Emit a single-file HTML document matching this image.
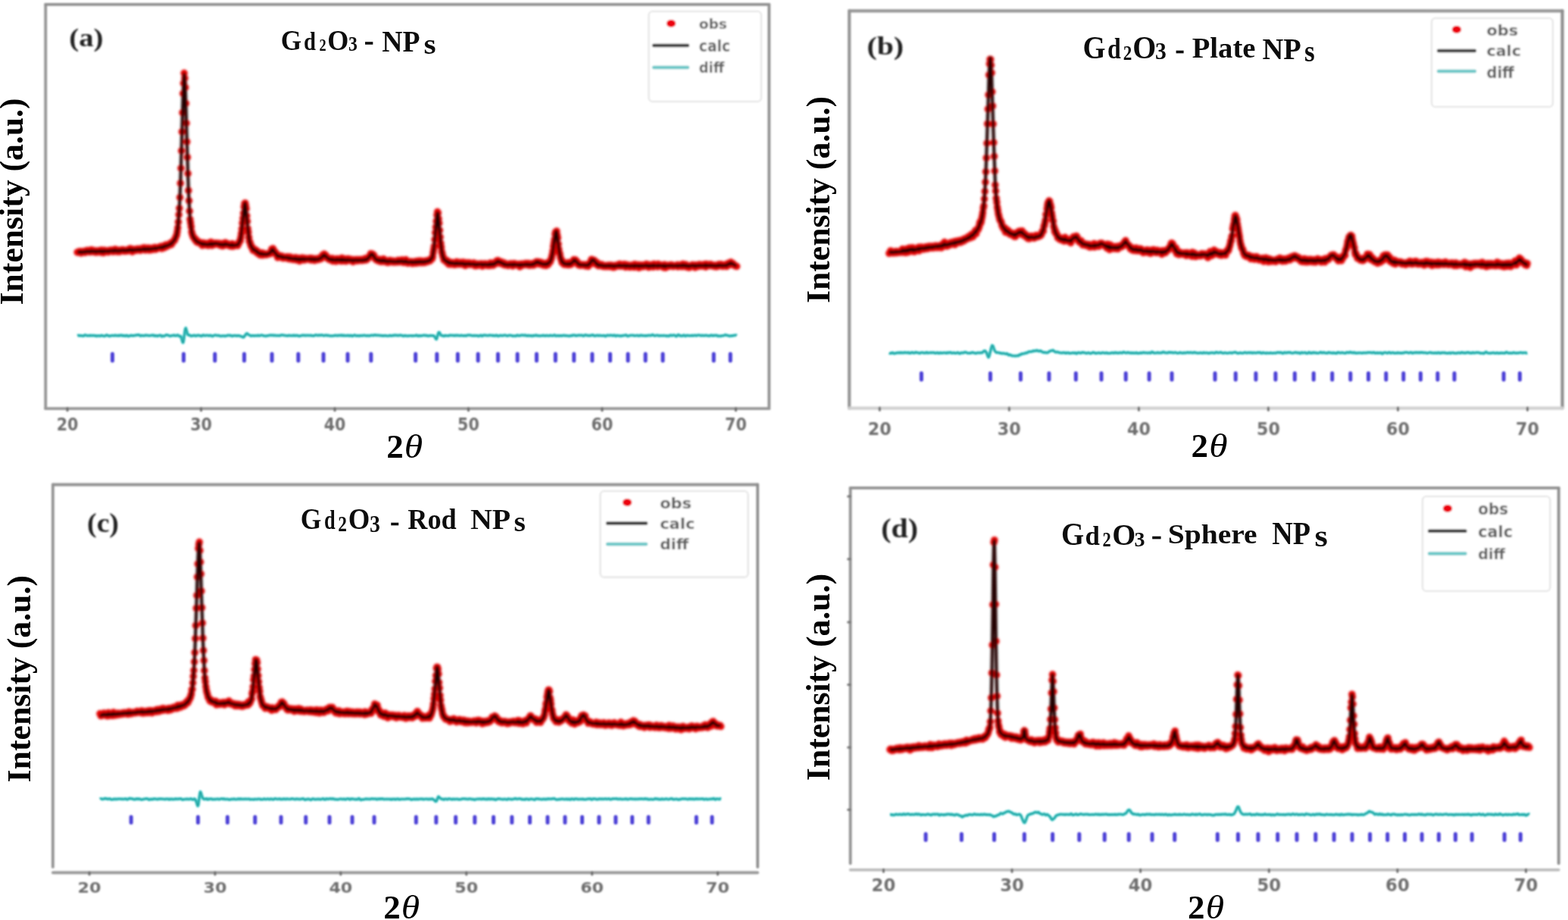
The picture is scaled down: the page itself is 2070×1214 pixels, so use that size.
<!DOCTYPE html>
<html><head><meta charset="utf-8"><title>Gd2O3 XRD Rietveld refinement</title>
<style>
html,body{margin:0;padding:0;background:#fff;}
body{width:2070px;height:1214px;overflow:hidden;}
svg{display:block;}
.tl{font-family:"DejaVu Sans","Liberation Sans",sans-serif;fill:#6e6e6e;font-weight:bold;}
.lg{font-family:"DejaVu Sans","Liberation Sans",sans-serif;fill:#606060;font-weight:bold;}
.ti{font-family:"Liberation Serif",serif;font-weight:bold;fill:#111;}
.lt{font-family:"Liberation Serif",serif;font-weight:bold;fill:#222;}
.yl{font-family:"Liberation Serif",serif;font-weight:bold;fill:#000;}
.xl{font-family:"Liberation Serif",serif;fill:#000;}
</style></head>
<body>
<svg width="2070" height="1214" viewBox="0 0 2070 1214">
<defs>
<filter id="bl" x="-2%" y="-2%" width="104%" height="104%"><feGaussianBlur stdDeviation="1.3"/></filter>
<filter id="bl2" x="-2%" y="-10%" width="104%" height="120%"><feGaussianBlur stdDeviation="0.75"/></filter>
<filter id="bl4" x="-2%" y="-5%" width="104%" height="110%"><feGaussianBlur stdDeviation="0.8"/></filter>
<filter id="bl3" x="-10%" y="-10%" width="120%" height="120%"><feGaussianBlur stdDeviation="0.9"/></filter>
</defs>
<rect width="2070" height="1214" fill="#fff"/>
<g id="pa" filter="url(#bl)"><g fill="none" stroke-width="3.8" stroke-linecap="round" stroke-linejoin="round">
<path d="M60.2 539.2V5.8" stroke="#959595"/>
<path d="M60.2 5.8H1015.3" stroke="#909090"/>
<path d="M1015.3 5.8V539.2" stroke="#929292"/>
<path d="M60.2 539.2H1015.3" stroke="#979797"/>
</g>
<path d="M89 538.7v3M265.5 538.7v3M442 538.7v3M618.4 538.7v3M794.9 538.7v3M971.4 538.7v3" stroke="#6e6e6e" stroke-width="3.2" stroke-linecap="round" fill="none"/>
<g class="tl" text-anchor="middle" font-size="23.8"><text transform="translate(89.0 567.9) scale(0.865 1)">20</text><text transform="translate(265.5 567.9) scale(0.865 1)">30</text><text transform="translate(442.0 567.9) scale(0.865 1)">40</text><text transform="translate(618.4 567.9) scale(0.865 1)">50</text><text transform="translate(794.9 567.9) scale(0.865 1)">60</text><text transform="translate(971.4 567.9) scale(0.865 1)">70</text></g>
<g filter="url(#bl4)">
<path d="M102.1 332.9h0M102.8 333.1h0M103.5 332.5h0M104.2 331.9h0M104.9 332.3h0M105.6 331.7h0M106.3 332.8h0M107 334h0M107.7 332.2h0M108.4 332h0M109.1 333.1h0M109.8 332.9h0M110.5 332.6h0M111.2 331.6h0M111.9 332.5h0M112.6 333.2h0M113.3 331.1h0M114 332h0M114.8 330.5h0M115.5 331.1h0M116.2 330.5h0M116.9 332.1h0M117.6 331h0M118.3 332.5h0M119 332.4h0M119.7 332h0M120.4 329.7h0M121.1 331.6h0M121.8 332.1h0M122.5 332.2h0M123.2 330.5h0M123.9 331.6h0M124.6 331h0M125.3 331.2h0M126 333h0M126.7 331.1h0M127.5 331.9h0M128.2 332.8h0M128.9 331.3h0M129.6 331.7h0M130.3 331.9h0M131 331.8h0M131.7 330.5h0M132.4 331.8h0M133.1 333h0M133.8 330.1h0M134.5 332.5h0M135.2 331.7h0M135.9 330.9h0M136.6 333.6h0M137.3 332.3h0M138 330.3h0M138.7 331.5h0M139.4 332h0M140.1 331.2h0M140.9 332.1h0M141.6 331.3h0M142.3 332h0M143 332.7h0M143.7 330.6h0M144.4 331.5h0M145.1 330.8h0M145.8 331.3h0M146.5 330h0M147.2 330.6h0M147.9 330.9h0M148.6 332h0M149.3 332.2h0M150 329.7h0M150.7 330.2h0M151.4 331.6h0M152.1 328.9h0M152.8 330.4h0M153.6 330.8h0M154.3 332.1h0M155 331.5h0M155.7 330.5h0M156.4 330.4h0M157.1 330.5h0M157.8 332.2h0M158.5 330.2h0M159.2 330.3h0M159.9 331h0M160.6 330.5h0M161.3 330.4h0M162 329.4h0M162.7 330.5h0M163.4 330h0M164.1 331.6h0M164.8 331.1h0M165.5 330.3h0M166.3 331h0M167 330h0M167.7 331.3h0M168.4 330.2h0M169.1 330.8h0M169.8 328.9h0M170.5 330.5h0M171.2 328.4h0M171.9 328h0M172.6 329.7h0M173.3 329.1h0M174 330.2h0M174.7 332.2h0M175.4 329.1h0M176.1 329.3h0M176.8 330.1h0M177.5 330.3h0M178.2 329.6h0M179 329.5h0M179.7 330.4h0M180.4 330.2h0M181.1 328.6h0M181.8 329.5h0M182.5 329.6h0M183.2 328.5h0M183.9 329.8h0M184.6 328.6h0M185.3 330.4h0M186 329.6h0M186.7 329.4h0M187.4 328.7h0M188.1 329.1h0M188.8 327.2h0M189.5 328h0M190.2 329.5h0M190.9 326.9h0M191.6 329.9h0M192.4 327.2h0M193.1 329.7h0M193.8 328h0M194.5 329.6h0M195.2 328.9h0M195.9 327.2h0M196.6 330h0M197.3 330.1h0M198 328.5h0M198.7 328.3h0M199.4 328.3h0M200.1 327.4h0M200.8 329.4h0M201.5 327.7h0M202.2 328.1h0M202.9 327.3h0M203.6 327.4h0M204.3 326.6h0M205.1 329.1h0M205.8 327.5h0M206.5 328.6h0M207.2 327.5h0M207.9 326.7h0M208.6 326.9h0M209.3 326.6h0M210 327h0M210.7 326.5h0M211.4 326.5h0M212.1 325.2h0M212.8 325.7h0M213.5 328h0M214.2 325.5h0M214.9 325h0M215.6 326.2h0M216.3 327.1h0M217 324h0M217.8 325.1h0M218.5 324.4h0M219.2 323.1h0M219.9 325.4h0M220.6 324.3h0M221.3 324.1h0M222 323h0M222.7 323.9h0M223.4 322.5h0M224.1 322.6h0M224.8 321.1h0M225.5 320.6h0M226.2 322.7h0M226.9 320.2h0M227.6 320.4h0M228.3 319.3h0M229 318.1h0M229.7 317.1h0M230.5 317.1h0M231.2 314.8h0M231.9 313.3h0M232.6 311.4h0M233.3 309.9h0M234 305.7h0M234.7 300.5h0M235.4 292.9h0M236.1 283.3h0M236.8 274.8h0M237.5 260.6h0M238.2 241.8h0M238.9 222h0M239.6 199h0M240.3 173.9h0M241 148.7h0M241.7 123.4h0M242.4 109.9h0M243.1 96.5h0M243.9 103.2h0M244.6 115.4h0M245.3 136.4h0M246 162.5h0M246.7 187.1h0M247.4 207.6h0M248.1 229h0M248.8 251.4h0M249.5 264.8h0M250.2 278.6h0M250.9 289.4h0M251.6 294.1h0M252.3 299.2h0M253 305.9h0M253.7 308.8h0M254.4 310.8h0M255.1 312.8h0M255.8 313.3h0M256.6 313.8h0M257.3 316.1h0M258 316.1h0M258.7 316.1h0M259.4 318.9h0M260.1 318.8h0M260.8 319.8h0M261.5 318.8h0M262.2 319.5h0M262.9 319.4h0M263.6 319.8h0M264.3 321.2h0M265 320.4h0M265.7 321.8h0M266.4 322h0M267.1 323.8h0M267.8 320.5h0M268.5 323h0M269.3 322.1h0M270 322.3h0M270.7 320.9h0M271.4 322h0M272.1 323.3h0M272.8 322.5h0M273.5 322.8h0M274.2 322.4h0M274.9 323.9h0M275.6 322.8h0M276.3 320.6h0M277 322.1h0M277.7 320.8h0M278.4 319.4h0M279.1 322.1h0M279.8 323.8h0M280.5 322.3h0M281.2 320.9h0M282 320.9h0M282.7 322.7h0M283.4 321.4h0M284.1 321.1h0M284.8 320.9h0M285.5 321.1h0M286.2 322.1h0M286.9 322.1h0M287.6 322h0M288.3 321h0M289 322.8h0M289.7 321.8h0M290.4 323.7h0M291.1 321.5h0M291.8 322.7h0M292.5 322.9h0M293.2 321.5h0M293.9 324.6h0M294.6 324.3h0M295.4 322.4h0M296.1 323.6h0M296.8 323.2h0M297.5 320.2h0M298.2 323h0M298.9 322.7h0M299.6 322.8h0M300.3 321.6h0M301 322.5h0M301.7 322.7h0M302.4 324.2h0M303.1 323.5h0M303.8 323.2h0M304.5 324.8h0M305.2 322.8h0M305.9 323.1h0M306.6 321.7h0M307.3 325.1h0M308.1 324.5h0M308.8 324.5h0M309.5 324.3h0M310.2 323.7h0M310.9 323.7h0M311.6 323.1h0M312.3 323h0M313 323h0M313.7 324.1h0M314.4 322.7h0M315.1 321.3h0M315.8 319.6h0M316.5 317.8h0M317.2 317.7h0M317.9 313.2h0M318.6 308.2h0M319.3 302.1h0M320 294.4h0M320.8 288h0M321.5 281.3h0M322.2 273h0M322.9 268.7h0M323.6 267.9h0M324.3 271.4h0M325 275.4h0M325.7 284.8h0M326.4 292.2h0M327.1 301.7h0M327.8 306.4h0M328.5 313.2h0M329.2 318.4h0M329.9 319.7h0M330.6 321.9h0M331.3 324.6h0M332 325.8h0M332.7 325.8h0M333.5 328.2h0M334.2 330.5h0M334.9 328.9h0M335.6 329.5h0M336.3 329.2h0M337 331.1h0M337.7 330h0M338.4 330.6h0M339.1 333.4h0M339.8 331.6h0M340.5 334h0M341.2 334.8h0M341.9 333.9h0M342.6 334.6h0M343.3 336.4h0M344 334.6h0M344.7 334.3h0M345.4 333.7h0M346.1 335.2h0M346.9 336.7h0M347.6 336.3h0M348.3 334.5h0M349 334.7h0M349.7 335.1h0M350.4 336h0M351.1 335.5h0M351.8 335.9h0M352.5 335.9h0M353.2 335.2h0M353.9 335.2h0M354.6 335.1h0M355.3 334.3h0M356 334.2h0M356.7 334.8h0M357.4 332.6h0M358.1 331.2h0M358.8 328.7h0M359.6 330.4h0M360.3 328.1h0M361 329.3h0M361.7 332.5h0M362.4 333.5h0M363.1 333.7h0M363.8 333.1h0M364.5 335.4h0M365.2 335.8h0M365.9 337.7h0M366.6 339.8h0M367.3 338.1h0M368 337.4h0M368.7 337.2h0M369.4 338.5h0M370.1 338.6h0M370.8 337.7h0M371.5 339.2h0M372.3 338h0M373 340.4h0M373.7 340.5h0M374.4 340.6h0M375.1 339.2h0M375.8 340.3h0M376.5 339.8h0M377.2 339.6h0M377.9 339.8h0M378.6 338.9h0M379.3 338.9h0M380 341.2h0M380.7 340.3h0M381.4 340.9h0M382.1 341.7h0M382.8 339.1h0M383.5 340.2h0M384.2 341.2h0M385 341.5h0M385.7 340.9h0M386.4 342.4h0M387.1 341.7h0M387.8 340.3h0M388.5 340.7h0M389.2 342.5h0M389.9 342.2h0M390.6 339.9h0M391.3 343.1h0M392 342.4h0M392.7 343.2h0M393.4 341.5h0M394.1 341.6h0M394.8 340.8h0M395.5 344.4h0M396.2 341.7h0M396.9 343.5h0M397.6 341.3h0M398.4 342.1h0M399.1 340.3h0M399.8 341.6h0M400.5 343h0M401.2 340.8h0M401.9 343.1h0M402.6 342.4h0M403.3 341h0M404 341.6h0M404.7 341.6h0M405.4 342.1h0M406.1 341.6h0M406.8 341.3h0M407.5 341.9h0M408.2 341.1h0M408.9 340.9h0M409.6 342.1h0M410.3 343.1h0M411.1 340.7h0M411.8 342.2h0M412.5 341.6h0M413.2 341.3h0M413.9 343.1h0M414.6 341.7h0M415.3 343.7h0M416 341.4h0M416.7 342.6h0M417.4 342h0M418.1 341.4h0M418.8 342.7h0M419.5 341.9h0M420.2 342.6h0M420.9 341.8h0M421.6 340.5h0M422.3 341.2h0M423 341h0M423.8 341.4h0M424.5 338.9h0M425.2 339h0M425.9 336.6h0M426.6 338.3h0M427.3 336.1h0M428 335.2h0M428.7 337.1h0M429.4 338.9h0M430.1 336.9h0M430.8 338.1h0M431.5 339.2h0M432.2 339.5h0M432.9 341.5h0M433.6 340.8h0M434.3 341.2h0M435 342.7h0M435.7 341.6h0M436.5 342.9h0M437.2 341.6h0M437.9 341.4h0M438.6 340.9h0M439.3 344.6h0M440 342.5h0M440.7 343.1h0M441.4 342.8h0M442.1 343.1h0M442.8 343h0M443.5 344.9h0M444.2 341.9h0M444.9 341.4h0M445.6 342h0M446.3 341.7h0M447 343.8h0M447.7 343.9h0M448.4 342.2h0M449.1 341.7h0M449.9 342.8h0M450.6 344.6h0M451.3 340.4h0M452 343.7h0M452.7 342.2h0M453.4 344.3h0M454.1 342.2h0M454.8 343h0M455.5 341.8h0M456.2 342.3h0M456.9 344.7h0M457.6 344.2h0M458.3 343h0M459 342.5h0M459.7 341.5h0M460.4 343h0M461.1 343.4h0M461.8 343.4h0M462.6 343.4h0M463.3 342.3h0M464 343.4h0M464.7 343.5h0M465.4 344.8h0M466.1 345.4h0M466.8 343.4h0M467.5 342.8h0M468.2 343.5h0M468.9 343h0M469.6 342.8h0M470.3 343.5h0M471 342.5h0M471.7 344.2h0M472.4 343.5h0M473.1 343.8h0M473.8 343.4h0M474.5 342.9h0M475.3 342.6h0M476 343.4h0M476.7 343h0M477.4 343.8h0M478.1 343.6h0M478.8 342.2h0M479.5 343.6h0M480.2 342.1h0M480.9 342.8h0M481.6 343h0M482.3 341.1h0M483 343.1h0M483.7 343h0M484.4 342.3h0M485.1 341.6h0M485.8 341h0M486.5 339.5h0M487.2 339.2h0M488 337.8h0M488.7 337.3h0M489.4 334.8h0M490.1 335.5h0M490.8 335.1h0M491.5 335.2h0M492.2 335.7h0M492.9 337.8h0M493.6 336.8h0M494.3 340.1h0M495 340.9h0M495.7 341.8h0M496.4 342.6h0M497.1 342.1h0M497.8 342.9h0M498.5 344h0M499.2 344h0M499.9 343.9h0M500.6 342.3h0M501.4 344.5h0M502.1 345.2h0M502.8 345.1h0M503.5 344.4h0M504.2 342.7h0M504.9 345.2h0M505.6 344.2h0M506.3 341.8h0M507 344.8h0M507.7 343h0M508.4 343.2h0M509.1 343.9h0M509.8 345.8h0M510.5 344.2h0M511.2 344.9h0M511.9 346.4h0M512.6 346.3h0M513.3 344.6h0M514.1 344.5h0M514.8 343.5h0M515.5 344.1h0M516.2 345.3h0M516.9 345.3h0M517.6 345h0M518.3 345.9h0M519 344.2h0M519.7 344.9h0M520.4 345.8h0M521.1 345.6h0M521.8 346.1h0M522.5 345.5h0M523.2 344.8h0M523.9 345.5h0M524.6 344.2h0M525.3 343.6h0M526 345.8h0M526.8 345.2h0M527.5 345.6h0M528.2 343.6h0M528.9 345h0M529.6 344.7h0M530.3 344.5h0M531 343.1h0M531.7 345.1h0M532.4 346.3h0M533.1 345.8h0M533.8 344.9h0M534.5 345.5h0M535.2 346.3h0M535.9 342.8h0M536.6 345.4h0M537.3 346.1h0M538 346.3h0M538.7 347.3h0M539.5 346.8h0M540.2 346h0M540.9 346h0M541.6 346.5h0M542.3 345.2h0M543 345.7h0M543.7 346.6h0M544.4 347.7h0M545.1 345.6h0M545.8 345.7h0M546.5 346h0M547.2 347.1h0M547.9 345.7h0M548.6 347.3h0M549.3 344.8h0M550 345.6h0M550.7 345.6h0M551.4 346.6h0M552.1 346.8h0M552.9 344.3h0M553.6 344.8h0M554.3 346.1h0M555 345.1h0M555.7 344.2h0M556.4 346.7h0M557.1 346.1h0M557.8 346.1h0M558.5 345.1h0M559.2 346.5h0M559.9 345.2h0M560.6 346.5h0M561.3 344.4h0M562 344.3h0M562.7 345.3h0M563.4 344.2h0M564.1 345.4h0M564.8 344.8h0M565.6 343.4h0M566.3 344.1h0M567 343.4h0M567.7 344.2h0M568.4 342h0M569.1 341.4h0M569.8 341.9h0M570.5 341.3h0M571.2 338.7h0M571.9 333.4h0M572.6 329.1h0M573.3 324.9h0M574 316.1h0M574.7 307h0M575.4 299.7h0M576.1 291.9h0M576.8 283.8h0M577.5 279.6h0M578.3 280.9h0M579 288.6h0M579.7 294.5h0M580.4 303.9h0M581.1 312.8h0M581.8 320.9h0M582.5 326.2h0M583.2 332.2h0M583.9 334.6h0M584.6 338h0M585.3 339.4h0M586 343.1h0M586.7 342.9h0M587.4 343h0M588.1 343.9h0M588.8 344.5h0M589.5 345.8h0M590.2 343.8h0M591 344.6h0M591.7 345.5h0M592.4 348.7h0M593.1 347.2h0M593.8 346.3h0M594.5 347.3h0M595.2 348.8h0M595.9 346.6h0M596.6 346.6h0M597.3 348.3h0M598 347.6h0M598.7 347.9h0M599.4 346.8h0M600.1 349.3h0M600.8 349.2h0M601.5 348.1h0M602.2 348.3h0M602.9 345.6h0M603.6 348.4h0M604.4 347.6h0M605.1 348.3h0M605.8 348.6h0M606.5 347.6h0M607.2 346.3h0M607.9 348.4h0M608.6 347.3h0M609.3 347.8h0M610 347.6h0M610.7 347.9h0M611.4 345.9h0M612.1 349.5h0M612.8 348.6h0M613.5 349.5h0M614.2 350.4h0M614.9 348.5h0M615.6 346.7h0M616.3 347.6h0M617.1 347.3h0M617.8 348.1h0M618.5 348.7h0M619.2 346.7h0M619.9 349h0M620.6 347.2h0M621.3 349h0M622 348.6h0M622.7 348.4h0M623.4 348.7h0M624.1 348.2h0M624.8 348.2h0M625.5 347.1h0M626.2 348.8h0M626.9 350.7h0M627.6 350.8h0M628.3 350.2h0M629 349.6h0M629.8 348.2h0M630.5 350.3h0M631.2 348.8h0M631.9 348.8h0M632.6 348.6h0M633.3 349h0M634 348.5h0M634.7 348.8h0M635.4 347.9h0M636.1 348.6h0M636.8 351.2h0M637.5 348.9h0M638.2 348.7h0M638.9 349.5h0M639.6 349.7h0M640.3 347.9h0M641 348.8h0M641.7 349.9h0M642.5 349.3h0M643.2 349.1h0M643.9 350.5h0M644.6 348.3h0M645.3 349.1h0M646 348.4h0M646.7 350.5h0M647.4 347h0M648.1 348.3h0M648.8 348.4h0M649.5 349.5h0M650.2 349.4h0M650.9 350.1h0M651.6 347h0M652.3 349.1h0M653 347.8h0M653.7 347.1h0M654.4 347.9h0M655.1 345.9h0M655.9 344.2h0M656.6 345.4h0M657.3 343.8h0M658 344.4h0M658.7 345.4h0M659.4 345.6h0M660.1 347.4h0M660.8 346.1h0M661.5 345.4h0M662.2 346.7h0M662.9 346.9h0M663.6 347h0M664.3 348.9h0M665 348.1h0M665.7 346.9h0M666.4 349.7h0M667.1 348.9h0M667.8 349.5h0M668.6 349.3h0M669.3 349.8h0M670 349.2h0M670.7 350.5h0M671.4 349.7h0M672.1 349.7h0M672.8 349.7h0M673.5 347.9h0M674.2 349.2h0M674.9 349.1h0M675.6 349.6h0M676.3 348h0M677 351h0M677.7 349.5h0M678.4 348.2h0M679.1 347.7h0M679.8 349.1h0M680.5 349.3h0M681.3 348.7h0M682 349.5h0M682.7 348.8h0M683.4 350h0M684.1 348.7h0M684.8 349.4h0M685.5 350.4h0M686.2 352h0M686.9 348.5h0M687.6 349h0M688.3 348.6h0M689 350.3h0M689.7 348.3h0M690.4 349h0M691.1 349.4h0M691.8 348.5h0M692.5 348.5h0M693.2 349h0M694 347.4h0M694.7 348h0M695.4 349h0M696.1 349.6h0M696.8 349.2h0M697.5 347.6h0M698.2 348.9h0M698.9 350.2h0M699.6 349.9h0M700.3 349.2h0M701 348.3h0M701.7 349.8h0M702.4 348.4h0M703.1 347.7h0M703.8 347.8h0M704.5 349.8h0M705.2 348.2h0M705.9 348.7h0M706.6 346.5h0M707.4 347.5h0M708.1 345.4h0M708.8 345.5h0M709.5 348h0M710.2 346.4h0M710.9 345.4h0M711.6 346.3h0M712.3 347.2h0M713 348.6h0M713.7 347.2h0M714.4 346.3h0M715.1 348h0M715.8 348.5h0M716.5 348.6h0M717.2 349.9h0M717.9 348.9h0M718.6 349.4h0M719.3 347.4h0M720.1 349.3h0M720.8 350.4h0M721.5 348.9h0M722.2 348.2h0M722.9 347.9h0M723.6 349.2h0M724.3 346.1h0M725 346.4h0M725.7 346.2h0M726.4 345.5h0M727.1 342.9h0M727.8 341.7h0M728.5 338.5h0M729.2 335.5h0M729.9 331h0M730.6 325h0M731.3 320.7h0M732 316.1h0M732.8 308.9h0M733.5 306.1h0M734.2 305.8h0M734.9 305.1h0M735.6 310.2h0M736.3 313.9h0M737 322h0M737.7 328.8h0M738.4 333.4h0M739.1 335.2h0M739.8 339.6h0M740.5 341.6h0M741.2 343.6h0M741.9 346.5h0M742.6 344.6h0M743.3 347.7h0M744 347.1h0M744.7 349h0M745.5 348.1h0M746.2 347.4h0M746.9 348.6h0M747.6 349.2h0M748.3 348.6h0M749 349.2h0M749.7 348.2h0M750.4 346.6h0M751.1 349.6h0M751.8 349.4h0M752.5 348.6h0M753.2 348.3h0M753.9 348.8h0M754.6 346.8h0M755.3 345.9h0M756 345.6h0M756.7 346.2h0M757.4 342.8h0M758.1 344.9h0M758.9 343h0M759.6 342.9h0M760.3 346h0M761 345.5h0M761.7 345.1h0M762.4 346.9h0M763.1 348.9h0M763.8 349.7h0M764.5 348.5h0M765.2 349.6h0M765.9 350.2h0M766.6 348.9h0M767.3 350.1h0M768 349.7h0M768.7 349.3h0M769.4 349.4h0M770.1 350h0M770.8 349.9h0M771.6 349.3h0M772.3 349.5h0M773 351h0M773.7 350h0M774.4 350.6h0M775.1 350.8h0M775.8 350.1h0M776.5 351.5h0M777.2 348h0M777.9 349.1h0M778.6 347.2h0M779.3 348.6h0M780 347.4h0M780.7 342.5h0M781.4 342.5h0M782.1 343.4h0M782.8 343.2h0M783.5 343.5h0M784.3 343.4h0M785 345.1h0M785.7 346.4h0M786.4 346.7h0M787.1 348.8h0M787.8 346.2h0M788.5 349.7h0M789.2 348.4h0M789.9 350.7h0M790.6 349.8h0M791.3 349.3h0M792 350.6h0M792.7 349.4h0M793.4 349.5h0M794.1 348.9h0M794.8 350.5h0M795.5 351.1h0M796.2 351.6h0M797 350.5h0M797.7 351.7h0M798.4 350.7h0M799.1 350.6h0M799.8 351.3h0M800.5 351.8h0M801.2 350.4h0M801.9 350.5h0M802.6 350.6h0M803.3 350.9h0M804 349.9h0M804.7 351.8h0M805.4 350.4h0M806.1 351.3h0M806.8 350h0M807.5 351.2h0M808.2 351.2h0M808.9 350.4h0M809.6 352.8h0M810.4 351.2h0M811.1 352.6h0M811.8 351.8h0M812.5 350.2h0M813.2 350.4h0M813.9 351.3h0M814.6 350.9h0M815.3 350.9h0M816 350.5h0M816.7 349h0M817.4 350.6h0M818.1 348.6h0M818.8 351.2h0M819.5 350.1h0M820.2 350.1h0M820.9 350.6h0M821.6 351.1h0M822.3 349.4h0M823.1 349.1h0M823.8 349.8h0M824.5 348.8h0M825.2 349.9h0M825.9 352.4h0M826.6 349.8h0M827.3 351.5h0M828 349.5h0M828.7 351.1h0M829.4 350.5h0M830.1 350.8h0M830.8 351.4h0M831.5 352.6h0M832.2 351h0M832.9 351h0M833.6 349.9h0M834.3 351.4h0M835 350.6h0M835.8 351.7h0M836.5 350.8h0M837.2 352.6h0M837.9 348.8h0M838.6 350.5h0M839.3 351.7h0M840 350.5h0M840.7 350h0M841.4 350.6h0M842.1 349.4h0M842.8 350.9h0M843.5 353.3h0M844.2 352h0M844.9 349.7h0M845.6 349.9h0M846.3 350.4h0M847 351.8h0M847.7 350h0M848.5 350.1h0M849.2 351.7h0M849.9 351.7h0M850.6 350.4h0M851.3 349.7h0M852 349.2h0M852.7 350.1h0M853.4 348.6h0M854.1 351.5h0M854.8 350.2h0M855.5 351.3h0M856.2 352.7h0M856.9 352h0M857.6 349.6h0M858.3 351.7h0M859 351.9h0M859.7 350h0M860.4 349.8h0M861.1 350.7h0M861.9 349.2h0M862.6 352.2h0M863.3 348.4h0M864 349.7h0M864.7 350.5h0M865.4 350.5h0M866.1 350.9h0M866.8 351h0M867.5 350.5h0M868.2 351.9h0M868.9 348.6h0M869.6 350.8h0M870.3 350h0M871 350.9h0M871.7 351h0M872.4 349.8h0M873.1 350.1h0M873.8 351.5h0M874.6 351.1h0M875.3 350.1h0M876 352.8h0M876.7 353h0M877.4 349.3h0M878.1 351h0M878.8 353.2h0M879.5 351.5h0M880.2 351h0M880.9 350.5h0M881.6 350.2h0M882.3 350.5h0M883 350.2h0M883.7 351.5h0M884.4 350.3h0M885.1 350.3h0M885.8 349.5h0M886.5 350.7h0M887.3 349.8h0M888 350.5h0M888.7 351.7h0M889.4 351.1h0M890.1 351.2h0M890.8 351.1h0M891.5 350.8h0M892.2 350.6h0M892.9 350.4h0M893.6 351.5h0M894.3 349.6h0M895 352h0M895.7 350.7h0M896.4 349.9h0M897.1 350.2h0M897.8 350h0M898.5 350.8h0M899.2 350h0M900 351.8h0M900.7 349.9h0M901.4 348.4h0M902.1 349.9h0M902.8 348.7h0M903.5 350.6h0M904.2 351.7h0M904.9 351.3h0M905.6 349.3h0M906.3 349.9h0M907 352.4h0M907.7 351h0M908.4 350.7h0M909.1 351.7h0M909.8 353.1h0M910.5 351.9h0M911.2 350.8h0M911.9 351h0M912.6 351.3h0M913.4 350h0M914.1 349.6h0M914.8 350.7h0M915.5 349.7h0M916.2 350.6h0M916.9 350.7h0M917.6 353h0M918.3 349.8h0M919 350.5h0M919.7 350.5h0M920.4 351.1h0M921.1 351.7h0M921.8 350.1h0M922.5 349.8h0M923.2 349h0M923.9 349.7h0M924.6 351.1h0M925.3 350.6h0M926.1 349.6h0M926.8 350.2h0M927.5 350.6h0M928.2 351.1h0M928.9 350h0M929.6 350.3h0M930.3 348.8h0M931 349.4h0M931.7 352.2h0M932.4 348.4h0M933.1 350.2h0M933.8 350.8h0M934.5 350.2h0M935.2 349.8h0M935.9 350.5h0M936.6 350.6h0M937.3 350.5h0M938 348.7h0M938.8 350.4h0M939.5 349.7h0M940.2 350h0M940.9 350.8h0M941.6 351.2h0M942.3 351.4h0M943 350h0M943.7 351.4h0M944.4 351.7h0M945.1 351.7h0M945.8 351.9h0M946.5 350.4h0M947.2 350.3h0M947.9 351.3h0M948.6 349.1h0M949.3 350.7h0M950 349.9h0M950.7 350.1h0M951.5 348.7h0M952.2 349.5h0M952.9 350.4h0M953.6 351.3h0M954.3 351.4h0M955 350.3h0M955.7 350.1h0M956.4 349.5h0M957.1 350.6h0M957.8 349.9h0M958.5 350.6h0M959.2 351.6h0M959.9 349.7h0M960.6 347.9h0M961.3 348.2h0M962 347.3h0M962.7 347.1h0M963.4 349.3h0M964.1 347.9h0M964.9 346h0M965.6 348.2h0M966.3 349.1h0M967 347.8h0M967.7 347.8h0M968.4 348.6h0M969.1 349.5h0M969.8 350.2h0M970.5 350.9h0M971.2 351.2h0M971.9 351.3h0M972.6 351.5h0" stroke="#e80000" stroke-width="9.5" stroke-linecap="round" fill="none"/>
<path d="M102.1 332.9 102.8 333 103.5 332.7 104.2 332.3 104.9 332.5 105.6 332.2 106.3 332.7 107 333.3 107.7 332.4 108.4 332.3 109.1 332.8 109.8 332.7 110.5 332.6 111.2 332 111.9 332.5 112.6 332.8 113.3 331.8 114 332.2 114.8 331.4 115.5 331.7 116.2 331.4 116.9 332.2 117.6 331.6 118.3 332.4 119 332.3 119.7 332.1 120.4 330.9 121.1 331.9 121.8 332.1 122.5 332.1 123.2 331.3 123.9 331.8 124.6 331.5 125.3 331.6 126 332.5 126.7 331.5 127.5 331.9 128.2 332.3 128.9 331.6 129.6 331.8 130.3 331.9 131 331.8 131.7 331.1 132.4 331.8 133.1 332.4 133.8 330.9 134.5 332.1 135.2 331.7 135.9 331.3 136.6 332.6 137.3 331.9 138 330.9 138.7 331.5 139.4 331.7 140.1 331.3 140.9 331.7 141.6 331.3 142.3 331.7 143 332 143.7 330.9 144.4 331.4 145.1 331 145.8 331.3 146.5 330.6 147.2 330.8 147.9 331 148.6 331.5 149.3 331.6 150 330.4 150.7 330.6 151.4 331.3 152.1 329.9 152.8 330.7 153.6 330.8 154.3 331.5 155 331.2 155.7 330.6 156.4 330.6 157.1 330.6 157.8 331.5 158.5 330.5 159.2 330.5 159.9 330.8 160.6 330.5 161.3 330.5 162 330 162.7 330.5 163.4 330.2 164.1 331 164.8 330.7 165.5 330.4 166.3 330.7 167 330.1 167.7 330.8 168.4 330.2 169.1 330.5 169.8 329.5 170.5 330.3 171.2 329.3 171.9 329.1 172.6 329.9 173.3 329.6 174 330.1 174.7 331.1 175.4 329.5 176.1 329.6 176.8 330 177.5 330.1 178.2 329.7 179 329.6 179.7 330.1 180.4 329.9 181.1 329.1 181.8 329.6 182.5 329.6 183.2 329 183.9 329.6 184.6 329 185.3 329.9 186 329.5 186.7 329.4 187.4 329 188.1 329.2 188.8 328.2 189.5 328.6 190.2 329.3 190.9 328 191.6 329.5 192.4 328.1 193.1 329.3 193.8 328.5 194.5 329.2 195.2 328.9 195.9 328 196.6 329.3 197.3 329.4 198 328.6 198.7 328.4 199.4 328.4 200.1 327.9 200.8 328.9 201.5 328 202.2 328.1 202.9 327.7 203.6 327.7 204.3 327.2 205.1 328.4 205.8 327.6 206.5 328.1 207.2 327.5 207.9 327 208.6 327.1 209.3 326.9 210 327 210.7 326.7 211.4 326.6 212.1 325.9 212.8 326.1 213.5 327.2 214.2 325.9 214.9 325.5 215.6 326 216.3 326.4 217 324.8 217.8 325.2 218.5 324.8 219.2 324 219.9 325 220.6 324.3 221.3 324.1 222 323.4 222.7 323.7 223.4 322.8 224.1 322.6 224.8 321.7 225.5 321.2 226.2 322 226.9 320.5 227.6 320.2 228.3 319.3 229 318.3 229.7 317.3 230.5 316.8 231.2 315 231.9 313.4 232.6 311.4 233.3 309.2 234 305.3 234.7 300.3 235.4 293.3 236.1 284.2 236.8 274.1 237.5 259.9 238.2 241.9 238.9 221.5 239.6 198.2 240.3 172.9 241 147.6 241.7 124 242.4 107.8 243.1 98.2 243.9 102 244.6 114.7 245.3 135.3 246 160.3 246.7 185.6 247.4 208.7 248.1 230.5 248.8 250.7 249.5 265.5 250.2 278.7 250.9 288.9 251.6 295.1 252.3 300.4 253 305.8 253.7 308.7 254.4 310.9 255.1 312.8 255.8 313.8 256.6 314.6 257.3 316.2 258 316.6 258.7 317 259.4 318.6 260.1 318.9 260.8 319.6 261.5 319.3 262.2 319.8 262.9 320 263.6 320.3 264.3 321.1 265 320.8 265.7 321.6 266.4 321.8 267.1 322.8 267.8 321.2 268.5 322.5 269.3 322.1 270 322.3 270.7 321.7 271.4 322.3 272.1 322.9 272.8 322.6 273.5 322.7 274.2 322.6 274.9 323.3 275.6 322.8 276.3 321.7 277 322.5 277.7 321.8 278.4 321.1 279.1 322.4 279.8 323.2 280.5 322.3 281.2 321.5 282 321.3 282.7 322.1 283.4 321.3 284.1 321.1 284.8 321 285.5 321.1 286.2 321.7 286.9 321.8 287.6 321.9 288.3 321.6 289 322.6 289.7 322.2 290.4 323.2 291.1 322.1 291.8 322.7 292.5 322.9 293.2 322.2 293.9 323.7 294.6 323.6 295.4 322.6 296.1 323.2 296.8 323 297.5 321.5 298.2 322.9 298.9 322.7 299.6 322.7 300.3 322.2 301 322.7 301.7 322.8 302.4 323.6 303.1 323.3 303.8 323.2 304.5 324.1 305.2 323.1 305.9 323.3 306.6 322.6 307.3 324.3 308.1 324.1 308.8 324 309.5 323.9 310.2 323.6 310.9 323.6 311.6 323.2 312.3 323.1 313 323 313.7 323.4 314.4 322.4 315.1 321.3 315.8 319.9 316.5 318.1 317.2 316.8 317.9 312.9 318.6 308.2 319.3 302.3 320 295.1 320.8 288 321.5 280.7 322.2 273.3 322.9 268.9 323.6 268.1 324.3 271.3 325 276.6 325.7 285 326.4 292.7 327.1 301.1 327.8 306.9 328.5 312.9 329.2 317.6 329.9 319.9 330.6 322.2 331.3 324.5 332 325.8 332.7 326.4 333.5 328 334.2 329.5 334.9 329 335.6 329.6 336.3 329.7 337 330.9 337.7 330.6 338.4 331.1 339.1 332.7 339.8 332.1 340.5 333.5 341.2 334.1 341.9 333.8 342.6 334.3 343.3 335.4 344 334.7 344.7 334.6 345.4 334.3 346.1 335.2 346.9 336 347.6 335.8 348.3 335 349 335.1 349.7 335.4 350.4 335.8 351.1 335.6 351.8 335.8 352.5 335.8 353.2 335.3 353.9 335.2 354.6 335 355.3 334.3 356 333.9 356.7 333.8 357.4 332.3 358.1 331.1 358.8 329.5 359.6 330.2 360.3 329.1 361 330 361.7 332.1 362.4 333.1 363.1 333.8 363.8 334 364.5 335.6 365.2 336.1 365.9 337.4 366.6 338.6 367.3 338 368 337.8 368.7 337.8 369.4 338.5 370.1 338.7 370.8 338.3 371.5 339.1 372.3 338.6 373 339.9 373.7 340 374.4 340.1 375.1 339.4 375.8 340 376.5 339.8 377.2 339.8 377.9 339.9 378.6 339.6 379.3 339.6 380 340.8 380.7 340.4 381.4 340.7 382.1 341.2 382.8 340 383.5 340.6 384.2 341.1 385 341.3 385.7 341.1 386.4 341.9 387.1 341.6 387.8 340.9 388.5 341.2 389.2 342.1 389.9 342 390.6 340.8 391.3 342.5 392 342.1 392.7 342.5 393.4 341.6 394.1 341.7 394.8 341.3 395.5 343.2 396.2 341.8 396.9 342.7 397.6 341.6 398.4 342 399.1 341.1 399.8 341.8 400.5 342.5 401.2 341.4 401.9 342.6 402.6 342.2 403.3 341.6 404 341.8 404.7 341.9 405.4 342.1 406.1 341.9 406.8 341.7 407.5 342 408.2 341.7 408.9 341.5 409.6 342.2 410.3 342.6 411.1 341.4 411.8 342.2 412.5 341.9 413.2 341.7 413.9 342.7 414.6 342 415.3 343 416 341.8 416.7 342.4 417.4 342.1 418.1 341.8 418.8 342.4 419.5 342 420.2 342.3 420.9 341.8 421.6 341.1 422.3 341.3 423 340.9 423.8 340.9 424.5 339.3 425.2 339.1 425.9 337.5 426.6 338 427.3 336.6 428 336.1 428.7 337.2 429.4 338.3 430.1 337.7 430.8 338.7 431.5 339.6 432.2 340 432.9 341.3 433.6 341.2 434.3 341.5 435 342.4 435.7 341.9 436.5 342.7 437.2 342.1 437.9 342 438.6 341.8 439.3 343.7 440 342.6 440.7 342.9 441.4 342.8 442.1 343 442.8 342.9 443.5 343.9 444.2 342.5 444.9 342.2 445.6 342.5 446.3 342.4 447 343.4 447.7 343.5 448.4 342.6 449.1 342.4 449.9 343 450.6 343.9 451.3 341.8 452 343.5 452.7 342.7 453.4 343.8 454.1 342.7 454.8 343.1 455.5 342.5 456.2 342.8 456.9 344 457.6 343.8 458.3 343.2 459 342.9 459.7 342.5 460.4 343.2 461.1 343.4 461.8 343.4 462.6 343.4 463.3 342.9 464 343.4 464.7 343.5 465.4 344.2 466.1 344.5 466.8 343.5 467.5 343.2 468.2 343.5 468.9 343.3 469.6 343.2 470.3 343.5 471 343.1 471.7 343.9 472.4 343.5 473.1 343.7 473.8 343.5 474.5 343.2 475.3 343.1 476 343.5 476.7 343.3 477.4 343.7 478.1 343.6 478.8 342.9 479.5 343.5 480.2 342.8 480.9 343.1 481.6 343.2 482.3 342.2 483 343.1 483.7 342.9 484.4 342.4 485.1 341.8 485.8 341.1 486.5 340 487.2 339.4 488 338.1 488.7 337.2 489.4 335.5 490.1 335.4 490.8 335.1 491.5 335.2 492.2 335.9 492.9 337.5 493.6 337.7 494.3 339.9 495 340.8 495.7 341.7 496.4 342.4 497.1 342.4 497.8 343 498.5 343.7 499.2 343.8 499.9 343.8 500.6 343.1 501.4 344.2 502.1 344.6 502.8 344.6 503.5 344.3 504.2 343.4 504.9 344.8 505.6 344.3 506.3 343.1 507 344.6 507.7 343.7 508.4 343.8 509.1 344.2 509.8 345.2 510.5 344.4 511.2 344.8 511.9 345.5 512.6 345.5 513.3 344.7 514.1 344.6 514.8 344.2 515.5 344.5 516.2 345.1 516.9 345.1 517.6 345 518.3 345.4 519 344.6 519.7 345 520.4 345.4 521.1 345.3 521.8 345.6 522.5 345.3 523.2 345 523.9 345.3 524.6 344.7 525.3 344.4 526 345.5 526.8 345.2 527.5 345.4 528.2 344.5 528.9 345.1 529.6 345 530.3 344.9 531 344.3 531.7 345.2 532.4 345.9 533.1 345.6 533.8 345.2 534.5 345.5 535.2 345.9 535.9 344.2 536.6 345.5 537.3 345.8 538 345.9 538.7 346.5 539.5 346.2 540.2 345.8 540.9 345.8 541.6 346.1 542.3 345.4 543 345.7 543.7 346.2 544.4 346.7 545.1 345.7 545.8 345.7 546.5 345.9 547.2 346.4 547.9 345.8 548.6 346.5 549.3 345.3 550 345.7 550.7 345.7 551.4 346.2 552.1 346.3 552.9 345 553.6 345.3 554.3 345.9 555 345.4 555.7 344.9 556.4 346.2 557.1 345.9 557.8 345.9 558.5 345.3 559.2 346 559.9 345.3 560.6 345.9 561.3 344.8 562 344.8 562.7 345.2 563.4 344.6 564.1 345.1 564.8 344.7 565.6 343.9 566.3 344.1 567 343.5 567.7 343.7 568.4 342.3 569.1 341.6 569.8 341.3 570.5 340.1 571.2 337.6 571.9 333.3 572.6 329 573.3 324 574 316.2 574.7 307.7 575.4 299.6 576.1 291.5 576.8 284.4 577.5 280.8 578.3 282 579 288.2 579.7 295.1 580.4 304 581.1 312.7 581.8 320.5 582.5 326.4 583.2 331.9 583.9 335.1 584.6 338.2 585.3 339.9 586 342.5 586.7 342.9 587.4 343.3 588.1 344.1 588.8 344.6 589.5 345.4 590.2 344.6 591 345.1 591.7 345.7 592.4 347.4 593.1 346.8 593.8 346.4 594.5 346.9 595.2 347.8 595.9 346.7 596.6 346.8 597.3 347.7 598 347.4 598.7 347.6 599.4 347.1 600.1 348.4 600.8 348.3 601.5 347.8 602.2 348 602.9 346.7 603.6 348 604.4 347.7 605.1 348.1 605.8 348.2 606.5 347.8 607.2 347.1 607.9 348.2 608.6 347.7 609.3 348 610 347.9 610.7 348 611.4 347.1 612.1 348.9 612.8 348.5 613.5 348.9 614.2 349.4 614.9 348.5 615.6 347.6 616.3 348.1 617.1 348 617.8 348.3 618.5 348.7 619.2 347.7 619.9 348.9 620.6 348 621.3 348.9 622 348.7 622.7 348.6 623.4 348.7 624.1 348.5 624.8 348.5 625.5 348 626.2 348.8 626.9 349.7 627.6 349.8 628.3 349.5 629 349.2 629.8 348.5 630.5 349.6 631.2 348.9 631.9 348.9 632.6 348.8 633.3 349 634 348.7 634.7 348.9 635.4 348.4 636.1 348.8 636.8 350.1 637.5 348.9 638.2 348.8 638.9 349.2 639.6 349.3 640.3 348.4 641 348.9 641.7 349.4 642.5 349.1 643.2 349 643.9 349.8 644.6 348.6 645.3 349 646 348.7 646.7 349.7 647.4 348 648.1 348.6 648.8 348.6 649.5 349.2 650.2 349.1 650.9 349.4 651.6 347.8 652.3 348.7 653 348 653.7 347.4 654.4 347.6 655.1 346.4 655.9 345.3 656.6 345.6 657.3 344.5 658 344.7 658.7 345.2 659.4 345.5 660.1 346.6 660.8 346.2 661.5 346.1 662.2 347 662.9 347.4 663.6 347.6 664.3 348.7 665 348.4 665.7 347.9 666.4 349.3 667.1 349 667.8 349.3 668.6 349.2 669.3 349.5 670 349.2 670.7 349.9 671.4 349.5 672.1 349.5 672.8 349.5 673.5 348.6 674.2 349.2 674.9 349.2 675.6 349.5 676.3 348.7 677 350.2 677.7 349.4 678.4 348.8 679.1 348.5 679.8 349.3 680.5 349.4 681.3 349.1 682 349.5 682.7 349.1 683.4 349.7 684.1 349.1 684.8 349.4 685.5 349.9 686.2 350.7 686.9 349 687.6 349.2 688.3 349 689 349.9 689.7 348.9 690.4 349.2 691.1 349.5 691.8 349 692.5 349 693.2 349.2 694 348.4 694.7 348.7 695.4 349.2 696.1 349.5 696.8 349.3 697.5 348.5 698.2 349.1 698.9 349.8 699.6 349.6 700.3 349.2 701 348.8 701.7 349.5 702.4 348.7 703.1 348.3 703.8 348.2 704.5 349.1 705.2 348.1 705.9 348.1 706.6 346.8 707.4 347 708.1 345.7 708.8 345.6 709.5 346.7 710.2 346 710.9 345.7 711.6 346.3 712.3 347 713 347.9 713.7 347.5 714.4 347.2 715.1 348.1 715.8 348.4 716.5 348.6 717.2 349.2 717.9 348.7 718.6 348.9 719.3 347.9 720.1 348.8 720.8 349.3 721.5 348.5 722.2 348.1 722.9 347.8 723.6 348.3 724.3 346.6 725 346.4 725.7 346 726.4 345.1 727.1 343.1 727.8 341.5 728.5 338.6 729.2 335.4 729.9 331.1 730.6 325.6 731.3 320.7 732 315.5 732.8 309.5 733.5 306.2 734.2 305.3 734.9 305.8 735.6 310.1 736.3 314.6 737 321.3 737.7 327.4 738.4 332.3 739.1 335.3 739.8 339.2 740.5 341.5 741.2 343.5 741.9 345.7 742.6 345.3 743.3 347.2 744 347.2 744.7 348.3 745.5 348 746.2 347.8 746.9 348.5 747.6 348.8 748.3 348.6 749 348.9 749.7 348.5 750.4 347.7 751.1 349.2 751.8 349 752.5 348.6 753.2 348.2 753.9 348.3 754.6 347 755.3 346.2 756 345.7 756.7 345.5 757.4 343.5 758.1 344.3 758.9 343.3 759.6 343.4 760.3 345.3 761 345.5 761.7 345.8 762.4 347.1 763.1 348.4 763.8 349.1 764.5 348.7 765.2 349.4 765.9 349.8 766.6 349.3 767.3 349.9 768 349.8 768.7 349.6 769.4 349.6 770.1 349.9 770.8 349.9 771.6 349.6 772.3 349.7 773 350.4 773.7 349.9 774.4 350.2 775.1 350.2 775.8 349.8 776.5 350.3 777.2 348.4 777.9 348.7 778.6 347.4 779.3 347.6 780 346.5 780.7 343.5 781.4 343 782.1 343 782.8 342.8 783.5 343.1 784.3 343.5 785 344.8 785.7 346.1 786.4 346.8 787.1 348.3 787.8 347.4 788.5 349.4 789.2 349 789.9 350.3 790.6 349.9 791.3 349.7 792 350.4 792.7 349.9 793.4 350 794.1 349.7 794.8 350.5 795.5 350.8 796.2 351.1 797 350.6 797.7 351.2 798.4 350.7 799.1 350.7 799.8 351 800.5 351.3 801.2 350.6 801.9 350.6 802.6 350.7 803.3 350.8 804 350.3 804.7 351.3 805.4 350.6 806.1 351 806.8 350.4 807.5 351 808.2 351 808.9 350.6 809.6 351.8 810.4 351 811.1 351.7 811.8 351.3 812.5 350.5 813.2 350.6 813.9 351.1 814.6 350.9 815.3 350.9 816 350.7 816.7 349.9 817.4 350.7 818.1 349.7 818.8 351 819.5 350.5 820.2 350.5 820.9 350.7 821.6 351 822.3 350.1 823.1 350 823.8 350.3 824.5 349.8 825.2 350.4 825.9 351.6 826.6 350.3 827.3 351.2 828 350.1 828.7 351 829.4 350.7 830.1 350.8 830.8 351.1 831.5 351.7 832.2 350.9 832.9 350.9 833.6 350.3 834.3 351.1 835 350.7 835.8 351.2 836.5 350.8 837.2 351.7 837.9 349.8 838.6 350.7 839.3 351.3 840 350.6 840.7 350.4 841.4 350.7 842.1 350.1 842.8 350.9 843.5 352 844.2 351.4 844.9 350.3 845.6 350.4 846.3 350.6 847 351.3 847.7 350.4 848.5 350.5 849.2 351.2 849.9 351.2 850.6 350.6 851.3 350.2 852 350 852.7 350.4 853.4 349.7 854.1 351.2 854.8 350.5 855.5 351 856.2 351.7 856.9 351.4 857.6 350.2 858.3 351.2 859 351.4 859.7 350.4 860.4 350.3 861.1 350.7 861.9 350 862.6 351.5 863.3 349.6 864 350.2 864.7 350.6 865.4 350.7 866.1 350.8 866.8 350.9 867.5 350.7 868.2 351.3 868.9 349.7 869.6 350.8 870.3 350.4 871 350.8 871.7 350.9 872.4 350.3 873.1 350.4 873.8 351.1 874.6 350.9 875.3 350.4 876 351.8 876.7 351.9 877.4 350 878.1 350.9 878.8 352 879.5 351.1 880.2 350.8 880.9 350.6 881.6 350.5 882.3 350.6 883 350.4 883.7 351.1 884.4 350.5 885.1 350.5 885.8 350.1 886.5 350.7 887.3 350.3 888 350.6 888.7 351.2 889.4 350.9 890.1 351 890.8 350.9 891.5 350.7 892.2 350.6 892.9 350.5 893.6 351.1 894.3 350.2 895 351.4 895.7 350.7 896.4 350.3 897.1 350.4 897.8 350.3 898.5 350.8 899.2 350.3 900 351.2 900.7 350.3 901.4 349.5 902.1 350.3 902.8 349.7 903.5 350.6 904.2 351.2 904.9 351 905.6 350 906.3 350.3 907 351.5 907.7 350.8 908.4 350.7 909.1 351.2 909.8 351.9 910.5 351.3 911.2 350.7 911.9 350.8 912.6 350.9 913.4 350.3 914.1 350.1 914.8 350.7 915.5 350.2 916.2 350.6 916.9 350.7 917.6 351.8 918.3 350.2 919 350.6 919.7 350.5 920.4 350.8 921.1 351.1 921.8 350.4 922.5 350.2 923.2 349.8 923.9 350.1 924.6 350.9 925.3 350.6 926.1 350.1 926.8 350.4 927.5 350.6 928.2 350.8 928.9 350.3 929.6 350.5 930.3 349.7 931 350 931.7 351.4 932.4 349.5 933.1 350.4 933.8 350.7 934.5 350.4 935.2 350.2 935.9 350.5 936.6 350.6 937.3 350.5 938 349.6 938.8 350.5 939.5 350.1 940.2 350.3 940.9 350.7 941.6 350.9 942.3 351 943 350.3 943.7 351 944.4 351.1 945.1 351.1 945.8 351.2 946.5 350.4 947.2 350.4 947.9 350.9 948.6 349.8 949.3 350.6 950 350.2 950.7 350.3 951.5 349.6 952.2 350 952.9 350.4 953.6 350.8 954.3 350.9 955 350.3 955.7 350.2 956.4 349.9 957.1 350.4 957.8 350 958.5 350.3 959.2 350.8 959.9 349.7 960.6 348.7 961.3 348.7 962 348 962.7 347.7 963.4 348.6 964.1 347.8 964.9 346.7 965.6 347.9 966.3 348.4 967 347.9 967.7 348.2 968.4 348.7 969.1 349.4 969.8 349.9 970.5 350.4 971.2 350.5 971.9 350.7 972.6 350.8" stroke="#200000" stroke-width="4.2" stroke-linejoin="round" fill="none"/>
</g>
<path d="M102.1 442.8 102.8 442.6 103.5 442.5 104.2 442.8 104.9 443 105.6 442.8 106.3 442.7 107 442.8 107.7 443 108.4 443.3 109.1 443.2 109.8 443.2 110.5 443.3 111.2 442.6 111.9 442.2 112.6 442.1 113.3 442.4 114 442.6 114.8 442.9 115.5 443 116.2 442.7 116.9 442.9 117.6 442.9 118.3 442.9 119 442.5 119.7 442.7 120.4 442.8 121.1 442.9 121.8 442.7 122.5 442.7 123.2 442.6 123.9 442.8 124.6 442.9 125.3 442.9 126 442.7 126.7 443.4 127.5 443.2 128.2 443.5 128.9 442.9 129.6 443 130.3 442.9 131 443.1 131.7 443.4 132.4 443.3 133.1 443 133.8 442.6 134.5 442.7 135.2 442.9 135.9 443.3 136.6 443.3 137.3 443.4 138 443.4 138.7 443.3 139.4 442.8 140.1 442.3 140.9 442 141.6 442.6 142.3 442.7 143 443.2 143.7 443 144.4 443.5 145.1 443.5 145.8 443.3 146.5 442.9 147.2 442.8 147.9 442.8 148.6 442.7 149.3 442.7 150 443 150.7 442.8 151.4 442.8 152.1 442.3 152.8 442.7 153.6 442.8 154.3 443 155 443.1 155.7 442.6 156.4 442.9 157.1 442.6 157.8 443 158.5 442.8 159.2 442.4 159.9 442.2 160.6 442.2 161.3 443 162 443.2 162.7 443.2 163.4 442.6 164.1 442.9 164.8 443.2 165.5 443.5 166.3 443.1 167 442.4 167.7 442.6 168.4 443.2 169.1 443.7 169.8 443.7 170.5 443.3 171.2 443 171.9 443 172.6 442.6 173.3 442.8 174 442.6 174.7 443 175.4 443.1 176.1 443.1 176.8 442.8 177.5 442.5 178.2 442.4 179 442.4 179.7 442.4 180.4 442.1 181.1 442.2 181.8 442.1 182.5 442.1 183.2 441.8 183.9 442.2 184.6 442.6 185.3 443.3 186 443 186.7 442.8 187.4 442.5 188.1 442.8 188.8 442.9 189.5 443 190.2 443 190.9 442.8 191.6 442.2 192.4 442.4 193.1 442.7 193.8 442.7 194.5 442.4 195.2 442.4 195.9 442.8 196.6 442.9 197.3 442.9 198 442.9 198.7 442.7 199.4 442.5 200.1 442.5 200.8 442.7 201.5 442.3 202.2 442.2 202.9 442.5 203.6 443.2 204.3 442.8 205.1 443.2 205.8 442.7 206.5 443.3 207.2 443 207.9 443.4 208.6 443.3 209.3 442.8 210 442.7 210.7 442.5 211.4 442.3 212.1 442.7 212.8 443 213.5 443.9 214.2 443.1 214.9 443.3 215.6 443.2 216.3 443.7 217 443.4 217.8 442.9 218.5 442.5 219.2 442.1 219.9 442 220.6 442 221.3 442.3 222 442.6 222.7 442.5 223.4 443.1 224.1 443.4 224.8 443.4 225.5 443.3 226.2 442.9 226.9 442.8 227.6 442.8 228.3 442.7 229 442.7 229.7 442.2 230.5 442.5 231.2 442.9 231.9 443 232.6 443 233.3 442.5 234 442.4 234.7 442.1 235.4 442.6 236.1 443.3 236.8 443.7 237.5 443.4 238.2 443.5 238.9 444.3 239.6 446.4 240.3 449 241 451.5 241.7 452.2 242.4 449.7 243.1 444.3 243.9 437.8 244.6 433.9 245.3 432.9 246 435.1 246.7 437.6 247.4 440.2 248.1 441.7 248.8 442.3 249.5 442.3 250.2 442.1 250.9 442.6 251.6 443.1 252.3 443.5 253 443.2 253.7 443.2 254.4 442.7 255.1 443.1 255.8 442.7 256.6 442.4 257.3 442.6 258 443.1 258.7 443.4 259.4 442.9 260.1 442.6 260.8 442.8 261.5 442.5 262.2 442.4 262.9 442.5 263.6 442.8 264.3 443.2 265 443.1 265.7 443.5 266.4 443.1 267.1 443.2 267.8 442.3 268.5 442.2 269.3 442.4 270 442.6 270.7 443 271.4 442.7 272.1 442.7 272.8 442.5 273.5 442.4 274.2 442.5 274.9 442.8 275.6 443 276.3 443 277 442.6 277.7 442.6 278.4 442.7 279.1 443 279.8 443.5 280.5 443.7 281.2 443.5 282 442.9 282.7 442.6 283.4 442.4 284.1 442.2 284.8 442.3 285.5 442.4 286.2 442.8 286.9 442.8 287.6 442.8 288.3 442.4 289 442.8 289.7 443 290.4 443.6 291.1 443.4 291.8 443.6 292.5 443.2 293.2 443.2 293.9 443.4 294.6 443.2 295.4 443.3 296.1 443.1 296.8 443.5 297.5 443.4 298.2 443.3 298.9 443.1 299.6 443 300.3 442.6 301 442.6 301.7 442.4 302.4 442.5 303.1 442.7 303.8 442.9 304.5 442.6 305.2 443 305.9 443.2 306.6 443.6 307.3 443.1 308.1 442.9 308.8 442.8 309.5 443 310.2 442.7 310.9 442.7 311.6 443.2 312.3 443.2 313 443.2 313.7 442.7 314.4 443.1 315.1 443.2 315.8 442.9 316.5 443.1 317.2 443.3 317.9 443.8 318.6 444 319.3 444.2 320 444.5 320.8 445.1 321.5 444.8 322.2 444.6 322.9 443.2 323.6 442.6 324.3 441.5 325 440.6 325.7 440.2 326.4 440.1 327.1 440.8 327.8 441.5 328.5 441.9 329.2 442.1 329.9 442.4 330.6 442.8 331.3 443.4 332 443.2 332.7 443 333.5 442.7 334.2 442.9 334.9 443.2 335.6 443.2 336.3 443 337 442.8 337.7 442.7 338.4 443.1 339.1 443.1 339.8 443 340.5 442.5 341.2 442.6 341.9 443 342.6 443.1 343.3 442.8 344 442.6 344.7 442.3 345.4 442.2 346.1 442.4 346.9 442.6 347.6 442.9 348.3 443 349 443.3 349.7 443.2 350.4 443.4 351.1 443.4 351.8 443.3 352.5 443 353.2 443 353.9 442.9 354.6 442.7 355.3 442.6 356 442.4 356.7 442.3 357.4 442.3 358.1 442.6 358.8 442.3 359.6 442.3 360.3 442.4 361 442.7 361.7 442.6 362.4 442.7 363.1 442.4 363.8 442.6 364.5 442.8 365.2 442.9 365.9 442.8 366.6 442.8 367.3 442.8 368 442.9 368.7 442.7 369.4 443 370.1 442.6 370.8 442.4 371.5 442 372.3 442.2 373 442.2 373.7 442.2 374.4 442.5 375.1 442.5 375.8 442.7 376.5 442.7 377.2 442.8 377.9 442.8 378.6 443 379.3 443.2 380 443.1 380.7 442.7 381.4 442.5 382.1 442.7 382.8 442.8 383.5 442.9 384.2 442.8 385 442.8 385.7 442.9 386.4 443 387.1 442.5 387.8 442.5 388.5 442.3 389.2 443 389.9 443 390.6 443 391.3 442.5 392 442.5 392.7 442.8 393.4 442.9 394.1 443.4 394.8 443.3 395.5 443.5 396.2 443.2 396.9 443.3 397.6 442.7 398.4 442.6 399.1 442.5 399.8 442.7 400.5 442.3 401.2 442.5 401.9 442.5 402.6 442.8 403.3 442.6 404 442.6 404.7 442.8 405.4 442.6 406.1 442.4 406.8 442.4 407.5 442.7 408.2 442.8 408.9 442.6 409.6 442.4 410.3 442.5 411.1 442.9 411.8 442.8 412.5 443.1 413.2 443.1 413.9 443.2 414.6 443 415.3 442.6 416 442.3 416.7 441.9 417.4 442.1 418.1 442.4 418.8 442.5 419.5 442.7 420.2 442.3 420.9 442.5 421.6 442.2 422.3 442.5 423 442.3 423.8 442.4 424.5 442.2 425.2 442.1 425.9 442.3 426.6 442.7 427.3 443 428 442.8 428.7 442.6 429.4 442.3 430.1 442.5 430.8 442.3 431.5 442.7 432.2 442.5 432.9 442.8 433.6 442.6 434.3 442.9 435 443.1 435.7 443.3 436.5 443.1 437.2 443.3 437.9 443.3 438.6 443.3 439.3 443.3 440 443.1 440.7 443.1 441.4 442.7 442.1 442.6 442.8 442.7 443.5 442.6 444.2 442.8 444.9 442.7 445.6 443.1 446.3 442.5 447 442.4 447.7 442.5 448.4 442.8 449.1 442.8 449.9 442.2 450.6 442.5 451.3 442.3 452 443 452.7 442.5 453.4 442.7 454.1 442.5 454.8 443.1 455.5 442.7 456.2 442.7 456.9 442.9 457.6 443 458.3 442.9 459 442.4 459.7 442.4 460.4 442.8 461.1 443.2 461.8 443.2 462.6 442.7 463.3 442.5 464 442.9 464.7 443.4 465.4 443.4 466.1 443 466.8 442.8 467.5 442.3 468.2 442.2 468.9 442.4 469.6 442.6 470.3 443.3 471 443.1 471.7 443.1 472.4 442.8 473.1 443.2 473.8 443.4 474.5 443 475.3 442.7 476 442.9 476.7 443.1 477.4 442.8 478.1 442.7 478.8 442.9 479.5 442.8 480.2 442.5 480.9 442.4 481.6 442.6 482.3 442.7 483 443.1 483.7 443.2 484.4 442.9 485.1 442.7 485.8 442.7 486.5 443.2 487.2 443.3 488 443 488.7 442.7 489.4 442.7 490.1 442.6 490.8 442.3 491.5 442.4 492.2 442.4 492.9 442.8 493.6 442.3 494.3 442.2 495 442 495.7 442.2 496.4 442.6 497.1 442.3 497.8 442.6 498.5 442.3 499.2 442.5 499.9 442.5 500.6 442.7 501.4 442.6 502.1 442.8 502.8 442.7 503.5 443 504.2 442.7 504.9 443.2 505.6 443 506.3 443.2 507 442.8 507.7 443.1 508.4 442.7 509.1 442.8 509.8 443 510.5 443.2 511.2 443.3 511.9 443.3 512.6 443.3 513.3 443.2 514.1 442.9 514.8 442.5 515.5 442.9 516.2 443 516.9 443.2 517.6 442.8 518.3 442.6 519 442.7 519.7 442.6 520.4 442.7 521.1 442.3 521.8 442.4 522.5 442.2 523.2 442.6 523.9 442.7 524.6 442.6 525.3 442.7 526 442.6 526.8 442.8 527.5 442.4 528.2 442.2 528.9 442.4 529.6 442.4 530.3 442.7 531 442.8 531.7 443.2 532.4 443.5 533.1 443.3 533.8 442.8 534.5 442.7 535.2 442.8 535.9 443.3 536.6 443.1 537.3 443.3 538 443.2 538.7 443.4 539.5 443.2 540.2 443.1 540.9 443 541.6 443 542.3 443.1 543 442.9 543.7 443.2 544.4 443 545.1 443.3 545.8 443 546.5 442.9 547.2 443.1 547.9 443.1 548.6 442.9 549.3 442.3 550 442.3 550.7 443 551.4 443.2 552.1 443.5 552.9 442.8 553.6 442.9 554.3 442.8 555 443.4 555.7 443.2 556.4 443.1 557.1 442.8 557.8 442.8 558.5 442.7 559.2 442.5 559.9 442.3 560.6 442.4 561.3 442.6 562 442.9 562.7 442.6 563.4 442.7 564.1 442.9 564.8 443.4 565.6 443.3 566.3 443.2 567 443.1 567.7 442.8 568.4 442.9 569.1 442.7 569.8 442.8 570.5 443 571.2 443.1 571.9 443.1 572.6 443.1 573.3 443.7 574 444.5 574.7 445.9 575.4 447.2 576.1 447.7 576.8 446.4 577.5 443.4 578.3 440.6 579 438.7 579.7 438.5 580.4 439.1 581.1 440.7 581.8 442 582.5 442.7 583.2 442.7 583.9 442.8 584.6 443.2 585.3 443.1 586 443.5 586.7 443 587.4 443.2 588.1 442.6 588.8 443.1 589.5 442.9 590.2 443.1 591 442.9 591.7 443.2 592.4 443 593.1 442.8 593.8 442.2 594.5 442.5 595.2 442.5 595.9 442.7 596.6 442.6 597.3 442.5 598 442.4 598.7 442.7 599.4 443.1 600.1 442.8 600.8 442.7 601.5 442.3 602.2 442.8 602.9 442.6 603.6 442.7 604.4 442.4 605.1 442.7 605.8 442.8 606.5 442.9 607.2 442.9 607.9 442.8 608.6 442.5 609.3 442.6 610 442.7 610.7 442.9 611.4 443 612.1 443.2 612.8 443 613.5 442.7 614.2 442.7 614.9 443.2 615.6 443.2 616.3 442.7 617.1 442.3 617.8 442.3 618.5 442.3 619.2 442.4 619.9 442.2 620.6 442.3 621.3 442.5 622 442.6 622.7 442.8 623.4 442.8 624.1 443.1 624.8 443 625.5 442.9 626.2 442.6 626.9 443 627.6 443.1 628.3 443.1 629 442.7 629.8 442.7 630.5 443 631.2 443.4 631.9 443.5 632.6 443.3 633.3 442.9 634 442.4 634.7 442.6 635.4 442.6 636.1 443.4 636.8 443.4 637.5 442.9 638.2 442.3 638.9 442.3 639.6 442.4 640.3 442.4 641 442.3 641.7 442.6 642.5 442.8 643.2 442.7 643.9 442.7 644.6 442.7 645.3 442.7 646 442.3 646.7 442.3 647.4 442.5 648.1 442.4 648.8 442.6 649.5 442.6 650.2 442.9 650.9 442.9 651.6 442.5 652.3 442.9 653 443.1 653.7 443.3 654.4 442.7 655.1 442.3 655.9 442.4 656.6 443.1 657.3 443.4 658 443.5 658.7 443 659.4 442.9 660.1 442.6 660.8 442.8 661.5 442.6 662.2 442.8 662.9 442.9 663.6 443 664.3 442.6 665 442.4 665.7 442.5 666.4 442.3 667.1 442.4 667.8 442.5 668.6 442.9 669.3 443.2 670 443.2 670.7 443.1 671.4 442.7 672.1 442.5 672.8 442.5 673.5 442.5 674.2 442.6 674.9 442.7 675.6 442.9 676.3 443.2 677 443.5 677.7 443.2 678.4 443.2 679.1 443.3 679.8 443.2 680.5 443.5 681.3 443 682 442.9 682.7 442.3 683.4 442.4 684.1 442.6 684.8 443.1 685.5 443.1 686.2 443 686.9 442.6 687.6 442.6 688.3 442.3 689 442.4 689.7 442.2 690.4 442.5 691.1 442.5 691.8 442.7 692.5 442.5 693.2 442.2 694 442.7 694.7 442.6 695.4 443.2 696.1 443 696.8 443.2 697.5 442.6 698.2 442.7 698.9 443.1 699.6 443.2 700.3 442.9 701 442.8 701.7 443 702.4 443.5 703.1 443.2 703.8 443.2 704.5 442.5 705.2 443.1 705.9 442.8 706.6 442.6 707.4 442.2 708.1 442.3 708.8 443.1 709.5 443.1 710.2 443.1 710.9 442.8 711.6 443.2 712.3 443.2 713 443.3 713.7 443.1 714.4 443.1 715.1 442.9 715.8 442.8 716.5 442.6 717.2 442.9 717.9 442.6 718.6 443 719.3 442.9 720.1 443.2 720.8 442.8 721.5 442.6 722.2 442.7 722.9 443 723.6 443.1 724.3 443.2 725 442.9 725.7 442.9 726.4 442.4 727.1 442.7 727.8 442.7 728.5 442.9 729.2 443 729.9 443.1 730.6 442.6 731.3 442.4 732 442 732.8 442.7 733.5 443.2 734.2 443.4 734.9 443.2 735.6 442.7 736.3 442.8 737 442.9 737.7 443.3 738.4 443 739.1 443.2 739.8 442.7 740.5 443 741.2 442.9 741.9 443.2 742.6 443 743.3 442.6 744 442.4 744.7 442.6 745.5 442.9 746.2 442.8 746.9 442.9 747.6 442.8 748.3 443.1 749 443.1 749.7 443.3 750.4 443.3 751.1 443.4 751.8 443.2 752.5 443.4 753.2 442.9 753.9 443 754.6 442.6 755.3 442.9 756 442.5 756.7 442.2 757.4 442.2 758.1 442.2 758.9 442.7 759.6 442.5 760.3 442.9 761 442.8 761.7 443.1 762.4 442.7 763.1 442.5 763.8 442.3 764.5 442.3 765.2 442.5 765.9 442.7 766.6 442.5 767.3 442.4 768 442.3 768.7 442.6 769.4 443 770.1 443.3 770.8 443.2 771.6 442.5 772.3 442.1 773 441.9 773.7 442.3 774.4 442.5 775.1 442.8 775.8 442.5 776.5 442.7 777.2 443 777.9 443 778.6 442.9 779.3 442.4 780 442.7 780.7 442.6 781.4 442.5 782.1 442.1 782.8 442 783.5 442.3 784.3 443.1 785 443.2 785.7 443.3 786.4 442.8 787.1 442.8 787.8 442.6 788.5 442.5 789.2 442.6 789.9 443 790.6 442.7 791.3 442.9 792 442.6 792.7 442.8 793.4 442.8 794.1 442.9 794.8 443 795.5 443.1 796.2 443.1 797 442.6 797.7 442.8 798.4 443.1 799.1 443.7 799.8 443.7 800.5 442.9 801.2 442.7 801.9 442.3 802.6 442.5 803.3 442.7 804 442.7 804.7 442.8 805.4 442.2 806.1 442.4 806.8 442.4 807.5 442.6 808.2 442.5 808.9 442.9 809.6 442.8 810.4 442.7 811.1 442.2 811.8 442.7 812.5 443.3 813.2 443.5 813.9 443.1 814.6 442.6 815.3 442.8 816 442.7 816.7 443.1 817.4 443.2 818.1 443.4 818.8 443.2 819.5 443.1 820.2 443.4 820.9 443.1 821.6 443.1 822.3 442.8 823.1 442.8 823.8 442.6 824.5 442.6 825.2 442.6 825.9 442.2 826.6 442.1 827.3 442.6 828 443.3 828.7 443.6 829.4 443.6 830.1 443.1 830.8 442.9 831.5 442.7 832.2 442.6 832.9 442.4 833.6 442.4 834.3 442.6 835 442.5 835.8 442.6 836.5 442.6 837.2 443 837.9 443 838.6 442.9 839.3 442.8 840 442.7 840.7 442.7 841.4 442.6 842.1 442.7 842.8 443 843.5 443.3 844.2 442.8 844.9 442.6 845.6 442.3 846.3 442.7 847 442.7 847.7 442.6 848.5 442.8 849.2 442.9 849.9 442.8 850.6 442.9 851.3 443 852 443.2 852.7 443.1 853.4 442.7 854.1 443 854.8 442.8 855.5 442.8 856.2 442.5 856.9 442.4 857.6 442.6 858.3 442.7 859 442.9 859.7 442.7 860.4 442 861.1 442 861.9 441.7 862.6 442.5 863.3 442.7 864 443.1 864.7 443 865.4 442.7 866.1 442.7 866.8 442.6 867.5 442.5 868.2 442.4 868.9 442.7 869.6 442.8 870.3 443.2 871 442.9 871.7 443 872.4 442.7 873.1 442.9 873.8 443 874.6 443.1 875.3 442.9 876 442.6 876.7 442.8 877.4 442.9 878.1 443 878.8 443 879.5 443.3 880.2 443.4 880.9 443 881.6 443.3 882.3 443.3 883 443.5 883.7 443 884.4 442.6 885.1 442.2 885.8 442.3 886.5 442.7 887.3 442.9 888 442.6 888.7 442.2 889.4 442.2 890.1 442.2 890.8 442.6 891.5 442.9 892.2 443.8 892.9 443.8 893.6 443.4 894.3 442.7 895 441.8 895.7 441.8 896.4 442 897.1 442.8 897.8 443.1 898.5 443.2 899.2 443.1 900 443.1 900.7 443.3 901.4 443 902.1 442.8 902.8 442.2 903.5 442.8 904.2 443.1 904.9 443.5 905.6 443 906.3 442.7 907 442.5 907.7 442.8 908.4 442.7 909.1 442.9 909.8 442.8 910.5 443 911.2 442.9 911.9 443 912.6 442.8 913.4 442.6 914.1 442.9 914.8 442.8 915.5 443 916.2 442.7 916.9 442.5 917.6 442.6 918.3 442.5 919 442.9 919.7 442.8 920.4 442.7 921.1 442.4 921.8 442.2 922.5 442.3 923.2 442.3 923.9 442.5 924.6 442.7 925.3 443 926.1 442.7 926.8 442.9 927.5 442.6 928.2 442.7 928.9 442.8 929.6 442.9 930.3 442.8 931 442.5 931.7 442.5 932.4 442.7 933.1 442.9 933.8 442.7 934.5 442.7 935.2 443.3 935.9 443.3 936.6 443.3 937.3 442.9 938 442.4 938.8 442.4 939.5 442.2 940.2 443 940.9 442.9 941.6 442.9 942.3 442.5 943 442.6 943.7 442.7 944.4 442.7 945.1 442.4 945.8 442.5 946.5 442.6 947.2 443.3 947.9 443.5 948.6 443.4 949.3 443.2 950 443.3 950.7 443.6 951.5 443.6 952.2 443.3 952.9 443 953.6 442.9 954.3 442.9 955 442.9 955.7 442.7 956.4 442.3 957.1 442.1 957.8 441.8 958.5 442.3 959.2 442.4 959.9 442.5 960.6 442.6 961.3 442.8 962 443.1 962.7 443.3 963.4 443.5 964.1 443.3 964.9 443.1 965.6 442.9 966.3 443.2 967 443.2 967.7 442.9 968.4 442.7 969.1 442.4 969.8 442.4 970.5 442.5 971.2 442.3 971.9 442.3 972.6 442.8" stroke="#2ac4c4" stroke-width="4" stroke-linejoin="round" fill="none" opacity="0.95"/>
<path d="M102.1 442.8 102.8 442.6 103.5 442.5 104.2 442.8 104.9 443 105.6 442.8 106.3 442.7 107 442.8 107.7 443 108.4 443.3 109.1 443.2 109.8 443.2 110.5 443.3 111.2 442.6 111.9 442.2 112.6 442.1 113.3 442.4 114 442.6 114.8 442.9 115.5 443 116.2 442.7 116.9 442.9 117.6 442.9 118.3 442.9 119 442.5 119.7 442.7 120.4 442.8 121.1 442.9 121.8 442.7 122.5 442.7 123.2 442.6 123.9 442.8 124.6 442.9 125.3 442.9 126 442.7 126.7 443.4 127.5 443.2 128.2 443.5 128.9 442.9 129.6 443 130.3 442.9 131 443.1 131.7 443.4 132.4 443.3 133.1 443 133.8 442.6 134.5 442.7 135.2 442.9 135.9 443.3 136.6 443.3 137.3 443.4 138 443.4 138.7 443.3 139.4 442.8 140.1 442.3 140.9 442 141.6 442.6 142.3 442.7 143 443.2 143.7 443 144.4 443.5 145.1 443.5 145.8 443.3 146.5 442.9 147.2 442.8 147.9 442.8 148.6 442.7 149.3 442.7 150 443 150.7 442.8 151.4 442.8 152.1 442.3 152.8 442.7 153.6 442.8 154.3 443 155 443.1 155.7 442.6 156.4 442.9 157.1 442.6 157.8 443 158.5 442.8 159.2 442.4 159.9 442.2 160.6 442.2 161.3 443 162 443.2 162.7 443.2 163.4 442.6 164.1 442.9 164.8 443.2 165.5 443.5 166.3 443.1 167 442.4 167.7 442.6 168.4 443.2 169.1 443.7 169.8 443.7 170.5 443.3 171.2 443 171.9 443 172.6 442.6 173.3 442.8 174 442.6 174.7 443 175.4 443.1 176.1 443.1 176.8 442.8 177.5 442.5 178.2 442.4 179 442.4 179.7 442.4 180.4 442.1 181.1 442.2 181.8 442.1 182.5 442.1 183.2 441.8 183.9 442.2 184.6 442.6 185.3 443.3 186 443 186.7 442.8 187.4 442.5 188.1 442.8 188.8 442.9 189.5 443 190.2 443 190.9 442.8 191.6 442.2 192.4 442.4 193.1 442.7 193.8 442.7 194.5 442.4 195.2 442.4 195.9 442.8 196.6 442.9 197.3 442.9 198 442.9 198.7 442.7 199.4 442.5 200.1 442.5 200.8 442.7 201.5 442.3 202.2 442.2 202.9 442.5 203.6 443.2 204.3 442.8 205.1 443.2 205.8 442.7 206.5 443.3 207.2 443 207.9 443.4 208.6 443.3 209.3 442.8 210 442.7 210.7 442.5 211.4 442.3 212.1 442.7 212.8 443 213.5 443.9 214.2 443.1 214.9 443.3 215.6 443.2 216.3 443.7 217 443.4 217.8 442.9 218.5 442.5 219.2 442.1 219.9 442 220.6 442 221.3 442.3 222 442.6 222.7 442.5 223.4 443.1 224.1 443.4 224.8 443.4 225.5 443.3 226.2 442.9 226.9 442.8 227.6 442.8 228.3 442.7 229 442.7 229.7 442.2 230.5 442.5 231.2 442.9 231.9 443 232.6 443 233.3 442.5 234 442.4 234.7 442.1 235.4 442.6 236.1 443.3 236.8 443.7 237.5 443.4 238.2 443.5 238.9 444.3 239.6 446.4 240.3 449 241 451.5 241.7 452.2 242.4 449.7 243.1 444.3 243.9 437.8 244.6 433.9 245.3 432.9 246 435.1 246.7 437.6 247.4 440.2 248.1 441.7 248.8 442.3 249.5 442.3 250.2 442.1 250.9 442.6 251.6 443.1 252.3 443.5 253 443.2 253.7 443.2 254.4 442.7 255.1 443.1 255.8 442.7 256.6 442.4 257.3 442.6 258 443.1 258.7 443.4 259.4 442.9 260.1 442.6 260.8 442.8 261.5 442.5 262.2 442.4 262.9 442.5 263.6 442.8 264.3 443.2 265 443.1 265.7 443.5 266.4 443.1 267.1 443.2 267.8 442.3 268.5 442.2 269.3 442.4 270 442.6 270.7 443 271.4 442.7 272.1 442.7 272.8 442.5 273.5 442.4 274.2 442.5 274.9 442.8 275.6 443 276.3 443 277 442.6 277.7 442.6 278.4 442.7 279.1 443 279.8 443.5 280.5 443.7 281.2 443.5 282 442.9 282.7 442.6 283.4 442.4 284.1 442.2 284.8 442.3 285.5 442.4 286.2 442.8 286.9 442.8 287.6 442.8 288.3 442.4 289 442.8 289.7 443 290.4 443.6 291.1 443.4 291.8 443.6 292.5 443.2 293.2 443.2 293.9 443.4 294.6 443.2 295.4 443.3 296.1 443.1 296.8 443.5 297.5 443.4 298.2 443.3 298.9 443.1 299.6 443 300.3 442.6 301 442.6 301.7 442.4 302.4 442.5 303.1 442.7 303.8 442.9 304.5 442.6 305.2 443 305.9 443.2 306.6 443.6 307.3 443.1 308.1 442.9 308.8 442.8 309.5 443 310.2 442.7 310.9 442.7 311.6 443.2 312.3 443.2 313 443.2 313.7 442.7 314.4 443.1 315.1 443.2 315.8 442.9 316.5 443.1 317.2 443.3 317.9 443.8 318.6 444 319.3 444.2 320 444.5 320.8 445.1 321.5 444.8 322.2 444.6 322.9 443.2 323.6 442.6 324.3 441.5 325 440.6 325.7 440.2 326.4 440.1 327.1 440.8 327.8 441.5 328.5 441.9 329.2 442.1 329.9 442.4 330.6 442.8 331.3 443.4 332 443.2 332.7 443 333.5 442.7 334.2 442.9 334.9 443.2 335.6 443.2 336.3 443 337 442.8 337.7 442.7 338.4 443.1 339.1 443.1 339.8 443 340.5 442.5 341.2 442.6 341.9 443 342.6 443.1 343.3 442.8 344 442.6 344.7 442.3 345.4 442.2 346.1 442.4 346.9 442.6 347.6 442.9 348.3 443 349 443.3 349.7 443.2 350.4 443.4 351.1 443.4 351.8 443.3 352.5 443 353.2 443 353.9 442.9 354.6 442.7 355.3 442.6 356 442.4 356.7 442.3 357.4 442.3 358.1 442.6 358.8 442.3 359.6 442.3 360.3 442.4 361 442.7 361.7 442.6 362.4 442.7 363.1 442.4 363.8 442.6 364.5 442.8 365.2 442.9 365.9 442.8 366.6 442.8 367.3 442.8 368 442.9 368.7 442.7 369.4 443 370.1 442.6 370.8 442.4 371.5 442 372.3 442.2 373 442.2 373.7 442.2 374.4 442.5 375.1 442.5 375.8 442.7 376.5 442.7 377.2 442.8 377.9 442.8 378.6 443 379.3 443.2 380 443.1 380.7 442.7 381.4 442.5 382.1 442.7 382.8 442.8 383.5 442.9 384.2 442.8 385 442.8 385.7 442.9 386.4 443 387.1 442.5 387.8 442.5 388.5 442.3 389.2 443 389.9 443 390.6 443 391.3 442.5 392 442.5 392.7 442.8 393.4 442.9 394.1 443.4 394.8 443.3 395.5 443.5 396.2 443.2 396.9 443.3 397.6 442.7 398.4 442.6 399.1 442.5 399.8 442.7 400.5 442.3 401.2 442.5 401.9 442.5 402.6 442.8 403.3 442.6 404 442.6 404.7 442.8 405.4 442.6 406.1 442.4 406.8 442.4 407.5 442.7 408.2 442.8 408.9 442.6 409.6 442.4 410.3 442.5 411.1 442.9 411.8 442.8 412.5 443.1 413.2 443.1 413.9 443.2 414.6 443 415.3 442.6 416 442.3 416.7 441.9 417.4 442.1 418.1 442.4 418.8 442.5 419.5 442.7 420.2 442.3 420.9 442.5 421.6 442.2 422.3 442.5 423 442.3 423.8 442.4 424.5 442.2 425.2 442.1 425.9 442.3 426.6 442.7 427.3 443 428 442.8 428.7 442.6 429.4 442.3 430.1 442.5 430.8 442.3 431.5 442.7 432.2 442.5 432.9 442.8 433.6 442.6 434.3 442.9 435 443.1 435.7 443.3 436.5 443.1 437.2 443.3 437.9 443.3 438.6 443.3 439.3 443.3 440 443.1 440.7 443.1 441.4 442.7 442.1 442.6 442.8 442.7 443.5 442.6 444.2 442.8 444.9 442.7 445.6 443.1 446.3 442.5 447 442.4 447.7 442.5 448.4 442.8 449.1 442.8 449.9 442.2 450.6 442.5 451.3 442.3 452 443 452.7 442.5 453.4 442.7 454.1 442.5 454.8 443.1 455.5 442.7 456.2 442.7 456.9 442.9 457.6 443 458.3 442.9 459 442.4 459.7 442.4 460.4 442.8 461.1 443.2 461.8 443.2 462.6 442.7 463.3 442.5 464 442.9 464.7 443.4 465.4 443.4 466.1 443 466.8 442.8 467.5 442.3 468.2 442.2 468.9 442.4 469.6 442.6 470.3 443.3 471 443.1 471.7 443.1 472.4 442.8 473.1 443.2 473.8 443.4 474.5 443 475.3 442.7 476 442.9 476.7 443.1 477.4 442.8 478.1 442.7 478.8 442.9 479.5 442.8 480.2 442.5 480.9 442.4 481.6 442.6 482.3 442.7 483 443.1 483.7 443.2 484.4 442.9 485.1 442.7 485.8 442.7 486.5 443.2 487.2 443.3 488 443 488.7 442.7 489.4 442.7 490.1 442.6 490.8 442.3 491.5 442.4 492.2 442.4 492.9 442.8 493.6 442.3 494.3 442.2 495 442 495.7 442.2 496.4 442.6 497.1 442.3 497.8 442.6 498.5 442.3 499.2 442.5 499.9 442.5 500.6 442.7 501.4 442.6 502.1 442.8 502.8 442.7 503.5 443 504.2 442.7 504.9 443.2 505.6 443 506.3 443.2 507 442.8 507.7 443.1 508.4 442.7 509.1 442.8 509.8 443 510.5 443.2 511.2 443.3 511.9 443.3 512.6 443.3 513.3 443.2 514.1 442.9 514.8 442.5 515.5 442.9 516.2 443 516.9 443.2 517.6 442.8 518.3 442.6 519 442.7 519.7 442.6 520.4 442.7 521.1 442.3 521.8 442.4 522.5 442.2 523.2 442.6 523.9 442.7 524.6 442.6 525.3 442.7 526 442.6 526.8 442.8 527.5 442.4 528.2 442.2 528.9 442.4 529.6 442.4 530.3 442.7 531 442.8 531.7 443.2 532.4 443.5 533.1 443.3 533.8 442.8 534.5 442.7 535.2 442.8 535.9 443.3 536.6 443.1 537.3 443.3 538 443.2 538.7 443.4 539.5 443.2 540.2 443.1 540.9 443 541.6 443 542.3 443.1 543 442.9 543.7 443.2 544.4 443 545.1 443.3 545.8 443 546.5 442.9 547.2 443.1 547.9 443.1 548.6 442.9 549.3 442.3 550 442.3 550.7 443 551.4 443.2 552.1 443.5 552.9 442.8 553.6 442.9 554.3 442.8 555 443.4 555.7 443.2 556.4 443.1 557.1 442.8 557.8 442.8 558.5 442.7 559.2 442.5 559.9 442.3 560.6 442.4 561.3 442.6 562 442.9 562.7 442.6 563.4 442.7 564.1 442.9 564.8 443.4 565.6 443.3 566.3 443.2 567 443.1 567.7 442.8 568.4 442.9 569.1 442.7 569.8 442.8 570.5 443 571.2 443.1 571.9 443.1 572.6 443.1 573.3 443.7 574 444.5 574.7 445.9 575.4 447.2 576.1 447.7 576.8 446.4 577.5 443.4 578.3 440.6 579 438.7 579.7 438.5 580.4 439.1 581.1 440.7 581.8 442 582.5 442.7 583.2 442.7 583.9 442.8 584.6 443.2 585.3 443.1 586 443.5 586.7 443 587.4 443.2 588.1 442.6 588.8 443.1 589.5 442.9 590.2 443.1 591 442.9 591.7 443.2 592.4 443 593.1 442.8 593.8 442.2 594.5 442.5 595.2 442.5 595.9 442.7 596.6 442.6 597.3 442.5 598 442.4 598.7 442.7 599.4 443.1 600.1 442.8 600.8 442.7 601.5 442.3 602.2 442.8 602.9 442.6 603.6 442.7 604.4 442.4 605.1 442.7 605.8 442.8 606.5 442.9 607.2 442.9 607.9 442.8 608.6 442.5 609.3 442.6 610 442.7 610.7 442.9 611.4 443 612.1 443.2 612.8 443 613.5 442.7 614.2 442.7 614.9 443.2 615.6 443.2 616.3 442.7 617.1 442.3 617.8 442.3 618.5 442.3 619.2 442.4 619.9 442.2 620.6 442.3 621.3 442.5 622 442.6 622.7 442.8 623.4 442.8 624.1 443.1 624.8 443 625.5 442.9 626.2 442.6 626.9 443 627.6 443.1 628.3 443.1 629 442.7 629.8 442.7 630.5 443 631.2 443.4 631.9 443.5 632.6 443.3 633.3 442.9 634 442.4 634.7 442.6 635.4 442.6 636.1 443.4 636.8 443.4 637.5 442.9 638.2 442.3 638.9 442.3 639.6 442.4 640.3 442.4 641 442.3 641.7 442.6 642.5 442.8 643.2 442.7 643.9 442.7 644.6 442.7 645.3 442.7 646 442.3 646.7 442.3 647.4 442.5 648.1 442.4 648.8 442.6 649.5 442.6 650.2 442.9 650.9 442.9 651.6 442.5 652.3 442.9 653 443.1 653.7 443.3 654.4 442.7 655.1 442.3 655.9 442.4 656.6 443.1 657.3 443.4 658 443.5 658.7 443 659.4 442.9 660.1 442.6 660.8 442.8 661.5 442.6 662.2 442.8 662.9 442.9 663.6 443 664.3 442.6 665 442.4 665.7 442.5 666.4 442.3 667.1 442.4 667.8 442.5 668.6 442.9 669.3 443.2 670 443.2 670.7 443.1 671.4 442.7 672.1 442.5 672.8 442.5 673.5 442.5 674.2 442.6 674.9 442.7 675.6 442.9 676.3 443.2 677 443.5 677.7 443.2 678.4 443.2 679.1 443.3 679.8 443.2 680.5 443.5 681.3 443 682 442.9 682.7 442.3 683.4 442.4 684.1 442.6 684.8 443.1 685.5 443.1 686.2 443 686.9 442.6 687.6 442.6 688.3 442.3 689 442.4 689.7 442.2 690.4 442.5 691.1 442.5 691.8 442.7 692.5 442.5 693.2 442.2 694 442.7 694.7 442.6 695.4 443.2 696.1 443 696.8 443.2 697.5 442.6 698.2 442.7 698.9 443.1 699.6 443.2 700.3 442.9 701 442.8 701.7 443 702.4 443.5 703.1 443.2 703.8 443.2 704.5 442.5 705.2 443.1 705.9 442.8 706.6 442.6 707.4 442.2 708.1 442.3 708.8 443.1 709.5 443.1 710.2 443.1 710.9 442.8 711.6 443.2 712.3 443.2 713 443.3 713.7 443.1 714.4 443.1 715.1 442.9 715.8 442.8 716.5 442.6 717.2 442.9 717.9 442.6 718.6 443 719.3 442.9 720.1 443.2 720.8 442.8 721.5 442.6 722.2 442.7 722.9 443 723.6 443.1 724.3 443.2 725 442.9 725.7 442.9 726.4 442.4 727.1 442.7 727.8 442.7 728.5 442.9 729.2 443 729.9 443.1 730.6 442.6 731.3 442.4 732 442 732.8 442.7 733.5 443.2 734.2 443.4 734.9 443.2 735.6 442.7 736.3 442.8 737 442.9 737.7 443.3 738.4 443 739.1 443.2 739.8 442.7 740.5 443 741.2 442.9 741.9 443.2 742.6 443 743.3 442.6 744 442.4 744.7 442.6 745.5 442.9 746.2 442.8 746.9 442.9 747.6 442.8 748.3 443.1 749 443.1 749.7 443.3 750.4 443.3 751.1 443.4 751.8 443.2 752.5 443.4 753.2 442.9 753.9 443 754.6 442.6 755.3 442.9 756 442.5 756.7 442.2 757.4 442.2 758.1 442.2 758.9 442.7 759.6 442.5 760.3 442.9 761 442.8 761.7 443.1 762.4 442.7 763.1 442.5 763.8 442.3 764.5 442.3 765.2 442.5 765.9 442.7 766.6 442.5 767.3 442.4 768 442.3 768.7 442.6 769.4 443 770.1 443.3 770.8 443.2 771.6 442.5 772.3 442.1 773 441.9 773.7 442.3 774.4 442.5 775.1 442.8 775.8 442.5 776.5 442.7 777.2 443 777.9 443 778.6 442.9 779.3 442.4 780 442.7 780.7 442.6 781.4 442.5 782.1 442.1 782.8 442 783.5 442.3 784.3 443.1 785 443.2 785.7 443.3 786.4 442.8 787.1 442.8 787.8 442.6 788.5 442.5 789.2 442.6 789.9 443 790.6 442.7 791.3 442.9 792 442.6 792.7 442.8 793.4 442.8 794.1 442.9 794.8 443 795.5 443.1 796.2 443.1 797 442.6 797.7 442.8 798.4 443.1 799.1 443.7 799.8 443.7 800.5 442.9 801.2 442.7 801.9 442.3 802.6 442.5 803.3 442.7 804 442.7 804.7 442.8 805.4 442.2 806.1 442.4 806.8 442.4 807.5 442.6 808.2 442.5 808.9 442.9 809.6 442.8 810.4 442.7 811.1 442.2 811.8 442.7 812.5 443.3 813.2 443.5 813.9 443.1 814.6 442.6 815.3 442.8 816 442.7 816.7 443.1 817.4 443.2 818.1 443.4 818.8 443.2 819.5 443.1 820.2 443.4 820.9 443.1 821.6 443.1 822.3 442.8 823.1 442.8 823.8 442.6 824.5 442.6 825.2 442.6 825.9 442.2 826.6 442.1 827.3 442.6 828 443.3 828.7 443.6 829.4 443.6 830.1 443.1 830.8 442.9 831.5 442.7 832.2 442.6 832.9 442.4 833.6 442.4 834.3 442.6 835 442.5 835.8 442.6 836.5 442.6 837.2 443 837.9 443 838.6 442.9 839.3 442.8 840 442.7 840.7 442.7 841.4 442.6 842.1 442.7 842.8 443 843.5 443.3 844.2 442.8 844.9 442.6 845.6 442.3 846.3 442.7 847 442.7 847.7 442.6 848.5 442.8 849.2 442.9 849.9 442.8 850.6 442.9 851.3 443 852 443.2 852.7 443.1 853.4 442.7 854.1 443 854.8 442.8 855.5 442.8 856.2 442.5 856.9 442.4 857.6 442.6 858.3 442.7 859 442.9 859.7 442.7 860.4 442 861.1 442 861.9 441.7 862.6 442.5 863.3 442.7 864 443.1 864.7 443 865.4 442.7 866.1 442.7 866.8 442.6 867.5 442.5 868.2 442.4 868.9 442.7 869.6 442.8 870.3 443.2 871 442.9 871.7 443 872.4 442.7 873.1 442.9 873.8 443 874.6 443.1 875.3 442.9 876 442.6 876.7 442.8 877.4 442.9 878.1 443 878.8 443 879.5 443.3 880.2 443.4 880.9 443 881.6 443.3 882.3 443.3 883 443.5 883.7 443 884.4 442.6 885.1 442.2 885.8 442.3 886.5 442.7 887.3 442.9 888 442.6 888.7 442.2 889.4 442.2 890.1 442.2 890.8 442.6 891.5 442.9 892.2 443.8 892.9 443.8 893.6 443.4 894.3 442.7 895 441.8 895.7 441.8 896.4 442 897.1 442.8 897.8 443.1 898.5 443.2 899.2 443.1 900 443.1 900.7 443.3 901.4 443 902.1 442.8 902.8 442.2 903.5 442.8 904.2 443.1 904.9 443.5 905.6 443 906.3 442.7 907 442.5 907.7 442.8 908.4 442.7 909.1 442.9 909.8 442.8 910.5 443 911.2 442.9 911.9 443 912.6 442.8 913.4 442.6 914.1 442.9 914.8 442.8 915.5 443 916.2 442.7 916.9 442.5 917.6 442.6 918.3 442.5 919 442.9 919.7 442.8 920.4 442.7 921.1 442.4 921.8 442.2 922.5 442.3 923.2 442.3 923.9 442.5 924.6 442.7 925.3 443 926.1 442.7 926.8 442.9 927.5 442.6 928.2 442.7 928.9 442.8 929.6 442.9 930.3 442.8 931 442.5 931.7 442.5 932.4 442.7 933.1 442.9 933.8 442.7 934.5 442.7 935.2 443.3 935.9 443.3 936.6 443.3 937.3 442.9 938 442.4 938.8 442.4 939.5 442.2 940.2 443 940.9 442.9 941.6 442.9 942.3 442.5 943 442.6 943.7 442.7 944.4 442.7 945.1 442.4 945.8 442.5 946.5 442.6 947.2 443.3 947.9 443.5 948.6 443.4 949.3 443.2 950 443.3 950.7 443.6 951.5 443.6 952.2 443.3 952.9 443 953.6 442.9 954.3 442.9 955 442.9 955.7 442.7 956.4 442.3 957.1 442.1 957.8 441.8 958.5 442.3 959.2 442.4 959.9 442.5 960.6 442.6 961.3 442.8 962 443.1 962.7 443.3 963.4 443.5 964.1 443.3 964.9 443.1 965.6 442.9 966.3 443.2 967 443.2 967.7 442.9 968.4 442.7 969.1 442.4 969.8 442.4 970.5 442.5 971.2 442.3 971.9 442.3 972.6 442.8" stroke="#1f7f78" stroke-width="1.5" stroke-linejoin="round" fill="none" opacity="0.6"/>
<path d="M148.4 467V476M242.4 467V476M283.7 467V476M322.4 467V476M359 467V476M393.8 467V476M427 467V476M459 467V476M489.8 467V476M548.6 467V476M576.8 467V476M604.3 467V476M631.1 467V476M657.4 467V476M683.1 467V476M708.4 467V476M733.3 467V476M757.7 467V476M781.8 467V476M805.5 467V476M829 467V476M852.1 467V476M875 467V476M942.2 467V476M964.2 467V476" stroke="#4b3fd6" stroke-width="5" stroke-linecap="round" fill="none"/>
<rect x="856.5" y="15" width="148.5" height="119" rx="5" fill="#fff" stroke="#e4e4e4" stroke-width="2.2"/>
<ellipse cx="886" cy="31" rx="6.2" ry="5" fill="#ec0010"/>
<path d="M863 60H908" stroke="#3a3a3a" stroke-width="4.4" stroke-linecap="round"/>
<path d="M863 89H908" stroke="#6cc8c8" stroke-width="4.4" stroke-linecap="round"/>
<g class="lg"><text transform="translate(922.8 38.1) scale(1.026 1)" font-size="18.1">obs</text><text transform="translate(922.8 67.7) scale(0.908 1)" font-size="20.6">calc</text><text transform="translate(922.8 95.9) scale(0.908 1)" font-size="19.7">diff</text></g></g>
<g filter="url(#bl2)"><g class="ti">
<text transform="translate(370.7 65.6) scale(0.906 1)" font-size="38.8">G</text>
<text transform="translate(400.9 65.7) scale(0.861 1)" font-size="33.3">d</text>
<text transform="translate(421.4 67.1) scale(0.765 1)" font-size="23.9">2</text>
<text transform="translate(432.3 66.0) scale(0.936 1)" font-size="38.5">O</text>
<text transform="translate(460.1 67.4) scale(0.842 1)" font-size="28.2">3</text>
<rect x="482.0" y="55.2" width="10.3" height="3.6" fill="#111"/>
<text transform="translate(504.3 68.0) scale(0.936 1)" font-size="40.2">NP</text>
<text transform="translate(559.4 70.5) scale(1.092 1)" font-size="37.7">s</text>
</g></g>
<g filter="url(#bl3)"><text class="lt" transform="translate(91.3 61.1) scale(1.162 1)" font-size="33.3">(a)</text></g>
<text class="yl" transform="translate(30.3 402.4) rotate(-90) scale(0.9706 1)" font-size="45.0">Intensity (a.u.)</text>
<text class="xl" x="510.2" y="603.6" font-size="45.0" font-weight="bold">2</text><text class="xl" transform="translate(533.8 603.6) scale(1.1 1)" font-size="45.0" font-style="italic">θ</text>
<g id="pb" filter="url(#bl)"><g fill="none" stroke-width="4.2" stroke-linecap="round" stroke-linejoin="round">
<path d="M1121.2 538.7V14.3" stroke="#959595"/>
<path d="M1121.2 14.3H2062.5" stroke="#969696"/>
<path d="M2062.5 14.3V538.7" stroke="#8e8e8e"/>
<path d="M1121.2 538.7H2062.5" stroke="#d0d0d0"/>
</g>
<path d="M1161.3 538.2v3M1332.3 538.2v3M1503.4 538.2v3M1674.4 538.2v3M1845.5 538.2v3M2016.5 538.2v3" stroke="#6e6e6e" stroke-width="3.2" stroke-linecap="round" fill="none"/>
<g class="tl" text-anchor="middle" font-size="22.3"><text transform="translate(1161.3 573.9) scale(0.995 1)">20</text><text transform="translate(1332.3 573.9) scale(0.995 1)">30</text><text transform="translate(1503.4 573.9) scale(0.995 1)">40</text><text transform="translate(1674.4 573.9) scale(0.995 1)">50</text><text transform="translate(1845.5 573.9) scale(0.995 1)">60</text><text transform="translate(2016.5 573.9) scale(0.995 1)">70</text></g>
<g filter="url(#bl4)">
<path d="M1173.8 334.3h0M1174.5 333.4h0M1175.1 333.8h0M1175.8 330.9h0M1176.5 332.2h0M1177.2 332.4h0M1177.9 333.1h0M1178.6 332.2h0M1179.2 334h0M1179.9 332.7h0M1180.6 332.7h0M1181.3 332.6h0M1182 333.4h0M1182.7 331.8h0M1183.3 333.7h0M1184 332.8h0M1184.7 332.4h0M1185.4 332.1h0M1186.1 332.6h0M1186.8 333.2h0M1187.4 333h0M1188.1 332.2h0M1188.8 332.7h0M1189.5 331.7h0M1190.2 333h0M1190.9 331.3h0M1191.5 328.7h0M1192.2 332.9h0M1192.9 331.3h0M1193.6 329.6h0M1194.3 330.7h0M1195 329.7h0M1195.6 333.4h0M1196.3 331.3h0M1197 328.6h0M1197.7 331.2h0M1198.4 329.9h0M1199.1 332.7h0M1199.7 328.9h0M1200.4 327.3h0M1201.1 330.1h0M1201.8 329.5h0M1202.5 329.4h0M1203.2 327.1h0M1203.8 330.2h0M1204.5 331.7h0M1205.2 327.1h0M1205.9 330.9h0M1206.6 328.6h0M1207.3 332.2h0M1207.9 329.7h0M1208.6 328.8h0M1209.3 330.4h0M1210 329.5h0M1210.7 328h0M1211.4 329.6h0M1212 328h0M1212.7 326.3h0M1213.4 331h0M1214.1 327.9h0M1214.8 327.5h0M1215.5 328.6h0M1216.1 326.1h0M1216.8 326.2h0M1217.5 327.2h0M1218.2 327.1h0M1218.9 327.7h0M1219.6 329h0M1220.2 326.9h0M1220.9 328h0M1221.6 328h0M1222.3 325.8h0M1223 327.4h0M1223.7 325.8h0M1224.3 328.2h0M1225 327.4h0M1225.7 326.7h0M1226.4 324.9h0M1227.1 326.6h0M1227.8 325.4h0M1228.4 327.2h0M1229.1 326h0M1229.8 325.1h0M1230.5 327.1h0M1231.2 326.8h0M1231.9 325h0M1232.5 327.1h0M1233.2 325.2h0M1233.9 325.1h0M1234.6 325.5h0M1235.3 324.3h0M1236 324.6h0M1236.6 324.8h0M1237.3 326.8h0M1238 326.7h0M1238.7 324.4h0M1239.4 326.6h0M1240.1 324.4h0M1240.7 324.8h0M1241.4 325.3h0M1242.1 324.5h0M1242.8 327h0M1243.5 324.2h0M1244.2 322.3h0M1244.8 325.3h0M1245.5 323h0M1246.2 323h0M1246.9 319.5h0M1247.6 324.4h0M1248.2 324h0M1248.9 323.9h0M1249.6 324h0M1250.3 324.8h0M1251 322.4h0M1251.7 323.6h0M1252.3 321.3h0M1253 321.7h0M1253.7 323.3h0M1254.4 322.4h0M1255.1 320h0M1255.8 322h0M1256.4 321.2h0M1257.1 320.3h0M1257.8 321.7h0M1258.5 320.5h0M1259.2 318.9h0M1259.9 319.3h0M1260.5 322.8h0M1261.2 318.5h0M1261.9 320.5h0M1262.6 320.8h0M1263.3 320.7h0M1264 318.1h0M1264.6 319.1h0M1265.3 319.5h0M1266 320.1h0M1266.7 318.1h0M1267.4 317.2h0M1268.1 319.8h0M1268.7 319.7h0M1269.4 318.5h0M1270.1 317h0M1270.8 318.1h0M1271.5 317.5h0M1272.2 318.1h0M1272.8 315.2h0M1273.5 316.7h0M1274.2 316h0M1274.9 314.5h0M1275.6 315.9h0M1276.3 315.3h0M1276.9 314.4h0M1277.6 315h0M1278.3 312.3h0M1279 313.7h0M1279.7 313.9h0M1280.4 313.2h0M1281 313.8h0M1281.7 310.3h0M1282.4 309.4h0M1283.1 311.1h0M1283.8 310.8h0M1284.5 312.4h0M1285.1 309.8h0M1285.8 307.1h0M1286.5 308.6h0M1287.2 305.6h0M1287.9 303.9h0M1288.6 308.4h0M1289.2 304.4h0M1289.9 303.8h0M1290.6 302.5h0M1291.3 303h0M1292 299.6h0M1292.7 299.4h0M1293.3 294.7h0M1294 292.5h0M1294.7 294.4h0M1295.4 292.2h0M1296.1 288.2h0M1296.8 284.7h0M1297.4 280.7h0M1298.1 274.6h0M1298.8 271.7h0M1299.5 262.6h0M1300.2 252.6h0M1300.9 240.3h0M1301.5 226.7h0M1302.2 208.4h0M1302.9 189h0M1303.6 163.4h0M1304.3 143.9h0M1305 125.2h0M1305.6 98.9h0M1306.3 84.3h0M1307 78.3h0M1307.7 78.4h0M1308.4 86h0M1309.1 96.1h0M1309.7 121.2h0M1310.4 139.9h0M1311.1 163.6h0M1311.8 188.1h0M1312.5 206.3h0M1313.2 225.6h0M1313.8 244h0M1314.5 252.1h0M1315.2 261.7h0M1315.9 266.9h0M1316.6 273.4h0M1317.3 277.5h0M1317.9 282.1h0M1318.6 284.3h0M1319.3 287.5h0M1320 290.3h0M1320.7 291h0M1321.4 292.1h0M1322 293.7h0M1322.7 297.5h0M1323.4 298.1h0M1324.1 300.5h0M1324.8 301.6h0M1325.5 300.7h0M1326.1 302.9h0M1326.8 300.9h0M1327.5 306.5h0M1328.2 305.8h0M1328.9 304.5h0M1329.6 303.8h0M1330.2 306.4h0M1330.9 304h0M1331.6 305.8h0M1332.3 308.3h0M1333 307.8h0M1333.6 307.4h0M1334.3 309.6h0M1335 307.3h0M1335.7 309.3h0M1336.4 308.5h0M1337.1 308.2h0M1337.7 310.1h0M1338.4 308.3h0M1339.1 312.1h0M1339.8 308.9h0M1340.5 312.2h0M1341.2 308h0M1341.8 310h0M1342.5 307.3h0M1343.2 306.7h0M1343.9 308.2h0M1344.6 308.3h0M1345.3 305.2h0M1345.9 308h0M1346.6 305.1h0M1347.3 306.2h0M1348 306.6h0M1348.7 307.3h0M1349.4 304.8h0M1350 309.9h0M1350.7 309.3h0M1351.4 308.7h0M1352.1 308.7h0M1352.8 308.4h0M1353.5 309.4h0M1354.1 312.3h0M1354.8 311.5h0M1355.5 310.8h0M1356.2 311.9h0M1356.9 314.7h0M1357.6 312.5h0M1358.2 312.3h0M1358.9 314.9h0M1359.6 313.8h0M1360.3 313.4h0M1361 312.6h0M1361.7 311.4h0M1362.3 312h0M1363 312.9h0M1363.7 313.2h0M1364.4 313.9h0M1365.1 314.2h0M1365.8 313.7h0M1366.4 313.7h0M1367.1 312.1h0M1367.8 310.5h0M1368.5 312.5h0M1369.2 311.8h0M1369.9 312h0M1370.5 312.3h0M1371.2 310.8h0M1371.9 310.6h0M1372.6 311.5h0M1373.3 311.2h0M1374 309.4h0M1374.6 309.9h0M1375.3 307.8h0M1376 305.2h0M1376.7 304.6h0M1377.4 304.8h0M1378.1 298.6h0M1378.7 297.8h0M1379.4 294.5h0M1380.1 290.6h0M1380.8 283h0M1381.5 282.5h0M1382.2 275.4h0M1382.8 270.8h0M1383.5 267.5h0M1384.2 266.6h0M1384.9 265.1h0M1385.6 265.5h0M1386.3 270h0M1386.9 270.4h0M1387.6 274h0M1388.3 281.2h0M1389 285.7h0M1389.7 290.7h0M1390.4 291.8h0M1391 298.5h0M1391.7 301h0M1392.4 305.6h0M1393.1 304h0M1393.8 308h0M1394.5 309h0M1395.1 308.6h0M1395.8 310.8h0M1396.5 314h0M1397.2 312.7h0M1397.9 312.9h0M1398.6 315.4h0M1399.2 315.9h0M1399.9 316.2h0M1400.6 314.2h0M1401.3 315.3h0M1402 316.9h0M1402.7 315h0M1403.3 315h0M1404 317.1h0M1404.7 318.2h0M1405.4 314.9h0M1406.1 313.3h0M1406.8 314.9h0M1407.4 315.6h0M1408.1 316.9h0M1408.8 318h0M1409.5 317.1h0M1410.2 316.5h0M1410.9 317.7h0M1411.5 316.3h0M1412.2 317.4h0M1412.9 316.5h0M1413.6 320.5h0M1414.3 317.9h0M1415 315.4h0M1415.6 314.7h0M1416.3 314.8h0M1417 312.6h0M1417.7 313.2h0M1418.4 312.5h0M1419 314.2h0M1419.7 312.2h0M1420.4 311.8h0M1421.1 311.5h0M1421.8 312.4h0M1422.5 314.6h0M1423.1 315.4h0M1423.8 318.1h0M1424.5 316.7h0M1425.2 319.7h0M1425.9 319.4h0M1426.6 319.7h0M1427.2 317.7h0M1427.9 319.1h0M1428.6 322h0M1429.3 323.2h0M1430 322h0M1430.7 322.9h0M1431.3 321.6h0M1432 321.9h0M1432.7 321.7h0M1433.4 323.9h0M1434.1 323.3h0M1434.8 322.7h0M1435.4 322.7h0M1436.1 324h0M1436.8 323.8h0M1437.5 322.5h0M1438.2 325.9h0M1438.9 324.2h0M1439.5 324h0M1440.2 325.9h0M1440.9 325.5h0M1441.6 324.2h0M1442.3 325.1h0M1443 323.1h0M1443.6 323.7h0M1444.3 321.6h0M1445 326h0M1445.7 322h0M1446.4 325.2h0M1447.1 323.2h0M1447.7 322.8h0M1448.4 323.6h0M1449.1 323.9h0M1449.8 324h0M1450.5 325.1h0M1451.2 323h0M1451.8 323.2h0M1452.5 321h0M1453.2 322.5h0M1453.9 321.7h0M1454.6 321h0M1455.3 321.7h0M1455.9 322.2h0M1456.6 323h0M1457.3 323.7h0M1458 323.1h0M1458.7 323.3h0M1459.4 325.5h0M1460 322.8h0M1460.7 324.5h0M1461.4 327.5h0M1462.1 322.3h0M1462.8 325h0M1463.5 326.9h0M1464.1 324.1h0M1464.8 329.5h0M1465.5 323.1h0M1466.2 328.2h0M1466.9 328.4h0M1467.6 327.7h0M1468.2 326.3h0M1468.9 327.1h0M1469.6 325.6h0M1470.3 327.8h0M1471 325.4h0M1471.7 326.5h0M1472.3 328.2h0M1473 325.5h0M1473.7 326.5h0M1474.4 327.2h0M1475.1 325.3h0M1475.8 328.4h0M1476.4 327.3h0M1477.1 324.8h0M1477.8 326.5h0M1478.5 325.4h0M1479.2 325.2h0M1479.9 325.6h0M1480.5 324.1h0M1481.2 325.5h0M1481.9 322.6h0M1482.6 323.8h0M1483.3 321.5h0M1484 321.8h0M1484.6 319.1h0M1485.3 318.6h0M1486 317.5h0M1486.7 319.9h0M1487.4 321h0M1488.1 323.3h0M1488.7 323.3h0M1489.4 323h0M1490.1 323.5h0M1490.8 325.3h0M1491.5 325.7h0M1492.2 328.3h0M1492.8 328.3h0M1493.5 326.6h0M1494.2 327.2h0M1494.9 330.1h0M1495.6 329.1h0M1496.3 328.6h0M1496.9 330.6h0M1497.6 328.8h0M1498.3 329.1h0M1499 329h0M1499.7 327.2h0M1500.4 330.8h0M1501 328.3h0M1501.7 329.2h0M1502.4 329.1h0M1503.1 331h0M1503.8 330.1h0M1504.4 330.3h0M1505.1 328.3h0M1505.8 330.4h0M1506.5 328.7h0M1507.2 331h0M1507.9 331.2h0M1508.5 330.8h0M1509.2 333.5h0M1509.9 331.6h0M1510.6 331.8h0M1511.3 331.3h0M1512 331h0M1512.6 332.5h0M1513.3 332.8h0M1514 329.8h0M1514.7 332.9h0M1515.4 332.3h0M1516.1 332.9h0M1516.7 332.3h0M1517.4 330.3h0M1518.1 330.4h0M1518.8 334.3h0M1519.5 332.4h0M1520.2 330.3h0M1520.8 332.6h0M1521.5 331.8h0M1522.2 330h0M1522.9 329.5h0M1523.6 330.5h0M1524.3 332.9h0M1524.9 332.5h0M1525.6 332.4h0M1526.3 333.1h0M1527 333.5h0M1527.7 330.2h0M1528.4 332.5h0M1529 331.9h0M1529.7 331.4h0M1530.4 332.3h0M1531.1 332.8h0M1531.8 332.6h0M1532.5 331.2h0M1533.1 332.4h0M1533.8 335.5h0M1534.5 331.6h0M1535.2 330.8h0M1535.9 333.2h0M1536.6 333.5h0M1537.2 333.2h0M1537.9 331.1h0M1538.6 333.5h0M1539.3 330.9h0M1540 330h0M1540.7 330.1h0M1541.3 330h0M1542 330.2h0M1542.7 329.1h0M1543.4 327.2h0M1544.1 327.2h0M1544.8 325h0M1545.4 325h0M1546.1 321.3h0M1546.8 320.7h0M1547.5 324h0M1548.2 321.8h0M1548.9 324.2h0M1549.5 325.6h0M1550.2 326.4h0M1550.9 327.7h0M1551.6 331.2h0M1552.3 327.2h0M1553 332.4h0M1553.6 334.9h0M1554.3 332.6h0M1555 333.1h0M1555.7 334.4h0M1556.4 336h0M1557.1 332.5h0M1557.7 334.3h0M1558.4 334.1h0M1559.1 335.1h0M1559.8 334.7h0M1560.5 335.5h0M1561.2 334.2h0M1561.8 334.9h0M1562.5 334h0M1563.2 334.1h0M1563.9 334.9h0M1564.6 334.9h0M1565.3 333.7h0M1565.9 337.2h0M1566.6 335.1h0M1567.3 333.6h0M1568 336.8h0M1568.7 334.5h0M1569.4 336.1h0M1570 335.5h0M1570.7 335.8h0M1571.4 335.8h0M1572.1 334.9h0M1572.8 335.7h0M1573.5 338.2h0M1574.1 332.9h0M1574.8 335.8h0M1575.5 336.3h0M1576.2 334.4h0M1576.9 334.1h0M1577.6 338.5h0M1578.2 335.4h0M1578.9 338.5h0M1579.6 336.6h0M1580.3 336h0M1581 336.5h0M1581.7 336.8h0M1582.3 337.5h0M1583 336.5h0M1583.7 336.2h0M1584.4 336.3h0M1585.1 337.7h0M1585.8 337.1h0M1586.4 334.8h0M1587.1 335.3h0M1587.8 336.5h0M1588.5 335.3h0M1589.2 335.6h0M1589.8 334.9h0M1590.5 335.8h0M1591.2 336.7h0M1591.9 337.4h0M1592.6 336.1h0M1593.3 338.7h0M1593.9 336h0M1594.6 340h0M1595.3 337.2h0M1596 336.5h0M1596.7 335.1h0M1597.4 332h0M1598 335.2h0M1598.7 335.4h0M1599.4 337.3h0M1600.1 332.8h0M1600.8 336.6h0M1601.5 333.5h0M1602.1 334.4h0M1602.8 330h0M1603.5 333.2h0M1604.2 332.6h0M1604.9 333.9h0M1605.6 333.4h0M1606.2 332.1h0M1606.9 335.1h0M1607.6 335h0M1608.3 335.2h0M1609 336h0M1609.7 336.3h0M1610.3 335h0M1611 333.4h0M1611.7 333.4h0M1612.4 336.9h0M1613.1 336h0M1613.8 335.2h0M1614.4 334.4h0M1615.1 334.9h0M1615.8 334.7h0M1616.5 334h0M1617.2 333.3h0M1617.9 336.6h0M1618.5 333.7h0M1619.2 332.1h0M1619.9 330.5h0M1620.6 330.4h0M1621.3 331.1h0M1622 329.7h0M1622.6 326.7h0M1623.3 324.9h0M1624 321.9h0M1624.7 317.8h0M1625.4 317.6h0M1626.1 312.4h0M1626.7 311h0M1627.4 301.9h0M1628.1 298.2h0M1628.8 295.2h0M1629.5 289.7h0M1630.2 285.1h0M1630.8 284.2h0M1631.5 285.9h0M1632.2 287.9h0M1632.9 290.2h0M1633.6 295.8h0M1634.3 300.3h0M1634.9 304.1h0M1635.6 308.4h0M1636.3 312.4h0M1637 317.6h0M1637.7 321.7h0M1638.4 323.7h0M1639 326.9h0M1639.7 328.1h0M1640.4 328.6h0M1641.1 330.7h0M1641.8 334.2h0M1642.5 334.8h0M1643.1 337.1h0M1643.8 335.8h0M1644.5 337.4h0M1645.2 338.4h0M1645.9 338.4h0M1646.6 336.7h0M1647.2 337.5h0M1647.9 338.2h0M1648.6 337h0M1649.3 339.1h0M1650 340h0M1650.7 338.3h0M1651.3 341.6h0M1652 338.9h0M1652.7 339.2h0M1653.4 339.3h0M1654.1 338.8h0M1654.8 340.4h0M1655.4 340h0M1656.1 342.2h0M1656.8 341h0M1657.5 341h0M1658.2 340.2h0M1658.9 338.8h0M1659.5 340.5h0M1660.2 339.7h0M1660.9 342h0M1661.6 340.9h0M1662.3 343.1h0M1663 342h0M1663.6 342.3h0M1664.3 341.6h0M1665 341.6h0M1665.7 342.3h0M1666.4 342.7h0M1667.1 340.7h0M1667.7 342.3h0M1668.4 345.1h0M1669.1 341.7h0M1669.8 341.6h0M1670.5 341.1h0M1671.2 340.3h0M1671.8 343.6h0M1672.5 342.3h0M1673.2 342.7h0M1673.9 344.7h0M1674.6 345.6h0M1675.2 341.4h0M1675.9 343.9h0M1676.6 343.4h0M1677.3 343.2h0M1678 343.4h0M1678.7 342.8h0M1679.3 344.9h0M1680 343.7h0M1680.7 343.4h0M1681.4 344.6h0M1682.1 344.2h0M1682.8 343.6h0M1683.4 343.5h0M1684.1 345.3h0M1684.8 343.7h0M1685.5 343h0M1686.2 342.1h0M1686.9 342.7h0M1687.5 341.8h0M1688.2 343.3h0M1688.9 343.5h0M1689.6 340.6h0M1690.3 343.2h0M1691 344h0M1691.6 343.4h0M1692.3 342h0M1693 344.8h0M1693.7 342.4h0M1694.4 341.7h0M1695.1 341.9h0M1695.7 343.2h0M1696.4 344.4h0M1697.1 344.6h0M1697.8 343.4h0M1698.5 341.6h0M1699.2 342.2h0M1699.8 341.9h0M1700.5 342.6h0M1701.2 340.5h0M1701.9 342.7h0M1702.6 343.1h0M1703.3 341.7h0M1703.9 342.1h0M1704.6 339.9h0M1705.3 338.7h0M1706 339.1h0M1706.7 340.8h0M1707.4 340.1h0M1708 337.8h0M1708.7 339.6h0M1709.4 337.6h0M1710.1 340.1h0M1710.8 339.2h0M1711.5 338.6h0M1712.1 340.8h0M1712.8 339.4h0M1713.5 339.8h0M1714.2 339.7h0M1714.9 342.3h0M1715.6 342.3h0M1716.2 342.6h0M1716.9 342.4h0M1717.6 344.9h0M1718.3 342.8h0M1719 342.5h0M1719.7 345.1h0M1720.3 345.4h0M1721 344.1h0M1721.7 341.5h0M1722.4 343h0M1723.1 344.5h0M1723.8 343.8h0M1724.4 345.8h0M1725.1 342.2h0M1725.8 344.7h0M1726.5 343.1h0M1727.2 345.6h0M1727.9 343.9h0M1728.5 345.3h0M1729.2 343.2h0M1729.9 342.2h0M1730.6 342.6h0M1731.3 343.3h0M1732 342.8h0M1732.6 345.6h0M1733.3 345.7h0M1734 344.4h0M1734.7 342.8h0M1735.4 343.9h0M1736.1 343.2h0M1736.7 345.9h0M1737.4 344.5h0M1738.1 344.7h0M1738.8 343.6h0M1739.5 341.6h0M1740.2 343.1h0M1740.8 342.7h0M1741.5 344.5h0M1742.2 344.2h0M1742.9 343h0M1743.6 343.5h0M1744.3 346h0M1744.9 342.8h0M1745.6 342.8h0M1746.3 343.6h0M1747 343h0M1747.7 343.3h0M1748.4 344.4h0M1749 345.8h0M1749.7 341.2h0M1750.4 343.2h0M1751.1 343.1h0M1751.8 342.6h0M1752.5 342h0M1753.1 341.3h0M1753.8 342.4h0M1754.5 339.9h0M1755.2 339.5h0M1755.9 338.9h0M1756.6 338.2h0M1757.2 337.1h0M1757.9 338.1h0M1758.6 336.5h0M1759.3 336.8h0M1760 336.8h0M1760.6 336.2h0M1761.3 337.1h0M1762 337.6h0M1762.7 339.9h0M1763.4 339.4h0M1764.1 339.5h0M1764.7 341.6h0M1765.4 342.4h0M1766.1 339.7h0M1766.8 344.2h0M1767.5 342.2h0M1768.2 342h0M1768.8 343.4h0M1769.5 342h0M1770.2 340.8h0M1770.9 344h0M1771.6 339.4h0M1772.3 340h0M1772.9 340.4h0M1773.6 337h0M1774.3 337h0M1775 336.1h0M1775.7 336.9h0M1776.4 330.5h0M1777 329.2h0M1777.7 327.4h0M1778.4 323.7h0M1779.1 318.9h0M1779.8 318h0M1780.5 314.7h0M1781.1 312.7h0M1781.8 311.9h0M1782.5 311h0M1783.2 310.4h0M1783.9 311.6h0M1784.6 311.7h0M1785.2 315.9h0M1785.9 319.4h0M1786.6 321.7h0M1787.3 325.4h0M1788 327h0M1788.7 332.8h0M1789.3 335.9h0M1790 334.5h0M1790.7 337.2h0M1791.4 337.8h0M1792.1 340.9h0M1792.8 340.7h0M1793.4 341h0M1794.1 341.2h0M1794.8 342.1h0M1795.5 341h0M1796.2 343.3h0M1796.9 341.7h0M1797.5 343.4h0M1798.2 342.9h0M1798.9 344h0M1799.6 342.4h0M1800.3 343.4h0M1801 340.6h0M1801.6 342h0M1802.3 340.4h0M1803 340.2h0M1803.7 339.3h0M1804.4 339.8h0M1805.1 335.4h0M1805.7 338h0M1806.4 335.6h0M1807.1 339.3h0M1807.8 335.7h0M1808.5 337.6h0M1809.2 337.6h0M1809.8 342.6h0M1810.5 339.7h0M1811.2 342.2h0M1811.9 342h0M1812.6 341h0M1813.3 343.3h0M1813.9 344.9h0M1814.6 344.1h0M1815.3 345.7h0M1816 344.2h0M1816.7 344.8h0M1817.4 344.4h0M1818 345.3h0M1818.7 347.3h0M1819.4 345.3h0M1820.1 345h0M1820.8 343.9h0M1821.5 343.5h0M1822.1 346.1h0M1822.8 342.5h0M1823.5 342.3h0M1824.2 342.8h0M1824.9 341.7h0M1825.6 343.9h0M1826.2 337.5h0M1826.9 340.1h0M1827.6 339.6h0M1828.3 336.4h0M1829 336.4h0M1829.7 337.6h0M1830.3 339.2h0M1831 336.4h0M1831.7 336.4h0M1832.4 340.6h0M1833.1 342.3h0M1833.8 340.9h0M1834.4 339.4h0M1835.1 344.9h0M1835.8 343.5h0M1836.5 345.7h0M1837.2 344.7h0M1837.9 344.6h0M1838.5 344.8h0M1839.2 347.5h0M1839.9 347.6h0M1840.6 343.3h0M1841.3 344.9h0M1842 348.4h0M1842.6 345.8h0M1843.3 344.6h0M1844 346.3h0M1844.7 346.3h0M1845.4 346.3h0M1846 345.9h0M1846.7 346.1h0M1847.4 346h0M1848.1 347h0M1848.8 345.6h0M1849.5 346.3h0M1850.1 346.5h0M1850.8 348.4h0M1851.5 347.2h0M1852.2 346.7h0M1852.9 347.5h0M1853.6 347.4h0M1854.2 348.2h0M1854.9 347.5h0M1855.6 349.2h0M1856.3 348.6h0M1857 346.9h0M1857.7 346.5h0M1858.3 348.1h0M1859 347.7h0M1859.7 346.9h0M1860.4 345.2h0M1861.1 344.8h0M1861.8 347.6h0M1862.4 348.1h0M1863.1 348.2h0M1863.8 345.6h0M1864.5 348.5h0M1865.2 346.6h0M1865.9 347.7h0M1866.5 347.8h0M1867.2 346.3h0M1867.9 346.6h0M1868.6 344.7h0M1869.3 346.2h0M1870 345.1h0M1870.6 347.9h0M1871.3 347.5h0M1872 348.6h0M1872.7 347.9h0M1873.4 346.7h0M1874.1 347.9h0M1874.7 347h0M1875.4 348.3h0M1876.1 347.9h0M1876.8 346.3h0M1877.5 347.6h0M1878.2 347.6h0M1878.8 347.2h0M1879.5 348.7h0M1880.2 349.8h0M1880.9 347.2h0M1881.6 347.2h0M1882.3 344.9h0M1882.9 347.5h0M1883.6 347.2h0M1884.3 345h0M1885 348.1h0M1885.7 348.5h0M1886.4 346.9h0M1887 347.3h0M1887.7 346.6h0M1888.4 348.8h0M1889.1 345.9h0M1889.8 347.5h0M1890.5 350.3h0M1891.1 348h0M1891.8 348.5h0M1892.5 347.7h0M1893.2 346.5h0M1893.9 347.9h0M1894.6 348.5h0M1895.2 346.7h0M1895.9 348.4h0M1896.6 349.6h0M1897.3 349.4h0M1898 346.1h0M1898.7 346.9h0M1899.3 346.1h0M1900 349.4h0M1900.7 348.9h0M1901.4 349h0M1902.1 347.1h0M1902.8 346.7h0M1903.4 348.3h0M1904.1 348.3h0M1904.8 347.1h0M1905.5 348.4h0M1906.2 349.1h0M1906.9 348.6h0M1907.5 347h0M1908.2 345.7h0M1908.9 348h0M1909.6 348.5h0M1910.3 348h0M1911 347.8h0M1911.6 347.5h0M1912.3 349.3h0M1913 348.3h0M1913.7 348.6h0M1914.4 347.2h0M1915.1 347.7h0M1915.7 348.7h0M1916.4 347.2h0M1917.1 346.9h0M1917.8 348.1h0M1918.5 350h0M1919.2 348.8h0M1919.8 350.4h0M1920.5 348.4h0M1921.2 348.2h0M1921.9 346.9h0M1922.6 347.9h0M1923.3 350.4h0M1923.9 349.1h0M1924.6 349.6h0M1925.3 349.6h0M1926 348.7h0M1926.7 348.5h0M1927.4 348.9h0M1928 349.6h0M1928.7 349.3h0M1929.4 349.4h0M1930.1 349h0M1930.8 347.9h0M1931.4 348.5h0M1932.1 347.7h0M1932.8 350.1h0M1933.5 346.2h0M1934.2 348.6h0M1934.9 351.9h0M1935.5 348.5h0M1936.2 347.5h0M1936.9 348.9h0M1937.6 350.6h0M1938.3 348.8h0M1939 349.8h0M1939.6 349.1h0M1940.3 348.6h0M1941 353h0M1941.7 349.1h0M1942.4 348.4h0M1943.1 348.5h0M1943.7 349.6h0M1944.4 349.6h0M1945.1 350.1h0M1945.8 349.3h0M1946.5 347.4h0M1947.2 349.8h0M1947.8 348.8h0M1948.5 348.9h0M1949.2 347.4h0M1949.9 348.5h0M1950.6 348.3h0M1951.3 349.2h0M1951.9 347.5h0M1952.6 349.4h0M1953.3 349.5h0M1954 347.9h0M1954.7 348.6h0M1955.4 348.3h0M1956 350.5h0M1956.7 346.2h0M1957.4 349h0M1958.1 347.3h0M1958.8 348.9h0M1959.5 350.5h0M1960.1 348.6h0M1960.8 349.6h0M1961.5 348.4h0M1962.2 351.8h0M1962.9 350.6h0M1963.6 350.8h0M1964.2 347.8h0M1964.9 348h0M1965.6 350.8h0M1966.3 349.2h0M1967 349.1h0M1967.7 349.8h0M1968.3 347.8h0M1969 350.4h0M1969.7 349.4h0M1970.4 350h0M1971.1 348.6h0M1971.8 350h0M1972.4 348.5h0M1973.1 350.6h0M1973.8 350.8h0M1974.5 350.5h0M1975.2 350h0M1975.9 350.2h0M1976.5 346h0M1977.2 350.4h0M1977.9 349h0M1978.6 349.5h0M1979.3 349h0M1980 347.6h0M1980.6 348.7h0M1981.3 350.2h0M1982 351.1h0M1982.7 348.6h0M1983.4 348.2h0M1984.1 351.2h0M1984.7 348.2h0M1985.4 351.9h0M1986.1 349.4h0M1986.8 348.2h0M1987.5 350.5h0M1988.2 351.4h0M1988.8 347.5h0M1989.5 351.2h0M1990.2 348.9h0M1990.9 351.1h0M1991.6 348.7h0M1992.3 347.2h0M1992.9 349.8h0M1993.6 350.3h0M1994.3 351.7h0M1995 351.2h0M1995.7 349.8h0M1996.4 348.6h0M1997 348.1h0M1997.7 348.2h0M1998.4 347.4h0M1999.1 347.8h0M1999.8 344.6h0M2000.5 347.7h0M2001.1 346.9h0M2001.8 349.6h0M2002.5 346.7h0M2003.2 344.5h0M2003.9 345.1h0M2004.6 342.2h0M2005.2 342.5h0M2005.9 340.6h0M2006.6 344.9h0M2007.3 344.1h0M2008 342.3h0M2008.7 344.3h0M2009.3 346.3h0M2010 346.4h0M2010.7 346.9h0M2011.4 345.9h0M2012.1 346.6h0M2012.8 348h0M2013.4 349.3h0M2014.1 347.4h0M2014.8 347.2h0M2015.5 350.2h0M2016.2 347.7h0" stroke="#e80000" stroke-width="9.5" stroke-linecap="round" fill="none"/>
<path d="M1173.8 333.9 1174.5 333.4 1175.1 333.6 1175.8 332.1 1176.5 332.7 1177.2 332.8 1177.9 333 1178.6 332.6 1179.2 333.4 1179.9 332.7 1180.6 332.7 1181.3 332.6 1182 332.9 1182.7 332.1 1183.3 333 1184 332.5 1184.7 332.3 1185.4 332.1 1186.1 332.3 1186.8 332.5 1187.4 332.4 1188.1 332 1188.8 332.2 1189.5 331.6 1190.2 332.3 1190.9 331.4 1191.5 330 1192.2 332 1192.9 331.2 1193.6 330.3 1194.3 330.8 1195 330.3 1195.6 332.1 1196.3 331 1197 329.6 1197.7 330.8 1198.4 330.2 1199.1 331.5 1199.7 329.6 1200.4 328.7 1201.1 330.1 1201.8 329.7 1202.5 329.6 1203.2 328.4 1203.8 330 1204.5 330.7 1205.2 328.3 1205.9 330.2 1206.6 329 1207.3 330.7 1207.9 329.4 1208.6 328.9 1209.3 329.7 1210 329.2 1210.7 328.4 1211.4 329.1 1212 328.3 1212.7 327.4 1213.4 329.7 1214.1 328.1 1214.8 327.8 1215.5 328.3 1216.1 327.1 1216.8 327.1 1217.5 327.5 1218.2 327.4 1218.9 327.7 1219.6 328.3 1220.2 327.2 1220.9 327.7 1221.6 327.7 1222.3 326.5 1223 327.2 1223.7 326.4 1224.3 327.5 1225 327.1 1225.7 326.7 1226.4 325.7 1227.1 326.6 1227.8 325.9 1228.4 326.7 1229.1 326.1 1229.8 325.6 1230.5 326.6 1231.2 326.3 1231.9 325.4 1232.5 326.4 1233.2 325.4 1233.9 325.3 1234.6 325.4 1235.3 324.8 1236 324.9 1236.6 324.9 1237.3 325.9 1238 325.7 1238.7 324.5 1239.4 325.6 1240.1 324.4 1240.7 324.6 1241.4 324.8 1242.1 324.3 1242.8 325.5 1243.5 324 1244.2 323 1244.8 324.5 1245.5 323.3 1246.2 323.2 1246.9 321.4 1247.6 323.8 1248.2 323.5 1248.9 323.4 1249.6 323.4 1250.3 323.7 1251 322.5 1251.7 323 1252.3 321.8 1253 321.9 1253.7 322.7 1254.4 322.1 1255.1 320.9 1255.8 321.8 1256.4 321.3 1257.1 320.8 1257.8 321.4 1258.5 320.8 1259.2 319.9 1259.9 320 1260.5 321.7 1261.2 319.4 1261.9 320.4 1262.6 320.4 1263.3 320.3 1264 318.9 1264.6 319.3 1265.3 319.4 1266 319.6 1266.7 318.5 1267.4 318 1268.1 319.1 1268.7 319 1269.4 318.3 1270.1 317.4 1270.8 317.8 1271.5 317.4 1272.2 317.6 1272.8 316 1273.5 316.6 1274.2 316.1 1274.9 315.2 1275.6 315.7 1276.3 315.3 1276.9 314.6 1277.6 314.8 1278.3 313.3 1279 313.7 1279.7 313.6 1280.4 313 1281 313.1 1281.7 311.2 1282.4 310.4 1283.1 311 1283.8 310.5 1284.5 310.9 1285.1 309.3 1285.8 307.7 1286.5 308 1287.2 306.2 1287.9 304.9 1288.6 306.6 1289.2 304.1 1289.9 303.3 1290.6 302.1 1291.3 301.6 1292 299.4 1292.7 298.5 1293.3 295.5 1294 293.5 1294.7 293.3 1295.4 291.1 1296.1 287.8 1296.8 284.5 1297.4 280.5 1298.1 275.1 1298.8 270.4 1299.5 262 1300.2 252.1 1300.9 239.9 1301.5 225.6 1302.2 207.8 1302.9 188 1303.6 165 1304.3 143.2 1305 121.7 1305.6 99.8 1306.3 84.6 1307 76.7 1307.7 76.7 1308.4 84.9 1309.1 98.9 1309.7 120.3 1310.4 141.7 1311.1 164.7 1311.8 187.3 1312.5 206.6 1313.2 224.7 1313.8 240.8 1314.5 251.4 1315.2 261 1315.9 267.7 1316.6 273.9 1317.3 278.4 1317.9 282.5 1318.6 285.2 1319.3 288 1320 290.4 1320.7 291.8 1321.4 293.2 1322 294.7 1322.7 297.1 1323.4 298.1 1324.1 299.8 1324.8 300.8 1325.5 300.9 1326.1 302.4 1326.8 301.9 1327.5 304.9 1328.2 304.9 1328.9 304.7 1329.6 304.6 1330.2 306.1 1330.9 305.2 1331.6 306.4 1332.3 307.7 1333 307.7 1333.6 307.7 1334.3 308.9 1335 308 1335.7 309.1 1336.4 308.8 1337.1 308.8 1337.7 309.8 1338.4 309 1339.1 310.9 1339.8 309.3 1340.5 310.8 1341.2 308.7 1341.8 309.6 1342.5 308.1 1343.2 307.6 1343.9 308 1344.6 307.8 1345.3 306.1 1345.9 307.2 1346.6 305.6 1347.3 306.1 1348 306.4 1348.7 306.9 1349.4 306 1350 308.8 1350.7 308.9 1351.4 309 1352.1 309.3 1352.8 309.5 1353.5 310.3 1354.1 311.9 1354.8 311.8 1355.5 311.6 1356.2 312.2 1356.9 313.7 1357.6 312.7 1358.2 312.7 1358.9 314 1359.6 313.5 1360.3 313.3 1361 313 1361.7 312.4 1362.3 312.7 1363 313.2 1363.7 313.3 1364.4 313.7 1365.1 313.8 1365.8 313.6 1366.4 313.5 1367.1 312.7 1367.8 311.9 1368.5 312.8 1369.2 312.4 1369.9 312.5 1370.5 312.5 1371.2 311.6 1371.9 311.3 1372.6 311.5 1373.3 311.1 1374 309.8 1374.6 309.6 1375.3 307.9 1376 305.9 1376.7 304.6 1377.4 303.4 1378.1 299.1 1378.7 297 1379.4 293.4 1380.1 289.4 1380.8 283.6 1381.5 280.9 1382.2 275.3 1382.8 271 1383.5 267.7 1384.2 266.1 1384.9 265 1385.6 265.7 1386.3 268.9 1386.9 271 1387.6 274.9 1388.3 280.6 1389 285.1 1389.7 289.8 1390.4 292.6 1391 297.7 1391.7 300.7 1392.4 304.4 1393.1 304.9 1393.8 307.8 1394.5 309.2 1395.1 309.7 1395.8 311.3 1396.5 313.3 1397.2 313 1397.9 313.4 1398.6 314.8 1399.2 315.2 1399.9 315.5 1400.6 314.7 1401.3 315.4 1402 316.3 1402.7 315.4 1403.3 315.5 1404 316.6 1404.7 317.2 1405.4 315.7 1406.1 315 1406.8 315.9 1407.4 316.3 1408.1 317 1408.8 317.6 1409.5 317.2 1410.2 317 1410.9 317.6 1411.5 316.9 1412.2 317.4 1412.9 316.9 1413.6 318.8 1414.3 317.3 1415 315.9 1415.6 315.3 1416.3 315.1 1417 313.7 1417.7 313.6 1418.4 313 1419 313.6 1419.7 312.5 1420.4 312.4 1421.1 312.4 1421.8 313.2 1422.5 314.7 1423.1 315.5 1423.8 317.3 1424.5 317.1 1425.2 319 1425.9 319.2 1426.6 319.7 1427.2 319 1427.9 319.9 1428.6 321.6 1429.3 322.3 1430 321.8 1430.7 322.4 1431.3 321.9 1432 322.1 1432.7 322.1 1433.4 323.3 1434.1 323.1 1434.8 322.9 1435.4 322.9 1436.1 323.6 1436.8 323.6 1437.5 323.1 1438.2 324.8 1438.9 324 1439.5 324 1440.2 325 1440.9 324.9 1441.6 324.3 1442.3 324.7 1443 323.8 1443.6 324.1 1444.3 323.1 1445 325.2 1445.7 323.2 1446.4 324.8 1447.1 323.7 1447.7 323.4 1448.4 323.7 1449.1 323.7 1449.8 323.6 1450.5 324 1451.2 322.7 1451.8 322.7 1452.5 321.4 1453.2 322 1453.9 321.6 1454.6 321.3 1455.3 321.8 1455.9 322.2 1456.6 322.9 1457.3 323.5 1458 323.4 1458.7 323.7 1459.4 325.1 1460 323.9 1460.7 324.9 1461.4 326.5 1462.1 324 1462.8 325.5 1463.5 326.5 1464.1 325.1 1464.8 327.9 1465.5 324.7 1466.2 327.3 1466.9 327.4 1467.6 327.1 1468.2 326.5 1468.9 326.9 1469.6 326.2 1470.3 327.3 1471 326.1 1471.7 326.7 1472.3 327.5 1473 326.2 1473.7 326.7 1474.4 327.1 1475.1 326.1 1475.8 327.7 1476.4 327.1 1477.1 325.8 1477.8 326.5 1478.5 325.8 1479.2 325.6 1479.9 325.6 1480.5 324.5 1481.2 324.9 1481.9 323 1482.6 323.2 1483.3 321.6 1484 321.2 1484.6 319.5 1485.3 318.9 1486 318.3 1486.7 319.5 1487.4 320.3 1488.1 321.9 1488.7 322.4 1489.4 322.9 1490.1 323.7 1490.8 325 1491.5 325.7 1492.2 327.4 1492.8 327.7 1493.5 327.1 1494.2 327.6 1494.9 329.3 1495.6 328.9 1496.3 328.8 1496.9 329.9 1497.6 329 1498.3 329.2 1499 329.2 1499.7 328.4 1500.4 330.3 1501 329.1 1501.7 329.6 1502.4 329.6 1503.1 330.6 1503.8 330.2 1504.4 330.3 1505.1 329.3 1505.8 330.4 1506.5 329.6 1507.2 330.8 1507.9 331 1508.5 330.8 1509.2 332.2 1509.9 331.3 1510.6 331.4 1511.3 331.2 1512 331.1 1512.6 331.9 1513.3 332.1 1514 330.6 1514.7 332.2 1515.4 331.9 1516.1 332.3 1516.7 332.1 1517.4 331.1 1518.1 331.2 1518.8 333.1 1519.5 332.2 1520.2 331.2 1520.8 332.4 1521.5 332 1522.2 331.2 1522.9 331 1523.6 331.5 1524.3 332.7 1524.9 332.6 1525.6 332.5 1526.3 332.9 1527 333.2 1527.7 331.5 1528.4 332.7 1529 332.4 1529.7 332.2 1530.4 332.6 1531.1 332.9 1531.8 332.8 1532.5 332.1 1533.1 332.7 1533.8 334.2 1534.5 332.3 1535.2 331.9 1535.9 333 1536.6 333.2 1537.2 332.9 1537.9 331.8 1538.6 332.9 1539.3 331.4 1540 330.7 1540.7 330.5 1541.3 330.1 1542 329.8 1542.7 328.7 1543.4 327.2 1544.1 326.6 1544.8 324.9 1545.4 324.4 1546.1 322.2 1546.8 321.8 1547.5 323.5 1548.2 322.7 1548.9 324.4 1549.5 325.7 1550.2 326.7 1550.9 328 1551.6 330.3 1552.3 328.8 1553 331.8 1553.6 333.4 1554.3 332.6 1555 333.1 1555.7 333.9 1556.4 334.9 1557.1 333.2 1557.7 334.2 1558.4 334.2 1559.1 334.8 1559.8 334.6 1560.5 335.1 1561.2 334.5 1561.8 334.8 1562.5 334.5 1563.2 334.5 1563.9 334.9 1564.6 335 1565.3 334.4 1565.9 336.2 1566.6 335.2 1567.3 334.5 1568 336.1 1568.7 335 1569.4 335.8 1570 335.5 1570.7 335.7 1571.4 335.7 1572.1 335.2 1572.8 335.6 1573.5 336.9 1574.1 334.3 1574.8 335.8 1575.5 336 1576.2 335.1 1576.9 334.9 1577.6 337.2 1578.2 335.6 1578.9 337.2 1579.6 336.2 1580.3 336 1581 336.2 1581.7 336.4 1582.3 336.7 1583 336.3 1583.7 336.1 1584.4 336.1 1585.1 336.9 1585.8 336.6 1586.4 335.4 1587.1 335.7 1587.8 336.3 1588.5 335.7 1589.2 335.9 1589.8 335.5 1590.5 336 1591.2 336.4 1591.9 336.7 1592.6 336.1 1593.3 337.4 1593.9 336 1594.6 338 1595.3 336.6 1596 336.2 1596.7 335.4 1597.4 333.8 1598 335.3 1598.7 335.3 1599.4 336.1 1600.1 333.7 1600.8 335.4 1601.5 333.7 1602.1 334 1602.8 331.6 1603.5 333.1 1604.2 332.8 1604.9 333.5 1605.6 333.3 1606.2 332.8 1606.9 334.4 1607.6 334.6 1608.3 334.8 1609 335.3 1609.7 335.6 1610.3 335 1611 334.3 1611.7 334.3 1612.4 336 1613.1 335.6 1613.8 335.1 1614.4 334.7 1615.1 334.8 1615.8 334.7 1616.5 334.2 1617.2 333.7 1617.9 335.2 1618.5 333.6 1619.2 332.5 1619.9 331.4 1620.6 330.8 1621.3 330.6 1622 329.2 1622.6 326.9 1623.3 324.9 1624 322.1 1624.7 318.6 1625.4 316.6 1626.1 312.1 1626.7 309.1 1627.4 302.5 1628.1 298.3 1628.8 294.5 1629.5 289.9 1630.2 286.3 1630.8 285.1 1631.5 285.8 1632.2 287.6 1632.9 290.3 1633.6 295 1634.3 299.5 1634.9 303.9 1635.6 308.4 1636.3 312.6 1637 317.2 1637.7 321 1638.4 323.6 1639 326.6 1639.7 328.3 1640.4 329.5 1641.1 331.3 1641.8 333.7 1642.5 334.5 1643.1 336 1643.8 335.7 1644.5 336.8 1645.2 337.6 1645.9 337.7 1646.6 337.1 1647.2 337.7 1647.9 338.1 1648.6 337.7 1649.3 338.8 1650 339.4 1650.7 338.6 1651.3 340.3 1652 339.1 1652.7 339.3 1653.4 339.4 1654.1 339.3 1654.8 340.1 1655.4 340 1656.1 341.1 1656.8 340.6 1657.5 340.7 1658.2 340.3 1658.9 339.7 1659.5 340.6 1660.2 340.2 1660.9 341.4 1661.6 340.9 1662.3 342.1 1663 341.6 1663.6 341.7 1664.3 341.4 1665 341.5 1665.7 341.9 1666.4 342.1 1667.1 341.2 1667.7 342 1668.4 343.4 1669.1 341.8 1669.8 341.8 1670.5 341.6 1671.2 341.2 1671.8 342.9 1672.5 342.3 1673.2 342.5 1673.9 343.5 1674.6 344 1675.2 342 1675.9 343.2 1676.6 343 1677.3 343 1678 343.1 1678.7 342.8 1679.3 343.9 1680 343.4 1680.7 343.2 1681.4 343.8 1682.1 343.6 1682.8 343.3 1683.4 343.3 1684.1 344.2 1684.8 343.4 1685.5 343.1 1686.2 342.6 1686.9 342.9 1687.5 342.5 1688.2 343.2 1688.9 343.3 1689.6 341.9 1690.3 343.2 1691 343.6 1691.6 343.3 1692.3 342.6 1693 344 1693.7 342.8 1694.4 342.5 1695.1 342.5 1695.7 343.2 1696.4 343.8 1697.1 343.9 1697.8 343.3 1698.5 342.4 1699.2 342.6 1699.8 342.4 1700.5 342.8 1701.2 341.6 1701.9 342.6 1702.6 342.7 1703.3 341.8 1703.9 341.8 1704.6 340.5 1705.3 339.6 1706 339.5 1706.7 340.1 1707.4 339.4 1708 338.1 1708.7 338.8 1709.4 337.8 1710.1 339.2 1710.8 338.9 1711.5 338.9 1712.1 340.3 1712.8 339.9 1713.5 340.4 1714.2 340.6 1714.9 342.1 1715.6 342.3 1716.2 342.6 1716.9 342.7 1717.6 344 1718.3 343 1719 343 1719.7 344.3 1720.3 344.5 1721 343.9 1721.7 342.6 1722.4 343.4 1723.1 344.2 1723.8 343.8 1724.4 344.8 1725.1 343 1725.8 344.3 1726.5 343.5 1727.2 344.8 1727.9 343.9 1728.5 344.6 1729.2 343.6 1729.9 343.1 1730.6 343.3 1731.3 343.6 1732 343.4 1732.6 344.8 1733.3 344.9 1734 344.2 1734.7 343.4 1735.4 344 1736.1 343.7 1736.7 345 1737.4 344.3 1738.1 344.4 1738.8 343.8 1739.5 342.8 1740.2 343.6 1740.8 343.4 1741.5 344.3 1742.2 344.1 1742.9 343.5 1743.6 343.8 1744.3 345 1744.9 343.4 1745.6 343.4 1746.3 343.8 1747 343.4 1747.7 343.5 1748.4 344 1749 344.7 1749.7 342.3 1750.4 343.2 1751.1 343 1751.8 342.6 1752.5 342.1 1753.1 341.5 1753.8 341.8 1754.5 340.2 1755.2 339.6 1755.9 338.9 1756.6 338.1 1757.2 337.2 1757.9 337.4 1758.6 336.5 1759.3 336.7 1760 336.9 1760.6 336.9 1761.3 337.7 1762 338.3 1762.7 339.8 1763.4 339.9 1764.1 340.2 1764.7 341.5 1765.4 342 1766.1 340.8 1766.8 343.2 1767.5 342.2 1768.2 342.1 1768.8 342.7 1769.5 341.9 1770.2 341.2 1770.9 342.6 1771.6 340.1 1772.3 340.1 1772.9 339.9 1773.6 337.7 1774.3 337 1775 335.8 1775.7 335.3 1776.4 331.1 1777 329.2 1777.7 327 1778.4 323.7 1779.1 319.8 1779.8 317.7 1780.5 314.6 1781.1 312.3 1781.8 311 1782.5 310.2 1783.2 310.1 1783.9 311.3 1784.6 312.6 1785.2 316 1785.9 319.2 1786.6 322 1787.3 325.3 1788 327.6 1788.7 331.7 1789.3 334.4 1790 334.8 1790.7 337 1791.4 338 1792.1 340 1792.8 340.4 1793.4 340.9 1794.1 341.3 1794.8 342 1795.5 341.6 1796.2 342.9 1796.9 342.2 1797.5 343 1798.2 342.8 1798.9 343.3 1799.6 342.4 1800.3 342.8 1801 341.2 1801.6 341.6 1802.3 340.5 1803 340.1 1803.7 339.3 1804.4 339.2 1805.1 336.7 1805.7 337.8 1806.4 336.6 1807.1 338.5 1807.8 337 1808.5 338.3 1809.2 338.7 1809.8 341.6 1810.5 340.5 1811.2 342.1 1811.9 342.4 1812.6 342.1 1813.3 343.5 1813.9 344.5 1814.6 344.2 1815.3 345.1 1816 344.4 1816.7 344.8 1817.4 344.6 1818 345.1 1818.7 346.1 1819.4 345.1 1820.1 344.9 1820.8 344.3 1821.5 344 1822.1 345.2 1822.8 343.2 1823.5 342.9 1824.2 342.8 1824.9 341.9 1825.6 342.6 1826.2 339.1 1826.9 339.8 1827.6 339.1 1828.3 337.2 1829 336.9 1829.7 337.3 1830.3 338.2 1831 337.1 1831.7 337.4 1832.4 340 1833.1 341.3 1833.8 341.1 1834.4 340.8 1835.1 343.9 1835.8 343.6 1836.5 345 1837.2 344.7 1837.9 344.9 1838.5 345.1 1839.2 346.5 1839.9 346.7 1840.6 344.6 1841.3 345.5 1842 347.2 1842.6 346 1843.3 345.4 1844 346.3 1844.7 346.3 1845.4 346.4 1846 346.2 1846.7 346.3 1847.4 346.3 1848.1 346.8 1848.8 346.1 1849.5 346.5 1850.1 346.6 1850.8 347.6 1851.5 347 1852.2 346.7 1852.9 347.2 1853.6 347.1 1854.2 347.6 1854.9 347.2 1855.6 348 1856.3 347.8 1857 346.9 1857.7 346.7 1858.3 347.6 1859 347.4 1859.7 347 1860.4 346.2 1861.1 346 1861.8 347.3 1862.4 347.6 1863.1 347.7 1863.8 346.4 1864.5 347.9 1865.2 346.9 1865.9 347.5 1866.5 347.5 1867.2 346.8 1867.9 346.9 1868.6 346 1869.3 346.8 1870 346.2 1870.6 347.7 1871.3 347.4 1872 348 1872.7 347.7 1873.4 347.1 1874.1 347.7 1874.7 347.2 1875.4 347.9 1876.1 347.7 1876.8 346.9 1877.5 347.6 1878.2 347.6 1878.8 347.4 1879.5 348.2 1880.2 348.7 1880.9 347.4 1881.6 347.4 1882.3 346.3 1882.9 347.6 1883.6 347.4 1884.3 346.4 1885 347.9 1885.7 348.1 1886.4 347.3 1887 347.6 1887.7 347.2 1888.4 348.3 1889.1 346.9 1889.8 347.7 1890.5 349.1 1891.1 347.9 1891.8 348.2 1892.5 347.8 1893.2 347.2 1893.9 347.9 1894.6 348.2 1895.2 347.4 1895.9 348.2 1896.6 348.8 1897.3 348.7 1898 347.1 1898.7 347.5 1899.3 347.1 1900 348.8 1900.7 348.5 1901.4 348.6 1902.1 347.6 1902.8 347.4 1903.4 348.2 1904.1 348.3 1904.8 347.7 1905.5 348.3 1906.2 348.7 1906.9 348.4 1907.5 347.6 1908.2 347 1908.9 348.2 1909.6 348.4 1910.3 348.2 1911 348.1 1911.6 347.9 1912.3 348.8 1913 348.4 1913.7 348.5 1914.4 347.8 1915.1 348.1 1915.7 348.6 1916.4 347.9 1917.1 347.7 1917.8 348.3 1918.5 349.3 1919.2 348.7 1919.8 349.5 1920.5 348.5 1921.2 348.4 1921.9 347.7 1922.6 348.3 1923.3 349.5 1923.9 348.9 1924.6 349.1 1925.3 349.1 1926 348.7 1926.7 348.6 1927.4 348.8 1928 349.2 1928.7 349.1 1929.4 349.1 1930.1 348.9 1930.8 348.3 1931.4 348.7 1932.1 348.3 1932.8 349.5 1933.5 347.6 1934.2 348.8 1934.9 350.4 1935.5 348.7 1936.2 348.2 1936.9 348.9 1937.6 349.8 1938.3 348.9 1939 349.4 1939.6 349.1 1940.3 348.8 1941 351 1941.7 349.1 1942.4 348.7 1943.1 348.8 1943.7 349.3 1944.4 349.4 1945.1 349.6 1945.8 349.2 1946.5 348.3 1947.2 349.5 1947.8 349 1948.5 349 1949.2 348.3 1949.9 348.9 1950.6 348.8 1951.3 349.2 1951.9 348.4 1952.6 349.3 1953.3 349.4 1954 348.6 1954.7 349 1955.4 348.8 1956 349.9 1956.7 347.8 1957.4 349.2 1958.1 348.4 1958.8 349.1 1959.5 349.9 1960.1 349 1960.8 349.5 1961.5 348.9 1962.2 350.6 1962.9 350 1963.6 350.1 1964.2 348.6 1964.9 348.7 1965.6 350.1 1966.3 349.3 1967 349.2 1967.7 349.6 1968.3 348.6 1969 349.9 1969.7 349.4 1970.4 349.7 1971.1 349 1971.8 349.7 1972.4 349 1973.1 350 1973.8 350.1 1974.5 350 1975.2 349.7 1975.9 349.8 1976.5 347.7 1977.2 349.9 1977.9 349.2 1978.6 349.4 1979.3 349.2 1980 348.5 1980.6 349 1981.3 349.8 1982 350.2 1982.7 349 1983.4 348.8 1984.1 350.2 1984.7 348.8 1985.4 350.6 1986.1 349.3 1986.8 348.8 1987.5 349.9 1988.2 350.3 1988.8 348.4 1989.5 350.2 1990.2 349.1 1990.9 350.2 1991.6 349 1992.3 348.2 1992.9 349.5 1993.6 349.7 1994.3 350.4 1995 350.1 1995.7 349.4 1996.4 348.7 1997 348.4 1997.7 348.4 1998.4 347.9 1999.1 348 1999.8 346.2 2000.5 347.5 2001.1 346.9 2001.8 348 2002.5 346.2 2003.2 344.8 2003.9 344.8 2004.6 343 2005.2 342.9 2005.9 341.9 2006.6 343.9 2007.3 343.7 2008 343.1 2008.7 344.4 2009.3 345.7 2010 346.1 2010.7 346.6 2011.4 346.4 2012.1 347 2012.8 347.9 2013.4 348.7 2014.1 347.9 2014.8 347.9 2015.5 349.5 2016.2 348.3" stroke="#200000" stroke-width="4.2" stroke-linejoin="round" fill="none"/>
</g>
<path d="M1173.8 465.6 1174.5 466 1175.1 466.2 1175.8 466.3 1176.5 466.2 1177.2 465.7 1177.9 465.4 1178.6 465.4 1179.2 465.9 1179.9 466.3 1180.6 466.6 1181.3 466.4 1182 466.2 1182.7 465.9 1183.3 465.8 1184 465.8 1184.7 465.4 1185.4 465.6 1186.1 465.4 1186.8 465.7 1187.4 465.2 1188.1 465.6 1188.8 465.3 1189.5 465.8 1190.2 465.2 1190.9 465.4 1191.5 465.4 1192.2 465.6 1192.9 465.7 1193.6 465.4 1194.3 465.1 1195 465.1 1195.6 465.3 1196.3 465.5 1197 465.6 1197.7 465.3 1198.4 465.4 1199.1 465.2 1199.7 465.3 1200.4 465.9 1201.1 465.6 1201.8 465.9 1202.5 465.6 1203.2 465.5 1203.8 465.1 1204.5 465 1205.2 465.3 1205.9 465.7 1206.6 465.8 1207.3 465.8 1207.9 465.5 1208.6 464.8 1209.3 464.9 1210 464.9 1210.7 465.5 1211.4 465.5 1212 465.4 1212.7 465.7 1213.4 465.9 1214.1 466.3 1214.8 465.7 1215.5 465.5 1216.1 465.2 1216.8 465.3 1217.5 465.2 1218.2 465.4 1218.9 465.5 1219.6 465.8 1220.2 465.6 1220.9 465.8 1221.6 465.8 1222.3 465.3 1223 465 1223.7 464.9 1224.3 465.7 1225 465.7 1225.7 465.7 1226.4 465.4 1227.1 465.6 1227.8 465.5 1228.4 465.5 1229.1 465.2 1229.8 465.4 1230.5 465.5 1231.2 465.3 1231.9 465.3 1232.5 465.2 1233.2 465.7 1233.9 465.6 1234.6 466 1235.3 466.1 1236 465.9 1236.6 465.7 1237.3 465.2 1238 465.6 1238.7 465.8 1239.4 466.3 1240.1 465.9 1240.7 465.4 1241.4 465.4 1242.1 465.5 1242.8 466 1243.5 465.7 1244.2 465.8 1244.8 465.8 1245.5 465.5 1246.2 465.6 1246.9 465.4 1247.6 465.6 1248.2 465.7 1248.9 466 1249.6 466.1 1250.3 465.3 1251 465.2 1251.7 465.4 1252.3 465.7 1253 465.4 1253.7 465.2 1254.4 464.9 1255.1 465.2 1255.8 465.6 1256.4 466 1257.1 465.8 1257.8 465.7 1258.5 465.6 1259.2 465.7 1259.9 465.6 1260.5 465.9 1261.2 466 1261.9 466.2 1262.6 465.7 1263.3 465.7 1264 465.2 1264.6 465.3 1265.3 465.5 1266 466.3 1266.7 466.5 1267.4 466.4 1268.1 466 1268.7 465.6 1269.4 465.5 1270.1 465.6 1270.8 465.5 1271.5 465.8 1272.2 465.4 1272.8 465.2 1273.5 464.8 1274.2 464.7 1274.9 464.8 1275.6 465.2 1276.3 465.5 1276.9 465.8 1277.6 465.8 1278.3 466.1 1279 466 1279.7 466 1280.4 465.8 1281 465.9 1281.7 465.8 1282.4 465.4 1283.1 465.2 1283.8 465.1 1284.5 465.5 1285.1 465.6 1285.8 465.6 1286.5 465.7 1287.2 466.1 1287.9 466.2 1288.6 466.3 1289.2 465.9 1289.9 465.7 1290.6 465.5 1291.3 465.5 1292 465.5 1292.7 465.7 1293.3 465.7 1294 465.6 1294.7 465.3 1295.4 465.6 1296.1 465.6 1296.8 465.5 1297.4 464.6 1298.1 464.1 1298.8 463.3 1299.5 462.9 1300.2 463.2 1300.9 463.3 1301.5 464.4 1302.2 465.1 1302.9 467 1303.6 468.7 1304.3 470.6 1305 471.5 1305.6 470.5 1306.3 468.6 1307 465.4 1307.7 462.9 1308.4 459.6 1309.1 457.6 1309.7 455.9 1310.4 456.1 1311.1 457 1311.8 459.1 1312.5 460.9 1313.2 462.8 1313.8 463.7 1314.5 464.4 1315.2 465.1 1315.9 465.3 1316.6 465.3 1317.3 465.2 1317.9 465.2 1318.6 465.5 1319.3 465.7 1320 465.8 1320.7 466.1 1321.4 465.8 1322 466.3 1322.7 466.5 1323.4 466.6 1324.1 466.4 1324.8 466.1 1325.5 466.3 1326.1 466.7 1326.8 466.7 1327.5 467 1328.2 466.7 1328.9 467 1329.6 466.6 1330.2 467.5 1330.9 467.9 1331.6 468.5 1332.3 468.1 1333 468.5 1333.6 468.2 1334.3 468.5 1335 468.9 1335.7 469.4 1336.4 469.6 1337.1 469.4 1337.7 469.4 1338.4 469.5 1339.1 469.6 1339.8 469.8 1340.5 469.8 1341.2 469.5 1341.8 469.5 1342.5 469.3 1343.2 469.6 1343.9 469.5 1344.6 469.3 1345.3 468.3 1345.9 468.1 1346.6 468.1 1347.3 468.2 1348 467.4 1348.7 466.8 1349.4 466.9 1350 466.9 1350.7 466.8 1351.4 466.4 1352.1 466.6 1352.8 466.4 1353.5 466.1 1354.1 465.6 1354.8 465.7 1355.5 465.7 1356.2 465.6 1356.9 464.8 1357.6 464.2 1358.2 464.2 1358.9 464.1 1359.6 464.3 1360.3 464.1 1361 464.1 1361.7 463.9 1362.3 463.8 1363 463.5 1363.7 463.1 1364.4 463.4 1365.1 463.2 1365.8 463.1 1366.4 462.8 1367.1 462.9 1367.8 462.8 1368.5 462.3 1369.2 462.4 1369.9 462.8 1370.5 463.3 1371.2 463.3 1371.9 463.4 1372.6 463 1373.3 463.2 1374 463 1374.6 463.5 1375.3 463.8 1376 464.5 1376.7 464.5 1377.4 464.9 1378.1 464.9 1378.7 465.2 1379.4 465.1 1380.1 465 1380.8 465.3 1381.5 465.4 1382.2 465.5 1382.8 465.4 1383.5 465 1384.2 464.7 1384.9 463.9 1385.6 463.6 1386.3 463.1 1386.9 463 1387.6 462.8 1388.3 462.8 1389 462.5 1389.7 462.3 1390.4 462.3 1391 462.9 1391.7 463.5 1392.4 463.9 1393.1 464.4 1393.8 464.7 1394.5 464.7 1395.1 464.5 1395.8 464.4 1396.5 464.5 1397.2 464.9 1397.9 465.2 1398.6 465.4 1399.2 465.4 1399.9 465.5 1400.6 465.6 1401.3 465.7 1402 465.7 1402.7 465.6 1403.3 465.3 1404 465.3 1404.7 465.5 1405.4 465.7 1406.1 465.5 1406.8 465.9 1407.4 465.8 1408.1 465.9 1408.8 465.5 1409.5 465.4 1410.2 465.4 1410.9 465.7 1411.5 466.2 1412.2 466.3 1412.9 466 1413.6 465.9 1414.3 465.9 1415 465.8 1415.6 465.7 1416.3 465.5 1417 465.7 1417.7 465.9 1418.4 466 1419 465.4 1419.7 465.6 1420.4 465.9 1421.1 466.6 1421.8 466.3 1422.5 465.6 1423.1 465.4 1423.8 465.3 1424.5 465.6 1425.2 465.4 1425.9 465.8 1426.6 466 1427.2 465.7 1427.9 465.5 1428.6 465.1 1429.3 465.2 1430 465.1 1430.7 465.2 1431.3 465.6 1432 465.5 1432.7 465.7 1433.4 465.9 1434.1 466.3 1434.8 466.2 1435.4 465.8 1436.1 465.5 1436.8 465.5 1437.5 465.5 1438.2 465.9 1438.9 466.3 1439.5 466.4 1440.2 466.3 1440.9 466.1 1441.6 465.7 1442.3 465.4 1443 465 1443.6 465.2 1444.3 465.5 1445 465.5 1445.7 466 1446.4 466.2 1447.1 466.4 1447.7 466 1448.4 465.8 1449.1 465.8 1449.8 465.7 1450.5 465.6 1451.2 465.6 1451.8 465.9 1452.5 466.1 1453.2 466.2 1453.9 466 1454.6 465.7 1455.3 465.3 1455.9 465.6 1456.6 465.4 1457.3 465.7 1458 465.7 1458.7 466.1 1459.4 465.8 1460 465.5 1460.7 465.6 1461.4 465.6 1462.1 466.2 1462.8 465.9 1463.5 466.1 1464.1 466.2 1464.8 466.2 1465.5 466.3 1466.2 465.7 1466.9 465.8 1467.6 465.4 1468.2 465.7 1468.9 465.5 1469.6 465.6 1470.3 466 1471 465.6 1471.7 465.6 1472.3 465.1 1473 465.7 1473.7 465.6 1474.4 465.8 1475.1 465.5 1475.8 465.7 1476.4 465.9 1477.1 465.9 1477.8 465.7 1478.5 465.2 1479.2 465.4 1479.9 465.5 1480.5 465.7 1481.2 465.9 1481.9 465.3 1482.6 465 1483.3 464.5 1484 464.9 1484.6 465.2 1485.3 465.5 1486 465.6 1486.7 465.7 1487.4 465.6 1488.1 465.4 1488.7 465 1489.4 465.5 1490.1 465.3 1490.8 465.5 1491.5 465.4 1492.2 466 1492.8 465.8 1493.5 465.5 1494.2 465.6 1494.9 466 1495.6 465.8 1496.3 465.8 1496.9 465.6 1497.6 466 1498.3 466.1 1499 466 1499.7 465.5 1500.4 465.3 1501 465.7 1501.7 466.2 1502.4 466.1 1503.1 466.3 1503.8 465.9 1504.4 466.1 1505.1 465.5 1505.8 465.7 1506.5 465.5 1507.2 465.9 1507.9 465.7 1508.5 465.6 1509.2 465 1509.9 465.3 1510.6 465.3 1511.3 465.7 1512 465.4 1512.6 465.4 1513.3 465.5 1514 465.7 1514.7 465.9 1515.4 465.8 1516.1 465.8 1516.7 465.3 1517.4 465.4 1518.1 465.5 1518.8 466 1519.5 465.4 1520.2 465.1 1520.8 464.4 1521.5 464.7 1522.2 465.2 1522.9 465.7 1523.6 465.9 1524.3 465.7 1524.9 465.8 1525.6 465.7 1526.3 465.8 1527 465.6 1527.7 465.3 1528.4 465.1 1529 465.4 1529.7 465.7 1530.4 465.8 1531.1 465.4 1531.8 465.4 1532.5 465.6 1533.1 465.7 1533.8 465.6 1534.5 464.7 1535.2 464.7 1535.9 464.5 1536.6 464.7 1537.2 465 1537.9 465.5 1538.6 465.5 1539.3 465.5 1540 465.5 1540.7 465.7 1541.3 465.7 1542 465.3 1542.7 465.2 1543.4 464.7 1544.1 464.8 1544.8 465.3 1545.4 465.3 1546.1 465.3 1546.8 464.9 1547.5 465.2 1548.2 465.4 1548.9 465.7 1549.5 465.6 1550.2 465.4 1550.9 465.1 1551.6 465.2 1552.3 465.3 1553 465.5 1553.6 465.8 1554.3 465.9 1555 465.9 1555.7 465.8 1556.4 465.7 1557.1 465.6 1557.7 465.1 1558.4 465.3 1559.1 465.6 1559.8 465.7 1560.5 465.7 1561.2 465.8 1561.8 466 1562.5 465.7 1563.2 465.5 1563.9 465.3 1564.6 465.8 1565.3 465.7 1565.9 465.6 1566.6 465.3 1567.3 465 1568 465.1 1568.7 465.1 1569.4 465.6 1570 465.4 1570.7 465.4 1571.4 465.1 1572.1 465.1 1572.8 465.3 1573.5 465.4 1574.1 465.7 1574.8 465.4 1575.5 465.5 1576.2 465 1576.9 465.2 1577.6 465 1578.2 465.5 1578.9 465.6 1579.6 465.7 1580.3 465.7 1581 465.7 1581.7 465.9 1582.3 465.9 1583 465.8 1583.7 465.7 1584.4 465.6 1585.1 465.5 1585.8 465.6 1586.4 465.8 1587.1 466 1587.8 465.9 1588.5 465.4 1589.2 465.2 1589.8 465.3 1590.5 465.8 1591.2 465.7 1591.9 465.7 1592.6 465.6 1593.3 465.6 1593.9 465.6 1594.6 465.8 1595.3 466.2 1596 466.3 1596.7 466 1597.4 465.6 1598 465.5 1598.7 465.5 1599.4 465.7 1600.1 465.5 1600.8 465.5 1601.5 465.4 1602.1 465.6 1602.8 465.9 1603.5 466 1604.2 465.6 1604.9 465.1 1605.6 464.7 1606.2 464.9 1606.9 465.2 1607.6 465.6 1608.3 465.6 1609 465.6 1609.7 465.4 1610.3 465.2 1611 464.9 1611.7 464.8 1612.4 465.4 1613.1 465.4 1613.8 465.8 1614.4 465.8 1615.1 466 1615.8 465.8 1616.5 465.4 1617.2 465.4 1617.9 465.6 1618.5 465.7 1619.2 465.9 1619.9 466 1620.6 466.1 1621.3 465.9 1622 465.7 1622.6 465.7 1623.3 465.4 1624 465.5 1624.7 465.5 1625.4 465.5 1626.1 465.9 1626.7 465.6 1627.4 465.6 1628.1 465.3 1628.8 465.1 1629.5 465.1 1630.2 464.7 1630.8 464.9 1631.5 465 1632.2 465.4 1632.9 465.8 1633.6 466 1634.3 466.2 1634.9 466.1 1635.6 465.8 1636.3 465.8 1637 465.6 1637.7 465.6 1638.4 465.7 1639 465.9 1639.7 466.1 1640.4 465.9 1641.1 465.9 1641.8 465.6 1642.5 465.5 1643.1 465 1643.8 465.3 1644.5 465.2 1645.2 465.7 1645.9 465.8 1646.6 465.8 1647.2 465.5 1647.9 465.2 1648.6 465.3 1649.3 465.4 1650 465.7 1650.7 465.3 1651.3 465.2 1652 465.2 1652.7 465.7 1653.4 466 1654.1 465.6 1654.8 465.6 1655.4 465.3 1656.1 465.6 1656.8 465.6 1657.5 465.8 1658.2 465.7 1658.9 465.6 1659.5 465.3 1660.2 465.1 1660.9 465.2 1661.6 465.4 1662.3 465.3 1663 465.1 1663.6 465.1 1664.3 465.7 1665 466.1 1665.7 466.2 1666.4 465.6 1667.1 465.3 1667.7 465.3 1668.4 465.7 1669.1 465.8 1669.8 465.7 1670.5 466 1671.2 466.2 1671.8 466.2 1672.5 465.6 1673.2 465.8 1673.9 465.7 1674.6 466.1 1675.2 466.1 1675.9 466 1676.6 465.8 1677.3 465.4 1678 465.7 1678.7 465.7 1679.3 466.1 1680 466.1 1680.7 466.1 1681.4 465.9 1682.1 465.7 1682.8 465.7 1683.4 465.9 1684.1 465.8 1684.8 465.8 1685.5 465.3 1686.2 465.3 1686.9 464.9 1687.5 465.1 1688.2 465.2 1688.9 465.5 1689.6 465.2 1690.3 465.2 1691 465.1 1691.6 465.2 1692.3 465.9 1693 466.2 1693.7 466.3 1694.4 465.6 1695.1 465.4 1695.7 465 1696.4 465.5 1697.1 465.4 1697.8 465.7 1698.5 465.5 1699.2 465.4 1699.8 465.1 1700.5 465.3 1701.2 465.1 1701.9 465.2 1702.6 465 1703.3 465.1 1703.9 465.4 1704.6 465.7 1705.3 465.9 1706 465.9 1706.7 465.7 1707.4 465.8 1708 465.4 1708.7 465.4 1709.4 465.1 1710.1 465.2 1710.8 465.1 1711.5 465.2 1712.1 465.6 1712.8 465.8 1713.5 465.4 1714.2 465.3 1714.9 465.5 1715.6 466.1 1716.2 466.4 1716.9 466 1717.6 465.6 1718.3 465.1 1719 465.2 1719.7 465.7 1720.3 465.8 1721 465.6 1721.7 465.4 1722.4 465.2 1723.1 465.2 1723.8 465.5 1724.4 466.3 1725.1 466.3 1725.8 466.3 1726.5 465.8 1727.2 465.7 1727.9 464.8 1728.5 465.1 1729.2 465.2 1729.9 466.1 1730.6 466 1731.3 466.1 1732 465.3 1732.6 465.5 1733.3 465.4 1734 465.8 1734.7 465 1735.4 465.3 1736.1 465.5 1736.7 465.8 1737.4 465.7 1738.1 465.5 1738.8 465.9 1739.5 465.9 1740.2 466.1 1740.8 465.9 1741.5 465.7 1742.2 465.3 1742.9 464.8 1743.6 464.8 1744.3 465.1 1744.9 465.7 1745.6 465.7 1746.3 465.5 1747 465.1 1747.7 465.2 1748.4 465.2 1749 465.8 1749.7 465.7 1750.4 465.7 1751.1 466 1751.8 466 1752.5 466 1753.1 465.3 1753.8 465 1754.5 465 1755.2 465.3 1755.9 465.7 1756.6 465.5 1757.2 465.4 1757.9 465.6 1758.6 466 1759.3 466 1760 465.5 1760.6 465.5 1761.3 465.6 1762 466.1 1762.7 465.9 1763.4 466.2 1764.1 466.1 1764.7 466.2 1765.4 465.3 1766.1 465.2 1766.8 464.9 1767.5 465.3 1768.2 465.5 1768.8 465.5 1769.5 465.8 1770.2 465.6 1770.9 465.6 1771.6 465.3 1772.3 465.3 1772.9 465.5 1773.6 465.6 1774.3 465.8 1775 466 1775.7 465.9 1776.4 466 1777 465.4 1777.7 465.1 1778.4 464.9 1779.1 465 1779.8 465.3 1780.5 465.6 1781.1 465.2 1781.8 465 1782.5 464.5 1783.2 465.2 1783.9 465.4 1784.6 465.6 1785.2 465.1 1785.9 465.4 1786.6 465.4 1787.3 465.7 1788 465.1 1788.7 465.4 1789.3 465.5 1790 466 1790.7 466 1791.4 465.9 1792.1 465.7 1792.8 465.6 1793.4 465.8 1794.1 465.8 1794.8 465.6 1795.5 465.4 1796.2 465.6 1796.9 465.8 1797.5 465.9 1798.2 466.1 1798.9 465.6 1799.6 465.6 1800.3 465.6 1801 465.8 1801.6 465.5 1802.3 465.4 1803 465.6 1803.7 465.7 1804.4 465.6 1805.1 465.3 1805.7 465.3 1806.4 465.1 1807.1 465.2 1807.8 465.2 1808.5 465.2 1809.2 465.1 1809.8 465.3 1810.5 465.4 1811.2 465.7 1811.9 465.6 1812.6 465.4 1813.3 464.9 1813.9 465 1814.6 465.6 1815.3 466 1816 465.9 1816.7 465.8 1817.4 465.4 1818 465.7 1818.7 465.5 1819.4 465.9 1820.1 465.8 1820.8 465.8 1821.5 465.7 1822.1 465.4 1822.8 465.4 1823.5 465.6 1824.2 466.6 1824.9 466.8 1825.6 466.6 1826.2 465.5 1826.9 465.6 1827.6 465.2 1828.3 465.3 1829 465.2 1829.7 465.2 1830.3 465.7 1831 465.9 1831.7 466 1832.4 465.6 1833.1 465.1 1833.8 464.9 1834.4 465.1 1835.1 465.5 1835.8 465.9 1836.5 465.8 1837.2 465.6 1837.9 465.6 1838.5 465.2 1839.2 465.4 1839.9 465.6 1840.6 466.1 1841.3 466 1842 465.7 1842.6 465.7 1843.3 466.1 1844 465.9 1844.7 465.5 1845.4 465.2 1846 465.8 1846.7 465.7 1847.4 465.8 1848.1 465.5 1848.8 466.1 1849.5 466.1 1850.1 466.1 1850.8 465.6 1851.5 465.7 1852.2 465.9 1852.9 465.7 1853.6 465.5 1854.2 465.1 1854.9 465.2 1855.6 464.9 1856.3 464.9 1857 464.9 1857.7 465 1858.3 465.3 1859 465.6 1859.7 465.8 1860.4 465.5 1861.1 465.5 1861.8 465.1 1862.4 464.9 1863.1 464.9 1863.8 465.5 1864.5 466 1865.2 465.9 1865.9 465.5 1866.5 465.2 1867.2 465.3 1867.9 465.4 1868.6 465.4 1869.3 465 1870 464.9 1870.6 465.2 1871.3 465.6 1872 465.6 1872.7 465.2 1873.4 465 1874.1 465.4 1874.7 465.3 1875.4 465.4 1876.1 464.9 1876.8 464.9 1877.5 465 1878.2 465.6 1878.8 465.6 1879.5 465.4 1880.2 465.3 1880.9 465.5 1881.6 465.5 1882.3 465.5 1882.9 465.6 1883.6 465.9 1884.3 466 1885 465.8 1885.7 465.6 1886.4 465.4 1887 465.3 1887.7 465.1 1888.4 465.3 1889.1 465.3 1889.8 465.7 1890.5 465.5 1891.1 465.8 1891.8 465.7 1892.5 465.7 1893.2 466 1893.9 465.8 1894.6 465.7 1895.2 465.4 1895.9 465.9 1896.6 466.1 1897.3 466 1898 465.5 1898.7 465.2 1899.3 465.4 1900 465.5 1900.7 466.1 1901.4 465.7 1902.1 465.9 1902.8 465.5 1903.4 465.7 1904.1 465.5 1904.8 465.3 1905.5 465.5 1906.2 465.7 1906.9 465.5 1907.5 465.7 1908.2 465.5 1908.9 466.1 1909.6 465.9 1910.3 466.2 1911 466 1911.6 466.2 1912.3 465.9 1913 465.6 1913.7 465.6 1914.4 465.7 1915.1 466.3 1915.7 465.7 1916.4 465.6 1917.1 465.4 1917.8 465.5 1918.5 465.5 1919.2 465.7 1919.8 466.2 1920.5 466.1 1921.2 466 1921.9 465.9 1922.6 466.3 1923.3 466 1923.9 465.9 1924.6 465.5 1925.3 465.4 1926 465.5 1926.7 465.7 1927.4 466.1 1928 465.9 1928.7 465.4 1929.4 465 1930.1 465.1 1930.8 465.6 1931.4 465.7 1932.1 465.5 1932.8 465.7 1933.5 465.6 1934.2 465.9 1934.9 465.5 1935.5 465.4 1936.2 465.6 1936.9 465.1 1937.6 465.2 1938.3 465 1939 465.4 1939.6 465.7 1940.3 465.6 1941 465.6 1941.7 465.9 1942.4 465.9 1943.1 465.9 1943.7 465.3 1944.4 465.2 1945.1 465.3 1945.8 465.7 1946.5 465.8 1947.2 465.6 1947.8 465.6 1948.5 465.2 1949.2 465.3 1949.9 465.1 1950.6 465.3 1951.3 465.4 1951.9 465.3 1952.6 465.3 1953.3 465.7 1954 465.9 1954.7 466.3 1955.4 466 1956 466 1956.7 466 1957.4 466.2 1958.1 466.5 1958.8 466.3 1959.5 466.1 1960.1 465.6 1960.8 464.9 1961.5 464.6 1962.2 464.6 1962.9 465.4 1963.6 465.6 1964.2 465.8 1964.9 466 1965.6 466 1966.3 466.1 1967 466.1 1967.7 466.3 1968.3 465.8 1969 465.8 1969.7 465.7 1970.4 465.8 1971.1 465.5 1971.8 465.4 1972.4 465.7 1973.1 465.9 1973.8 466.2 1974.5 466.1 1975.2 465.8 1975.9 465.5 1976.5 465.6 1977.2 465.7 1977.9 466.3 1978.6 466.1 1979.3 466 1980 465.7 1980.6 465.9 1981.3 466 1982 465.7 1982.7 465.6 1983.4 465.8 1984.1 466 1984.7 465.9 1985.4 465.8 1986.1 465.8 1986.8 466 1987.5 465.3 1988.2 465 1988.8 464.6 1989.5 465.2 1990.2 465.4 1990.9 465.8 1991.6 465.9 1992.3 465.9 1992.9 465.7 1993.6 465.9 1994.3 465.8 1995 465.9 1995.7 465.9 1996.4 466 1997 465.6 1997.7 465.3 1998.4 465.2 1999.1 465.6 1999.8 465.7 2000.5 465.9 2001.1 465.9 2001.8 465.8 2002.5 465.8 2003.2 465.9 2003.9 465.8 2004.6 465.7 2005.2 465.6 2005.9 465.5 2006.6 465.4 2007.3 465.3 2008 465.2 2008.7 465.4 2009.3 465.6 2010 465.8 2010.7 465.5 2011.4 465.6 2012.1 465.6 2012.8 465.6 2013.4 465.5 2014.1 465.6 2014.8 465.5 2015.5 465.9 2016.2 465.6" stroke="#2ac4c4" stroke-width="4" stroke-linejoin="round" fill="none" opacity="0.95"/>
<path d="M1173.8 465.6 1174.5 466 1175.1 466.2 1175.8 466.3 1176.5 466.2 1177.2 465.7 1177.9 465.4 1178.6 465.4 1179.2 465.9 1179.9 466.3 1180.6 466.6 1181.3 466.4 1182 466.2 1182.7 465.9 1183.3 465.8 1184 465.8 1184.7 465.4 1185.4 465.6 1186.1 465.4 1186.8 465.7 1187.4 465.2 1188.1 465.6 1188.8 465.3 1189.5 465.8 1190.2 465.2 1190.9 465.4 1191.5 465.4 1192.2 465.6 1192.9 465.7 1193.6 465.4 1194.3 465.1 1195 465.1 1195.6 465.3 1196.3 465.5 1197 465.6 1197.7 465.3 1198.4 465.4 1199.1 465.2 1199.7 465.3 1200.4 465.9 1201.1 465.6 1201.8 465.9 1202.5 465.6 1203.2 465.5 1203.8 465.1 1204.5 465 1205.2 465.3 1205.9 465.7 1206.6 465.8 1207.3 465.8 1207.9 465.5 1208.6 464.8 1209.3 464.9 1210 464.9 1210.7 465.5 1211.4 465.5 1212 465.4 1212.7 465.7 1213.4 465.9 1214.1 466.3 1214.8 465.7 1215.5 465.5 1216.1 465.2 1216.8 465.3 1217.5 465.2 1218.2 465.4 1218.9 465.5 1219.6 465.8 1220.2 465.6 1220.9 465.8 1221.6 465.8 1222.3 465.3 1223 465 1223.7 464.9 1224.3 465.7 1225 465.7 1225.7 465.7 1226.4 465.4 1227.1 465.6 1227.8 465.5 1228.4 465.5 1229.1 465.2 1229.8 465.4 1230.5 465.5 1231.2 465.3 1231.9 465.3 1232.5 465.2 1233.2 465.7 1233.9 465.6 1234.6 466 1235.3 466.1 1236 465.9 1236.6 465.7 1237.3 465.2 1238 465.6 1238.7 465.8 1239.4 466.3 1240.1 465.9 1240.7 465.4 1241.4 465.4 1242.1 465.5 1242.8 466 1243.5 465.7 1244.2 465.8 1244.8 465.8 1245.5 465.5 1246.2 465.6 1246.9 465.4 1247.6 465.6 1248.2 465.7 1248.9 466 1249.6 466.1 1250.3 465.3 1251 465.2 1251.7 465.4 1252.3 465.7 1253 465.4 1253.7 465.2 1254.4 464.9 1255.1 465.2 1255.8 465.6 1256.4 466 1257.1 465.8 1257.8 465.7 1258.5 465.6 1259.2 465.7 1259.9 465.6 1260.5 465.9 1261.2 466 1261.9 466.2 1262.6 465.7 1263.3 465.7 1264 465.2 1264.6 465.3 1265.3 465.5 1266 466.3 1266.7 466.5 1267.4 466.4 1268.1 466 1268.7 465.6 1269.4 465.5 1270.1 465.6 1270.8 465.5 1271.5 465.8 1272.2 465.4 1272.8 465.2 1273.5 464.8 1274.2 464.7 1274.9 464.8 1275.6 465.2 1276.3 465.5 1276.9 465.8 1277.6 465.8 1278.3 466.1 1279 466 1279.7 466 1280.4 465.8 1281 465.9 1281.7 465.8 1282.4 465.4 1283.1 465.2 1283.8 465.1 1284.5 465.5 1285.1 465.6 1285.8 465.6 1286.5 465.7 1287.2 466.1 1287.9 466.2 1288.6 466.3 1289.2 465.9 1289.9 465.7 1290.6 465.5 1291.3 465.5 1292 465.5 1292.7 465.7 1293.3 465.7 1294 465.6 1294.7 465.3 1295.4 465.6 1296.1 465.6 1296.8 465.5 1297.4 464.6 1298.1 464.1 1298.8 463.3 1299.5 462.9 1300.2 463.2 1300.9 463.3 1301.5 464.4 1302.2 465.1 1302.9 467 1303.6 468.7 1304.3 470.6 1305 471.5 1305.6 470.5 1306.3 468.6 1307 465.4 1307.7 462.9 1308.4 459.6 1309.1 457.6 1309.7 455.9 1310.4 456.1 1311.1 457 1311.8 459.1 1312.5 460.9 1313.2 462.8 1313.8 463.7 1314.5 464.4 1315.2 465.1 1315.9 465.3 1316.6 465.3 1317.3 465.2 1317.9 465.2 1318.6 465.5 1319.3 465.7 1320 465.8 1320.7 466.1 1321.4 465.8 1322 466.3 1322.7 466.5 1323.4 466.6 1324.1 466.4 1324.8 466.1 1325.5 466.3 1326.1 466.7 1326.8 466.7 1327.5 467 1328.2 466.7 1328.9 467 1329.6 466.6 1330.2 467.5 1330.9 467.9 1331.6 468.5 1332.3 468.1 1333 468.5 1333.6 468.2 1334.3 468.5 1335 468.9 1335.7 469.4 1336.4 469.6 1337.1 469.4 1337.7 469.4 1338.4 469.5 1339.1 469.6 1339.8 469.8 1340.5 469.8 1341.2 469.5 1341.8 469.5 1342.5 469.3 1343.2 469.6 1343.9 469.5 1344.6 469.3 1345.3 468.3 1345.9 468.1 1346.6 468.1 1347.3 468.2 1348 467.4 1348.7 466.8 1349.4 466.9 1350 466.9 1350.7 466.8 1351.4 466.4 1352.1 466.6 1352.8 466.4 1353.5 466.1 1354.1 465.6 1354.8 465.7 1355.5 465.7 1356.2 465.6 1356.9 464.8 1357.6 464.2 1358.2 464.2 1358.9 464.1 1359.6 464.3 1360.3 464.1 1361 464.1 1361.7 463.9 1362.3 463.8 1363 463.5 1363.7 463.1 1364.4 463.4 1365.1 463.2 1365.8 463.1 1366.4 462.8 1367.1 462.9 1367.8 462.8 1368.5 462.3 1369.2 462.4 1369.9 462.8 1370.5 463.3 1371.2 463.3 1371.9 463.4 1372.6 463 1373.3 463.2 1374 463 1374.6 463.5 1375.3 463.8 1376 464.5 1376.7 464.5 1377.4 464.9 1378.1 464.9 1378.7 465.2 1379.4 465.1 1380.1 465 1380.8 465.3 1381.5 465.4 1382.2 465.5 1382.8 465.4 1383.5 465 1384.2 464.7 1384.9 463.9 1385.6 463.6 1386.3 463.1 1386.9 463 1387.6 462.8 1388.3 462.8 1389 462.5 1389.7 462.3 1390.4 462.3 1391 462.9 1391.7 463.5 1392.4 463.9 1393.1 464.4 1393.8 464.7 1394.5 464.7 1395.1 464.5 1395.8 464.4 1396.5 464.5 1397.2 464.9 1397.9 465.2 1398.6 465.4 1399.2 465.4 1399.9 465.5 1400.6 465.6 1401.3 465.7 1402 465.7 1402.7 465.6 1403.3 465.3 1404 465.3 1404.7 465.5 1405.4 465.7 1406.1 465.5 1406.8 465.9 1407.4 465.8 1408.1 465.9 1408.8 465.5 1409.5 465.4 1410.2 465.4 1410.9 465.7 1411.5 466.2 1412.2 466.3 1412.9 466 1413.6 465.9 1414.3 465.9 1415 465.8 1415.6 465.7 1416.3 465.5 1417 465.7 1417.7 465.9 1418.4 466 1419 465.4 1419.7 465.6 1420.4 465.9 1421.1 466.6 1421.8 466.3 1422.5 465.6 1423.1 465.4 1423.8 465.3 1424.5 465.6 1425.2 465.4 1425.9 465.8 1426.6 466 1427.2 465.7 1427.9 465.5 1428.6 465.1 1429.3 465.2 1430 465.1 1430.7 465.2 1431.3 465.6 1432 465.5 1432.7 465.7 1433.4 465.9 1434.1 466.3 1434.8 466.2 1435.4 465.8 1436.1 465.5 1436.8 465.5 1437.5 465.5 1438.2 465.9 1438.9 466.3 1439.5 466.4 1440.2 466.3 1440.9 466.1 1441.6 465.7 1442.3 465.4 1443 465 1443.6 465.2 1444.3 465.5 1445 465.5 1445.7 466 1446.4 466.2 1447.1 466.4 1447.7 466 1448.4 465.8 1449.1 465.8 1449.8 465.7 1450.5 465.6 1451.2 465.6 1451.8 465.9 1452.5 466.1 1453.2 466.2 1453.9 466 1454.6 465.7 1455.3 465.3 1455.9 465.6 1456.6 465.4 1457.3 465.7 1458 465.7 1458.7 466.1 1459.4 465.8 1460 465.5 1460.7 465.6 1461.4 465.6 1462.1 466.2 1462.8 465.9 1463.5 466.1 1464.1 466.2 1464.8 466.2 1465.5 466.3 1466.2 465.7 1466.9 465.8 1467.6 465.4 1468.2 465.7 1468.9 465.5 1469.6 465.6 1470.3 466 1471 465.6 1471.7 465.6 1472.3 465.1 1473 465.7 1473.7 465.6 1474.4 465.8 1475.1 465.5 1475.8 465.7 1476.4 465.9 1477.1 465.9 1477.8 465.7 1478.5 465.2 1479.2 465.4 1479.9 465.5 1480.5 465.7 1481.2 465.9 1481.9 465.3 1482.6 465 1483.3 464.5 1484 464.9 1484.6 465.2 1485.3 465.5 1486 465.6 1486.7 465.7 1487.4 465.6 1488.1 465.4 1488.7 465 1489.4 465.5 1490.1 465.3 1490.8 465.5 1491.5 465.4 1492.2 466 1492.8 465.8 1493.5 465.5 1494.2 465.6 1494.9 466 1495.6 465.8 1496.3 465.8 1496.9 465.6 1497.6 466 1498.3 466.1 1499 466 1499.7 465.5 1500.4 465.3 1501 465.7 1501.7 466.2 1502.4 466.1 1503.1 466.3 1503.8 465.9 1504.4 466.1 1505.1 465.5 1505.8 465.7 1506.5 465.5 1507.2 465.9 1507.9 465.7 1508.5 465.6 1509.2 465 1509.9 465.3 1510.6 465.3 1511.3 465.7 1512 465.4 1512.6 465.4 1513.3 465.5 1514 465.7 1514.7 465.9 1515.4 465.8 1516.1 465.8 1516.7 465.3 1517.4 465.4 1518.1 465.5 1518.8 466 1519.5 465.4 1520.2 465.1 1520.8 464.4 1521.5 464.7 1522.2 465.2 1522.9 465.7 1523.6 465.9 1524.3 465.7 1524.9 465.8 1525.6 465.7 1526.3 465.8 1527 465.6 1527.7 465.3 1528.4 465.1 1529 465.4 1529.7 465.7 1530.4 465.8 1531.1 465.4 1531.8 465.4 1532.5 465.6 1533.1 465.7 1533.8 465.6 1534.5 464.7 1535.2 464.7 1535.9 464.5 1536.6 464.7 1537.2 465 1537.9 465.5 1538.6 465.5 1539.3 465.5 1540 465.5 1540.7 465.7 1541.3 465.7 1542 465.3 1542.7 465.2 1543.4 464.7 1544.1 464.8 1544.8 465.3 1545.4 465.3 1546.1 465.3 1546.8 464.9 1547.5 465.2 1548.2 465.4 1548.9 465.7 1549.5 465.6 1550.2 465.4 1550.9 465.1 1551.6 465.2 1552.3 465.3 1553 465.5 1553.6 465.8 1554.3 465.9 1555 465.9 1555.7 465.8 1556.4 465.7 1557.1 465.6 1557.7 465.1 1558.4 465.3 1559.1 465.6 1559.8 465.7 1560.5 465.7 1561.2 465.8 1561.8 466 1562.5 465.7 1563.2 465.5 1563.9 465.3 1564.6 465.8 1565.3 465.7 1565.9 465.6 1566.6 465.3 1567.3 465 1568 465.1 1568.7 465.1 1569.4 465.6 1570 465.4 1570.7 465.4 1571.4 465.1 1572.1 465.1 1572.8 465.3 1573.5 465.4 1574.1 465.7 1574.8 465.4 1575.5 465.5 1576.2 465 1576.9 465.2 1577.6 465 1578.2 465.5 1578.9 465.6 1579.6 465.7 1580.3 465.7 1581 465.7 1581.7 465.9 1582.3 465.9 1583 465.8 1583.7 465.7 1584.4 465.6 1585.1 465.5 1585.8 465.6 1586.4 465.8 1587.1 466 1587.8 465.9 1588.5 465.4 1589.2 465.2 1589.8 465.3 1590.5 465.8 1591.2 465.7 1591.9 465.7 1592.6 465.6 1593.3 465.6 1593.9 465.6 1594.6 465.8 1595.3 466.2 1596 466.3 1596.7 466 1597.4 465.6 1598 465.5 1598.7 465.5 1599.4 465.7 1600.1 465.5 1600.8 465.5 1601.5 465.4 1602.1 465.6 1602.8 465.9 1603.5 466 1604.2 465.6 1604.9 465.1 1605.6 464.7 1606.2 464.9 1606.9 465.2 1607.6 465.6 1608.3 465.6 1609 465.6 1609.7 465.4 1610.3 465.2 1611 464.9 1611.7 464.8 1612.4 465.4 1613.1 465.4 1613.8 465.8 1614.4 465.8 1615.1 466 1615.8 465.8 1616.5 465.4 1617.2 465.4 1617.9 465.6 1618.5 465.7 1619.2 465.9 1619.9 466 1620.6 466.1 1621.3 465.9 1622 465.7 1622.6 465.7 1623.3 465.4 1624 465.5 1624.7 465.5 1625.4 465.5 1626.1 465.9 1626.7 465.6 1627.4 465.6 1628.1 465.3 1628.8 465.1 1629.5 465.1 1630.2 464.7 1630.8 464.9 1631.5 465 1632.2 465.4 1632.9 465.8 1633.6 466 1634.3 466.2 1634.9 466.1 1635.6 465.8 1636.3 465.8 1637 465.6 1637.7 465.6 1638.4 465.7 1639 465.9 1639.7 466.1 1640.4 465.9 1641.1 465.9 1641.8 465.6 1642.5 465.5 1643.1 465 1643.8 465.3 1644.5 465.2 1645.2 465.7 1645.9 465.8 1646.6 465.8 1647.2 465.5 1647.9 465.2 1648.6 465.3 1649.3 465.4 1650 465.7 1650.7 465.3 1651.3 465.2 1652 465.2 1652.7 465.7 1653.4 466 1654.1 465.6 1654.8 465.6 1655.4 465.3 1656.1 465.6 1656.8 465.6 1657.5 465.8 1658.2 465.7 1658.9 465.6 1659.5 465.3 1660.2 465.1 1660.9 465.2 1661.6 465.4 1662.3 465.3 1663 465.1 1663.6 465.1 1664.3 465.7 1665 466.1 1665.7 466.2 1666.4 465.6 1667.1 465.3 1667.7 465.3 1668.4 465.7 1669.1 465.8 1669.8 465.7 1670.5 466 1671.2 466.2 1671.8 466.2 1672.5 465.6 1673.2 465.8 1673.9 465.7 1674.6 466.1 1675.2 466.1 1675.9 466 1676.6 465.8 1677.3 465.4 1678 465.7 1678.7 465.7 1679.3 466.1 1680 466.1 1680.7 466.1 1681.4 465.9 1682.1 465.7 1682.8 465.7 1683.4 465.9 1684.1 465.8 1684.8 465.8 1685.5 465.3 1686.2 465.3 1686.9 464.9 1687.5 465.1 1688.2 465.2 1688.9 465.5 1689.6 465.2 1690.3 465.2 1691 465.1 1691.6 465.2 1692.3 465.9 1693 466.2 1693.7 466.3 1694.4 465.6 1695.1 465.4 1695.7 465 1696.4 465.5 1697.1 465.4 1697.8 465.7 1698.5 465.5 1699.2 465.4 1699.8 465.1 1700.5 465.3 1701.2 465.1 1701.9 465.2 1702.6 465 1703.3 465.1 1703.9 465.4 1704.6 465.7 1705.3 465.9 1706 465.9 1706.7 465.7 1707.4 465.8 1708 465.4 1708.7 465.4 1709.4 465.1 1710.1 465.2 1710.8 465.1 1711.5 465.2 1712.1 465.6 1712.8 465.8 1713.5 465.4 1714.2 465.3 1714.9 465.5 1715.6 466.1 1716.2 466.4 1716.9 466 1717.6 465.6 1718.3 465.1 1719 465.2 1719.7 465.7 1720.3 465.8 1721 465.6 1721.7 465.4 1722.4 465.2 1723.1 465.2 1723.8 465.5 1724.4 466.3 1725.1 466.3 1725.8 466.3 1726.5 465.8 1727.2 465.7 1727.9 464.8 1728.5 465.1 1729.2 465.2 1729.9 466.1 1730.6 466 1731.3 466.1 1732 465.3 1732.6 465.5 1733.3 465.4 1734 465.8 1734.7 465 1735.4 465.3 1736.1 465.5 1736.7 465.8 1737.4 465.7 1738.1 465.5 1738.8 465.9 1739.5 465.9 1740.2 466.1 1740.8 465.9 1741.5 465.7 1742.2 465.3 1742.9 464.8 1743.6 464.8 1744.3 465.1 1744.9 465.7 1745.6 465.7 1746.3 465.5 1747 465.1 1747.7 465.2 1748.4 465.2 1749 465.8 1749.7 465.7 1750.4 465.7 1751.1 466 1751.8 466 1752.5 466 1753.1 465.3 1753.8 465 1754.5 465 1755.2 465.3 1755.9 465.7 1756.6 465.5 1757.2 465.4 1757.9 465.6 1758.6 466 1759.3 466 1760 465.5 1760.6 465.5 1761.3 465.6 1762 466.1 1762.7 465.9 1763.4 466.2 1764.1 466.1 1764.7 466.2 1765.4 465.3 1766.1 465.2 1766.8 464.9 1767.5 465.3 1768.2 465.5 1768.8 465.5 1769.5 465.8 1770.2 465.6 1770.9 465.6 1771.6 465.3 1772.3 465.3 1772.9 465.5 1773.6 465.6 1774.3 465.8 1775 466 1775.7 465.9 1776.4 466 1777 465.4 1777.7 465.1 1778.4 464.9 1779.1 465 1779.8 465.3 1780.5 465.6 1781.1 465.2 1781.8 465 1782.5 464.5 1783.2 465.2 1783.9 465.4 1784.6 465.6 1785.2 465.1 1785.9 465.4 1786.6 465.4 1787.3 465.7 1788 465.1 1788.7 465.4 1789.3 465.5 1790 466 1790.7 466 1791.4 465.9 1792.1 465.7 1792.8 465.6 1793.4 465.8 1794.1 465.8 1794.8 465.6 1795.5 465.4 1796.2 465.6 1796.9 465.8 1797.5 465.9 1798.2 466.1 1798.9 465.6 1799.6 465.6 1800.3 465.6 1801 465.8 1801.6 465.5 1802.3 465.4 1803 465.6 1803.7 465.7 1804.4 465.6 1805.1 465.3 1805.7 465.3 1806.4 465.1 1807.1 465.2 1807.8 465.2 1808.5 465.2 1809.2 465.1 1809.8 465.3 1810.5 465.4 1811.2 465.7 1811.9 465.6 1812.6 465.4 1813.3 464.9 1813.9 465 1814.6 465.6 1815.3 466 1816 465.9 1816.7 465.8 1817.4 465.4 1818 465.7 1818.7 465.5 1819.4 465.9 1820.1 465.8 1820.8 465.8 1821.5 465.7 1822.1 465.4 1822.8 465.4 1823.5 465.6 1824.2 466.6 1824.9 466.8 1825.6 466.6 1826.2 465.5 1826.9 465.6 1827.6 465.2 1828.3 465.3 1829 465.2 1829.7 465.2 1830.3 465.7 1831 465.9 1831.7 466 1832.4 465.6 1833.1 465.1 1833.8 464.9 1834.4 465.1 1835.1 465.5 1835.8 465.9 1836.5 465.8 1837.2 465.6 1837.9 465.6 1838.5 465.2 1839.2 465.4 1839.9 465.6 1840.6 466.1 1841.3 466 1842 465.7 1842.6 465.7 1843.3 466.1 1844 465.9 1844.7 465.5 1845.4 465.2 1846 465.8 1846.7 465.7 1847.4 465.8 1848.1 465.5 1848.8 466.1 1849.5 466.1 1850.1 466.1 1850.8 465.6 1851.5 465.7 1852.2 465.9 1852.9 465.7 1853.6 465.5 1854.2 465.1 1854.9 465.2 1855.6 464.9 1856.3 464.9 1857 464.9 1857.7 465 1858.3 465.3 1859 465.6 1859.7 465.8 1860.4 465.5 1861.1 465.5 1861.8 465.1 1862.4 464.9 1863.1 464.9 1863.8 465.5 1864.5 466 1865.2 465.9 1865.9 465.5 1866.5 465.2 1867.2 465.3 1867.9 465.4 1868.6 465.4 1869.3 465 1870 464.9 1870.6 465.2 1871.3 465.6 1872 465.6 1872.7 465.2 1873.4 465 1874.1 465.4 1874.7 465.3 1875.4 465.4 1876.1 464.9 1876.8 464.9 1877.5 465 1878.2 465.6 1878.8 465.6 1879.5 465.4 1880.2 465.3 1880.9 465.5 1881.6 465.5 1882.3 465.5 1882.9 465.6 1883.6 465.9 1884.3 466 1885 465.8 1885.7 465.6 1886.4 465.4 1887 465.3 1887.7 465.1 1888.4 465.3 1889.1 465.3 1889.8 465.7 1890.5 465.5 1891.1 465.8 1891.8 465.7 1892.5 465.7 1893.2 466 1893.9 465.8 1894.6 465.7 1895.2 465.4 1895.9 465.9 1896.6 466.1 1897.3 466 1898 465.5 1898.7 465.2 1899.3 465.4 1900 465.5 1900.7 466.1 1901.4 465.7 1902.1 465.9 1902.8 465.5 1903.4 465.7 1904.1 465.5 1904.8 465.3 1905.5 465.5 1906.2 465.7 1906.9 465.5 1907.5 465.7 1908.2 465.5 1908.9 466.1 1909.6 465.9 1910.3 466.2 1911 466 1911.6 466.2 1912.3 465.9 1913 465.6 1913.7 465.6 1914.4 465.7 1915.1 466.3 1915.7 465.7 1916.4 465.6 1917.1 465.4 1917.8 465.5 1918.5 465.5 1919.2 465.7 1919.8 466.2 1920.5 466.1 1921.2 466 1921.9 465.9 1922.6 466.3 1923.3 466 1923.9 465.9 1924.6 465.5 1925.3 465.4 1926 465.5 1926.7 465.7 1927.4 466.1 1928 465.9 1928.7 465.4 1929.4 465 1930.1 465.1 1930.8 465.6 1931.4 465.7 1932.1 465.5 1932.8 465.7 1933.5 465.6 1934.2 465.9 1934.9 465.5 1935.5 465.4 1936.2 465.6 1936.9 465.1 1937.6 465.2 1938.3 465 1939 465.4 1939.6 465.7 1940.3 465.6 1941 465.6 1941.7 465.9 1942.4 465.9 1943.1 465.9 1943.7 465.3 1944.4 465.2 1945.1 465.3 1945.8 465.7 1946.5 465.8 1947.2 465.6 1947.8 465.6 1948.5 465.2 1949.2 465.3 1949.9 465.1 1950.6 465.3 1951.3 465.4 1951.9 465.3 1952.6 465.3 1953.3 465.7 1954 465.9 1954.7 466.3 1955.4 466 1956 466 1956.7 466 1957.4 466.2 1958.1 466.5 1958.8 466.3 1959.5 466.1 1960.1 465.6 1960.8 464.9 1961.5 464.6 1962.2 464.6 1962.9 465.4 1963.6 465.6 1964.2 465.8 1964.9 466 1965.6 466 1966.3 466.1 1967 466.1 1967.7 466.3 1968.3 465.8 1969 465.8 1969.7 465.7 1970.4 465.8 1971.1 465.5 1971.8 465.4 1972.4 465.7 1973.1 465.9 1973.8 466.2 1974.5 466.1 1975.2 465.8 1975.9 465.5 1976.5 465.6 1977.2 465.7 1977.9 466.3 1978.6 466.1 1979.3 466 1980 465.7 1980.6 465.9 1981.3 466 1982 465.7 1982.7 465.6 1983.4 465.8 1984.1 466 1984.7 465.9 1985.4 465.8 1986.1 465.8 1986.8 466 1987.5 465.3 1988.2 465 1988.8 464.6 1989.5 465.2 1990.2 465.4 1990.9 465.8 1991.6 465.9 1992.3 465.9 1992.9 465.7 1993.6 465.9 1994.3 465.8 1995 465.9 1995.7 465.9 1996.4 466 1997 465.6 1997.7 465.3 1998.4 465.2 1999.1 465.6 1999.8 465.7 2000.5 465.9 2001.1 465.9 2001.8 465.8 2002.5 465.8 2003.2 465.9 2003.9 465.8 2004.6 465.7 2005.2 465.6 2005.9 465.5 2006.6 465.4 2007.3 465.3 2008 465.2 2008.7 465.4 2009.3 465.6 2010 465.8 2010.7 465.5 2011.4 465.6 2012.1 465.6 2012.8 465.6 2013.4 465.5 2014.1 465.6 2014.8 465.5 2015.5 465.9 2016.2 465.6" stroke="#1f7f78" stroke-width="1.5" stroke-linejoin="round" fill="none" opacity="0.6"/>
<path d="M1216.4 492.5V501M1307.4 492.5V501M1347.4 492.5V501M1384.9 492.5V501M1420.3 492.5V501M1454 492.5V501M1486.2 492.5V501M1517.1 492.5V501M1547 492.5V501M1604 492.5V501M1631.2 492.5V501M1657.9 492.5V501M1683.9 492.5V501M1709.3 492.5V501M1734.2 492.5V501M1758.7 492.5V501M1782.8 492.5V501M1806.5 492.5V501M1829.8 492.5V501M1852.8 492.5V501M1875.4 492.5V501M1897.9 492.5V501M1920 492.5V501M1985.1 492.5V501M2006.4 492.5V501" stroke="#4b3fd6" stroke-width="5" stroke-linecap="round" fill="none"/>
<rect x="1890" y="24" width="160" height="117" rx="5" fill="#fff" stroke="#e4e4e4" stroke-width="2.2"/>
<ellipse cx="1923" cy="39" rx="6.2" ry="5" fill="#ec0010"/>
<path d="M1899 67H1947" stroke="#3a3a3a" stroke-width="4.4" stroke-linecap="round"/>
<path d="M1899 94H1947" stroke="#6cc8c8" stroke-width="4.4" stroke-linecap="round"/>
<g class="lg"><text transform="translate(1962.4 46.7) scale(1.087 1)" font-size="19.2">obs</text><text transform="translate(1962.4 74.3) scale(1.082 1)" font-size="19.1">calc</text><text transform="translate(1962.4 102.7) scale(0.936 1)" font-size="20.9">diff</text></g></g>
<g filter="url(#bl2)"><g class="ti">
<text transform="translate(1429.5 77.4) scale(0.907 1)" font-size="42.5">G</text>
<text transform="translate(1462.0 77.0) scale(0.842 1)" font-size="37.9">d</text>
<text transform="translate(1482.7 78.5) scale(0.834 1)" font-size="27.7">2</text>
<text transform="translate(1495.3 77.4) scale(0.960 1)" font-size="41.5">O</text>
<text transform="translate(1525.1 78.2) scale(0.969 1)" font-size="30.6">3</text>
<rect x="1552.6" y="66.7" width="10.0" height="3.6" fill="#111"/>
<text transform="translate(1573.7 76.2) scale(1.000 1)" font-size="38.7">Plate</text>
<text transform="translate(1666.5 77.7) scale(0.978 1)" font-size="39.4">NP</text>
<text transform="translate(1721.9 80.7) scale(0.899 1)" font-size="39.2">s</text>
</g></g>
<g filter="url(#bl3)"><text class="lt" transform="translate(1144.4 72.3) scale(1.209 1)" font-size="32.9">(b)</text></g>
<text class="yl" transform="translate(1094.9 400.1) rotate(-90) scale(0.9709 1)" font-size="45.0">Intensity (a.u.)</text>
<text class="xl" x="1572.6" y="603.3" font-size="45.0" font-weight="bold">2</text><text class="xl" transform="translate(1596.2 603.3) scale(1.1 1)" font-size="45.0" font-style="italic">θ</text>
<g id="pc" filter="url(#bl)"><g fill="none" stroke-width="3.8" stroke-linecap="round" stroke-linejoin="round">
<path d="M69.8 1144V639.5" stroke="#939393"/>
<path d="M69.8 639.5H1000.2" stroke="#929292"/>
<path d="M1000.2 639.5V1144" stroke="#8e8e8e"/>
<path d="M69.8 1151.5H1000.2" stroke="#9a9a9a"/>
</g>
<path d="M118 1151v3M283.9 1151v3M449.8 1151v3M615.7 1151v3M781.6 1151v3M947.5 1151v3" stroke="#6e6e6e" stroke-width="3.2" stroke-linecap="round" fill="none"/>
<g class="tl" text-anchor="middle" font-size="19.5"><text transform="translate(118.0 1178.1) scale(1.137 1)">20</text><text transform="translate(283.9 1178.1) scale(1.137 1)">30</text><text transform="translate(449.8 1178.1) scale(1.137 1)">40</text><text transform="translate(615.7 1178.1) scale(1.137 1)">50</text><text transform="translate(781.6 1178.1) scale(1.137 1)">60</text><text transform="translate(947.5 1178.1) scale(1.137 1)">70</text></g>
<g filter="url(#bl4)">
<path d="M131.9 941.8h0M132.5 942.6h0M133.2 944.6h0M133.9 943.4h0M134.5 942.9h0M135.2 943.9h0M135.9 942.4h0M136.5 943.5h0M137.2 941.1h0M137.8 942.8h0M138.5 942.6h0M139.2 943.7h0M139.8 944h0M140.5 942.2h0M141.2 944.7h0M141.8 942.4h0M142.5 940.9h0M143.1 940.5h0M143.8 944.4h0M144.5 942.7h0M145.1 942.1h0M145.8 942h0M146.5 941.6h0M147.1 944h0M147.8 942.5h0M148.5 944.3h0M149.1 942.3h0M149.8 940.1h0M150.4 943.2h0M151.1 941.9h0M151.8 942h0M152.4 943.8h0M153.1 941.9h0M153.8 943.3h0M154.4 942.1h0M155.1 941.3h0M155.7 942.5h0M156.4 941.3h0M157.1 943.1h0M157.7 942.8h0M158.4 941.8h0M159.1 942.3h0M159.7 942.2h0M160.4 941.3h0M161.1 942.5h0M161.7 941.3h0M162.4 942.1h0M163 940.5h0M163.7 941.5h0M164.4 941.7h0M165 940.5h0M165.7 940.8h0M166.4 940.6h0M167 941.8h0M167.7 940.3h0M168.4 941.5h0M169 942.5h0M169.7 941.3h0M170.3 939.3h0M171 940.9h0M171.7 941.8h0M172.3 940.4h0M173 941.8h0M173.7 941.2h0M174.3 941h0M175 940.3h0M175.6 939.9h0M176.3 940.2h0M177 940.4h0M177.6 940.8h0M178.3 940.7h0M179 939.9h0M179.6 940.2h0M180.3 940.5h0M181 938.4h0M181.6 939.2h0M182.3 939.1h0M182.9 939.7h0M183.6 939.6h0M184.3 939.5h0M184.9 938.9h0M185.6 940.4h0M186.3 939.9h0M186.9 937.9h0M187.6 939.5h0M188.2 938.3h0M188.9 941.1h0M189.6 938.9h0M190.2 938.9h0M190.9 939.3h0M191.6 939h0M192.2 939.1h0M192.9 940.6h0M193.6 939.3h0M194.2 939.8h0M194.9 940h0M195.5 937.9h0M196.2 940.5h0M196.9 939.4h0M197.5 939.7h0M198.2 937.8h0M198.9 939.4h0M199.5 938.9h0M200.2 937.9h0M200.8 940.7h0M201.5 938.9h0M202.2 938h0M202.8 938.3h0M203.5 939h0M204.2 939.1h0M204.8 938.5h0M205.5 939h0M206.2 939.2h0M206.8 936.4h0M207.5 937.1h0M208.1 936.6h0M208.8 937.5h0M209.5 938.8h0M210.1 937.9h0M210.8 936.1h0M211.5 936.8h0M212.1 938h0M212.8 936.4h0M213.4 936.7h0M214.1 937h0M214.8 934.8h0M215.4 937.3h0M216.1 936.8h0M216.8 936.9h0M217.4 935.3h0M218.1 935.4h0M218.8 935.5h0M219.4 936.2h0M220.1 936h0M220.7 935.9h0M221.4 937.5h0M222.1 936.9h0M222.7 934.7h0M223.4 934.7h0M224.1 937h0M224.7 934.8h0M225.4 936.4h0M226 936.5h0M226.7 934.2h0M227.4 934.4h0M228 934.6h0M228.7 933.5h0M229.4 933.3h0M230 933.7h0M230.7 934.8h0M231.4 933.4h0M232 933.5h0M232.7 933.1h0M233.3 932h0M234 934.7h0M234.7 930.7h0M235.3 932.2h0M236 933.2h0M236.7 931h0M237.3 932.8h0M238 933.3h0M238.6 930.9h0M239.3 931.7h0M240 930.1h0M240.6 931.5h0M241.3 930.8h0M242 930.6h0M242.6 931.4h0M243.3 930.2h0M244 930.7h0M244.6 929.5h0M245.3 927.2h0M245.9 928.2h0M246.6 927.8h0M247.3 925.2h0M247.9 927.3h0M248.6 925.2h0M249.3 924.6h0M249.9 922.2h0M250.6 921.9h0M251.3 920.5h0M251.9 917.9h0M252.6 915.7h0M253.2 910h0M253.9 909.5h0M254.6 901.1h0M255.2 892.6h0M255.9 884.7h0M256.6 873.3h0M257.2 861.1h0M257.9 842.6h0M258.5 825.4h0M259.2 802.6h0M259.9 785.7h0M260.5 761.3h0M261.2 744.2h0M261.9 723.7h0M262.5 718.4h0M263.2 715.3h0M263.9 726.4h0M264.5 741.7h0M265.2 757.3h0M265.8 779.9h0M266.5 801.8h0M267.2 822.1h0M267.8 842.1h0M268.5 858.3h0M269.2 871.6h0M269.8 884.9h0M270.5 894.6h0M271.1 899.6h0M271.8 906h0M272.5 910.8h0M273.1 913.8h0M273.8 915.8h0M274.5 919.3h0M275.1 920.8h0M275.8 921.8h0M276.5 921.9h0M277.1 925h0M277.8 925.4h0M278.4 923.8h0M279.1 924.7h0M279.8 926.5h0M280.4 924.8h0M281.1 926.4h0M281.8 926.4h0M282.4 925.9h0M283.1 926.6h0M283.7 925.5h0M284.4 926.8h0M285.1 925.5h0M285.7 930h0M286.4 929.3h0M287.1 929.2h0M287.7 928.3h0M288.4 929.1h0M289.1 929.5h0M289.7 929.3h0M290.4 929.3h0M291 927.5h0M291.7 928.8h0M292.4 927.9h0M293 927.2h0M293.7 927.3h0M294.4 928.8h0M295 929.4h0M295.7 926.8h0M296.3 929.9h0M297 929.4h0M297.7 927.4h0M298.3 927.1h0M299 927.3h0M299.7 928.1h0M300.3 926.6h0M301 925.8h0M301.7 927.3h0M302.3 925h0M303 927.4h0M303.6 928.7h0M304.3 928.1h0M305 928.9h0M305.6 928.9h0M306.3 929.4h0M307 929.1h0M307.6 928.3h0M308.3 929.1h0M308.9 929.4h0M309.6 930.9h0M310.3 931.4h0M310.9 930.3h0M311.6 929.2h0M312.3 929.3h0M312.9 929.9h0M313.6 931.5h0M314.3 930.5h0M314.9 930.2h0M315.6 929.5h0M316.2 931.2h0M316.9 930.6h0M317.6 930.3h0M318.2 930.5h0M318.9 932.1h0M319.6 930.3h0M320.2 932.1h0M320.9 931.7h0M321.5 930.5h0M322.2 931.3h0M322.9 930.2h0M323.5 929.4h0M324.2 929.9h0M324.9 929.2h0M325.5 930.5h0M326.2 929.9h0M326.9 930.2h0M327.5 930.2h0M328.2 925.9h0M328.8 928.9h0M329.5 926.1h0M330.2 927.1h0M330.8 924.7h0M331.5 923.7h0M332.2 922.3h0M332.8 915.3h0M333.5 912.5h0M334.2 906.2h0M334.8 897.1h0M335.5 892.2h0M336.1 883.5h0M336.8 875.7h0M337.5 870.4h0M338.1 873.5h0M338.8 871h0M339.5 874.5h0M340.1 882.8h0M340.8 891.6h0M341.4 899.6h0M342.1 907.2h0M342.8 912.3h0M343.4 919h0M344.1 921.8h0M344.8 923.8h0M345.4 926.5h0M346.1 928.5h0M346.8 930.9h0M347.4 931.3h0M348.1 931.1h0M348.7 931.9h0M349.4 932.5h0M350.1 934.7h0M350.7 932.3h0M351.4 933.7h0M352.1 934.2h0M352.7 932.7h0M353.4 934h0M354 934.2h0M354.7 933.7h0M355.4 934.9h0M356 935.5h0M356.7 935.8h0M357.4 934.6h0M358 935.1h0M358.7 937.3h0M359.4 934h0M360 935.4h0M360.7 936.1h0M361.3 935.3h0M362 935.8h0M362.7 935.3h0M363.3 935.9h0M364 936.3h0M364.7 934.6h0M365.3 934.8h0M366 934.2h0M366.6 933.4h0M367.3 933.2h0M368 931.4h0M368.6 932.4h0M369.3 932.4h0M370 931.3h0M370.6 929.8h0M371.3 926.7h0M372 928.7h0M372.6 926.3h0M373.3 927.4h0M373.9 930.2h0M374.6 928.2h0M375.3 931.3h0M375.9 931.9h0M376.6 932.5h0M377.3 932.6h0M377.9 934.7h0M378.6 934.4h0M379.2 936.4h0M379.9 936.9h0M380.6 934.6h0M381.2 935.7h0M381.9 936h0M382.6 935.3h0M383.2 935.5h0M383.9 936.8h0M384.6 936.6h0M385.2 935.2h0M385.9 936.4h0M386.5 937.5h0M387.2 935.8h0M387.9 936.2h0M388.5 938.7h0M389.2 938.5h0M389.9 935.6h0M390.5 935.9h0M391.2 937.7h0M391.8 936.2h0M392.5 937.2h0M393.2 937h0M393.8 938h0M394.5 935h0M395.2 935.4h0M395.8 936.4h0M396.5 938.6h0M397.2 937.5h0M397.8 936h0M398.5 938.2h0M399.1 938.5h0M399.8 937.6h0M400.5 937.5h0M401.1 938.3h0M401.8 939.1h0M402.5 938.1h0M403.1 938.5h0M403.8 937.9h0M404.4 937.6h0M405.1 937.1h0M405.8 938.3h0M406.4 937.8h0M407.1 937.9h0M407.8 939.1h0M408.4 938.7h0M409.1 939.1h0M409.8 936.7h0M410.4 938.8h0M411.1 937.7h0M411.7 937.5h0M412.4 937.5h0M413.1 939.6h0M413.7 939.3h0M414.4 937.7h0M415.1 937.3h0M415.7 938.5h0M416.4 938.1h0M417.1 940.2h0M417.7 937.1h0M418.4 936.7h0M419 938.3h0M419.7 938.6h0M420.4 938.8h0M421 939.4h0M421.7 940.8h0M422.4 938.4h0M423 938.2h0M423.7 937h0M424.3 939h0M425 939.6h0M425.7 938.4h0M426.3 939.9h0M427 938.7h0M427.7 940.1h0M428.3 938.8h0M429 937.2h0M429.7 937.5h0M430.3 936.3h0M431 935.7h0M431.6 937.4h0M432.3 937.5h0M433 938.1h0M433.6 935.5h0M434.3 934.7h0M435 933.4h0M435.6 935.2h0M436.3 934.4h0M436.9 933.5h0M437.6 935.1h0M438.3 935.5h0M438.9 933.6h0M439.6 936.9h0M440.3 936.9h0M440.9 936.9h0M441.6 937.4h0M442.3 940h0M442.9 940.2h0M443.6 940.8h0M444.2 938h0M444.9 938.7h0M445.6 940.4h0M446.2 938.4h0M446.9 939h0M447.6 938h0M448.2 941.8h0M448.9 941h0M449.5 940.5h0M450.2 940.3h0M450.9 939.7h0M451.5 939.8h0M452.2 940.9h0M452.9 939.6h0M453.5 941.6h0M454.2 939.9h0M454.9 939.5h0M455.5 941.8h0M456.2 940.4h0M456.8 941.1h0M457.5 940.2h0M458.2 938.4h0M458.8 941.2h0M459.5 939.3h0M460.2 941.8h0M460.8 939.2h0M461.5 938.9h0M462.1 941.1h0M462.8 941.3h0M463.5 941h0M464.1 939.7h0M464.8 941.8h0M465.5 939.5h0M466.1 940.6h0M466.8 940.3h0M467.5 940.7h0M468.1 942h0M468.8 940.5h0M469.4 941.7h0M470.1 941.9h0M470.8 939.5h0M471.4 940.1h0M472.1 940.9h0M472.8 940.7h0M473.4 941.6h0M474.1 939.4h0M474.7 942.1h0M475.4 942.1h0M476.1 941.2h0M476.7 940h0M477.4 941.4h0M478.1 940.9h0M478.7 942h0M479.4 941.4h0M480.1 942.2h0M480.7 941.1h0M481.4 943h0M482 939.2h0M482.7 940.5h0M483.4 942h0M484 940h0M484.7 942.2h0M485.4 940.2h0M486 941.4h0M486.7 940.3h0M487.3 940.6h0M488 940.9h0M488.7 940.2h0M489.3 939.4h0M490 941.2h0M490.7 938h0M491.3 935.9h0M492 936.4h0M492.7 934.8h0M493.3 933.7h0M494 932.9h0M494.6 929h0M495.3 930.6h0M496 930.9h0M496.6 930.6h0M497.3 932.3h0M498 930.5h0M498.6 934.7h0M499.3 938.6h0M500 936.4h0M500.6 938.8h0M501.3 940.6h0M501.9 941.7h0M502.6 943.4h0M503.3 940.4h0M503.9 942.6h0M504.6 943.7h0M505.3 941.7h0M505.9 943.2h0M506.6 945.2h0M507.2 944.8h0M507.9 944.1h0M508.6 941.1h0M509.2 943.7h0M509.9 944.3h0M510.6 943.7h0M511.2 944h0M511.9 947.2h0M512.6 944h0M513.2 943.3h0M513.9 944.6h0M514.5 944.1h0M515.2 944.2h0M515.9 944.5h0M516.5 945.4h0M517.2 944.9h0M517.9 943.6h0M518.5 944.7h0M519.2 945.4h0M519.8 944.5h0M520.5 946.1h0M521.2 945.8h0M521.8 944.1h0M522.5 945.5h0M523.2 947.2h0M523.8 946.8h0M524.5 945.3h0M525.2 946.3h0M525.8 944.8h0M526.5 944h0M527.1 946.1h0M527.8 945.8h0M528.5 946.2h0M529.1 945.7h0M529.8 946.1h0M530.5 945.3h0M531.1 946.3h0M531.8 946.7h0M532.4 945.9h0M533.1 946.8h0M533.8 944.2h0M534.4 945.3h0M535.1 947.5h0M535.8 947.9h0M536.4 946.4h0M537.1 946.1h0M537.8 945h0M538.4 946.6h0M539.1 947h0M539.7 944.8h0M540.4 946.8h0M541.1 946.8h0M541.7 946.7h0M542.4 945h0M543.1 946.6h0M543.7 944.4h0M544.4 947.2h0M545 945.6h0M545.7 943.9h0M546.4 945.9h0M547 945.2h0M547.7 942.7h0M548.4 944.9h0M549 941h0M549.7 941.8h0M550.4 942.3h0M551 938.7h0M551.7 942.3h0M552.3 941.7h0M553 942.5h0M553.7 942.1h0M554.3 944.3h0M555 943.5h0M555.7 944.2h0M556.3 945.2h0M557 944.7h0M557.6 947.8h0M558.3 945.1h0M559 945.8h0M559.6 946.4h0M560.3 946.7h0M561 947.5h0M561.6 947.5h0M562.3 946.4h0M563 946.2h0M563.6 946.6h0M564.3 947.2h0M564.9 947h0M565.6 945.5h0M566.3 943.7h0M566.9 947.6h0M567.6 946h0M568.3 944.7h0M568.9 943.9h0M569.6 941.7h0M570.2 939.4h0M570.9 937.5h0M571.6 934.1h0M572.2 929h0M572.9 922.1h0M573.6 916.2h0M574.2 909h0M574.9 899h0M575.6 891.3h0M576.2 881.8h0M576.9 880.2h0M577.5 880.4h0M578.2 883h0M578.9 889.4h0M579.5 900.5h0M580.2 907.9h0M580.9 917.6h0M581.5 923.9h0M582.2 931.1h0M582.9 934.9h0M583.5 937.3h0M584.2 941.4h0M584.8 943.1h0M585.5 945.5h0M586.2 945.4h0M586.8 946.2h0M587.5 948h0M588.2 948.8h0M588.8 948.7h0M589.5 949.3h0M590.1 949h0M590.8 949.6h0M591.5 949.9h0M592.1 949.6h0M592.8 949.4h0M593.5 949.7h0M594.1 952.1h0M594.8 949.8h0M595.5 949.7h0M596.1 949.7h0M596.8 950.2h0M597.4 950.5h0M598.1 949.3h0M598.8 948.5h0M599.4 950.9h0M600.1 949.1h0M600.8 951h0M601.4 951h0M602.1 952.1h0M602.7 952.7h0M603.4 951.5h0M604.1 950.6h0M604.7 950.1h0M605.4 950.5h0M606.1 951.4h0M606.7 949.4h0M607.4 951.6h0M608.1 951.6h0M608.7 952.3h0M609.4 951.4h0M610 951.9h0M610.7 951.1h0M611.4 951.5h0M612 950.2h0M612.7 952.2h0M613.4 953.6h0M614 952.3h0M614.7 952.6h0M615.3 951.3h0M616 953.8h0M616.7 951.6h0M617.3 953.2h0M618 952.6h0M618.7 951.6h0M619.3 953.6h0M620 952.7h0M620.7 952.8h0M621.3 953.1h0M622 952.7h0M622.6 952.3h0M623.3 953.2h0M624 952.3h0M624.6 952.8h0M625.3 952h0M626 951.2h0M626.6 952h0M627.3 952.2h0M627.9 952.7h0M628.6 953.9h0M629.3 951h0M629.9 952.9h0M630.6 950.5h0M631.3 951.7h0M631.9 952.2h0M632.6 950.5h0M633.3 950.9h0M633.9 952.9h0M634.6 952.8h0M635.2 952.6h0M635.9 951.9h0M636.6 954.9h0M637.2 952.5h0M637.9 951.8h0M638.6 954.3h0M639.2 953.3h0M639.9 952.2h0M640.5 953.8h0M641.2 952.7h0M641.9 953.2h0M642.5 952.7h0M643.2 951.3h0M643.9 953.3h0M644.5 952.3h0M645.2 950.9h0M645.9 950.9h0M646.5 952.3h0M647.2 950.6h0M647.8 950.4h0M648.5 950.3h0M649.2 948.9h0M649.8 946.3h0M650.5 947.5h0M651.2 946.8h0M651.8 945.9h0M652.5 946.2h0M653.1 944.8h0M653.8 945.6h0M654.5 947.1h0M655.1 946.1h0M655.8 949.2h0M656.5 950.1h0M657.1 950.1h0M657.8 951.9h0M658.5 951.6h0M659.1 950.3h0M659.8 952.8h0M660.4 952.3h0M661.1 952.6h0M661.8 952.5h0M662.4 953.8h0M663.1 953.1h0M663.8 951.9h0M664.4 953.1h0M665.1 953.4h0M665.8 952h0M666.4 952.3h0M667.1 952.4h0M667.7 952.2h0M668.4 953.2h0M669.1 953.9h0M669.7 954.8h0M670.4 954.1h0M671.1 953.9h0M671.7 954.1h0M672.4 954.3h0M673 952.6h0M673.7 953.6h0M674.4 953.3h0M675 952.8h0M675.7 952.5h0M676.4 952.5h0M677 952.7h0M677.7 951.7h0M678.4 953.5h0M679 952.9h0M679.7 953.1h0M680.3 953.3h0M681 953.7h0M681.7 952.4h0M682.3 952.8h0M683 951.3h0M683.7 950.7h0M684.3 951h0M685 954.5h0M685.6 951.1h0M686.3 953.4h0M687 954.3h0M687.6 952.4h0M688.3 954.4h0M689 954.6h0M689.6 953.7h0M690.3 955.1h0M691 953.3h0M691.6 951.8h0M692.3 953h0M692.9 951.9h0M693.6 950.8h0M694.3 950.6h0M694.9 953.8h0M695.6 950.5h0M696.3 950.5h0M696.9 949.2h0M697.6 949.2h0M698.2 948h0M698.9 946.9h0M699.6 945.3h0M700.2 944.5h0M700.9 944.9h0M701.6 946h0M702.2 948.3h0M702.9 947.9h0M703.6 949.5h0M704.2 949h0M704.9 949.2h0M705.5 948.6h0M706.2 950.5h0M706.9 948.8h0M707.5 951h0M708.2 953.2h0M708.9 952h0M709.5 952.9h0M710.2 951.4h0M710.8 950.4h0M711.5 951.2h0M712.2 951.2h0M712.8 952.7h0M713.5 953.3h0M714.2 950.3h0M714.8 950.3h0M715.5 950.1h0M716.2 949.2h0M716.8 947.2h0M717.5 947.2h0M718.1 945.6h0M718.8 943.1h0M719.5 938.3h0M720.1 935.5h0M720.8 929.2h0M721.5 927.1h0M722.1 919.9h0M722.8 916h0M723.4 912.3h0M724.1 910.4h0M724.8 910.5h0M725.4 912.4h0M726.1 920.6h0M726.8 923.9h0M727.4 929h0M728.1 935.9h0M728.8 937.7h0M729.4 942h0M730.1 944.3h0M730.7 947.7h0M731.4 948.6h0M732.1 949.6h0M732.7 949.9h0M733.4 951.1h0M734.1 952.4h0M734.7 949.4h0M735.4 951.6h0M736 951.5h0M736.7 951.7h0M737.4 950.1h0M738 952.9h0M738.7 951.3h0M739.4 951.8h0M740 951.4h0M740.7 949.9h0M741.4 950.8h0M742 948.9h0M742.7 949.1h0M743.3 948.9h0M744 948.3h0M744.7 947.3h0M745.3 946.1h0M746 947.5h0M746.7 945.1h0M747.3 943.2h0M748 944.1h0M748.7 944.7h0M749.3 946.2h0M750 946.9h0M750.6 947.7h0M751.3 951.3h0M752 950.6h0M752.6 950.9h0M753.3 951.6h0M754 952.1h0M754.6 954.1h0M755.3 953.4h0M755.9 954.3h0M756.6 950.1h0M757.3 953.7h0M757.9 954.5h0M758.6 955.4h0M759.3 953.4h0M759.9 951.7h0M760.6 953.9h0M761.3 952.6h0M761.9 951.3h0M762.6 952.2h0M763.2 953.5h0M763.9 953.2h0M764.6 952.1h0M765.2 949.5h0M765.9 952.1h0M766.6 947.2h0M767.2 947h0M767.9 944.3h0M768.5 946h0M769.2 944.2h0M769.9 944.3h0M770.5 943.6h0M771.2 944.2h0M771.9 945.5h0M772.5 944.7h0M773.2 949h0M773.9 950.2h0M774.5 950h0M775.2 951.3h0M775.8 952.4h0M776.5 954.3h0M777.2 953.6h0M777.8 953.6h0M778.5 953.3h0M779.2 952.5h0M779.8 953.6h0M780.5 954.4h0M781.1 954.1h0M781.8 954.6h0M782.5 955.3h0M783.1 955h0M783.8 954.9h0M784.5 955.4h0M785.1 954.9h0M785.8 954.8h0M786.5 955.3h0M787.1 953.1h0M787.8 956.2h0M788.4 953.6h0M789.1 955.8h0M789.8 955h0M790.4 956.1h0M791.1 955.1h0M791.8 954.1h0M792.4 956.2h0M793.1 955.3h0M793.7 955.3h0M794.4 955.3h0M795.1 956.2h0M795.7 956h0M796.4 955.5h0M797.1 953.7h0M797.7 954.9h0M798.4 955.4h0M799.1 957.1h0M799.7 955.7h0M800.4 955.3h0M801 956.6h0M801.7 955.3h0M802.4 955.4h0M803 955.7h0M803.7 954h0M804.4 956.5h0M805 956h0M805.7 955.4h0M806.3 954.5h0M807 955.9h0M807.7 957.2h0M808.3 955.1h0M809 954.8h0M809.7 956.3h0M810.3 954.3h0M811 953.7h0M811.7 955.5h0M812.3 955.3h0M813 955.7h0M813.6 955.5h0M814.3 956.4h0M815 955.9h0M815.6 955.5h0M816.3 955.7h0M817 956.8h0M817.6 957.2h0M818.3 957.1h0M818.9 957h0M819.6 953h0M820.3 955.3h0M820.9 956h0M821.6 956.6h0M822.3 954.8h0M822.9 957.8h0M823.6 956.7h0M824.3 955.8h0M824.9 956.6h0M825.6 956h0M826.2 955.6h0M826.9 956.8h0M827.6 955.8h0M828.2 954.7h0M828.9 955.3h0M829.6 955.6h0M830.2 954.4h0M830.9 956.4h0M831.6 953.7h0M832.2 956.1h0M832.9 954.8h0M833.5 952.4h0M834.2 953h0M834.9 953.7h0M835.5 952.1h0M836.2 951.1h0M836.9 952.6h0M837.5 954.9h0M838.2 951.8h0M838.8 954.5h0M839.5 954.5h0M840.2 954.9h0M840.8 955.1h0M841.5 955.6h0M842.2 957.3h0M842.8 957.2h0M843.5 955.8h0M844.2 958.6h0M844.8 955.9h0M845.5 958h0M846.1 957.6h0M846.8 958.7h0M847.5 957.9h0M848.1 958.7h0M848.8 957.7h0M849.5 958.7h0M850.1 958.2h0M850.8 960h0M851.4 957.2h0M852.1 959.2h0M852.8 958.5h0M853.4 958.2h0M854.1 957.5h0M854.8 958.6h0M855.4 956.7h0M856.1 956.9h0M856.8 959h0M857.4 956.7h0M858.1 959.8h0M858.7 958.1h0M859.4 958.7h0M860.1 958.5h0M860.7 958.9h0M861.4 958.2h0M862.1 958.2h0M862.7 958.5h0M863.4 959.7h0M864 959.8h0M864.7 960h0M865.4 959.1h0M866 958.6h0M866.7 957.1h0M867.4 959.5h0M868 959.7h0M868.7 958.5h0M869.4 959.8h0M870 960.3h0M870.7 959.1h0M871.3 960.1h0M872 959.4h0M872.7 957.4h0M873.3 958.7h0M874 958.8h0M874.7 959.8h0M875.3 958.4h0M876 958.9h0M876.6 958.4h0M877.3 959.3h0M878 959.5h0M878.6 960.4h0M879.3 960.3h0M880 959.7h0M880.6 959.8h0M881.3 959.7h0M882 959.7h0M882.6 961.2h0M883.3 957.2h0M883.9 959.5h0M884.6 960.1h0M885.3 960.9h0M885.9 958.7h0M886.6 960.2h0M887.3 960.7h0M887.9 959.5h0M888.6 958h0M889.2 959.6h0M889.9 958.8h0M890.6 960.7h0M891.2 959.2h0M891.9 961.9h0M892.6 960.3h0M893.2 959.4h0M893.9 959.7h0M894.6 959.2h0M895.2 960.7h0M895.9 961.8h0M896.5 960.1h0M897.2 961.3h0M897.9 959.5h0M898.5 960.8h0M899.2 962.8h0M899.9 959.1h0M900.5 961.7h0M901.2 961.6h0M901.8 958.6h0M902.5 959h0M903.2 959.4h0M903.8 961.3h0M904.5 959.9h0M905.2 960.1h0M905.8 961h0M906.5 960.4h0M907.2 960.5h0M907.8 959.9h0M908.5 961.3h0M909.1 959.4h0M909.8 961.8h0M910.5 959.8h0M911.1 959.3h0M911.8 960.7h0M912.5 960.5h0M913.1 958h0M913.8 960.2h0M914.5 958.6h0M915.1 959.1h0M915.8 960.7h0M916.4 959h0M917.1 960.2h0M917.8 959.4h0M918.4 961.7h0M919.1 959.6h0M919.8 958.5h0M920.4 958.6h0M921.1 958.7h0M921.7 959.7h0M922.4 959.6h0M923.1 960.5h0M923.7 959.7h0M924.4 959.6h0M925.1 959.7h0M925.7 959.3h0M926.4 959.6h0M927.1 960.1h0M927.7 960h0M928.4 958.7h0M929 957.4h0M929.7 958.3h0M930.4 959.3h0M931 956.5h0M931.7 958.4h0M932.4 959.3h0M933 958.1h0M933.7 957.4h0M934.3 960.1h0M935 959.4h0M935.7 957.5h0M936.3 958.6h0M937 958.1h0M937.7 955.1h0M938.3 958.3h0M939 953.9h0M939.7 954h0M940.3 952.6h0M941 953.5h0M941.6 952h0M942.3 953.6h0M943 955.2h0M943.6 954.9h0M944.3 955.1h0M945 957.5h0M945.6 955.5h0M946.3 957.9h0M946.9 957h0M947.6 957.8h0M948.3 957.8h0M948.9 958h0M949.6 958h0M950.3 957.3h0M950.9 957.6h0M951.6 958.6h0" stroke="#e80000" stroke-width="9.5" stroke-linecap="round" fill="none"/>
<path d="M131.9 942.8 132.5 943.2 133.2 944.1 133.9 943.5 134.5 943.2 135.2 943.7 135.9 942.9 136.5 943.4 137.2 942.2 137.8 943.1 138.5 942.9 139.2 943.5 139.8 943.6 140.5 942.7 141.2 943.9 141.8 942.7 142.5 941.9 143.1 941.7 143.8 943.6 144.5 942.8 145.1 942.4 145.8 942.3 146.5 942.1 147.1 943.3 147.8 942.5 148.5 943.4 149.1 942.4 149.8 941.2 150.4 942.8 151.1 942.1 151.8 942.1 152.4 943 153.1 942 153.8 942.7 154.4 942.1 155.1 941.6 155.7 942.2 156.4 941.6 157.1 942.5 157.7 942.3 158.4 941.8 159.1 942 159.7 942 160.4 941.5 161.1 942 161.7 941.4 162.4 941.8 163 940.9 163.7 941.4 164.4 941.5 165 940.9 165.7 941 166.4 940.9 167 941.5 167.7 940.7 168.4 941.2 169 941.7 169.7 941.1 170.3 940.1 171 940.9 171.7 941.3 172.3 940.6 173 941.2 173.7 940.9 174.3 940.8 175 940.4 175.6 940.2 176.3 940.3 177 940.4 177.6 940.6 178.3 940.5 179 940 179.6 940.2 180.3 940.3 181 939.2 181.6 939.6 182.3 939.5 182.9 939.8 183.6 939.7 184.3 939.7 184.9 939.3 185.6 940 186.3 939.8 186.9 938.7 187.6 939.5 188.2 938.9 188.9 940.3 189.6 939.1 190.2 939.1 190.9 939.3 191.6 939.1 192.2 939.1 192.9 939.9 193.6 939.1 194.2 939.4 194.9 939.5 195.5 938.4 196.2 939.6 196.9 939.1 197.5 939.2 198.2 938.2 198.9 939 199.5 938.7 200.2 938.2 200.8 939.5 201.5 938.6 202.2 938.1 202.8 938.2 203.5 938.5 204.2 938.5 204.8 938.2 205.5 938.4 206.2 938.5 206.8 937 207.5 937.3 208.1 937 208.8 937.5 209.5 938 210.1 937.6 210.8 936.6 211.5 936.9 212.1 937.5 212.8 936.6 213.4 936.8 214.1 936.9 214.8 935.7 215.4 936.9 216.1 936.6 216.8 936.6 217.4 935.8 218.1 935.8 218.8 935.8 219.4 936.1 220.1 935.9 220.7 935.8 221.4 936.6 222.1 936.2 222.7 935.1 223.4 935 224.1 936.1 224.7 935 225.4 935.7 226 935.7 226.7 934.5 227.4 934.5 228 934.6 228.7 934 229.4 933.8 230 933.9 230.7 934.4 231.4 933.6 232 933.6 232.7 933.3 233.3 932.7 234 933.9 234.7 931.8 235.3 932.5 236 932.9 236.7 931.7 237.3 932.5 238 932.6 238.6 931.3 239.3 931.6 240 930.7 240.6 931.2 241.3 930.7 242 930.5 242.6 930.7 243.3 929.9 244 930 244.6 929.2 245.3 927.8 245.9 928 246.6 927.6 247.3 925.9 247.9 926.6 248.6 925.2 249.3 924.4 249.9 922.7 250.6 921.9 251.3 920.4 251.9 918 252.6 915.7 253.2 911.3 253.9 908.7 254.6 901.8 255.2 894 255.9 885.4 256.6 873.9 257.2 860.6 257.9 843.4 258.5 825.1 259.2 803.6 259.9 783.2 260.5 760.6 261.2 741.7 261.9 725 262.5 717.4 263.2 716.6 263.9 725.6 264.5 740.8 265.2 759.2 265.8 781.1 266.5 802.9 267.2 823.5 267.8 842.7 268.5 859 269.2 872.7 269.8 884.8 270.5 894.2 271.1 900.4 271.8 906.3 272.5 910.8 273.1 913.9 273.8 916.2 274.5 918.8 275.1 920.3 275.8 921.5 276.5 922 277.1 923.9 277.8 924.5 278.4 924 279.1 924.7 279.8 925.8 280.4 925.2 281.1 926.2 281.8 926.4 282.4 926.3 283.1 926.8 283.7 926.3 284.4 927 285.1 926.5 285.7 928.8 286.4 928.5 287.1 928.5 287.7 928.2 288.4 928.6 289.1 928.8 289.7 928.8 290.4 928.8 291 927.9 291.7 928.6 292.4 928.2 293 927.8 293.7 927.8 294.4 928.6 295 928.8 295.7 927.5 296.3 929 297 928.7 297.7 927.6 298.3 927.3 299 927.3 299.7 927.6 300.3 926.8 301 926.4 301.7 927.2 302.3 926.1 303 927.4 303.6 928.1 304.3 928 305 928.5 305.6 928.6 306.3 929 307 929 307.6 928.7 308.3 929.2 308.9 929.4 309.6 930.2 310.3 930.5 310.9 930 311.6 929.5 312.3 929.6 312.9 930 313.6 930.8 314.3 930.4 314.9 930.2 315.6 929.9 316.2 930.8 316.9 930.5 317.6 930.4 318.2 930.5 318.9 931.3 319.6 930.4 320.2 931.3 320.9 931 321.5 930.4 322.2 930.8 322.9 930.3 323.5 929.9 324.2 930.1 324.9 929.7 325.5 930.2 326.2 929.8 326.9 929.9 327.5 929.8 328.2 927.5 328.8 928.7 329.5 927 330.2 927 330.8 925.1 331.5 923.7 332.2 921.5 332.8 916.3 333.5 912.4 334.2 906.2 334.8 898.3 335.5 891.7 336.1 883.5 336.8 876.1 337.5 870.9 338.1 871.1 338.8 871.3 339.5 875.8 340.1 883.5 340.8 891.9 341.4 899.8 342.1 907.2 342.8 912.9 343.4 918.7 344.1 922.1 344.8 924.6 345.4 927 346.1 928.7 346.8 930.4 347.4 931.1 348.1 931.3 348.7 931.9 349.4 932.4 350.1 933.7 350.7 932.6 351.4 933.4 352.1 933.8 352.7 933.2 353.4 933.9 354 934.1 354.7 934 355.4 934.6 356 935 356.7 935.2 357.4 934.7 358 935 358.7 936.1 359.4 934.5 360 935.3 360.7 935.6 361.3 935.3 362 935.5 362.7 935.2 363.3 935.5 364 935.7 364.7 934.7 365.3 934.7 366 934.3 366.6 933.6 367.3 933.3 368 932 368.6 932 369.3 931.5 370 930.4 370.6 929.2 371.3 927.2 372 927.9 372.6 926.7 373.3 927.4 373.9 929.2 374.6 928.8 375.3 930.9 375.9 931.7 376.6 932.5 377.3 933.1 377.9 934.5 378.6 934.6 379.2 935.9 379.9 936.3 380.6 935.3 381.2 935.9 381.9 936.2 382.6 935.9 383.2 936 383.9 936.7 384.6 936.7 385.2 936 385.9 936.6 386.5 937.2 387.2 936.4 387.9 936.6 388.5 937.9 389.2 937.8 389.9 936.4 390.5 936.6 391.2 937.5 391.8 936.8 392.5 937.3 393.2 937.2 393.8 937.8 394.5 936.3 395.2 936.5 395.8 937 396.5 938.1 397.2 937.6 397.8 936.8 398.5 938 399.1 938.1 399.8 937.7 400.5 937.7 401.1 938.1 401.8 938.5 402.5 938 403.1 938.2 403.8 938 404.4 937.8 405.1 937.6 405.8 938.2 406.4 938 407.1 938 407.8 938.6 408.4 938.4 409.1 938.7 409.8 937.5 410.4 938.6 411.1 938 411.7 937.9 412.4 937.9 413.1 939 413.7 938.8 414.4 938.1 415.1 937.9 415.7 938.5 416.4 938.3 417.1 939.4 417.7 937.8 418.4 937.7 419 938.5 419.7 938.6 420.4 938.7 421 939 421.7 939.7 422.4 938.5 423 938.4 423.7 937.8 424.3 938.8 425 939.1 425.7 938.6 426.3 939.3 427 938.6 427.7 939.3 428.3 938.6 429 937.8 429.7 937.8 430.3 937.1 431 936.6 431.6 937.2 432.3 937 433 937.1 433.6 935.5 434.3 934.9 435 933.9 435.6 934.6 436.3 934.2 436.9 933.8 437.6 934.8 438.3 935.2 438.9 934.6 439.6 936.5 440.3 936.8 440.9 937.1 441.6 937.6 442.3 939.1 442.9 939.4 443.6 939.8 444.2 938.6 444.9 939 445.6 940 446.2 939 446.9 939.4 447.6 938.9 448.2 940.8 448.9 940.5 449.5 940.3 450.2 940.2 450.9 939.9 451.5 940 452.2 940.6 452.9 939.9 453.5 940.9 454.2 940.1 454.9 940 455.5 941.1 456.2 940.4 456.8 940.8 457.5 940.4 458.2 939.5 458.8 940.9 459.5 940 460.2 941.3 460.8 940 461.5 939.9 462.1 941 462.8 941.1 463.5 940.9 464.1 940.3 464.8 941.4 465.5 940.3 466.1 940.8 466.8 940.7 467.5 940.9 468.1 941.5 468.8 940.8 469.4 941.5 470.1 941.5 470.8 940.4 471.4 940.7 472.1 941.1 472.8 941 473.4 941.5 474.1 940.4 474.7 941.7 475.4 941.8 476.1 941.3 476.7 940.7 477.4 941.4 478.1 941.2 478.7 941.7 479.4 941.4 480.1 941.8 480.7 941.3 481.4 942.2 482 940.4 482.7 941 483.4 941.8 484 940.8 484.7 941.9 485.4 940.8 486 941.4 486.7 940.8 487.3 940.8 488 940.8 488.7 940.3 489.3 939.6 490 940.1 490.7 938 491.3 936.4 492 935.9 492.7 934.4 493.3 933 494 931.9 494.6 929.5 495.3 930 496 930.3 496.6 930.6 497.3 932.1 498 932.1 498.6 935 499.3 937.7 500 937.3 500.6 939.1 501.3 940.5 501.9 941.4 502.6 942.5 503.3 941.3 503.9 942.5 504.6 943.2 505.3 942.4 505.9 943.2 506.6 944.3 507.2 944.1 507.9 943.9 508.6 942.4 509.2 943.7 509.9 944.1 510.6 943.8 511.2 944 511.9 945.7 512.6 944.1 513.2 943.8 513.9 944.5 514.5 944.3 515.2 944.3 515.9 944.5 516.5 945 517.2 944.8 517.9 944.2 518.5 944.8 519.2 945.1 519.8 944.7 520.5 945.6 521.2 945.4 521.8 944.6 522.5 945.3 523.2 946.2 523.8 946.1 524.5 945.3 525.2 945.8 525.8 945.1 526.5 944.8 527.1 945.8 527.8 945.7 528.5 945.9 529.1 945.7 529.8 945.9 530.5 945.5 531.1 946.1 531.8 946.3 532.4 945.9 533.1 946.4 533.8 945.1 534.4 945.7 535.1 946.8 535.8 947 536.4 946.3 537.1 946.1 537.8 945.6 538.4 946.4 539.1 946.7 539.7 945.5 540.4 946.6 541.1 946.5 541.7 946.5 542.4 945.6 543.1 946.3 543.7 945.2 544.4 946.5 545 945.5 545.7 944.5 546.4 945.3 547 944.6 547.7 943 548.4 943.8 549 941.5 549.7 941.6 550.4 941.7 551 939.9 551.7 941.8 552.3 941.8 553 942.5 553.7 942.7 554.3 944.1 555 944 555.7 944.7 556.3 945.4 557 945.4 557.6 947 558.3 945.8 559 946.2 559.6 946.5 560.3 946.7 561 947.1 561.6 947.1 562.3 946.5 563 946.4 563.6 946.5 564.3 946.8 564.9 946.6 565.6 945.8 566.3 944.8 566.9 946.5 567.6 945.5 568.3 944.5 568.9 943.7 569.6 942 570.2 939.9 570.9 937.7 571.6 934.2 572.2 929.3 572.9 923 573.6 916.4 574.2 908.6 574.9 899.4 575.6 891.2 576.2 883.4 576.9 880.4 577.5 880.5 578.2 883.9 578.9 890.6 579.5 900.2 580.2 908.4 580.9 917.3 581.5 924.2 582.2 930.7 582.9 935 583.5 938.1 584.2 941.5 584.8 943.3 585.5 945.2 586.2 945.6 586.8 946.4 587.5 947.6 588.2 948.2 588.8 948.3 589.5 948.8 590.1 948.8 590.8 949.2 591.5 949.4 592.1 949.4 592.8 949.4 593.5 949.6 594.1 950.9 594.8 949.8 595.5 949.8 596.1 949.9 596.8 950.2 597.4 950.4 598.1 949.8 598.8 949.5 599.4 950.8 600.1 949.9 600.8 950.9 601.4 950.9 602.1 951.5 602.7 951.9 603.4 951.3 604.1 950.9 604.7 950.7 605.4 950.9 606.1 951.4 606.7 950.4 607.4 951.6 608.1 951.6 608.7 952 609.4 951.6 610 951.8 610.7 951.5 611.4 951.7 612 951.1 612.7 952.1 613.4 952.9 614 952.2 614.7 952.4 615.3 951.8 616 953 616.7 952 617.3 952.8 618 952.6 618.7 952.1 619.3 953.1 620 952.7 620.7 952.8 621.3 952.9 622 952.7 622.6 952.5 623.3 952.9 624 952.5 624.6 952.7 625.3 952.4 626 952 626.6 952.4 627.3 952.5 627.9 952.7 628.6 953.3 629.3 951.9 629.9 952.8 630.6 951.6 631.3 952.2 631.9 952.5 632.6 951.6 633.3 951.8 633.9 952.8 634.6 952.8 635.2 952.7 635.9 952.3 636.6 953.8 637.2 952.6 637.9 952.2 638.6 953.5 639.2 952.9 639.9 952.4 640.5 953.2 641.2 952.6 641.9 952.8 642.5 952.6 643.2 951.9 643.9 952.8 644.5 952.2 645.2 951.5 645.9 951.3 646.5 951.8 647.2 950.7 647.8 950.4 648.5 950 649.2 948.9 649.8 947.1 650.5 947.2 651.2 946.3 651.8 945.5 652.5 945.3 653.1 944.6 653.8 945.1 654.5 946.3 655.1 946.2 655.8 948.3 656.5 949.2 657.1 949.7 657.8 951 658.5 951.1 659.1 950.8 659.8 952.2 660.4 952.1 661.1 952.4 661.8 952.4 662.4 953.1 663.1 952.8 663.8 952.3 664.4 952.9 665.1 953.1 665.8 952.4 666.4 952.6 667.1 952.6 667.7 952.5 668.4 953 669.1 953.4 669.7 953.8 670.4 953.5 671.1 953.4 671.7 953.5 672.4 953.6 673 952.8 673.7 953.3 674.4 953.1 675 952.9 675.7 952.7 676.4 952.7 677 952.8 677.7 952.4 678.4 953.2 679 953 679.7 953 680.3 953.1 681 953.3 681.7 952.7 682.3 952.9 683 952.1 683.7 951.8 684.3 952 685 953.7 685.6 952 686.3 953.1 687 953.6 687.6 952.6 688.3 953.6 689 953.7 689.6 953.2 690.3 953.9 691 952.9 691.6 952.2 692.3 952.7 692.9 952.1 693.6 951.5 694.3 951.2 694.9 952.7 695.6 950.8 696.3 950.5 696.9 949.5 697.6 949.1 698.2 948.1 698.9 947.1 699.6 945.9 700.2 945.2 700.9 945.2 701.6 945.9 702.2 947.2 702.9 947.4 703.6 948.6 704.2 948.7 704.9 949.2 705.5 949.3 706.2 950.5 706.9 949.9 707.5 951.1 708.2 952.3 708.9 951.8 709.5 952.3 710.2 951.6 710.8 951.1 711.5 951.5 712.2 951.4 712.8 952.1 713.5 952.3 714.2 950.7 714.8 950.5 715.5 950.1 716.2 949.3 716.8 947.9 717.5 947.2 718.1 945.4 718.8 942.9 719.5 938.9 720.1 935.6 720.8 930.2 721.5 926.6 722.1 920.5 722.8 916.2 723.4 912.5 724.1 910.8 724.8 911.1 725.4 913.5 726.1 919.5 726.8 923.7 727.4 928.9 728.1 934.6 728.8 937.8 729.4 941.7 730.1 944.3 730.7 947 731.4 948.4 732.1 949.5 732.7 950 733.4 950.9 734.1 951.8 734.7 950.5 735.4 951.7 736 951.7 736.7 951.9 737.4 951.1 738 952.5 738.7 951.7 739.4 951.9 740 951.6 740.7 950.8 741.4 951 742 949.8 742.7 949.6 743.3 949.1 744 948.3 744.7 947.2 745.3 946.1 746 946.3 746.7 944.8 747.3 943.8 748 944.4 748.7 945.1 749.3 946.3 750 947.2 750.6 948.2 751.3 950.4 752 950.5 752.6 951.1 753.3 951.7 754 952.2 754.6 953.4 755.3 953.2 755.9 953.7 756.6 951.7 757.3 953.5 757.9 953.9 758.6 954.4 759.3 953.4 759.9 952.5 760.6 953.6 761.3 952.9 761.9 952.1 762.6 952.5 763.2 953 763.9 952.6 764.6 951.7 765.2 950 765.9 950.8 766.6 947.8 767.2 947.1 767.9 945.1 768.5 945.3 769.2 944 769.9 943.8 770.5 943.5 771.2 944.2 771.9 945.4 772.5 945.7 773.2 948.5 773.9 949.7 774.5 950.2 775.2 951.3 775.8 952.3 776.5 953.5 777.2 953.4 777.8 953.6 778.5 953.6 779.2 953.3 779.8 953.9 780.5 954.3 781.1 954.2 781.8 954.5 782.5 954.9 783.1 954.8 783.8 954.8 784.5 955 785.1 954.8 785.8 954.8 786.5 955.1 787.1 954 787.8 955.5 788.4 954.3 789.1 955.4 789.8 955 790.4 955.6 791.1 955 791.8 954.6 792.4 955.6 793.1 955.2 793.7 955.2 794.4 955.2 795.1 955.7 795.7 955.6 796.4 955.3 797.1 954.5 797.7 955 798.4 955.3 799.1 956.2 799.7 955.5 800.4 955.3 801 956 801.7 955.3 802.4 955.4 803 955.6 803.7 954.8 804.4 956 805 955.8 805.7 955.5 806.3 955.1 807 955.8 807.7 956.4 808.3 955.4 809 955.3 809.7 956 810.3 955.1 811 954.8 811.7 955.7 812.3 955.6 813 955.8 813.6 955.7 814.3 956.2 815 956 815.6 955.8 816.3 955.9 817 956.5 817.6 956.7 818.3 956.7 818.9 956.6 819.6 954.6 820.3 955.8 820.9 956.1 821.6 956.4 822.3 955.5 822.9 957.1 823.6 956.5 824.3 956.1 824.9 956.4 825.6 956.2 826.2 955.9 826.9 956.5 827.6 956 828.2 955.4 828.9 955.6 829.6 955.7 830.2 954.9 830.9 955.8 831.6 954.2 832.2 955.2 832.9 954.3 833.5 952.9 834.2 952.9 834.9 953.1 835.5 952.2 836.2 951.7 836.9 952.5 837.5 953.8 838.2 952.6 838.8 954.1 839.5 954.4 840.2 954.9 840.8 955.3 841.5 955.7 842.2 956.8 842.8 956.8 843.5 956.3 844.2 957.8 844.8 956.5 845.5 957.6 846.1 957.5 846.8 958.1 847.5 957.7 848.1 958.1 848.8 957.7 849.5 958.2 850.1 958 850.8 958.9 851.4 957.5 852.1 958.5 852.8 958.2 853.4 958.1 854.1 957.8 854.8 958.3 855.4 957.4 856.1 957.5 856.8 958.6 857.4 957.5 858.1 959 858.7 958.2 859.4 958.5 860.1 958.5 860.7 958.7 861.4 958.4 862.1 958.3 862.7 958.5 863.4 959.1 864 959.2 864.7 959.3 865.4 958.9 866 958.6 866.7 957.9 867.4 959.1 868 959.3 868.7 958.7 869.4 959.3 870 959.6 870.7 959 871.3 959.6 872 959.2 872.7 958.2 873.3 958.9 874 959 874.7 959.5 875.3 958.8 876 959 876.6 958.8 877.3 959.3 878 959.4 878.6 959.9 879.3 959.8 880 959.6 880.6 959.6 881.3 959.6 882 959.6 882.6 960.4 883.3 958.4 883.9 959.6 884.6 959.9 885.3 960.3 885.9 959.2 886.6 960 887.3 960.3 887.9 959.6 888.6 959 889.2 959.8 889.9 959.4 890.6 960.3 891.2 959.6 891.9 961 892.6 960.2 893.2 959.7 893.9 959.9 894.6 959.7 895.2 960.4 895.9 961 896.5 960.2 897.2 960.8 897.9 959.9 898.5 960.6 899.2 961.6 899.9 959.8 900.5 961.1 901.2 961 901.8 959.5 902.5 959.7 903.2 959.9 903.8 960.8 904.5 960.1 905.2 960.2 905.8 960.6 906.5 960.3 907.2 960.3 907.8 960 908.5 960.7 909.1 959.7 909.8 960.9 910.5 959.9 911.1 959.6 911.8 960.3 912.5 960.2 913.1 959 913.8 960 914.5 959.2 915.1 959.4 915.8 960.2 916.4 959.4 917.1 959.9 917.8 959.6 918.4 960.7 919.1 959.6 919.8 959.1 920.4 959.1 921.1 959.1 921.7 959.6 922.4 959.5 923.1 960 923.7 959.5 924.4 959.5 925.1 959.5 925.7 959.3 926.4 959.5 927.1 959.7 927.7 959.6 928.4 958.9 929 958.2 929.7 958.7 930.4 959.2 931 957.7 931.7 958.6 932.4 959 933 958.4 933.7 957.9 934.3 959.2 935 958.7 935.7 957.6 936.3 957.9 937 957.4 937.7 955.6 938.3 956.9 939 954.4 939.7 954.1 940.3 953.1 941 953.4 941.6 952.7 942.3 953.6 943 954.6 943.6 954.8 944.3 955.2 945 956.7 945.6 956 946.3 957.4 946.9 957.1 947.6 957.6 948.3 957.8 948.9 958 949.6 958 950.3 957.7 950.9 957.8 951.6 958.4" stroke="#200000" stroke-width="4.2" stroke-linejoin="round" fill="none"/>
</g>
<path d="M131.9 1054.5 132.5 1054.1 133.2 1054 133.9 1054.2 134.5 1054.4 135.2 1054.6 135.9 1054.5 136.5 1054.4 137.2 1054.1 137.8 1053.7 138.5 1053.7 139.2 1053.6 139.8 1054 140.5 1053.8 141.2 1054.2 141.8 1054.2 142.5 1054.5 143.1 1054.2 143.8 1054.2 144.5 1053.9 145.1 1054 145.8 1054.4 146.5 1054.8 147.1 1055.1 147.8 1055.1 148.5 1055 149.1 1054.6 149.8 1054.6 150.4 1054.4 151.1 1054.3 151.8 1054.7 152.4 1054.4 153.1 1054.6 153.8 1054.3 154.4 1054.7 155.1 1054.4 155.7 1054.3 156.4 1054.2 157.1 1054.2 157.7 1054.2 158.4 1054.2 159.1 1054.3 159.7 1054.4 160.4 1054.3 161.1 1054.5 161.7 1054.3 162.4 1054.6 163 1054.5 163.7 1054.6 164.4 1054.4 165 1054.2 165.7 1054 166.4 1054.2 167 1054.5 167.7 1054.9 168.4 1054.8 169 1054.6 169.7 1054.1 170.3 1053.7 171 1053.6 171.7 1053.7 172.3 1053.9 173 1053.7 173.7 1053.9 174.3 1054.1 175 1054.1 175.6 1054.5 176.3 1054.7 177 1054.9 177.6 1054.6 178.3 1054.4 179 1054.8 179.6 1054.3 180.3 1054.2 181 1053.9 181.6 1054 182.3 1054.6 182.9 1054.3 183.6 1054.3 184.3 1054.1 184.9 1054.5 185.6 1054.8 186.3 1054.9 186.9 1055.2 187.6 1054.9 188.2 1054.9 188.9 1054.6 189.6 1054.6 190.2 1054.5 190.9 1054.3 191.6 1054.2 192.2 1054 192.9 1054 193.6 1053.8 194.2 1054.1 194.9 1053.9 195.5 1054.6 196.2 1054.9 196.9 1055.4 197.5 1055 198.2 1054.5 198.9 1054.6 199.5 1054.6 200.2 1054.9 200.8 1054.5 201.5 1054.7 202.2 1054.4 202.8 1054.5 203.5 1054 204.2 1054 204.8 1054.1 205.5 1054.4 206.2 1054.4 206.8 1054.4 207.5 1054.5 208.1 1054.9 208.8 1054.2 209.5 1054.3 210.1 1054.2 210.8 1054.4 211.5 1054 212.1 1054.1 212.8 1054.2 213.4 1054.3 214.1 1054.2 214.8 1054.4 215.4 1054.6 216.1 1054.3 216.8 1054.5 217.4 1054.6 218.1 1054.8 218.8 1054.3 219.4 1054.2 220.1 1054.2 220.7 1054.4 221.4 1054.6 222.1 1054.2 222.7 1054.8 223.4 1054.4 224.1 1055 224.7 1054.6 225.4 1054.5 226 1054.2 226.7 1054.3 227.4 1054.7 228 1054.9 228.7 1054.6 229.4 1054.6 230 1054.5 230.7 1054.7 231.4 1054.4 232 1054 232.7 1054.2 233.3 1054.6 234 1054.6 234.7 1054.2 235.3 1054.3 236 1054.1 236.7 1054.4 237.3 1054 238 1054 238.6 1054 239.3 1054.1 240 1054.7 240.6 1055.2 241.3 1055.2 242 1055.1 242.6 1054.8 243.3 1054.8 244 1054.4 244.6 1054.5 245.3 1054.5 245.9 1054.7 246.6 1054.3 247.3 1054.4 247.9 1054.3 248.6 1054.5 249.3 1054.7 249.9 1054.8 250.6 1054.4 251.3 1054.1 251.9 1053.9 252.6 1054.1 253.2 1054.3 253.9 1055 254.6 1055.2 255.2 1054.8 255.9 1054.5 256.6 1054.1 257.2 1054.3 257.9 1055 258.5 1056.6 259.2 1058.3 259.9 1060.2 260.5 1062.5 261.2 1063.5 261.9 1061.9 262.5 1057.3 263.2 1051.5 263.9 1046.7 264.5 1044.9 265.2 1045.7 265.8 1048.2 266.5 1050.2 267.2 1052.2 267.8 1053.3 268.5 1054.2 269.2 1054.3 269.8 1054.7 270.5 1054.5 271.1 1054.5 271.8 1053.9 272.5 1053.7 273.1 1054 273.8 1055 274.5 1055 275.1 1054.6 275.8 1054.1 276.5 1054.4 277.1 1054.5 277.8 1054.4 278.4 1054 279.1 1054.1 279.8 1054.3 280.4 1054.9 281.1 1054.9 281.8 1054.7 282.4 1054.5 283.1 1054.7 283.7 1054.9 284.4 1054.6 285.1 1054.5 285.7 1054.6 286.4 1054.6 287.1 1054.3 287.7 1054.2 288.4 1054.4 289.1 1054.8 289.7 1054.8 290.4 1054.5 291 1054.3 291.7 1054 292.4 1054 293 1054 293.7 1054.1 294.4 1054.5 295 1054.3 295.7 1054.4 296.3 1054.1 297 1054.6 297.7 1054.7 298.3 1054.7 299 1054.6 299.7 1054.6 300.3 1054.6 301 1054.7 301.7 1054.8 302.3 1055.3 303 1055.2 303.6 1055.2 304.3 1054.9 305 1054.4 305.6 1054.4 306.3 1054.4 307 1054.8 307.6 1054.6 308.3 1054.5 308.9 1054.1 309.6 1054.3 310.3 1054.7 310.9 1054.8 311.6 1054.8 312.3 1054.8 312.9 1054.7 313.6 1054.5 314.3 1054 314.9 1054.4 315.6 1054.5 316.2 1054.7 316.9 1054.1 317.6 1054 318.2 1054.3 318.9 1054.6 319.6 1054.5 320.2 1054.5 320.9 1054.3 321.5 1054.4 322.2 1054.4 322.9 1054.5 323.5 1054.3 324.2 1054.2 324.9 1054.3 325.5 1054.5 326.2 1054.5 326.9 1054.5 327.5 1054.4 328.2 1054.2 328.8 1054.2 329.5 1054.7 330.2 1055.1 330.8 1054.8 331.5 1054.8 332.2 1054.7 332.8 1054.8 333.5 1054.7 334.2 1054.7 334.8 1055.1 335.5 1054.8 336.1 1054.7 336.8 1054.4 337.5 1054.5 338.1 1054.6 338.8 1054.8 339.5 1054.7 340.1 1054.4 340.8 1054.3 341.4 1054.2 342.1 1054.4 342.8 1054.4 343.4 1054.7 344.1 1054.6 344.8 1054.9 345.4 1054.9 346.1 1054.8 346.8 1054.8 347.4 1054.7 348.1 1054.6 348.7 1054 349.4 1054.3 350.1 1054.5 350.7 1054.8 351.4 1054.7 352.1 1054.6 352.7 1054.3 353.4 1054.1 354 1054.3 354.7 1054.4 355.4 1054.9 356 1054.7 356.7 1054.6 357.4 1054 358 1054.5 358.7 1054.3 359.4 1054.7 360 1054.7 360.7 1054.9 361.3 1054.9 362 1054.2 362.7 1054.1 363.3 1053.7 364 1054.1 364.7 1054.2 365.3 1054.4 366 1054.5 366.6 1054.6 367.3 1054.6 368 1054.3 368.6 1054 369.3 1054.1 370 1054.6 370.6 1054.7 371.3 1054.8 372 1054.3 372.6 1054.6 373.3 1054.6 373.9 1054.7 374.6 1054.2 375.3 1054 375.9 1054.3 376.6 1054.6 377.3 1054.8 377.9 1054.5 378.6 1054.1 379.2 1054.1 379.9 1054.3 380.6 1054.5 381.2 1054.4 381.9 1054.4 382.6 1054.4 383.2 1054.5 383.9 1054.4 384.6 1054 385.2 1054 385.9 1053.9 386.5 1054.2 387.2 1054.3 387.9 1054.3 388.5 1054.6 389.2 1054.7 389.9 1054.8 390.5 1054.4 391.2 1054.1 391.8 1054.2 392.5 1054.5 393.2 1054.5 393.8 1054.3 394.5 1054.4 395.2 1054.6 395.8 1054.8 396.5 1054.5 397.2 1054.4 397.8 1054.2 398.5 1054.4 399.1 1054 399.8 1054 400.5 1053.8 401.1 1054.5 401.8 1054.8 402.5 1055.4 403.1 1055.3 403.8 1054.9 404.4 1054.7 405.1 1054.5 405.8 1054.8 406.4 1054.4 407.1 1054.3 407.8 1054.3 408.4 1054.8 409.1 1054.9 409.8 1055.3 410.4 1055.5 411.1 1055.2 411.7 1054.8 412.4 1054 413.1 1054.3 413.7 1054.2 414.4 1054.3 415.1 1054.6 415.7 1054.9 416.4 1054.9 417.1 1054.7 417.7 1054.6 418.4 1054.5 419 1054.7 419.7 1054.6 420.4 1054.7 421 1054.3 421.7 1054.5 422.4 1054.7 423 1055 423.7 1054.6 424.3 1054.5 425 1054.4 425.7 1054.1 426.3 1053.8 427 1054 427.7 1054.6 428.3 1054.9 429 1054.9 429.7 1054.9 430.3 1054.2 431 1053.9 431.6 1053.9 432.3 1054.4 433 1054.5 433.6 1054.3 434.3 1054.3 435 1054.1 435.6 1053.8 436.3 1053.7 436.9 1054.1 437.6 1054.4 438.3 1054 438.9 1053.9 439.6 1053.8 440.3 1054.4 440.9 1054.3 441.6 1054.7 442.3 1054.7 442.9 1054.6 443.6 1054.7 444.2 1054.8 444.9 1055 445.6 1055.1 446.2 1054.7 446.9 1054.8 447.6 1054.6 448.2 1054.5 448.9 1054.3 449.5 1054.2 450.2 1054.3 450.9 1054.3 451.5 1054.6 452.2 1054.7 452.9 1054.7 453.5 1054.2 454.2 1054.2 454.9 1054.5 455.5 1054.9 456.2 1055 456.8 1054.6 457.5 1054.3 458.2 1054.2 458.8 1054 459.5 1054 460.2 1054.2 460.8 1054.3 461.5 1054.9 462.1 1054.4 462.8 1054.7 463.5 1054.1 464.1 1054.4 464.8 1054.1 465.5 1054.3 466.1 1054.3 466.8 1054.4 467.5 1054.5 468.1 1054.8 468.8 1054.8 469.4 1054.9 470.1 1054.6 470.8 1054.7 471.4 1054.9 472.1 1054.5 472.8 1054.4 473.4 1053.6 474.1 1053.9 474.7 1054 475.4 1055.1 476.1 1055.3 476.7 1055.7 477.4 1055.2 478.1 1055 478.7 1054.8 479.4 1054.8 480.1 1055 480.7 1054.9 481.4 1054.7 482 1054.3 482.7 1054.1 483.4 1054.1 484 1054.5 484.7 1054.5 485.4 1054.4 486 1054.2 486.7 1054.4 487.3 1054.6 488 1054.6 488.7 1054.7 489.3 1054.3 490 1054 490.7 1054.1 491.3 1054 492 1054.3 492.7 1054.1 493.3 1054.3 494 1054.3 494.6 1054.3 495.3 1054.3 496 1054.1 496.6 1054.2 497.3 1054.9 498 1054.6 498.6 1054.6 499.3 1054 500 1054.6 500.6 1054.6 501.3 1054.1 501.9 1054.2 502.6 1054 503.3 1054.5 503.9 1054 504.6 1054 505.3 1053.9 505.9 1054.3 506.6 1054.7 507.2 1054.7 507.9 1054.6 508.6 1054.4 509.2 1054.5 509.9 1054.5 510.6 1054.7 511.2 1054.5 511.9 1054.5 512.6 1054.4 513.2 1054.5 513.9 1054.4 514.5 1054.7 515.2 1054.6 515.9 1054.9 516.5 1054.6 517.2 1054.9 517.9 1054.3 518.5 1054.7 519.2 1054.4 519.8 1054.6 520.5 1054.2 521.2 1054.7 521.8 1055.1 522.5 1054.8 523.2 1054.2 523.8 1054.4 524.5 1054.4 525.2 1054.4 525.8 1054.1 526.5 1054.8 527.1 1054.8 527.8 1055.1 528.5 1054.6 529.1 1054.4 529.8 1054.4 530.5 1054.6 531.1 1054.5 531.8 1054.4 532.4 1054.4 533.1 1054.6 533.8 1054.5 534.4 1054.5 535.1 1054.5 535.8 1054.3 536.4 1054.1 537.1 1054.2 537.8 1054 538.4 1054.2 539.1 1053.9 539.7 1054.2 540.4 1054.2 541.1 1054.3 541.7 1054.4 542.4 1054.8 543.1 1055.3 543.7 1054.9 544.4 1054.7 545 1054.5 545.7 1054.8 546.4 1054.4 547 1054.3 547.7 1054.6 548.4 1054.9 549 1054.8 549.7 1054.4 550.4 1054.2 551 1054.4 551.7 1054.9 552.3 1054.8 553 1054.6 553.7 1054.2 554.3 1054.3 555 1054.3 555.7 1054.5 556.3 1054.4 557 1054.1 557.6 1054.2 558.3 1054.6 559 1054.9 559.6 1054.5 560.3 1054.4 561 1054.4 561.6 1054.4 562.3 1054.3 563 1054.2 563.6 1054.4 564.3 1054.5 564.9 1054.7 565.6 1054.6 566.3 1054.7 566.9 1054.4 567.6 1054.3 568.3 1054.6 568.9 1054.7 569.6 1054.5 570.2 1054.1 570.9 1054.2 571.6 1054.5 572.2 1055.1 572.9 1055.3 573.6 1056.2 574.2 1056.7 574.9 1057.6 575.6 1057.4 576.2 1057.1 576.9 1055.7 577.5 1053.7 578.2 1052.1 578.9 1051.2 579.5 1051.6 580.2 1052.3 580.9 1053 581.5 1053.5 582.2 1053.9 582.9 1054.5 583.5 1054.6 584.2 1054.2 584.8 1054.5 585.5 1054.9 586.2 1055.2 586.8 1054.6 587.5 1054.2 588.2 1054.2 588.8 1054.2 589.5 1054.7 590.1 1054.6 590.8 1054.9 591.5 1054.4 592.1 1054.2 592.8 1053.9 593.5 1054.2 594.1 1054.3 594.8 1054.4 595.5 1054.4 596.1 1054.5 596.8 1054.9 597.4 1054.8 598.1 1054.5 598.8 1054.2 599.4 1054.6 600.1 1054.7 600.8 1054.7 601.4 1054.3 602.1 1054.5 602.7 1054.5 603.4 1054.5 604.1 1054.3 604.7 1054.5 605.4 1054.8 606.1 1055.1 606.7 1055 607.4 1054.8 608.1 1054.5 608.7 1054.5 609.4 1054.4 610 1054.4 610.7 1053.9 611.4 1054 612 1053.9 612.7 1054 613.4 1054.2 614 1054.2 614.7 1054.4 615.3 1054.2 616 1054.2 616.7 1054.6 617.3 1054.5 618 1054.7 618.7 1054.2 619.3 1054.2 620 1054.1 620.7 1054.3 621.3 1054.2 622 1054.3 622.6 1054.7 623.3 1054.8 624 1054.7 624.6 1054.4 625.3 1054.9 626 1055.2 626.6 1055.4 627.3 1055 627.9 1054.6 628.6 1054.4 629.3 1054.4 629.9 1054.5 630.6 1054.4 631.3 1054.2 631.9 1054.3 632.6 1054.5 633.3 1054.2 633.9 1054.1 634.6 1054.3 635.2 1054.6 635.9 1054.7 636.6 1054.1 637.2 1054.4 637.9 1054.1 638.6 1054.2 639.2 1054 639.9 1054.6 640.5 1054.8 641.2 1054.6 641.9 1054.2 642.5 1054.4 643.2 1054.9 643.9 1054.6 644.5 1054.2 645.2 1053.9 645.9 1054.2 646.5 1054.6 647.2 1054.8 647.8 1054.5 648.5 1054.2 649.2 1054 649.8 1054.5 650.5 1054.7 651.2 1054.7 651.8 1054.3 652.5 1054.4 653.1 1054.6 653.8 1055.4 654.5 1055.2 655.1 1055.3 655.8 1054.5 656.5 1054.5 657.1 1054 657.8 1054.2 658.5 1054.1 659.1 1054.1 659.8 1054.2 660.4 1054.3 661.1 1054.5 661.8 1054.5 662.4 1054.6 663.1 1054.8 663.8 1054.8 664.4 1054.9 665.1 1054.6 665.8 1054.5 666.4 1054.6 667.1 1054.4 667.7 1054.7 668.4 1054.9 669.1 1055.2 669.7 1054.9 670.4 1054.3 671.1 1054 671.7 1054.1 672.4 1054.6 673 1054.6 673.7 1054.5 674.4 1054.7 675 1054.6 675.7 1054.9 676.4 1054.7 677 1054.6 677.7 1054.5 678.4 1054.2 679 1054.2 679.7 1053.8 680.3 1053.6 681 1053.9 681.7 1054.2 682.3 1054.5 683 1054.3 683.7 1054.3 684.3 1054.2 685 1054.1 685.6 1053.8 686.3 1053.9 687 1054.3 687.6 1054.4 688.3 1054.3 689 1054.4 689.6 1055 690.3 1054.8 691 1054.8 691.6 1054.8 692.3 1055 692.9 1055.2 693.6 1054.3 694.3 1054.5 694.9 1054.3 695.6 1054.4 696.3 1054.3 696.9 1054.5 697.6 1055.1 698.2 1055.2 698.9 1054.9 699.6 1054.6 700.2 1054.2 700.9 1054.2 701.6 1054.5 702.2 1054.5 702.9 1054.5 703.6 1054.6 704.2 1054.7 704.9 1055.2 705.5 1055.4 706.2 1055.1 706.9 1054.6 707.5 1053.9 708.2 1053.9 708.9 1054.1 709.5 1054.2 710.2 1054.2 710.8 1054 711.5 1054.4 712.2 1054.5 712.8 1054.5 713.5 1054.5 714.2 1054.7 714.8 1054.8 715.5 1054.9 716.2 1054.6 716.8 1054.5 717.5 1054.2 718.1 1054.6 718.8 1054.7 719.5 1054.6 720.1 1054.7 720.8 1054.3 721.5 1054.7 722.1 1054.5 722.8 1054.6 723.4 1054.1 724.1 1054 724.8 1054.2 725.4 1054.3 726.1 1054.4 726.8 1054.2 727.4 1054.3 728.1 1054.2 728.8 1054.1 729.4 1054.2 730.1 1053.9 730.7 1053.8 731.4 1053.6 732.1 1053.8 732.7 1054.5 733.4 1054.5 734.1 1054.9 734.7 1055 735.4 1055.3 736 1055.2 736.7 1055 737.4 1054.7 738 1054.6 738.7 1054.7 739.4 1054.8 740 1054.7 740.7 1054.2 741.4 1054.3 742 1054.4 742.7 1054.4 743.3 1054.3 744 1054.4 744.7 1054.6 745.3 1054.8 746 1054.8 746.7 1054.5 747.3 1054.3 748 1054.2 748.7 1054.7 749.3 1055 750 1054.6 750.6 1054.4 751.3 1054.2 752 1054.9 752.6 1055.2 753.3 1054.9 754 1054.6 754.6 1054 755.3 1054.4 755.9 1054.2 756.6 1054.6 757.3 1054.6 757.9 1055 758.6 1054.3 759.3 1054 759.9 1054.1 760.6 1054.2 761.3 1054.3 761.9 1054.1 762.6 1054.6 763.2 1054.7 763.9 1054.8 764.6 1054.5 765.2 1054.4 765.9 1054.4 766.6 1054.6 767.2 1054.6 767.9 1054.8 768.5 1054.3 769.2 1054.6 769.9 1054.3 770.5 1054.9 771.2 1054.7 771.9 1054.9 772.5 1055 773.2 1054.8 773.9 1054.7 774.5 1054.4 775.2 1054.5 775.8 1054.2 776.5 1054.2 777.2 1054.1 777.8 1054.2 778.5 1054.2 779.2 1054 779.8 1054.4 780.5 1054.5 781.1 1055.2 781.8 1054.8 782.5 1054.4 783.1 1054.1 783.8 1054 784.5 1054.3 785.1 1054.1 785.8 1054.3 786.5 1054.3 787.1 1054.5 787.8 1054.9 788.4 1055 789.1 1054.7 789.8 1054.5 790.4 1054.2 791.1 1054.4 791.8 1054 792.4 1054.1 793.1 1054.3 793.7 1054.5 794.4 1054.5 795.1 1054.1 795.7 1054.2 796.4 1054.6 797.1 1054.5 797.7 1054.3 798.4 1054.1 799.1 1054 799.7 1054.2 800.4 1054.3 801 1054.6 801.7 1054.6 802.4 1054.2 803 1054.1 803.7 1054 804.4 1054.2 805 1054.6 805.7 1054.9 806.3 1054.8 807 1054.4 807.7 1054.4 808.3 1054.1 809 1054.2 809.7 1054 810.3 1054.1 811 1054 811.7 1054.1 812.3 1054 813 1054 813.6 1053.8 814.3 1054.2 815 1054.1 815.6 1054.4 816.3 1054.4 817 1054.6 817.6 1054.3 818.3 1054.2 818.9 1054.1 819.6 1054.4 820.3 1054.5 820.9 1054.7 821.6 1054.7 822.3 1054.5 822.9 1054.6 823.6 1054.5 824.3 1054.4 824.9 1054.4 825.6 1054.1 826.2 1054.4 826.9 1054.1 827.6 1054.5 828.2 1054.6 828.9 1054.9 829.6 1054.7 830.2 1054.4 830.9 1054.3 831.6 1054.1 832.2 1053.9 832.9 1054 833.5 1054.4 834.2 1054.2 834.9 1054.2 835.5 1054.2 836.2 1054.6 836.9 1054.4 837.5 1054.5 838.2 1054.2 838.8 1054.5 839.5 1054.7 840.2 1054.5 840.8 1054.4 841.5 1054.2 842.2 1054.6 842.8 1054.4 843.5 1054.3 844.2 1054 844.8 1054.1 845.5 1054.3 846.1 1054.4 846.8 1054.2 847.5 1054 848.1 1054.2 848.8 1054.4 849.5 1054.4 850.1 1054.5 850.8 1054.2 851.4 1053.7 852.1 1053.8 852.8 1054.3 853.4 1054.6 854.1 1054.3 854.8 1054.1 855.4 1054.6 856.1 1054.8 856.8 1055 857.4 1054.8 858.1 1054.8 858.7 1054.6 859.4 1054.5 860.1 1054.7 860.7 1054.7 861.4 1055 862.1 1054.7 862.7 1054.8 863.4 1054.4 864 1054.5 864.7 1053.8 865.4 1053.8 866 1053.9 866.7 1054.3 867.4 1054.5 868 1054.1 868.7 1054.5 869.4 1054.5 870 1054.9 870.7 1054.6 871.3 1054.6 872 1054.9 872.7 1054.8 873.3 1054.5 874 1054.1 874.7 1054.4 875.3 1054.8 876 1054.7 876.6 1054.6 877.3 1054.5 878 1054.7 878.6 1054.3 879.3 1054.1 880 1054.1 880.6 1054.4 881.3 1054.6 882 1054.8 882.6 1054.8 883.3 1054.8 883.9 1054.3 884.6 1054.3 885.3 1054.2 885.9 1054 886.6 1053.7 887.3 1054 887.9 1054.3 888.6 1054.9 889.2 1054.7 889.9 1054.7 890.6 1054.6 891.2 1054.7 891.9 1054.5 892.6 1054.6 893.2 1054.3 893.9 1054.5 894.6 1054.8 895.2 1055 895.9 1055.3 896.5 1054.7 897.2 1054.8 897.9 1054.5 898.5 1054.7 899.2 1054.4 899.9 1054.2 900.5 1054.2 901.2 1054 901.8 1054 902.5 1054.1 903.2 1054.3 903.8 1054.3 904.5 1053.9 905.2 1054.1 905.8 1054.2 906.5 1054.4 907.2 1054.4 907.8 1054.8 908.5 1054.7 909.1 1054.3 909.8 1054 910.5 1054.1 911.1 1054.5 911.8 1054.2 912.5 1054.4 913.1 1054.3 913.8 1054.6 914.5 1054.1 915.1 1054.2 915.8 1054.2 916.4 1054.8 917.1 1054.6 917.8 1054.4 918.4 1054.1 919.1 1054 919.8 1054.4 920.4 1054.1 921.1 1054.3 921.7 1054.2 922.4 1054.4 923.1 1054.3 923.7 1054.2 924.4 1054.2 925.1 1054.2 925.7 1054.3 926.4 1054.3 927.1 1054 927.7 1053.9 928.4 1054.3 929 1054.8 929.7 1054.9 930.4 1054.7 931 1054.6 931.7 1054.2 932.4 1054.2 933 1054.5 933.7 1054.9 934.3 1054.8 935 1054.7 935.7 1054.6 936.3 1054.6 937 1054.5 937.7 1054.6 938.3 1054.3 939 1054.2 939.7 1054.2 940.3 1054.4 941 1054 941.6 1053.9 942.3 1053.6 943 1054.4 943.6 1054.5 944.3 1055.1 945 1054.6 945.6 1054.2 946.3 1054.1 946.9 1054.2 947.6 1054.3 948.3 1054.3 948.9 1054.5 949.6 1054.7 950.3 1054.5 950.9 1053.9 951.6 1054.5" stroke="#2ac4c4" stroke-width="4" stroke-linejoin="round" fill="none" opacity="0.95"/>
<path d="M131.9 1054.5 132.5 1054.1 133.2 1054 133.9 1054.2 134.5 1054.4 135.2 1054.6 135.9 1054.5 136.5 1054.4 137.2 1054.1 137.8 1053.7 138.5 1053.7 139.2 1053.6 139.8 1054 140.5 1053.8 141.2 1054.2 141.8 1054.2 142.5 1054.5 143.1 1054.2 143.8 1054.2 144.5 1053.9 145.1 1054 145.8 1054.4 146.5 1054.8 147.1 1055.1 147.8 1055.1 148.5 1055 149.1 1054.6 149.8 1054.6 150.4 1054.4 151.1 1054.3 151.8 1054.7 152.4 1054.4 153.1 1054.6 153.8 1054.3 154.4 1054.7 155.1 1054.4 155.7 1054.3 156.4 1054.2 157.1 1054.2 157.7 1054.2 158.4 1054.2 159.1 1054.3 159.7 1054.4 160.4 1054.3 161.1 1054.5 161.7 1054.3 162.4 1054.6 163 1054.5 163.7 1054.6 164.4 1054.4 165 1054.2 165.7 1054 166.4 1054.2 167 1054.5 167.7 1054.9 168.4 1054.8 169 1054.6 169.7 1054.1 170.3 1053.7 171 1053.6 171.7 1053.7 172.3 1053.9 173 1053.7 173.7 1053.9 174.3 1054.1 175 1054.1 175.6 1054.5 176.3 1054.7 177 1054.9 177.6 1054.6 178.3 1054.4 179 1054.8 179.6 1054.3 180.3 1054.2 181 1053.9 181.6 1054 182.3 1054.6 182.9 1054.3 183.6 1054.3 184.3 1054.1 184.9 1054.5 185.6 1054.8 186.3 1054.9 186.9 1055.2 187.6 1054.9 188.2 1054.9 188.9 1054.6 189.6 1054.6 190.2 1054.5 190.9 1054.3 191.6 1054.2 192.2 1054 192.9 1054 193.6 1053.8 194.2 1054.1 194.9 1053.9 195.5 1054.6 196.2 1054.9 196.9 1055.4 197.5 1055 198.2 1054.5 198.9 1054.6 199.5 1054.6 200.2 1054.9 200.8 1054.5 201.5 1054.7 202.2 1054.4 202.8 1054.5 203.5 1054 204.2 1054 204.8 1054.1 205.5 1054.4 206.2 1054.4 206.8 1054.4 207.5 1054.5 208.1 1054.9 208.8 1054.2 209.5 1054.3 210.1 1054.2 210.8 1054.4 211.5 1054 212.1 1054.1 212.8 1054.2 213.4 1054.3 214.1 1054.2 214.8 1054.4 215.4 1054.6 216.1 1054.3 216.8 1054.5 217.4 1054.6 218.1 1054.8 218.8 1054.3 219.4 1054.2 220.1 1054.2 220.7 1054.4 221.4 1054.6 222.1 1054.2 222.7 1054.8 223.4 1054.4 224.1 1055 224.7 1054.6 225.4 1054.5 226 1054.2 226.7 1054.3 227.4 1054.7 228 1054.9 228.7 1054.6 229.4 1054.6 230 1054.5 230.7 1054.7 231.4 1054.4 232 1054 232.7 1054.2 233.3 1054.6 234 1054.6 234.7 1054.2 235.3 1054.3 236 1054.1 236.7 1054.4 237.3 1054 238 1054 238.6 1054 239.3 1054.1 240 1054.7 240.6 1055.2 241.3 1055.2 242 1055.1 242.6 1054.8 243.3 1054.8 244 1054.4 244.6 1054.5 245.3 1054.5 245.9 1054.7 246.6 1054.3 247.3 1054.4 247.9 1054.3 248.6 1054.5 249.3 1054.7 249.9 1054.8 250.6 1054.4 251.3 1054.1 251.9 1053.9 252.6 1054.1 253.2 1054.3 253.9 1055 254.6 1055.2 255.2 1054.8 255.9 1054.5 256.6 1054.1 257.2 1054.3 257.9 1055 258.5 1056.6 259.2 1058.3 259.9 1060.2 260.5 1062.5 261.2 1063.5 261.9 1061.9 262.5 1057.3 263.2 1051.5 263.9 1046.7 264.5 1044.9 265.2 1045.7 265.8 1048.2 266.5 1050.2 267.2 1052.2 267.8 1053.3 268.5 1054.2 269.2 1054.3 269.8 1054.7 270.5 1054.5 271.1 1054.5 271.8 1053.9 272.5 1053.7 273.1 1054 273.8 1055 274.5 1055 275.1 1054.6 275.8 1054.1 276.5 1054.4 277.1 1054.5 277.8 1054.4 278.4 1054 279.1 1054.1 279.8 1054.3 280.4 1054.9 281.1 1054.9 281.8 1054.7 282.4 1054.5 283.1 1054.7 283.7 1054.9 284.4 1054.6 285.1 1054.5 285.7 1054.6 286.4 1054.6 287.1 1054.3 287.7 1054.2 288.4 1054.4 289.1 1054.8 289.7 1054.8 290.4 1054.5 291 1054.3 291.7 1054 292.4 1054 293 1054 293.7 1054.1 294.4 1054.5 295 1054.3 295.7 1054.4 296.3 1054.1 297 1054.6 297.7 1054.7 298.3 1054.7 299 1054.6 299.7 1054.6 300.3 1054.6 301 1054.7 301.7 1054.8 302.3 1055.3 303 1055.2 303.6 1055.2 304.3 1054.9 305 1054.4 305.6 1054.4 306.3 1054.4 307 1054.8 307.6 1054.6 308.3 1054.5 308.9 1054.1 309.6 1054.3 310.3 1054.7 310.9 1054.8 311.6 1054.8 312.3 1054.8 312.9 1054.7 313.6 1054.5 314.3 1054 314.9 1054.4 315.6 1054.5 316.2 1054.7 316.9 1054.1 317.6 1054 318.2 1054.3 318.9 1054.6 319.6 1054.5 320.2 1054.5 320.9 1054.3 321.5 1054.4 322.2 1054.4 322.9 1054.5 323.5 1054.3 324.2 1054.2 324.9 1054.3 325.5 1054.5 326.2 1054.5 326.9 1054.5 327.5 1054.4 328.2 1054.2 328.8 1054.2 329.5 1054.7 330.2 1055.1 330.8 1054.8 331.5 1054.8 332.2 1054.7 332.8 1054.8 333.5 1054.7 334.2 1054.7 334.8 1055.1 335.5 1054.8 336.1 1054.7 336.8 1054.4 337.5 1054.5 338.1 1054.6 338.8 1054.8 339.5 1054.7 340.1 1054.4 340.8 1054.3 341.4 1054.2 342.1 1054.4 342.8 1054.4 343.4 1054.7 344.1 1054.6 344.8 1054.9 345.4 1054.9 346.1 1054.8 346.8 1054.8 347.4 1054.7 348.1 1054.6 348.7 1054 349.4 1054.3 350.1 1054.5 350.7 1054.8 351.4 1054.7 352.1 1054.6 352.7 1054.3 353.4 1054.1 354 1054.3 354.7 1054.4 355.4 1054.9 356 1054.7 356.7 1054.6 357.4 1054 358 1054.5 358.7 1054.3 359.4 1054.7 360 1054.7 360.7 1054.9 361.3 1054.9 362 1054.2 362.7 1054.1 363.3 1053.7 364 1054.1 364.7 1054.2 365.3 1054.4 366 1054.5 366.6 1054.6 367.3 1054.6 368 1054.3 368.6 1054 369.3 1054.1 370 1054.6 370.6 1054.7 371.3 1054.8 372 1054.3 372.6 1054.6 373.3 1054.6 373.9 1054.7 374.6 1054.2 375.3 1054 375.9 1054.3 376.6 1054.6 377.3 1054.8 377.9 1054.5 378.6 1054.1 379.2 1054.1 379.9 1054.3 380.6 1054.5 381.2 1054.4 381.9 1054.4 382.6 1054.4 383.2 1054.5 383.9 1054.4 384.6 1054 385.2 1054 385.9 1053.9 386.5 1054.2 387.2 1054.3 387.9 1054.3 388.5 1054.6 389.2 1054.7 389.9 1054.8 390.5 1054.4 391.2 1054.1 391.8 1054.2 392.5 1054.5 393.2 1054.5 393.8 1054.3 394.5 1054.4 395.2 1054.6 395.8 1054.8 396.5 1054.5 397.2 1054.4 397.8 1054.2 398.5 1054.4 399.1 1054 399.8 1054 400.5 1053.8 401.1 1054.5 401.8 1054.8 402.5 1055.4 403.1 1055.3 403.8 1054.9 404.4 1054.7 405.1 1054.5 405.8 1054.8 406.4 1054.4 407.1 1054.3 407.8 1054.3 408.4 1054.8 409.1 1054.9 409.8 1055.3 410.4 1055.5 411.1 1055.2 411.7 1054.8 412.4 1054 413.1 1054.3 413.7 1054.2 414.4 1054.3 415.1 1054.6 415.7 1054.9 416.4 1054.9 417.1 1054.7 417.7 1054.6 418.4 1054.5 419 1054.7 419.7 1054.6 420.4 1054.7 421 1054.3 421.7 1054.5 422.4 1054.7 423 1055 423.7 1054.6 424.3 1054.5 425 1054.4 425.7 1054.1 426.3 1053.8 427 1054 427.7 1054.6 428.3 1054.9 429 1054.9 429.7 1054.9 430.3 1054.2 431 1053.9 431.6 1053.9 432.3 1054.4 433 1054.5 433.6 1054.3 434.3 1054.3 435 1054.1 435.6 1053.8 436.3 1053.7 436.9 1054.1 437.6 1054.4 438.3 1054 438.9 1053.9 439.6 1053.8 440.3 1054.4 440.9 1054.3 441.6 1054.7 442.3 1054.7 442.9 1054.6 443.6 1054.7 444.2 1054.8 444.9 1055 445.6 1055.1 446.2 1054.7 446.9 1054.8 447.6 1054.6 448.2 1054.5 448.9 1054.3 449.5 1054.2 450.2 1054.3 450.9 1054.3 451.5 1054.6 452.2 1054.7 452.9 1054.7 453.5 1054.2 454.2 1054.2 454.9 1054.5 455.5 1054.9 456.2 1055 456.8 1054.6 457.5 1054.3 458.2 1054.2 458.8 1054 459.5 1054 460.2 1054.2 460.8 1054.3 461.5 1054.9 462.1 1054.4 462.8 1054.7 463.5 1054.1 464.1 1054.4 464.8 1054.1 465.5 1054.3 466.1 1054.3 466.8 1054.4 467.5 1054.5 468.1 1054.8 468.8 1054.8 469.4 1054.9 470.1 1054.6 470.8 1054.7 471.4 1054.9 472.1 1054.5 472.8 1054.4 473.4 1053.6 474.1 1053.9 474.7 1054 475.4 1055.1 476.1 1055.3 476.7 1055.7 477.4 1055.2 478.1 1055 478.7 1054.8 479.4 1054.8 480.1 1055 480.7 1054.9 481.4 1054.7 482 1054.3 482.7 1054.1 483.4 1054.1 484 1054.5 484.7 1054.5 485.4 1054.4 486 1054.2 486.7 1054.4 487.3 1054.6 488 1054.6 488.7 1054.7 489.3 1054.3 490 1054 490.7 1054.1 491.3 1054 492 1054.3 492.7 1054.1 493.3 1054.3 494 1054.3 494.6 1054.3 495.3 1054.3 496 1054.1 496.6 1054.2 497.3 1054.9 498 1054.6 498.6 1054.6 499.3 1054 500 1054.6 500.6 1054.6 501.3 1054.1 501.9 1054.2 502.6 1054 503.3 1054.5 503.9 1054 504.6 1054 505.3 1053.9 505.9 1054.3 506.6 1054.7 507.2 1054.7 507.9 1054.6 508.6 1054.4 509.2 1054.5 509.9 1054.5 510.6 1054.7 511.2 1054.5 511.9 1054.5 512.6 1054.4 513.2 1054.5 513.9 1054.4 514.5 1054.7 515.2 1054.6 515.9 1054.9 516.5 1054.6 517.2 1054.9 517.9 1054.3 518.5 1054.7 519.2 1054.4 519.8 1054.6 520.5 1054.2 521.2 1054.7 521.8 1055.1 522.5 1054.8 523.2 1054.2 523.8 1054.4 524.5 1054.4 525.2 1054.4 525.8 1054.1 526.5 1054.8 527.1 1054.8 527.8 1055.1 528.5 1054.6 529.1 1054.4 529.8 1054.4 530.5 1054.6 531.1 1054.5 531.8 1054.4 532.4 1054.4 533.1 1054.6 533.8 1054.5 534.4 1054.5 535.1 1054.5 535.8 1054.3 536.4 1054.1 537.1 1054.2 537.8 1054 538.4 1054.2 539.1 1053.9 539.7 1054.2 540.4 1054.2 541.1 1054.3 541.7 1054.4 542.4 1054.8 543.1 1055.3 543.7 1054.9 544.4 1054.7 545 1054.5 545.7 1054.8 546.4 1054.4 547 1054.3 547.7 1054.6 548.4 1054.9 549 1054.8 549.7 1054.4 550.4 1054.2 551 1054.4 551.7 1054.9 552.3 1054.8 553 1054.6 553.7 1054.2 554.3 1054.3 555 1054.3 555.7 1054.5 556.3 1054.4 557 1054.1 557.6 1054.2 558.3 1054.6 559 1054.9 559.6 1054.5 560.3 1054.4 561 1054.4 561.6 1054.4 562.3 1054.3 563 1054.2 563.6 1054.4 564.3 1054.5 564.9 1054.7 565.6 1054.6 566.3 1054.7 566.9 1054.4 567.6 1054.3 568.3 1054.6 568.9 1054.7 569.6 1054.5 570.2 1054.1 570.9 1054.2 571.6 1054.5 572.2 1055.1 572.9 1055.3 573.6 1056.2 574.2 1056.7 574.9 1057.6 575.6 1057.4 576.2 1057.1 576.9 1055.7 577.5 1053.7 578.2 1052.1 578.9 1051.2 579.5 1051.6 580.2 1052.3 580.9 1053 581.5 1053.5 582.2 1053.9 582.9 1054.5 583.5 1054.6 584.2 1054.2 584.8 1054.5 585.5 1054.9 586.2 1055.2 586.8 1054.6 587.5 1054.2 588.2 1054.2 588.8 1054.2 589.5 1054.7 590.1 1054.6 590.8 1054.9 591.5 1054.4 592.1 1054.2 592.8 1053.9 593.5 1054.2 594.1 1054.3 594.8 1054.4 595.5 1054.4 596.1 1054.5 596.8 1054.9 597.4 1054.8 598.1 1054.5 598.8 1054.2 599.4 1054.6 600.1 1054.7 600.8 1054.7 601.4 1054.3 602.1 1054.5 602.7 1054.5 603.4 1054.5 604.1 1054.3 604.7 1054.5 605.4 1054.8 606.1 1055.1 606.7 1055 607.4 1054.8 608.1 1054.5 608.7 1054.5 609.4 1054.4 610 1054.4 610.7 1053.9 611.4 1054 612 1053.9 612.7 1054 613.4 1054.2 614 1054.2 614.7 1054.4 615.3 1054.2 616 1054.2 616.7 1054.6 617.3 1054.5 618 1054.7 618.7 1054.2 619.3 1054.2 620 1054.1 620.7 1054.3 621.3 1054.2 622 1054.3 622.6 1054.7 623.3 1054.8 624 1054.7 624.6 1054.4 625.3 1054.9 626 1055.2 626.6 1055.4 627.3 1055 627.9 1054.6 628.6 1054.4 629.3 1054.4 629.9 1054.5 630.6 1054.4 631.3 1054.2 631.9 1054.3 632.6 1054.5 633.3 1054.2 633.9 1054.1 634.6 1054.3 635.2 1054.6 635.9 1054.7 636.6 1054.1 637.2 1054.4 637.9 1054.1 638.6 1054.2 639.2 1054 639.9 1054.6 640.5 1054.8 641.2 1054.6 641.9 1054.2 642.5 1054.4 643.2 1054.9 643.9 1054.6 644.5 1054.2 645.2 1053.9 645.9 1054.2 646.5 1054.6 647.2 1054.8 647.8 1054.5 648.5 1054.2 649.2 1054 649.8 1054.5 650.5 1054.7 651.2 1054.7 651.8 1054.3 652.5 1054.4 653.1 1054.6 653.8 1055.4 654.5 1055.2 655.1 1055.3 655.8 1054.5 656.5 1054.5 657.1 1054 657.8 1054.2 658.5 1054.1 659.1 1054.1 659.8 1054.2 660.4 1054.3 661.1 1054.5 661.8 1054.5 662.4 1054.6 663.1 1054.8 663.8 1054.8 664.4 1054.9 665.1 1054.6 665.8 1054.5 666.4 1054.6 667.1 1054.4 667.7 1054.7 668.4 1054.9 669.1 1055.2 669.7 1054.9 670.4 1054.3 671.1 1054 671.7 1054.1 672.4 1054.6 673 1054.6 673.7 1054.5 674.4 1054.7 675 1054.6 675.7 1054.9 676.4 1054.7 677 1054.6 677.7 1054.5 678.4 1054.2 679 1054.2 679.7 1053.8 680.3 1053.6 681 1053.9 681.7 1054.2 682.3 1054.5 683 1054.3 683.7 1054.3 684.3 1054.2 685 1054.1 685.6 1053.8 686.3 1053.9 687 1054.3 687.6 1054.4 688.3 1054.3 689 1054.4 689.6 1055 690.3 1054.8 691 1054.8 691.6 1054.8 692.3 1055 692.9 1055.2 693.6 1054.3 694.3 1054.5 694.9 1054.3 695.6 1054.4 696.3 1054.3 696.9 1054.5 697.6 1055.1 698.2 1055.2 698.9 1054.9 699.6 1054.6 700.2 1054.2 700.9 1054.2 701.6 1054.5 702.2 1054.5 702.9 1054.5 703.6 1054.6 704.2 1054.7 704.9 1055.2 705.5 1055.4 706.2 1055.1 706.9 1054.6 707.5 1053.9 708.2 1053.9 708.9 1054.1 709.5 1054.2 710.2 1054.2 710.8 1054 711.5 1054.4 712.2 1054.5 712.8 1054.5 713.5 1054.5 714.2 1054.7 714.8 1054.8 715.5 1054.9 716.2 1054.6 716.8 1054.5 717.5 1054.2 718.1 1054.6 718.8 1054.7 719.5 1054.6 720.1 1054.7 720.8 1054.3 721.5 1054.7 722.1 1054.5 722.8 1054.6 723.4 1054.1 724.1 1054 724.8 1054.2 725.4 1054.3 726.1 1054.4 726.8 1054.2 727.4 1054.3 728.1 1054.2 728.8 1054.1 729.4 1054.2 730.1 1053.9 730.7 1053.8 731.4 1053.6 732.1 1053.8 732.7 1054.5 733.4 1054.5 734.1 1054.9 734.7 1055 735.4 1055.3 736 1055.2 736.7 1055 737.4 1054.7 738 1054.6 738.7 1054.7 739.4 1054.8 740 1054.7 740.7 1054.2 741.4 1054.3 742 1054.4 742.7 1054.4 743.3 1054.3 744 1054.4 744.7 1054.6 745.3 1054.8 746 1054.8 746.7 1054.5 747.3 1054.3 748 1054.2 748.7 1054.7 749.3 1055 750 1054.6 750.6 1054.4 751.3 1054.2 752 1054.9 752.6 1055.2 753.3 1054.9 754 1054.6 754.6 1054 755.3 1054.4 755.9 1054.2 756.6 1054.6 757.3 1054.6 757.9 1055 758.6 1054.3 759.3 1054 759.9 1054.1 760.6 1054.2 761.3 1054.3 761.9 1054.1 762.6 1054.6 763.2 1054.7 763.9 1054.8 764.6 1054.5 765.2 1054.4 765.9 1054.4 766.6 1054.6 767.2 1054.6 767.9 1054.8 768.5 1054.3 769.2 1054.6 769.9 1054.3 770.5 1054.9 771.2 1054.7 771.9 1054.9 772.5 1055 773.2 1054.8 773.9 1054.7 774.5 1054.4 775.2 1054.5 775.8 1054.2 776.5 1054.2 777.2 1054.1 777.8 1054.2 778.5 1054.2 779.2 1054 779.8 1054.4 780.5 1054.5 781.1 1055.2 781.8 1054.8 782.5 1054.4 783.1 1054.1 783.8 1054 784.5 1054.3 785.1 1054.1 785.8 1054.3 786.5 1054.3 787.1 1054.5 787.8 1054.9 788.4 1055 789.1 1054.7 789.8 1054.5 790.4 1054.2 791.1 1054.4 791.8 1054 792.4 1054.1 793.1 1054.3 793.7 1054.5 794.4 1054.5 795.1 1054.1 795.7 1054.2 796.4 1054.6 797.1 1054.5 797.7 1054.3 798.4 1054.1 799.1 1054 799.7 1054.2 800.4 1054.3 801 1054.6 801.7 1054.6 802.4 1054.2 803 1054.1 803.7 1054 804.4 1054.2 805 1054.6 805.7 1054.9 806.3 1054.8 807 1054.4 807.7 1054.4 808.3 1054.1 809 1054.2 809.7 1054 810.3 1054.1 811 1054 811.7 1054.1 812.3 1054 813 1054 813.6 1053.8 814.3 1054.2 815 1054.1 815.6 1054.4 816.3 1054.4 817 1054.6 817.6 1054.3 818.3 1054.2 818.9 1054.1 819.6 1054.4 820.3 1054.5 820.9 1054.7 821.6 1054.7 822.3 1054.5 822.9 1054.6 823.6 1054.5 824.3 1054.4 824.9 1054.4 825.6 1054.1 826.2 1054.4 826.9 1054.1 827.6 1054.5 828.2 1054.6 828.9 1054.9 829.6 1054.7 830.2 1054.4 830.9 1054.3 831.6 1054.1 832.2 1053.9 832.9 1054 833.5 1054.4 834.2 1054.2 834.9 1054.2 835.5 1054.2 836.2 1054.6 836.9 1054.4 837.5 1054.5 838.2 1054.2 838.8 1054.5 839.5 1054.7 840.2 1054.5 840.8 1054.4 841.5 1054.2 842.2 1054.6 842.8 1054.4 843.5 1054.3 844.2 1054 844.8 1054.1 845.5 1054.3 846.1 1054.4 846.8 1054.2 847.5 1054 848.1 1054.2 848.8 1054.4 849.5 1054.4 850.1 1054.5 850.8 1054.2 851.4 1053.7 852.1 1053.8 852.8 1054.3 853.4 1054.6 854.1 1054.3 854.8 1054.1 855.4 1054.6 856.1 1054.8 856.8 1055 857.4 1054.8 858.1 1054.8 858.7 1054.6 859.4 1054.5 860.1 1054.7 860.7 1054.7 861.4 1055 862.1 1054.7 862.7 1054.8 863.4 1054.4 864 1054.5 864.7 1053.8 865.4 1053.8 866 1053.9 866.7 1054.3 867.4 1054.5 868 1054.1 868.7 1054.5 869.4 1054.5 870 1054.9 870.7 1054.6 871.3 1054.6 872 1054.9 872.7 1054.8 873.3 1054.5 874 1054.1 874.7 1054.4 875.3 1054.8 876 1054.7 876.6 1054.6 877.3 1054.5 878 1054.7 878.6 1054.3 879.3 1054.1 880 1054.1 880.6 1054.4 881.3 1054.6 882 1054.8 882.6 1054.8 883.3 1054.8 883.9 1054.3 884.6 1054.3 885.3 1054.2 885.9 1054 886.6 1053.7 887.3 1054 887.9 1054.3 888.6 1054.9 889.2 1054.7 889.9 1054.7 890.6 1054.6 891.2 1054.7 891.9 1054.5 892.6 1054.6 893.2 1054.3 893.9 1054.5 894.6 1054.8 895.2 1055 895.9 1055.3 896.5 1054.7 897.2 1054.8 897.9 1054.5 898.5 1054.7 899.2 1054.4 899.9 1054.2 900.5 1054.2 901.2 1054 901.8 1054 902.5 1054.1 903.2 1054.3 903.8 1054.3 904.5 1053.9 905.2 1054.1 905.8 1054.2 906.5 1054.4 907.2 1054.4 907.8 1054.8 908.5 1054.7 909.1 1054.3 909.8 1054 910.5 1054.1 911.1 1054.5 911.8 1054.2 912.5 1054.4 913.1 1054.3 913.8 1054.6 914.5 1054.1 915.1 1054.2 915.8 1054.2 916.4 1054.8 917.1 1054.6 917.8 1054.4 918.4 1054.1 919.1 1054 919.8 1054.4 920.4 1054.1 921.1 1054.3 921.7 1054.2 922.4 1054.4 923.1 1054.3 923.7 1054.2 924.4 1054.2 925.1 1054.2 925.7 1054.3 926.4 1054.3 927.1 1054 927.7 1053.9 928.4 1054.3 929 1054.8 929.7 1054.9 930.4 1054.7 931 1054.6 931.7 1054.2 932.4 1054.2 933 1054.5 933.7 1054.9 934.3 1054.8 935 1054.7 935.7 1054.6 936.3 1054.6 937 1054.5 937.7 1054.6 938.3 1054.3 939 1054.2 939.7 1054.2 940.3 1054.4 941 1054 941.6 1053.9 942.3 1053.6 943 1054.4 943.6 1054.5 944.3 1055.1 945 1054.6 945.6 1054.2 946.3 1054.1 946.9 1054.2 947.6 1054.3 948.3 1054.3 948.9 1054.5 949.6 1054.7 950.3 1054.5 950.9 1053.9 951.6 1054.5" stroke="#1f7f78" stroke-width="1.5" stroke-linejoin="round" fill="none" opacity="0.6"/>
<path d="M173.1 1078V1085.5M261.4 1078V1085.5M300.3 1078V1085.5M336.7 1078V1085.5M371 1078V1085.5M403.7 1078V1085.5M435 1078V1085.5M465 1078V1085.5M494 1078V1085.5M549.3 1078V1085.5M575.8 1078V1085.5M601.6 1078V1085.5M626.8 1078V1085.5M651.5 1078V1085.5M675.8 1078V1085.5M699.5 1078V1085.5M722.9 1078V1085.5M745.9 1078V1085.5M768.5 1078V1085.5M790.8 1078V1085.5M812.8 1078V1085.5M834.6 1078V1085.5M856.1 1078V1085.5M919.3 1078V1085.5M940 1078V1085.5" stroke="#4b3fd6" stroke-width="5" stroke-linecap="round" fill="none"/>
<rect x="792.5" y="648" width="195.1" height="113.7" rx="5" fill="#fff" stroke="#e4e4e4" stroke-width="2.2"/>
<ellipse cx="828" cy="663" rx="6.2" ry="5" fill="#ec0010"/>
<path d="M802 690.5H853" stroke="#3a3a3a" stroke-width="4.4" stroke-linecap="round"/>
<path d="M802 718H853" stroke="#6cc8c8" stroke-width="4.4" stroke-linecap="round"/>
<g class="lg"><text transform="translate(871.2 670.6) scale(1.042 1)" font-size="20.0">obs</text><text transform="translate(871.2 698.3) scale(1.048 1)" font-size="20.0">calc</text><text transform="translate(871.2 724.6) scale(1.062 1)" font-size="19.1">diff</text></g></g>
<g filter="url(#bl2)"><g class="ti">
<text transform="translate(396.8 698.1) scale(0.903 1)" font-size="39.3">G</text>
<text transform="translate(427.9 698.0) scale(0.728 1)" font-size="36.2">d</text>
<text transform="translate(446.2 701.4) scale(0.808 1)" font-size="28.9">2</text>
<text transform="translate(459.8 698.1) scale(0.933 1)" font-size="39.3">O</text>
<text transform="translate(488.1 701.9) scale(0.903 1)" font-size="30.7">3</text>
<rect x="516.2" y="689.7" width="10.0" height="3.6" fill="#111"/>
<text transform="translate(538.3 697.8) scale(0.977 1)" font-size="37.0">Rod</text>
<text transform="translate(620.9 698.0) scale(1.040 1)" font-size="38.3">NP</text>
<text transform="translate(678.4 700.9) scale(1.069 1)" font-size="36.9">s</text>
</g></g>
<g filter="url(#bl3)"><text class="lt" transform="translate(115.1 702.2) scale(1.048 1)" font-size="35.9">(c)</text></g>
<text class="yl" transform="translate(39.5 1032.4) rotate(-90) scale(0.9720 1)" font-size="45.0">Intensity (a.u.)</text>
<text class="xl" x="506.2" y="1212.4" font-size="45.0" font-weight="bold">2</text><text class="xl" transform="translate(529.8 1212.4) scale(1.1 1)" font-size="45.0" font-style="italic">θ</text>
<g id="pd" filter="url(#bl)"><g fill="none" stroke-width="3.8" stroke-linecap="round" stroke-linejoin="round">
<path d="M1122.6 1139.3V643.8" stroke="#939393"/>
<path d="M1122.6 643.8H2057.7" stroke="#929292"/>
<path d="M2057.7 643.8V1139.3" stroke="#8e8e8e"/>
<path d="M1122.6 1147.8H2057.7" stroke="#bcbcbc"/>
</g>
<path d="M1166.4 1147.3v3M1336 1147.3v3M1505.6 1147.3v3M1675.3 1147.3v3M1844.9 1147.3v3M2014.5 1147.3v3" stroke="#6e6e6e" stroke-width="3.2" stroke-linecap="round" fill="none"/>
<g class="tl" text-anchor="middle" font-size="23.2"><text transform="translate(1166.4 1176.3) scale(0.979 1)">20</text><text transform="translate(1336.0 1176.3) scale(0.979 1)">30</text><text transform="translate(1505.6 1176.3) scale(0.979 1)">40</text><text transform="translate(1675.3 1176.3) scale(0.979 1)">50</text><text transform="translate(1844.9 1176.3) scale(0.979 1)">60</text><text transform="translate(2014.5 1176.3) scale(0.979 1)">70</text></g>
<path d="M1119.6 655h3M1119.6 737.7h3M1119.6 820.9h3M1119.6 903.6h3M1119.6 986.3h3M1119.6 1068.6h3" stroke="#777" stroke-width="3" stroke-linecap="round" fill="none"/>
<g filter="url(#bl4)">
<path d="M1174.9 989.1h0M1175.6 988.4h0M1176.3 989.4h0M1177 990.5h0M1177.7 990.4h0M1178.3 989.1h0M1179 989.8h0M1179.7 990.2h0M1180.4 988.7h0M1181.1 988.8h0M1181.7 989.3h0M1182.4 988.4h0M1183.1 987.9h0M1183.8 987.6h0M1184.5 988.3h0M1185.1 987.6h0M1185.8 988.9h0M1186.5 987.8h0M1187.2 989.4h0M1187.9 989.1h0M1188.5 986.7h0M1189.2 988.9h0M1189.9 987.4h0M1190.6 989.1h0M1191.2 988.2h0M1191.9 987.6h0M1192.6 988.2h0M1193.3 987h0M1194 987.8h0M1194.6 987.8h0M1195.3 987.2h0M1196 987.7h0M1196.7 986.3h0M1197.4 987.7h0M1198 986h0M1198.7 987.7h0M1199.4 987.5h0M1200.1 987.6h0M1200.8 986.4h0M1201.4 989.7h0M1202.1 986.6h0M1202.8 986.9h0M1203.5 985.9h0M1204.1 988h0M1204.8 986.1h0M1205.5 987.4h0M1206.2 985.5h0M1206.9 986.7h0M1207.5 986h0M1208.2 987.1h0M1208.9 985.9h0M1209.6 985.3h0M1210.3 986.5h0M1210.9 984.9h0M1211.6 985.1h0M1212.3 986.6h0M1213 984.1h0M1213.7 986.5h0M1214.3 985.4h0M1215 984.8h0M1215.7 985.9h0M1216.4 986.2h0M1217.1 985h0M1217.7 985.3h0M1218.4 986.2h0M1219.1 986.1h0M1219.8 985.2h0M1220.4 984.5h0M1221.1 984.3h0M1221.8 984.5h0M1222.5 985.7h0M1223.2 985.5h0M1223.8 985.2h0M1224.5 986.2h0M1225.2 984.5h0M1225.9 984.4h0M1226.6 984.3h0M1227.2 986.5h0M1227.9 982.6h0M1228.6 984.8h0M1229.3 984.9h0M1230 984.5h0M1230.6 986.6h0M1231.3 985.4h0M1232 985h0M1232.7 983.3h0M1233.3 984.6h0M1234 983.7h0M1234.7 984.1h0M1235.4 984.1h0M1236.1 983.4h0M1236.7 984.4h0M1237.4 985.3h0M1238.1 984.7h0M1238.8 983.9h0M1239.5 981.8h0M1240.1 984.6h0M1240.8 984.5h0M1241.5 983.2h0M1242.2 982.9h0M1242.9 983.9h0M1243.5 982.5h0M1244.2 983.9h0M1244.9 982.1h0M1245.6 982.2h0M1246.3 983h0M1246.9 981.6h0M1247.6 982.9h0M1248.3 983.3h0M1249 981.5h0M1249.6 983.6h0M1250.3 982.1h0M1251 983.1h0M1251.7 982.7h0M1252.4 982h0M1253 981.9h0M1253.7 980.7h0M1254.4 981.6h0M1255.1 981.5h0M1255.8 983.7h0M1256.4 983.1h0M1257.1 980.7h0M1257.8 982.7h0M1258.5 982.1h0M1259.2 981.5h0M1259.8 982.2h0M1260.5 982.4h0M1261.2 981h0M1261.9 981.1h0M1262.6 981.4h0M1263.2 980.2h0M1263.9 981.1h0M1264.6 980.7h0M1265.3 980h0M1265.9 979.7h0M1266.6 980.7h0M1267.3 981.1h0M1268 980.4h0M1268.7 979.2h0M1269.3 980.5h0M1270 979.8h0M1270.7 980.1h0M1271.4 980.5h0M1272.1 978.4h0M1272.7 978.9h0M1273.4 978.4h0M1274.1 978h0M1274.8 980.5h0M1275.5 979.4h0M1276.1 976.7h0M1276.8 978.6h0M1277.5 977.5h0M1278.2 978.9h0M1278.8 977.8h0M1279.5 977.4h0M1280.2 977.5h0M1280.9 977.6h0M1281.6 977.1h0M1282.2 976.7h0M1282.9 976.6h0M1283.6 977.1h0M1284.3 975.4h0M1285 976.2h0M1285.6 976h0M1286.3 975.6h0M1287 976.6h0M1287.7 974.6h0M1288.4 975.4h0M1289 974.8h0M1289.7 976h0M1290.4 975h0M1291.1 975.3h0M1291.8 975.5h0M1292.4 973.5h0M1293.1 975.3h0M1293.8 974h0M1294.5 974.3h0M1295.1 974.2h0M1295.8 974.9h0M1296.5 974.6h0M1297.2 975.3h0M1297.9 973.5h0M1298.5 972.6h0M1299.2 972.2h0M1299.9 973h0M1300.6 973.4h0M1301.3 971.7h0M1301.9 970.2h0M1302.6 970.3h0M1303.3 969.5h0M1304 968.2h0M1304.7 966.2h0M1305.3 962.7h0M1306 962.2h0M1306.7 959.8h0M1307.4 952.3h0M1308 938h0M1308.7 920.8h0M1309.4 888.1h0M1310.1 851.1h0M1310.8 797.9h0M1311.4 745.3h0M1312.1 715.7h0M1312.8 712.7h0M1313.5 748.3h0M1314.2 797.3h0M1314.8 846.2h0M1315.5 890.7h0M1316.2 918.6h0M1316.9 941.1h0M1317.6 951.3h0M1318.2 956.8h0M1318.9 959.9h0M1319.6 965.6h0M1320.3 967h0M1321 965.6h0M1321.6 969.3h0M1322.3 968.6h0M1323 968.8h0M1323.7 969.4h0M1324.3 969.7h0M1325 971.6h0M1325.7 970.7h0M1326.4 969h0M1327.1 972.9h0M1327.7 971.9h0M1328.4 970.2h0M1329.1 971h0M1329.8 970.6h0M1330.5 971.6h0M1331.1 972h0M1331.8 971.9h0M1332.5 971.1h0M1333.2 971h0M1333.9 972.5h0M1334.5 971.8h0M1335.2 974.2h0M1335.9 971.5h0M1336.6 973.2h0M1337.2 972.7h0M1337.9 972.1h0M1338.6 974.2h0M1339.3 973.2h0M1340 972.4h0M1340.6 973.1h0M1341.3 974.5h0M1342 972.6h0M1342.7 975.2h0M1343.4 974.6h0M1344 973.9h0M1344.7 975.5h0M1345.4 976h0M1346.1 975.1h0M1346.8 974.8h0M1347.4 976.4h0M1348.1 976.2h0M1348.8 973.9h0M1349.5 974.3h0M1350.2 973.2h0M1350.8 970.3h0M1351.5 965h0M1352.2 964h0M1352.9 964.7h0M1353.5 969.3h0M1354.2 974.4h0M1354.9 974.6h0M1355.6 975.9h0M1356.3 976.6h0M1356.9 976.2h0M1357.6 976.7h0M1358.3 977.7h0M1359 977.1h0M1359.7 978.5h0M1360.3 976.7h0M1361 977.7h0M1361.7 976.3h0M1362.4 977.7h0M1363.1 977.3h0M1363.7 979.3h0M1364.4 978.9h0M1365.1 978.8h0M1365.8 980.2h0M1366.4 979.8h0M1367.1 979.2h0M1367.8 977.9h0M1368.5 977.2h0M1369.2 978.5h0M1369.8 978.2h0M1370.5 977.9h0M1371.2 978.3h0M1371.9 977h0M1372.6 979.9h0M1373.2 977.4h0M1373.9 977.9h0M1374.6 979h0M1375.3 976.9h0M1376 979.2h0M1376.6 979.2h0M1377.3 977.9h0M1378 977.1h0M1378.7 977.6h0M1379.4 976.1h0M1380 979h0M1380.7 977.5h0M1381.4 976.5h0M1382.1 976h0M1382.7 976.9h0M1383.4 977h0M1384.1 973.1h0M1384.8 971.5h0M1385.5 966.2h0M1386.1 961.3h0M1386.8 949.3h0M1387.5 935.6h0M1388.2 914.3h0M1388.9 897.4h0M1389.5 890.1h0M1390.2 899h0M1390.9 912.6h0M1391.6 934.1h0M1392.3 949.6h0M1392.9 960.4h0M1393.6 967.4h0M1394.3 973.5h0M1395 976.6h0M1395.6 975.6h0M1396.3 977.4h0M1397 979.1h0M1397.7 977.3h0M1398.4 978h0M1399 977.3h0M1399.7 978.6h0M1400.4 978.8h0M1401.1 978.7h0M1401.8 978.5h0M1402.4 977.9h0M1403.1 978.2h0M1403.8 978.6h0M1404.5 980.3h0M1405.2 979.3h0M1405.8 979h0M1406.5 980.5h0M1407.2 980.5h0M1407.9 979.3h0M1408.6 979.4h0M1409.2 980.7h0M1409.9 980.5h0M1410.6 979.3h0M1411.3 980.4h0M1411.9 980.2h0M1412.6 981.3h0M1413.3 979.4h0M1414 981h0M1414.7 980.6h0M1415.3 979.2h0M1416 981.1h0M1416.7 980.9h0M1417.4 978.7h0M1418.1 981.7h0M1418.7 978.5h0M1419.4 978.4h0M1420.1 978.3h0M1420.8 978.4h0M1421.5 976.8h0M1422.1 974.3h0M1422.8 973.6h0M1423.5 970.4h0M1424.2 969.8h0M1424.9 970.9h0M1425.5 969.4h0M1426.2 968.7h0M1426.9 973.1h0M1427.6 974.6h0M1428.2 977.4h0M1428.9 978.6h0M1429.6 978.2h0M1430.3 978.8h0M1431 980h0M1431.6 980.3h0M1432.3 978.1h0M1433 981.7h0M1433.7 980.9h0M1434.4 981h0M1435 981.3h0M1435.7 980.1h0M1436.4 981.1h0M1437.1 982.2h0M1437.8 982.3h0M1438.4 981.8h0M1439.1 981.1h0M1439.8 980.6h0M1440.5 982.7h0M1441.1 982h0M1441.8 981.1h0M1442.5 979.4h0M1443.2 980.7h0M1443.9 979.7h0M1444.5 982.8h0M1445.2 981.8h0M1445.9 981h0M1446.6 981.4h0M1447.3 984.3h0M1447.9 983h0M1448.6 980.5h0M1449.3 981.7h0M1450 980.6h0M1450.7 980.2h0M1451.3 982.1h0M1452 984.3h0M1452.7 983.5h0M1453.4 982h0M1454.1 981.6h0M1454.7 982.2h0M1455.4 983.1h0M1456.1 980.6h0M1456.8 980.3h0M1457.4 984h0M1458.1 982.4h0M1458.8 983.7h0M1459.5 982.4h0M1460.2 983.6h0M1460.8 981.6h0M1461.5 982.7h0M1462.2 983.8h0M1462.9 983.3h0M1463.6 981.8h0M1464.2 983.2h0M1464.9 981.7h0M1465.6 980.9h0M1466.3 982.9h0M1467 983.8h0M1467.6 983.2h0M1468.3 981.2h0M1469 983.3h0M1469.7 983.1h0M1470.3 982h0M1471 980h0M1471.7 983.5h0M1472.4 983.4h0M1473.1 983h0M1473.7 980.8h0M1474.4 981h0M1475.1 983.5h0M1475.8 983.3h0M1476.5 983h0M1477.1 982.3h0M1477.8 982.9h0M1478.5 982h0M1479.2 982.2h0M1479.9 981.6h0M1480.5 982.6h0M1481.2 981.9h0M1481.9 983.1h0M1482.6 982.8h0M1483.3 981h0M1483.9 983.3h0M1484.6 979.9h0M1485.3 980.8h0M1486 980.6h0M1486.6 979.8h0M1487.3 975.1h0M1488 977.1h0M1488.7 976.1h0M1489.4 975.4h0M1490 971.1h0M1490.7 972.9h0M1491.4 974.3h0M1492.1 975h0M1492.8 978.2h0M1493.4 977.4h0M1494.1 980.5h0M1494.8 980.7h0M1495.5 979.5h0M1496.2 980.5h0M1496.8 981.5h0M1497.5 982.4h0M1498.2 983.5h0M1498.9 982.5h0M1499.5 983.7h0M1500.2 981.3h0M1500.9 979.9h0M1501.6 982.7h0M1502.3 983.6h0M1502.9 982.8h0M1503.6 982.2h0M1504.3 983.7h0M1505 985.2h0M1505.7 983.2h0M1506.3 982.6h0M1507 982.6h0M1507.7 985.4h0M1508.4 983.4h0M1509.1 984.1h0M1509.7 984.7h0M1510.4 984.6h0M1511.1 982.6h0M1511.8 984.5h0M1512.5 984.5h0M1513.1 984.1h0M1513.8 984.7h0M1514.5 983.1h0M1515.2 983.6h0M1515.8 983.2h0M1516.5 984.5h0M1517.2 983.1h0M1517.9 984.2h0M1518.6 982.7h0M1519.2 983.7h0M1519.9 983.5h0M1520.6 983.7h0M1521.3 984h0M1522 983.7h0M1522.6 983.7h0M1523.3 981.8h0M1524 985h0M1524.7 983.3h0M1525.4 983.7h0M1526 983.1h0M1526.7 985h0M1527.4 983.1h0M1528.1 984.5h0M1528.7 985.2h0M1529.4 985.7h0M1530.1 985.2h0M1530.8 984.6h0M1531.5 982.8h0M1532.1 985.3h0M1532.8 985.2h0M1533.5 984.9h0M1534.2 984.9h0M1534.9 984.1h0M1535.5 983.5h0M1536.2 985.1h0M1536.9 985.3h0M1537.6 983h0M1538.3 984.9h0M1538.9 984.2h0M1539.6 984.8h0M1540.3 984.2h0M1541 984.9h0M1541.7 984.8h0M1542.3 984.6h0M1543 982.2h0M1543.7 984.2h0M1544.4 983.1h0M1545 981.5h0M1545.7 982.5h0M1546.4 979.3h0M1547.1 979.8h0M1547.8 978.2h0M1548.4 972.9h0M1549.1 971.1h0M1549.8 967.6h0M1550.5 966.3h0M1551.2 964.7h0M1551.8 969.3h0M1552.5 972h0M1553.2 975.9h0M1553.9 978h0M1554.6 981.2h0M1555.2 981.8h0M1555.9 983.2h0M1556.6 984.5h0M1557.3 983.7h0M1558 984.8h0M1558.6 984.2h0M1559.3 984.7h0M1560 983.8h0M1560.7 985.1h0M1561.3 985.7h0M1562 984.5h0M1562.7 985.4h0M1563.4 985.1h0M1564.1 983.6h0M1564.7 985.1h0M1565.4 986.1h0M1566.1 984.4h0M1566.8 983.1h0M1567.5 985.1h0M1568.1 984.3h0M1568.8 986.8h0M1569.5 985h0M1570.2 985h0M1570.9 984.4h0M1571.5 985.3h0M1572.2 984.6h0M1572.9 984.2h0M1573.6 985.1h0M1574.2 984.4h0M1574.9 986.5h0M1575.6 984.1h0M1576.3 985.2h0M1577 984.6h0M1577.6 983.9h0M1578.3 986.9h0M1579 983.2h0M1579.7 986.8h0M1580.4 984h0M1581 985.5h0M1581.7 987.6h0M1582.4 983.3h0M1583.1 984.1h0M1583.8 986.7h0M1584.4 985.6h0M1585.1 984.9h0M1585.8 985.4h0M1586.5 984.5h0M1587.2 985.6h0M1587.8 987h0M1588.5 985.2h0M1589.2 985.7h0M1589.9 986.7h0M1590.5 987.5h0M1591.2 985h0M1591.9 985.9h0M1592.6 985h0M1593.3 985h0M1593.9 985.2h0M1594.6 985h0M1595.3 983.9h0M1596 983.6h0M1596.7 984.9h0M1597.3 985.7h0M1598 986.8h0M1598.7 985h0M1599.4 985.4h0M1600.1 986.1h0M1600.7 986.2h0M1601.4 985.2h0M1602.1 985.1h0M1602.8 986.7h0M1603.4 984.1h0M1604.1 983.3h0M1604.8 981.3h0M1605.5 982.4h0M1606.2 980.7h0M1606.8 982.1h0M1607.5 979.7h0M1608.2 981.4h0M1608.9 982.4h0M1609.6 984.2h0M1610.2 982.2h0M1610.9 985.8h0M1611.6 984.8h0M1612.3 985.1h0M1613 985.1h0M1613.6 985.2h0M1614.3 985.3h0M1615 983.4h0M1615.7 986.3h0M1616.4 985.9h0M1617 984.9h0M1617.7 985.7h0M1618.4 988h0M1619.1 986.1h0M1619.7 985.3h0M1620.4 987.4h0M1621.1 984.8h0M1621.8 985.4h0M1622.5 984.9h0M1623.1 985.1h0M1623.8 985.9h0M1624.5 985.5h0M1625.2 984h0M1625.9 984.3h0M1626.5 984.1h0M1627.2 983.1h0M1627.9 982.7h0M1628.6 980.8h0M1629.3 978.7h0M1629.9 975.6h0M1630.6 967.9h0M1631.3 958.7h0M1632 942.6h0M1632.6 922.7h0M1633.3 903.7h0M1634 890.8h0M1634.7 891.3h0M1635.4 904.7h0M1636 923.7h0M1636.7 942h0M1637.4 960h0M1638.1 970.2h0M1638.8 976h0M1639.4 980.7h0M1640.1 982.3h0M1640.8 983h0M1641.5 984.1h0M1642.2 987.2h0M1642.8 986h0M1643.5 986.4h0M1644.2 985.3h0M1644.9 986.5h0M1645.6 988.4h0M1646.2 986.7h0M1646.9 987.5h0M1647.6 987.8h0M1648.3 987.3h0M1648.9 988.3h0M1649.6 987.1h0M1650.3 987.4h0M1651 986.4h0M1651.7 989.6h0M1652.3 987.4h0M1653 987.2h0M1653.7 988.5h0M1654.4 986.6h0M1655.1 987h0M1655.7 986.1h0M1656.4 986.6h0M1657.1 985.8h0M1657.8 986h0M1658.5 984.5h0M1659.1 983h0M1659.8 982.4h0M1660.5 982h0M1661.2 981.6h0M1661.8 983.7h0M1662.5 984.5h0M1663.2 985h0M1663.9 984.7h0M1664.6 987.1h0M1665.2 985.9h0M1665.9 987.6h0M1666.6 987.8h0M1667.3 987.3h0M1668 987.2h0M1668.6 987.4h0M1669.3 990.1h0M1670 988h0M1670.7 988.1h0M1671.4 989.3h0M1672 988.8h0M1672.7 989.4h0M1673.4 987.3h0M1674.1 987.5h0M1674.8 991.8h0M1675.4 988.5h0M1676.1 988.3h0M1676.8 988.8h0M1677.5 989.6h0M1678.1 987.6h0M1678.8 989h0M1679.5 988.7h0M1680.2 989.4h0M1680.9 989h0M1681.5 988.3h0M1682.2 988h0M1682.9 986.4h0M1683.6 989.7h0M1684.3 987.4h0M1684.9 988.4h0M1685.6 990.4h0M1686.3 988.4h0M1687 989.4h0M1687.7 988.6h0M1688.3 989.4h0M1689 988.8h0M1689.7 988.2h0M1690.4 990h0M1691 988.5h0M1691.7 987.4h0M1692.4 988.4h0M1693.1 989.2h0M1693.8 987.6h0M1694.4 989.4h0M1695.1 989.4h0M1695.8 990.7h0M1696.5 988h0M1697.2 989.2h0M1697.8 987h0M1698.5 988.1h0M1699.2 988.6h0M1699.9 988.9h0M1700.6 988.4h0M1701.2 988.3h0M1701.9 987.8h0M1702.6 987.9h0M1703.3 988.5h0M1704 988.7h0M1704.6 988.6h0M1705.3 988.8h0M1706 988.7h0M1706.7 985.4h0M1707.3 986h0M1708 985.3h0M1708.7 983.4h0M1709.4 983.2h0M1710.1 980.7h0M1710.7 977.6h0M1711.4 976.2h0M1712.1 977h0M1712.8 976.4h0M1713.5 978.5h0M1714.1 981.9h0M1714.8 983.6h0M1715.5 986.1h0M1716.2 986.3h0M1716.9 987.5h0M1717.5 986.7h0M1718.2 986.7h0M1718.9 987.8h0M1719.6 985.4h0M1720.3 988.4h0M1720.9 989h0M1721.6 988.2h0M1722.3 987.9h0M1723 989.2h0M1723.6 988.2h0M1724.3 989.2h0M1725 990.3h0M1725.7 988.9h0M1726.4 989.1h0M1727 988.7h0M1727.7 988.4h0M1728.4 988.4h0M1729.1 988.2h0M1729.8 989.1h0M1730.4 986.5h0M1731.1 987.6h0M1731.8 988.3h0M1732.5 986.6h0M1733.2 986.8h0M1733.8 985.6h0M1734.5 985.9h0M1735.2 985.4h0M1735.9 985.2h0M1736.5 983.8h0M1737.2 982.8h0M1737.9 984.4h0M1738.6 985.5h0M1739.3 987.2h0M1739.9 984.5h0M1740.6 987.4h0M1741.3 985.7h0M1742 988.4h0M1742.7 988.3h0M1743.3 988.4h0M1744 988.8h0M1744.7 988.4h0M1745.4 987.4h0M1746.1 988.4h0M1746.7 989.2h0M1747.4 987.9h0M1748.1 988.1h0M1748.8 986.9h0M1749.5 989.1h0M1750.1 987.5h0M1750.8 987.2h0M1751.5 987.5h0M1752.2 987h0M1752.8 987.6h0M1753.5 988.9h0M1754.2 988.4h0M1754.9 988.8h0M1755.6 988.6h0M1756.2 985.9h0M1756.9 986.6h0M1757.6 986.6h0M1758.3 986.1h0M1759 980.8h0M1759.6 979h0M1760.3 979.2h0M1761 977.5h0M1761.7 977.2h0M1762.4 979.8h0M1763 980.4h0M1763.7 980.7h0M1764.4 984.4h0M1765.1 985.6h0M1765.7 986.9h0M1766.4 987.7h0M1767.1 987.2h0M1767.8 987h0M1768.5 986.7h0M1769.1 985.8h0M1769.8 987h0M1770.5 988.3h0M1771.2 988h0M1771.9 989.3h0M1772.5 987.1h0M1773.2 985.4h0M1773.9 987.8h0M1774.6 987.9h0M1775.3 985.6h0M1775.9 985h0M1776.6 986.4h0M1777.3 986.6h0M1778 984.3h0M1778.7 984.4h0M1779.3 982.8h0M1780 980.3h0M1780.7 976.6h0M1781.4 972.1h0M1782 962.6h0M1782.7 950.3h0M1783.4 934.1h0M1784.1 926.4h0M1784.8 916.2h0M1785.4 919.6h0M1786.1 929h0M1786.8 944.6h0M1787.5 955.7h0M1788.2 968h0M1788.8 975.1h0M1789.5 980.8h0M1790.2 981.5h0M1790.9 983.5h0M1791.6 984.8h0M1792.2 987.7h0M1792.9 984.6h0M1793.6 986.6h0M1794.3 985.9h0M1794.9 987h0M1795.6 987.5h0M1796.3 987.1h0M1797 987.3h0M1797.7 987.4h0M1798.3 986.6h0M1799 987h0M1799.7 985.6h0M1800.4 986.8h0M1801.1 986.3h0M1801.7 986.7h0M1802.4 987.4h0M1803.1 986.7h0M1803.8 986.1h0M1804.5 985.7h0M1805.1 980.9h0M1805.8 981.6h0M1806.5 978.8h0M1807.2 976.1h0M1807.9 972.8h0M1808.5 973.9h0M1809.2 975.3h0M1809.9 977.3h0M1810.6 978.8h0M1811.2 981.9h0M1811.9 984.2h0M1812.6 986.6h0M1813.3 987h0M1814 986.6h0M1814.6 987h0M1815.3 987.3h0M1816 987.5h0M1816.7 987h0M1817.4 988.3h0M1818 986.9h0M1818.7 986.9h0M1819.4 988h0M1820.1 987.1h0M1820.8 987.4h0M1821.4 985.7h0M1822.1 988.4h0M1822.8 987.6h0M1823.5 987.4h0M1824.1 987.9h0M1824.8 987.5h0M1825.5 986.4h0M1826.2 988.7h0M1826.9 985.8h0M1827.5 986.3h0M1828.2 985.9h0M1828.9 981.8h0M1829.6 980.3h0M1830.3 976.9h0M1830.9 976.7h0M1831.6 974.1h0M1832.3 973.8h0M1833 977.9h0M1833.7 979.9h0M1834.3 980.5h0M1835 984.5h0M1835.7 985h0M1836.4 988.5h0M1837.1 988.2h0M1837.7 986.5h0M1838.4 987h0M1839.1 986.6h0M1839.8 987.7h0M1840.4 987.7h0M1841.1 988.5h0M1841.8 987.9h0M1842.5 986.4h0M1843.2 987.1h0M1843.8 989.2h0M1844.5 989h0M1845.2 987.7h0M1845.9 987.7h0M1846.6 987.7h0M1847.2 987.8h0M1847.9 986.1h0M1848.6 988.4h0M1849.3 986.7h0M1850 987.1h0M1850.6 984h0M1851.3 985.9h0M1852 985.9h0M1852.7 981.2h0M1853.3 983.6h0M1854 981.7h0M1854.7 980.3h0M1855.4 980.1h0M1856.1 983.9h0M1856.7 984.3h0M1857.4 985.8h0M1858.1 985.9h0M1858.8 986h0M1859.5 988.1h0M1860.1 986.6h0M1860.8 988.6h0M1861.5 986.2h0M1862.2 987h0M1862.9 986.6h0M1863.5 989.2h0M1864.2 986.3h0M1864.9 986.9h0M1865.6 988.7h0M1866.3 988.3h0M1866.9 990.1h0M1867.6 989.8h0M1868.3 988.6h0M1869 988.7h0M1869.6 986.2h0M1870.3 987h0M1871 987.5h0M1871.7 987.4h0M1872.4 986h0M1873 986h0M1873.7 985.5h0M1874.4 986.5h0M1875.1 984.9h0M1875.8 983.1h0M1876.4 982.3h0M1877.1 982.5h0M1877.8 981.9h0M1878.5 983.2h0M1879.2 982.8h0M1879.8 986.1h0M1880.5 987.2h0M1881.2 987.3h0M1881.9 987.8h0M1882.6 988h0M1883.2 989.7h0M1883.9 988.1h0M1884.6 986.7h0M1885.3 987h0M1885.9 988.7h0M1886.6 989h0M1887.3 988.8h0M1888 988.8h0M1888.7 988.2h0M1889.3 986.6h0M1890 987.3h0M1890.7 986.2h0M1891.4 987.5h0M1892.1 986.5h0M1892.7 987.8h0M1893.4 987.3h0M1894.1 985.3h0M1894.8 987.5h0M1895.5 986.8h0M1896.1 983.7h0M1896.8 983.8h0M1897.5 982.8h0M1898.2 980.2h0M1898.8 980.2h0M1899.5 979.2h0M1900.2 980.9h0M1900.9 981.5h0M1901.6 982.7h0M1902.2 984.9h0M1902.9 986.3h0M1903.6 986.7h0M1904.3 986.6h0M1905 986.6h0M1905.6 987.3h0M1906.3 987.2h0M1907 988.1h0M1907.7 988.1h0M1908.4 987.9h0M1909 988h0M1909.7 988.2h0M1910.4 989.6h0M1911.1 989.2h0M1911.8 987.5h0M1912.4 988.5h0M1913.1 987.7h0M1913.8 987.9h0M1914.5 987.8h0M1915.1 987.3h0M1915.8 986.5h0M1916.5 985.2h0M1917.2 987.5h0M1917.9 988h0M1918.5 985.3h0M1919.2 985.9h0M1919.9 984.1h0M1920.6 984h0M1921.3 982.5h0M1921.9 983.2h0M1922.6 984h0M1923.3 982.6h0M1924 986.1h0M1924.7 986.4h0M1925.3 984.7h0M1926 988.2h0M1926.7 987.7h0M1927.4 988.1h0M1928 988.4h0M1928.7 987.7h0M1929.4 987.1h0M1930.1 987.8h0M1930.8 987.8h0M1931.4 990.4h0M1932.1 990.1h0M1932.8 987.8h0M1933.5 987.9h0M1934.2 988.6h0M1934.8 988.9h0M1935.5 987.7h0M1936.2 987.4h0M1936.9 990.2h0M1937.6 989.4h0M1938.2 986.9h0M1938.9 986.6h0M1939.6 987.6h0M1940.3 988.6h0M1941 988.9h0M1941.6 988h0M1942.3 986.8h0M1943 988.6h0M1943.7 989h0M1944.3 988.4h0M1945 987.9h0M1945.7 988.9h0M1946.4 988.3h0M1947.1 987.3h0M1947.7 988.5h0M1948.4 987.1h0M1949.1 989.3h0M1949.8 988.8h0M1950.5 987.4h0M1951.1 988.6h0M1951.8 989.5h0M1952.5 986.2h0M1953.2 988.1h0M1953.9 989.9h0M1954.5 986.7h0M1955.2 988h0M1955.9 986.8h0M1956.6 988.1h0M1957.2 985.8h0M1957.9 986.5h0M1958.6 987.6h0M1959.3 988.2h0M1960 988.4h0M1960.6 988.4h0M1961.3 989.1h0M1962 988.6h0M1962.7 988.6h0M1963.4 986.9h0M1964 987.7h0M1964.7 991h0M1965.4 990h0M1966.1 988.6h0M1966.8 988.5h0M1967.4 988.7h0M1968.1 987.3h0M1968.8 989.6h0M1969.5 987.3h0M1970.2 987.5h0M1970.8 989.7h0M1971.5 985.5h0M1972.2 987.9h0M1972.9 985.8h0M1973.5 986.8h0M1974.2 987.3h0M1974.9 987h0M1975.6 987.5h0M1976.3 986.5h0M1976.9 987.1h0M1977.6 986h0M1978.3 986.7h0M1979 985.6h0M1979.7 987.5h0M1980.3 985.4h0M1981 987.2h0M1981.7 985.7h0M1982.4 985.3h0M1983.1 986h0M1983.7 984h0M1984.4 980.9h0M1985.1 982.3h0M1985.8 978.1h0M1986.4 981.3h0M1987.1 981.3h0M1987.8 981.2h0M1988.5 983.8h0M1989.2 984.3h0M1989.8 987.3h0M1990.5 985.3h0M1991.2 988h0M1991.9 987.6h0M1992.6 985.7h0M1993.2 985.6h0M1993.9 987.7h0M1994.6 986.3h0M1995.3 986.6h0M1996 986.1h0M1996.6 985.2h0M1997.3 985.9h0M1998 985.3h0M1998.7 984.7h0M1999.4 985.8h0M2000 987.8h0M2000.7 987.5h0M2001.4 985.6h0M2002.1 985.5h0M2002.7 985.4h0M2003.4 985.5h0M2004.1 983.4h0M2004.8 981.3h0M2005.5 979.9h0M2006.1 980h0M2006.8 980.6h0M2007.5 977.2h0M2008.2 976.7h0M2008.9 981h0M2009.5 981.6h0M2010.2 983h0M2010.9 985.1h0M2011.6 984.7h0M2012.3 983.7h0M2012.9 983.4h0M2013.6 985.4h0M2014.3 984.4h0M2015 985.9h0M2015.6 984.4h0M2016.3 985.4h0M2017 984.3h0M2017.7 985.4h0M2018.4 985.3h0M2019 986.3h0" stroke="#e80000" stroke-width="9.5" stroke-linecap="round" fill="none"/>
<path d="M1174.9 989.1 1175.6 988.7 1176.3 989.2 1177 989.7 1177.7 989.7 1178.3 989 1179 989.3 1179.7 989.5 1180.4 988.7 1181.1 988.7 1181.7 989 1182.4 988.5 1183.1 988.2 1183.8 988 1184.5 988.3 1185.1 988 1185.8 988.6 1186.5 988 1187.2 988.8 1187.9 988.6 1188.5 987.4 1189.2 988.4 1189.9 987.7 1190.6 988.4 1191.2 988 1191.9 987.7 1192.6 987.9 1193.3 987.3 1194 987.7 1194.6 987.6 1195.3 987.3 1196 987.5 1196.7 986.8 1197.4 987.5 1198 986.6 1198.7 987.4 1199.4 987.3 1200.1 987.3 1200.8 986.7 1201.4 988.3 1202.1 986.7 1202.8 986.8 1203.5 986.3 1204.1 987.3 1204.8 986.4 1205.5 987 1206.2 986 1206.9 986.6 1207.5 986.2 1208.2 986.7 1208.9 986.1 1209.6 985.8 1210.3 986.3 1210.9 985.5 1211.6 985.5 1212.3 986.3 1213 985 1213.7 986.2 1214.3 985.6 1215 985.3 1215.7 985.8 1216.4 985.9 1217.1 985.3 1217.7 985.4 1218.4 985.8 1219.1 985.7 1219.8 985.3 1220.4 984.9 1221.1 984.7 1221.8 984.9 1222.5 985.4 1223.2 985.3 1223.8 985.1 1224.5 985.6 1225.2 984.7 1225.9 984.6 1226.6 984.5 1227.2 985.6 1227.9 983.6 1228.6 984.7 1229.3 984.7 1230 984.5 1230.6 985.5 1231.3 984.9 1232 984.6 1232.7 983.8 1233.3 984.4 1234 983.9 1234.7 984 1235.4 984.1 1236.1 983.7 1236.7 984.1 1237.4 984.6 1238.1 984.2 1238.8 983.8 1239.5 982.7 1240.1 984.1 1240.8 984 1241.5 983.3 1242.2 983.1 1242.9 983.6 1243.5 982.9 1244.2 983.6 1244.9 982.6 1245.6 982.6 1246.3 983 1246.9 982.3 1247.6 982.9 1248.3 983.1 1249 982.2 1249.6 983.1 1250.3 982.4 1251 982.9 1251.7 982.6 1252.4 982.3 1253 982.2 1253.7 981.5 1254.4 982 1255.1 981.9 1255.8 982.9 1256.4 982.6 1257.1 981.4 1257.8 982.4 1258.5 982 1259.2 981.7 1259.8 982 1260.5 982 1261.2 981.3 1261.9 981.3 1262.6 981.3 1263.2 980.6 1263.9 981 1264.6 980.8 1265.3 980.4 1265.9 980.1 1266.6 980.5 1267.3 980.7 1268 980.3 1268.7 979.6 1269.3 980.2 1270 979.7 1270.7 979.8 1271.4 979.9 1272.1 978.8 1272.7 979 1273.4 978.7 1274.1 978.4 1274.8 979.6 1275.5 978.9 1276.1 977.5 1276.8 978.4 1277.5 977.8 1278.2 978.4 1278.8 977.8 1279.5 977.5 1280.2 977.5 1280.9 977.4 1281.6 977.1 1282.2 976.8 1282.9 976.7 1283.6 976.8 1284.3 975.9 1285 976.3 1285.6 976.1 1286.3 975.8 1287 976.3 1287.7 975.3 1288.4 975.6 1289 975.2 1289.7 975.8 1290.4 975.2 1291.1 975.3 1291.8 975.3 1292.4 974.2 1293.1 975.1 1293.8 974.3 1294.5 974.4 1295.1 974.3 1295.8 974.5 1296.5 974.2 1297.2 974.5 1297.9 973.5 1298.5 972.8 1299.2 972.5 1299.9 972.6 1300.6 972.6 1301.3 971.5 1301.9 970.5 1302.6 970.2 1303.3 969.3 1304 968.2 1304.7 966.6 1305.3 964 1306 962.5 1306.7 959.3 1307.4 952.2 1308 939.4 1308.7 920.8 1309.4 889.5 1310.1 849.2 1310.8 797.7 1311.4 746.9 1312.1 714.6 1312.8 713.8 1313.5 747.5 1314.2 797.3 1314.8 847.3 1315.5 890.2 1316.2 919.5 1316.9 940.3 1317.6 951.3 1318.2 957.4 1318.9 960.8 1319.6 964.8 1320.3 966.3 1321 966.2 1321.6 968.5 1322.3 968.5 1323 968.9 1323.7 969.5 1324.3 969.8 1325 970.9 1325.7 970.6 1326.4 969.9 1327.1 971.9 1327.7 971.5 1328.4 970.7 1329.1 971.2 1329.8 971 1330.5 971.5 1331.1 971.8 1331.8 971.7 1332.5 971.4 1333.2 971.3 1333.9 972.1 1334.5 971.8 1335.2 973.1 1335.9 971.9 1336.6 972.8 1337.2 972.6 1337.9 972.4 1338.6 973.6 1339.3 973.2 1340 972.8 1340.6 973.3 1341.3 974 1342 973.2 1342.7 974.5 1343.4 974.3 1344 974 1344.7 974.9 1345.4 975.2 1346.1 974.8 1346.8 974.7 1347.4 975.6 1348.1 975.5 1348.8 974.3 1349.5 974.4 1350.2 973.3 1350.8 970.5 1351.5 965.7 1352.2 963.6 1352.9 964.6 1353.5 969.2 1354.2 973.7 1354.9 974.9 1355.6 975.9 1356.3 976.5 1356.9 976.4 1357.6 976.7 1358.3 977.3 1359 977.1 1359.7 977.9 1360.3 977 1361 977.6 1361.7 977 1362.4 977.7 1363.1 977.6 1363.7 978.7 1364.4 978.5 1365.1 978.5 1365.8 979.3 1366.4 979.2 1367.1 978.8 1367.8 978.2 1368.5 977.8 1369.2 978.5 1369.8 978.4 1370.5 978.2 1371.2 978.4 1371.9 977.8 1372.6 979.2 1373.2 978 1373.9 978.2 1374.6 978.7 1375.3 977.7 1376 978.8 1376.6 978.8 1377.3 978.1 1378 977.6 1378.7 977.8 1379.4 977 1380 978.4 1380.7 977.5 1381.4 976.9 1382.1 976.4 1382.7 976.6 1383.4 976.3 1384.1 973.7 1384.8 971.8 1385.5 967.1 1386.1 961 1386.8 949.2 1387.5 934.2 1388.2 914.4 1388.9 897.7 1389.5 890.7 1390.2 898.4 1390.9 913.8 1391.6 933.6 1392.3 949.5 1392.9 960.7 1393.6 967.8 1394.3 972.9 1395 975.6 1395.6 975.8 1396.3 977.1 1397 978.3 1397.7 977.6 1398.4 978.1 1399 977.9 1399.7 978.7 1400.4 978.9 1401.1 978.9 1401.8 978.9 1402.4 978.6 1403.1 978.8 1403.8 979.1 1404.5 980 1405.2 979.5 1405.8 979.4 1406.5 980.2 1407.2 980.2 1407.9 979.6 1408.6 979.7 1409.2 980.4 1409.9 980.3 1410.6 979.7 1411.3 980.3 1411.9 980.2 1412.6 980.7 1413.3 979.8 1414 980.6 1414.7 980.4 1415.3 979.7 1416 980.6 1416.7 980.5 1417.4 979.4 1418.1 980.8 1418.7 979.1 1419.4 978.8 1420.1 978.5 1420.8 978 1421.5 976.5 1422.1 974.4 1422.8 972.9 1423.5 970.2 1424.2 969.1 1424.9 969.4 1425.5 969.3 1426.2 970 1426.9 973.3 1427.6 975.1 1428.2 977.3 1428.9 978.6 1429.6 978.8 1430.3 979.3 1431 980.1 1431.6 980.4 1432.3 979.4 1433 981.2 1433.7 980.9 1434.4 981 1435 981.2 1435.7 980.6 1436.4 981.1 1437.1 981.7 1437.8 981.8 1438.4 981.5 1439.1 981.2 1439.8 981 1440.5 982.1 1441.1 981.7 1441.8 981.3 1442.5 980.5 1443.2 981.2 1443.9 980.7 1444.5 982.2 1445.2 981.8 1445.9 981.3 1446.6 981.6 1447.3 983 1447.9 982.4 1448.6 981.1 1449.3 981.8 1450 981.3 1450.7 981 1451.3 982 1452 983.1 1452.7 982.7 1453.4 982 1454.1 981.8 1454.7 982.1 1455.4 982.5 1456.1 981.3 1456.8 981.2 1457.4 983 1458.1 982.3 1458.8 982.9 1459.5 982.3 1460.2 982.9 1460.8 981.9 1461.5 982.5 1462.2 983 1462.9 982.8 1463.6 982.1 1464.2 982.8 1464.9 982 1465.6 981.6 1466.3 982.6 1467 983.1 1467.6 982.8 1468.3 981.8 1469 982.9 1469.7 982.8 1470.3 982.2 1471 981.2 1471.7 983 1472.4 982.9 1473.1 982.8 1473.7 981.7 1474.4 981.8 1475.1 983 1475.8 982.9 1476.5 982.8 1477.1 982.4 1477.8 982.7 1478.5 982.2 1479.2 982.3 1479.9 982 1480.5 982.5 1481.2 982.1 1481.9 982.7 1482.6 982.4 1483.3 981.4 1483.9 982.4 1484.6 980.4 1485.3 980.6 1486 980 1486.6 979.1 1487.3 976.2 1488 976.5 1488.7 975.4 1489.4 974.6 1490 972.3 1490.7 973.3 1491.4 974.3 1492.1 975.3 1492.8 977.5 1493.4 977.7 1494.1 979.8 1494.8 980.5 1495.5 980.2 1496.2 981 1496.8 981.7 1497.5 982.3 1498.2 983 1498.9 982.6 1499.5 983.3 1500.2 982.1 1500.9 981.5 1501.6 982.9 1502.3 983.3 1502.9 983 1503.6 982.7 1504.3 983.5 1505 984.3 1505.7 983.3 1506.3 983 1507 983 1507.7 984.4 1508.4 983.4 1509.1 983.8 1509.7 984.1 1510.4 984.1 1511.1 983.1 1511.8 984.1 1512.5 984 1513.1 983.9 1513.8 984.2 1514.5 983.4 1515.2 983.7 1515.8 983.4 1516.5 984.1 1517.2 983.4 1517.9 984 1518.6 983.2 1519.2 983.7 1519.9 983.6 1520.6 983.8 1521.3 983.9 1522 983.8 1522.6 983.8 1523.3 982.9 1524 984.5 1524.7 983.6 1525.4 983.8 1526 983.5 1526.7 984.5 1527.4 983.5 1528.1 984.2 1528.7 984.6 1529.4 984.8 1530.1 984.6 1530.8 984.3 1531.5 983.4 1532.1 984.7 1532.8 984.6 1533.5 984.5 1534.2 984.5 1534.9 984.1 1535.5 983.8 1536.2 984.6 1536.9 984.7 1537.6 983.5 1538.3 984.4 1538.9 984.1 1539.6 984.4 1540.3 984 1541 984.4 1541.7 984.3 1542.3 984.1 1543 982.8 1543.7 983.7 1544.4 983.1 1545 982 1545.7 982.2 1546.4 980 1547.1 979.3 1547.8 977.3 1548.4 973.2 1549.1 970.6 1549.8 967.4 1550.5 965.9 1551.2 965.5 1551.8 968.9 1552.5 972 1553.2 975.5 1553.9 977.9 1554.6 980.6 1555.2 981.7 1555.9 982.9 1556.6 983.8 1557.3 983.6 1558 984.3 1558.6 984.1 1559.3 984.4 1560 984 1560.7 984.7 1561.3 985.1 1562 984.5 1562.7 985 1563.4 984.9 1564.1 984.1 1564.7 984.9 1565.4 985.4 1566.1 984.6 1566.8 984 1567.5 985 1568.1 984.6 1568.8 985.9 1569.5 985 1570.2 985 1570.9 984.7 1571.5 985.2 1572.2 984.8 1572.9 984.7 1573.6 985.1 1574.2 984.8 1574.9 985.8 1575.6 984.6 1576.3 985.2 1577 984.9 1577.6 984.6 1578.3 986.1 1579 984.3 1579.7 986 1580.4 984.6 1581 985.4 1581.7 986.5 1582.4 984.3 1583.1 984.7 1583.8 986.1 1584.4 985.5 1585.1 985.2 1585.8 985.4 1586.5 985 1587.2 985.5 1587.8 986.2 1588.5 985.3 1589.2 985.6 1589.9 986.1 1590.5 986.5 1591.2 985.3 1591.9 985.7 1592.6 985.3 1593.3 985.3 1593.9 985.4 1594.6 985.3 1595.3 984.7 1596 984.6 1596.7 985.2 1597.3 985.6 1598 986.2 1598.7 985.3 1599.4 985.4 1600.1 985.8 1600.7 985.8 1601.4 985.2 1602.1 985.1 1602.8 985.8 1603.4 984.3 1604.1 983.5 1604.8 982.1 1605.5 982.2 1606.2 980.8 1606.8 981.1 1607.5 979.9 1608.2 980.9 1608.9 981.9 1609.6 983.3 1610.2 982.9 1610.9 985 1611.6 984.8 1612.3 985.1 1613 985.3 1613.6 985.4 1614.3 985.5 1615 984.6 1615.7 986 1616.4 985.8 1617 985.3 1617.7 985.8 1618.4 986.9 1619.1 985.9 1619.7 985.5 1620.4 986.5 1621.1 985.2 1621.8 985.4 1622.5 985.1 1623.1 985.2 1623.8 985.5 1624.5 985.2 1625.2 984.3 1625.9 984.3 1626.5 984 1627.2 983.3 1627.9 982.7 1628.6 981.1 1629.3 979 1629.9 975.6 1630.6 968.4 1631.3 958.4 1632 942.7 1632.6 923.3 1633.3 904.2 1634 891.2 1634.7 891.4 1635.4 904.6 1636 923.8 1636.7 942.6 1637.4 959.1 1638.1 969.6 1638.8 976 1639.4 980.2 1640.1 982.1 1640.8 983.1 1641.5 984 1642.2 985.9 1642.8 985.5 1643.5 985.9 1644.2 985.5 1644.9 986.2 1645.6 987.2 1646.2 986.5 1646.9 987 1647.6 987.2 1648.3 987 1648.9 987.6 1649.6 987 1650.3 987.2 1651 986.7 1651.7 988.3 1652.3 987.2 1653 987.2 1653.7 987.8 1654.4 986.9 1655.1 987 1655.7 986.5 1656.4 986.6 1657.1 985.9 1657.8 985.7 1658.5 984.5 1659.1 983.3 1659.8 982.5 1660.5 982 1661.2 981.9 1661.8 983.2 1662.5 984.1 1663.2 984.9 1663.9 985.2 1664.6 986.8 1665.2 986.5 1665.9 987.5 1666.6 987.7 1667.3 987.6 1668 987.6 1668.6 987.7 1669.3 989.1 1670 988.1 1670.7 988.2 1671.4 988.8 1672 988.6 1672.7 988.9 1673.4 987.9 1674.1 988 1674.8 990.1 1675.4 988.5 1676.1 988.5 1676.8 988.7 1677.5 989.1 1678.1 988.1 1678.8 988.9 1679.5 988.7 1680.2 989.1 1680.9 988.9 1681.5 988.5 1682.2 988.4 1682.9 987.6 1683.6 989.2 1684.3 988.1 1684.9 988.6 1685.6 989.6 1686.3 988.6 1687 989 1687.7 988.6 1688.3 989.1 1689 988.7 1689.7 988.5 1690.4 989.4 1691 988.6 1691.7 988.1 1692.4 988.5 1693.1 988.9 1693.8 988.1 1694.4 989 1695.1 989 1695.8 989.6 1696.5 988.3 1697.2 988.9 1697.8 987.8 1698.5 988.3 1699.2 988.6 1699.9 988.7 1700.6 988.4 1701.2 988.3 1701.9 988 1702.6 988.1 1703.3 988.4 1704 988.4 1704.6 988.3 1705.3 988.3 1706 988.1 1706.7 986.3 1707.3 986.2 1708 985.4 1708.7 983.7 1709.4 982.7 1710.1 980.3 1710.7 977.7 1711.4 976.1 1712.1 976.3 1712.8 976.6 1713.5 978.6 1714.1 981.5 1714.8 983.3 1715.5 985.4 1716.2 986.1 1716.9 987.1 1717.5 987 1718.2 987.1 1718.9 987.8 1719.6 986.6 1720.3 988.2 1720.9 988.5 1721.6 988.1 1722.3 988 1723 988.7 1723.6 988.2 1724.3 988.7 1725 989.3 1725.7 988.6 1726.4 988.7 1727 988.4 1727.7 988.3 1728.4 988.3 1729.1 988.2 1729.8 988.6 1730.4 987.2 1731.1 987.7 1731.8 988 1732.5 987 1733.2 986.8 1733.8 985.9 1734.5 985.7 1735.2 985 1735.9 984.5 1736.5 983.6 1737.2 983.1 1737.9 984.2 1738.6 985.2 1739.3 986.5 1739.9 985.5 1740.6 987.3 1741.3 986.6 1742 988 1742.7 988.1 1743.3 988.2 1744 988.4 1744.7 988.2 1745.4 987.7 1746.1 988.2 1746.7 988.6 1747.4 988 1748.1 988 1748.8 987.4 1749.5 988.5 1750.1 987.7 1750.8 987.6 1751.5 987.7 1752.2 987.4 1752.8 987.7 1753.5 988.3 1754.2 988 1754.9 988.1 1755.6 987.9 1756.2 986.3 1756.9 986.3 1757.6 985.8 1758.3 984.9 1759 981.5 1759.6 979.7 1760.3 979 1761 977.7 1761.7 977.7 1762.4 979.6 1763 980.8 1763.7 981.8 1764.4 984.4 1765.1 985.5 1765.7 986.6 1766.4 987.2 1767.1 987.1 1767.8 987.1 1768.5 987 1769.1 986.6 1769.8 987.1 1770.5 987.8 1771.2 987.6 1771.9 988.3 1772.5 987.1 1773.2 986.3 1773.9 987.4 1774.6 987.4 1775.3 986.2 1775.9 985.7 1776.6 986.3 1777.3 986.2 1778 984.9 1778.7 984.5 1779.3 983.2 1780 980.9 1780.7 977.3 1781.4 972 1782 962.8 1782.7 950.7 1783.4 935.9 1784.1 925.2 1784.8 916.9 1785.4 919.7 1786.1 929.8 1786.8 944.3 1787.5 956.6 1788.2 967.9 1788.8 975.2 1789.5 980.3 1790.2 982.1 1790.9 983.8 1791.6 984.9 1792.2 986.6 1792.9 985.3 1793.6 986.5 1794.3 986.2 1794.9 986.9 1795.6 987.2 1796.3 987.1 1797 987.2 1797.7 987.3 1798.3 986.9 1799 987.1 1799.7 986.4 1800.4 987 1801.1 986.7 1801.7 986.8 1802.4 987 1803.1 986.5 1803.8 985.9 1804.5 985.2 1805.1 982.1 1805.8 981.4 1806.5 978.8 1807.2 976.2 1807.9 973.5 1808.5 973.6 1809.2 974.7 1809.9 976.8 1810.6 978.8 1811.2 981.6 1811.9 983.8 1812.6 985.7 1813.3 986.4 1814 986.6 1814.6 986.9 1815.3 987.2 1816 987.4 1816.7 987.2 1817.4 987.9 1818 987.3 1818.7 987.2 1819.4 987.8 1820.1 987.4 1820.8 987.5 1821.4 986.7 1822.1 988 1822.8 987.6 1823.5 987.5 1824.1 987.7 1824.8 987.4 1825.5 986.8 1826.2 987.7 1826.9 986 1827.5 985.8 1828.2 985 1828.9 982.1 1829.6 980.2 1830.3 977.4 1830.9 976.1 1831.6 974.3 1832.3 974.3 1833 977.2 1833.7 979.4 1834.3 980.9 1835 983.9 1835.7 984.9 1836.4 987.2 1837.1 987.4 1837.7 986.8 1838.4 987.2 1839.1 987.1 1839.8 987.7 1840.4 987.7 1841.1 988.1 1841.8 987.8 1842.5 987.1 1843.2 987.5 1843.8 988.6 1844.5 988.4 1845.2 987.8 1845.9 987.8 1846.6 987.8 1847.2 987.8 1847.9 986.9 1848.6 988 1849.3 987 1850 987.1 1850.6 985.2 1851.3 985.8 1852 985.3 1852.7 982.3 1853.3 982.9 1854 981.5 1854.7 980.7 1855.4 980.9 1856.1 983.3 1856.7 984.2 1857.4 985.5 1858.1 986 1858.8 986.4 1859.5 987.7 1860.1 987.1 1860.8 988.2 1861.5 987 1862.2 987.5 1862.9 987.3 1863.5 988.6 1864.2 987.2 1864.9 987.5 1865.6 988.4 1866.3 988.2 1866.9 989.1 1867.6 988.9 1868.3 988.3 1869 988.3 1869.6 987.1 1870.3 987.5 1871 987.6 1871.7 987.5 1872.4 986.7 1873 986.5 1873.7 985.9 1874.4 986 1875.1 984.7 1875.8 983.3 1876.4 982.4 1877.1 982.3 1877.8 982.2 1878.5 983.3 1879.2 983.7 1879.8 985.8 1880.5 986.8 1881.2 987.1 1881.9 987.6 1882.6 987.8 1883.2 988.8 1883.9 988 1884.6 987.3 1885.3 987.5 1885.9 988.4 1886.6 988.5 1887.3 988.4 1888 988.4 1888.7 988.1 1889.3 987.3 1890 987.6 1890.7 987.1 1891.4 987.7 1892.1 987.2 1892.7 987.7 1893.4 987.4 1894.1 986.3 1894.8 987.1 1895.5 986.4 1896.1 984.4 1896.8 983.7 1897.5 982.4 1898.2 980.4 1898.8 979.7 1899.5 979.1 1900.2 980.3 1900.9 981.4 1901.6 982.8 1902.2 984.6 1902.9 986 1903.6 986.6 1904.3 986.8 1905 987 1905.6 987.4 1906.3 987.5 1907 988 1907.7 988 1908.4 987.9 1909 988 1909.7 988.1 1910.4 988.8 1911.1 988.7 1911.8 987.8 1912.4 988.3 1913.1 987.9 1913.8 988 1914.5 987.9 1915.1 987.6 1915.8 987.1 1916.5 986.4 1917.2 987.4 1917.9 987.4 1918.5 985.8 1919.2 985.6 1919.9 984.3 1920.6 983.9 1921.3 982.9 1921.9 983.4 1922.6 984.1 1923.3 983.8 1924 986 1924.7 986.5 1925.3 985.9 1926 987.8 1926.7 987.8 1927.4 988.1 1928 988.2 1928.7 987.9 1929.4 987.7 1930.1 988 1930.8 988 1931.4 989.3 1932.1 989.2 1932.8 988.1 1933.5 988.1 1934.2 988.5 1934.8 988.6 1935.5 988 1936.2 987.9 1936.9 989.3 1937.6 988.9 1938.2 987.6 1938.9 987.5 1939.6 988 1940.3 988.5 1941 988.6 1941.6 988.2 1942.3 987.6 1943 988.5 1943.7 988.7 1944.3 988.4 1945 988.2 1945.7 988.7 1946.4 988.4 1947.1 987.9 1947.7 988.4 1948.4 987.8 1949.1 988.9 1949.8 988.6 1950.5 987.9 1951.1 988.5 1951.8 988.9 1952.5 987.3 1953.2 988.2 1953.9 989.1 1954.5 987.5 1955.2 988.1 1955.9 987.5 1956.6 988.1 1957.2 987 1957.9 987.3 1958.6 987.8 1959.3 988.1 1960 988.2 1960.6 988.2 1961.3 988.6 1962 988.3 1962.7 988.3 1963.4 987.4 1964 987.8 1964.7 989.4 1965.4 988.9 1966.1 988.2 1966.8 988.1 1967.4 988.2 1968.1 987.5 1968.8 988.6 1969.5 987.5 1970.2 987.6 1970.8 988.7 1971.5 986.5 1972.2 987.7 1972.9 986.6 1973.5 987.1 1974.2 987.4 1974.9 987.2 1975.6 987.4 1976.3 986.9 1976.9 987.2 1977.6 986.6 1978.3 986.9 1979 986.3 1979.7 987.2 1980.3 986.1 1981 986.8 1981.7 985.9 1982.4 985.4 1983.1 985.4 1983.7 983.9 1984.4 981.9 1985.1 982 1985.8 979.7 1986.4 981.2 1987.1 981.5 1987.8 982 1988.5 983.7 1989.2 984.4 1989.8 986.3 1990.5 985.5 1991.2 987 1991.9 986.9 1992.6 986 1993.2 986 1993.9 987.1 1994.6 986.4 1995.3 986.5 1996 986.3 1996.6 985.8 1997.3 986.1 1998 985.8 1998.7 985.5 1999.4 986 2000 986.9 2000.7 986.7 2001.4 985.7 2002.1 985.4 2002.7 985.1 2003.4 984.8 2004.1 983.3 2004.8 981.6 2005.5 980.1 2006.1 979.4 2006.8 979.2 2007.5 977.6 2008.2 977.8 2008.9 980.6 2009.5 981.6 2010.2 983 2010.9 984.5 2011.6 984.6 2012.3 984.4 2012.9 984.4 2013.6 985.5 2014.3 985 2015 985.8 2015.6 985.1 2016.3 985.6 2017 985 2017.7 985.6 2018.4 985.5 2019 986.1" stroke="#200000" stroke-width="4.2" stroke-linejoin="round" fill="none"/>
</g>
<path d="M1174.9 1074.8 1175.6 1074.8 1176.3 1075 1177 1075.1 1177.7 1075.4 1178.3 1075.1 1179 1075.3 1179.7 1075.4 1180.4 1075.4 1181.1 1075.3 1181.7 1074.9 1182.4 1074.6 1183.1 1074.5 1183.8 1074.7 1184.5 1074.8 1185.1 1074.9 1185.8 1074.9 1186.5 1074.8 1187.2 1074.4 1187.9 1074.5 1188.5 1074.7 1189.2 1074.9 1189.9 1074.8 1190.6 1074.8 1191.2 1075 1191.9 1074.5 1192.6 1074.2 1193.3 1074.1 1194 1074.7 1194.6 1074.8 1195.3 1074.9 1196 1074.3 1196.7 1074.4 1197.4 1074.5 1198 1074.3 1198.7 1073.9 1199.4 1073.9 1200.1 1074.4 1200.8 1074.8 1201.4 1074.9 1202.1 1075.1 1202.8 1074.8 1203.5 1074.5 1204.1 1074.6 1204.8 1074.8 1205.5 1074.8 1206.2 1074.8 1206.9 1074.9 1207.5 1074.7 1208.2 1074.4 1208.9 1074.1 1209.6 1074.5 1210.3 1074.3 1210.9 1074.8 1211.6 1074.3 1212.3 1074.7 1213 1074.2 1213.7 1074.4 1214.3 1074.6 1215 1075.1 1215.7 1075.5 1216.4 1075.3 1217.1 1075 1217.7 1074.8 1218.4 1075 1219.1 1074.9 1219.8 1075 1220.4 1075 1221.1 1075.3 1221.8 1075.2 1222.5 1075.2 1223.2 1074.9 1223.8 1074.7 1224.5 1074.3 1225.2 1074.4 1225.9 1074.4 1226.6 1074.9 1227.2 1074.7 1227.9 1075.3 1228.6 1075.2 1229.3 1075.7 1230 1075.2 1230.6 1074.7 1231.3 1074.4 1232 1074.5 1232.7 1074.5 1233.3 1074.7 1234 1074.3 1234.7 1074.7 1235.4 1074.6 1236.1 1074.4 1236.7 1074.5 1237.4 1074.3 1238.1 1074.5 1238.8 1074.6 1239.5 1075.5 1240.1 1075.7 1240.8 1075.7 1241.5 1075 1242.2 1074.7 1242.9 1074.7 1243.5 1075 1244.2 1075.2 1244.9 1075.3 1245.6 1075 1246.3 1075.4 1246.9 1074.9 1247.6 1075.1 1248.3 1074.7 1249 1075.1 1249.6 1074.7 1250.3 1074.4 1251 1074.3 1251.7 1074.5 1252.4 1074.5 1253 1074.3 1253.7 1074.4 1254.4 1074.9 1255.1 1075 1255.8 1074.7 1256.4 1074.4 1257.1 1075 1257.8 1075.2 1258.5 1075.4 1259.2 1075.1 1259.8 1075.5 1260.5 1075.7 1261.2 1075.3 1261.9 1074.9 1262.6 1074.6 1263.2 1075 1263.9 1074.9 1264.6 1075.1 1265.3 1075.2 1265.9 1075.8 1266.6 1076.2 1267.3 1076.5 1268 1076.4 1268.7 1076.6 1269.3 1077.3 1270 1077.9 1270.7 1078 1271.4 1077.1 1272.1 1076.8 1272.7 1076.4 1273.4 1076.7 1274.1 1076.2 1274.8 1076 1275.5 1075.6 1276.1 1076.1 1276.8 1076 1277.5 1075.9 1278.2 1075.2 1278.8 1074.9 1279.5 1074.9 1280.2 1074.8 1280.9 1074.8 1281.6 1074.9 1282.2 1075.2 1282.9 1075.2 1283.6 1075.3 1284.3 1075.2 1285 1074.9 1285.6 1074.3 1286.3 1074.1 1287 1074.3 1287.7 1074.7 1288.4 1075.1 1289 1075 1289.7 1074.7 1290.4 1074.7 1291.1 1075 1291.8 1075.1 1292.4 1075 1293.1 1075 1293.8 1075.2 1294.5 1075.1 1295.1 1074.4 1295.8 1074.6 1296.5 1074.8 1297.2 1075.2 1297.9 1074.8 1298.5 1074.5 1299.2 1074.4 1299.9 1074.5 1300.6 1075 1301.3 1074.7 1301.9 1075 1302.6 1074.8 1303.3 1075.3 1304 1074.9 1304.7 1075 1305.3 1075.1 1306 1075.4 1306.7 1075.2 1307.4 1075.1 1308 1075.5 1308.7 1075.9 1309.4 1076.1 1310.1 1076.4 1310.8 1076.9 1311.4 1077.6 1312.1 1077.5 1312.8 1077.3 1313.5 1076.8 1314.2 1077.1 1314.8 1076.9 1315.5 1076.7 1316.2 1076 1316.9 1075.6 1317.6 1075.5 1318.2 1075.2 1318.9 1075.2 1319.6 1074.5 1320.3 1073.9 1321 1073.1 1321.6 1073.3 1322.3 1073.4 1323 1073.8 1323.7 1073.9 1324.3 1073.6 1325 1073.1 1325.7 1072.6 1326.4 1072.6 1327.1 1072.1 1327.7 1071.9 1328.4 1071.2 1329.1 1071.1 1329.8 1070.9 1330.5 1070.7 1331.1 1070.6 1331.8 1070.6 1332.5 1070.9 1333.2 1071.3 1333.9 1071.4 1334.5 1071.8 1335.2 1072.1 1335.9 1072.6 1336.6 1072.9 1337.2 1073.6 1337.9 1074 1338.6 1074.4 1339.3 1074.3 1340 1074.2 1340.6 1074.1 1341.3 1074.9 1342 1074.9 1342.7 1075.2 1343.4 1075 1344 1074.8 1344.7 1074.6 1345.4 1074.4 1346.1 1074.7 1346.8 1075 1347.4 1075.6 1348.1 1077 1348.8 1078.7 1349.5 1080.5 1350.2 1082.1 1350.8 1083.4 1351.5 1084.9 1352.2 1085.6 1352.9 1085.5 1353.5 1084.4 1354.2 1082.7 1354.9 1080.9 1355.6 1078.8 1356.3 1077.1 1356.9 1075.9 1357.6 1075.3 1358.3 1074.9 1359 1074.8 1359.7 1074.4 1360.3 1074.1 1361 1074.2 1361.7 1073.7 1362.4 1073.8 1363.1 1073.2 1363.7 1073.4 1364.4 1072.9 1365.1 1072.6 1365.8 1072.1 1366.4 1071.8 1367.1 1071.8 1367.8 1071.7 1368.5 1072.1 1369.2 1072.4 1369.8 1072.2 1370.5 1071.8 1371.2 1071.8 1371.9 1072.8 1372.6 1073.3 1373.2 1073.6 1373.9 1073.9 1374.6 1074.2 1375.3 1074.7 1376 1074.7 1376.6 1074.8 1377.3 1074.3 1378 1074.3 1378.7 1074 1379.4 1074.6 1380 1075.2 1380.7 1075.6 1381.4 1075.1 1382.1 1074.7 1382.7 1074.7 1383.4 1075.3 1384.1 1075.9 1384.8 1076.6 1385.5 1076.8 1386.1 1077.8 1386.8 1078.6 1387.5 1080 1388.2 1081 1388.9 1081.7 1389.5 1081.7 1390.2 1081 1390.9 1080.4 1391.6 1079.9 1392.3 1079.4 1392.9 1078.3 1393.6 1077.1 1394.3 1076.4 1395 1075.8 1395.6 1075.8 1396.3 1075.3 1397 1075.3 1397.7 1074.9 1398.4 1074.9 1399 1074.7 1399.7 1074.6 1400.4 1074.5 1401.1 1074.5 1401.8 1074.7 1402.4 1074.7 1403.1 1074.8 1403.8 1074.7 1404.5 1074.6 1405.2 1075 1405.8 1075.1 1406.5 1075 1407.2 1074.6 1407.9 1074.7 1408.6 1074.8 1409.2 1074.8 1409.9 1074.7 1410.6 1074.7 1411.3 1074.8 1411.9 1075 1412.6 1074.6 1413.3 1074.3 1414 1073.7 1414.7 1074.2 1415.3 1074.6 1416 1075.4 1416.7 1075.3 1417.4 1075.3 1418.1 1075 1418.7 1075 1419.4 1074.4 1420.1 1074.3 1420.8 1074.2 1421.5 1074.7 1422.1 1075.2 1422.8 1075.2 1423.5 1075.1 1424.2 1074.8 1424.9 1074.8 1425.5 1074.3 1426.2 1074.1 1426.9 1074 1427.6 1074.3 1428.2 1074.4 1428.9 1074.7 1429.6 1074.7 1430.3 1074.8 1431 1074.7 1431.6 1074.9 1432.3 1074.4 1433 1074.6 1433.7 1074.5 1434.4 1074.7 1435 1074.4 1435.7 1074.4 1436.4 1074.5 1437.1 1074.9 1437.8 1075 1438.4 1075.1 1439.1 1074.9 1439.8 1075 1440.5 1075.1 1441.1 1074.9 1441.8 1074.7 1442.5 1074.7 1443.2 1075 1443.9 1075 1444.5 1074.8 1445.2 1074.8 1445.9 1074.5 1446.6 1074.3 1447.3 1074.5 1447.9 1074.6 1448.6 1074.9 1449.3 1074.4 1450 1074.6 1450.7 1074.4 1451.3 1075.2 1452 1075 1452.7 1075 1453.4 1074.6 1454.1 1075 1454.7 1074.8 1455.4 1074.6 1456.1 1074.6 1456.8 1074.8 1457.4 1074.9 1458.1 1074.6 1458.8 1074.6 1459.5 1074.4 1460.2 1074.4 1460.8 1074.3 1461.5 1074.9 1462.2 1074.9 1462.9 1075 1463.6 1074.7 1464.2 1074.8 1464.9 1075.2 1465.6 1075 1466.3 1075.1 1467 1074.8 1467.6 1074.9 1468.3 1074.8 1469 1074.8 1469.7 1075.1 1470.3 1075 1471 1074.9 1471.7 1074.5 1472.4 1074.7 1473.1 1074.9 1473.7 1075.2 1474.4 1074.8 1475.1 1074.8 1475.8 1074.5 1476.5 1074.7 1477.1 1074.7 1477.8 1074.4 1478.5 1074.5 1479.2 1074.5 1479.9 1074.6 1480.5 1074.5 1481.2 1074.8 1481.9 1075 1482.6 1075.1 1483.3 1074.7 1483.9 1074.5 1484.6 1074 1485.3 1073.6 1486 1073.5 1486.6 1073.1 1487.3 1072.1 1488 1071.1 1488.7 1069.9 1489.4 1069.2 1490 1068.7 1490.7 1068.7 1491.4 1069.1 1492.1 1070.1 1492.8 1070.9 1493.4 1072.4 1494.1 1072.6 1494.8 1073.6 1495.5 1073.9 1496.2 1074.4 1496.8 1074.1 1497.5 1074.2 1498.2 1074.3 1498.9 1074.6 1499.5 1074.6 1500.2 1074.8 1500.9 1074.8 1501.6 1074.9 1502.3 1074.5 1502.9 1074.7 1503.6 1074.8 1504.3 1075.5 1505 1075.6 1505.7 1075.5 1506.3 1075.3 1507 1075 1507.7 1075.1 1508.4 1074.7 1509.1 1074.8 1509.7 1074.8 1510.4 1074.9 1511.1 1075.3 1511.8 1074.8 1512.5 1074.8 1513.1 1074.4 1513.8 1074.7 1514.5 1074.3 1515.2 1074.5 1515.8 1074.6 1516.5 1074.8 1517.2 1074.4 1517.9 1074.2 1518.6 1074.6 1519.2 1074.9 1519.9 1075 1520.6 1074.8 1521.3 1074.8 1522 1074.9 1522.6 1075 1523.3 1075 1524 1075.2 1524.7 1074.8 1525.4 1074.7 1526 1074.5 1526.7 1074.8 1527.4 1074.7 1528.1 1074.7 1528.7 1074.6 1529.4 1074.8 1530.1 1074.8 1530.8 1074.6 1531.5 1074.6 1532.1 1074.9 1532.8 1075 1533.5 1075 1534.2 1074.6 1534.9 1074.6 1535.5 1074.8 1536.2 1075.1 1536.9 1075.2 1537.6 1074.9 1538.3 1074.5 1538.9 1074.5 1539.6 1074.6 1540.3 1075.2 1541 1075.5 1541.7 1075.5 1542.3 1075.5 1543 1074.8 1543.7 1075 1544.4 1075 1545 1075.5 1545.7 1075.4 1546.4 1075.3 1547.1 1075.3 1547.8 1075 1548.4 1075.1 1549.1 1075 1549.8 1075 1550.5 1074.6 1551.2 1074.5 1551.8 1074.7 1552.5 1075 1553.2 1075.1 1553.9 1074.9 1554.6 1074.8 1555.2 1074.9 1555.9 1075 1556.6 1074.9 1557.3 1074.5 1558 1074.7 1558.6 1075.1 1559.3 1075.1 1560 1075.1 1560.7 1074.9 1561.3 1075 1562 1074.8 1562.7 1074.4 1563.4 1074.4 1564.1 1074.5 1564.7 1074.8 1565.4 1075 1566.1 1075.1 1566.8 1075 1567.5 1074.8 1568.1 1074.9 1568.8 1075.1 1569.5 1075.2 1570.2 1075.2 1570.9 1075.1 1571.5 1075.3 1572.2 1075.3 1572.9 1074.7 1573.6 1074.4 1574.2 1074.2 1574.9 1074.6 1575.6 1074.7 1576.3 1074.9 1577 1075 1577.6 1075 1578.3 1074.5 1579 1074.6 1579.7 1075.2 1580.4 1074.9 1581 1074.8 1581.7 1074.4 1582.4 1074.4 1583.1 1074.4 1583.8 1074.1 1584.4 1074.4 1585.1 1074.7 1585.8 1075.1 1586.5 1075.4 1587.2 1075.2 1587.8 1075.2 1588.5 1075.2 1589.2 1074.8 1589.9 1074.7 1590.5 1074.7 1591.2 1074.8 1591.9 1074.8 1592.6 1074.8 1593.3 1075.3 1593.9 1075.2 1594.6 1074.8 1595.3 1074.7 1596 1074.8 1596.7 1074.9 1597.3 1074.9 1598 1074.9 1598.7 1075.1 1599.4 1075.5 1600.1 1075.7 1600.7 1075.8 1601.4 1075.4 1602.1 1075.8 1602.8 1075.8 1603.4 1075.5 1604.1 1075 1604.8 1074.8 1605.5 1074.8 1606.2 1074.8 1606.8 1074.8 1607.5 1074.9 1608.2 1074.8 1608.9 1074.9 1609.6 1074.6 1610.2 1074.8 1610.9 1074.7 1611.6 1075 1612.3 1074.4 1613 1074.7 1613.6 1074.4 1614.3 1074.6 1615 1074.4 1615.7 1074.7 1616.4 1074.8 1617 1074.2 1617.7 1074.2 1618.4 1074.3 1619.1 1074.9 1619.7 1074.9 1620.4 1074.9 1621.1 1074.9 1621.8 1074.8 1622.5 1074.6 1623.1 1074.9 1623.8 1074.9 1624.5 1075.3 1625.2 1074.9 1625.9 1075.4 1626.5 1075 1627.2 1075 1627.9 1074.6 1628.6 1074.4 1629.3 1073.9 1629.9 1072.8 1630.6 1071.7 1631.3 1070.1 1632 1068.8 1632.6 1067.1 1633.3 1065.5 1634 1064.6 1634.7 1064.6 1635.4 1065.4 1636 1067.1 1636.7 1068.9 1637.4 1070.9 1638.1 1071.9 1638.8 1072.9 1639.4 1073.7 1640.1 1074.1 1640.8 1074.5 1641.5 1074.5 1642.2 1074.8 1642.8 1074.7 1643.5 1074.5 1644.2 1074.7 1644.9 1074.4 1645.6 1074.4 1646.2 1074.6 1646.9 1074.7 1647.6 1074.5 1648.3 1074.5 1648.9 1074.5 1649.6 1074.2 1650.3 1074 1651 1074.3 1651.7 1075.1 1652.3 1075.4 1653 1075.2 1653.7 1075.3 1654.4 1074.7 1655.1 1074.8 1655.7 1075 1656.4 1075.3 1657.1 1075.3 1657.8 1074.6 1658.5 1074.4 1659.1 1074.1 1659.8 1074.7 1660.5 1074.6 1661.2 1074.9 1661.8 1074.6 1662.5 1075.1 1663.2 1074.8 1663.9 1075 1664.6 1075.1 1665.2 1075.4 1665.9 1075.2 1666.6 1074.8 1667.3 1075 1668 1075.3 1668.6 1074.8 1669.3 1074.7 1670 1074.1 1670.7 1074.8 1671.4 1074.8 1672 1075.1 1672.7 1074.9 1673.4 1075 1674.1 1074.8 1674.8 1075 1675.4 1074.9 1676.1 1074.8 1676.8 1074.7 1677.5 1075.1 1678.1 1075.7 1678.8 1075.5 1679.5 1075 1680.2 1074.9 1680.9 1075.2 1681.5 1075.5 1682.2 1075.7 1682.9 1075.2 1683.6 1075.2 1684.3 1075.1 1684.9 1074.9 1685.6 1074.4 1686.3 1074.1 1687 1074.4 1687.7 1074.8 1688.3 1074.9 1689 1074.9 1689.7 1074.8 1690.4 1074.8 1691 1074.9 1691.7 1075.1 1692.4 1075 1693.1 1075 1693.8 1074.8 1694.4 1075 1695.1 1074.8 1695.8 1075.2 1696.5 1075.1 1697.2 1075.2 1697.8 1074.7 1698.5 1074.7 1699.2 1074.6 1699.9 1074.8 1700.6 1074.7 1701.2 1074.5 1701.9 1074.5 1702.6 1074.6 1703.3 1075 1704 1075.2 1704.6 1075.1 1705.3 1074.6 1706 1074.3 1706.7 1074 1707.3 1074.2 1708 1074.4 1708.7 1074.9 1709.4 1075 1710.1 1074.7 1710.7 1074.6 1711.4 1074.3 1712.1 1074.6 1712.8 1074.5 1713.5 1075.2 1714.1 1074.9 1714.8 1075.2 1715.5 1074.7 1716.2 1075.1 1716.9 1074.7 1717.5 1075 1718.2 1074.7 1718.9 1074.7 1719.6 1074.6 1720.3 1074.7 1720.9 1075 1721.6 1075.3 1722.3 1075.4 1723 1074.8 1723.6 1074.4 1724.3 1073.8 1725 1074.3 1725.7 1074.5 1726.4 1074.6 1727 1074.5 1727.7 1074.4 1728.4 1074.6 1729.1 1075.1 1729.8 1075.2 1730.4 1075.3 1731.1 1075.4 1731.8 1075.2 1732.5 1075.1 1733.2 1074.5 1733.8 1074.7 1734.5 1074.9 1735.2 1075.4 1735.9 1075.3 1736.5 1075 1737.2 1074.5 1737.9 1074.3 1738.6 1074.4 1739.3 1074.9 1739.9 1074.7 1740.6 1074.2 1741.3 1074.2 1742 1074.4 1742.7 1074.9 1743.3 1074.3 1744 1074.8 1744.7 1074.9 1745.4 1075.2 1746.1 1075.2 1746.7 1075 1747.4 1075.1 1748.1 1075.3 1748.8 1075.5 1749.5 1075.3 1750.1 1074.8 1750.8 1074.5 1751.5 1074.6 1752.2 1074.8 1752.8 1074.7 1753.5 1074.9 1754.2 1074.9 1754.9 1075 1755.6 1074.9 1756.2 1075 1756.9 1074.7 1757.6 1075 1758.3 1075 1759 1075.3 1759.6 1075.1 1760.3 1075.3 1761 1075.3 1761.7 1075.3 1762.4 1075 1763 1074.5 1763.7 1074.5 1764.4 1074.5 1765.1 1074.8 1765.7 1075.2 1766.4 1074.9 1767.1 1075 1767.8 1074.7 1768.5 1075.3 1769.1 1075.5 1769.8 1075 1770.5 1074.6 1771.2 1074.5 1771.9 1074.7 1772.5 1075.3 1773.2 1075.2 1773.9 1075.3 1774.6 1075 1775.3 1074.9 1775.9 1074.9 1776.6 1074.7 1777.3 1074.7 1778 1074.6 1778.7 1074.8 1779.3 1074.5 1780 1074.3 1780.7 1074.4 1781.4 1074.7 1782 1074.8 1782.7 1074.7 1783.4 1074.4 1784.1 1075 1784.8 1074.7 1785.4 1075.3 1786.1 1074.7 1786.8 1075.1 1787.5 1074.7 1788.2 1074.8 1788.8 1074.9 1789.5 1075.1 1790.2 1075.1 1790.9 1074.8 1791.6 1075 1792.2 1075.4 1792.9 1075.6 1793.6 1075.1 1794.3 1074.9 1794.9 1074.9 1795.6 1075.2 1796.3 1074.9 1797 1074.9 1797.7 1074.5 1798.3 1074.9 1799 1075.2 1799.7 1075.3 1800.4 1075 1801.1 1074.8 1801.7 1074.5 1802.4 1073.9 1803.1 1073.5 1803.8 1073.3 1804.5 1073 1805.1 1072.6 1805.8 1072.1 1806.5 1071.4 1807.2 1070.9 1807.9 1070.6 1808.5 1071.3 1809.2 1071.3 1809.9 1071.5 1810.6 1071.5 1811.2 1071.9 1811.9 1072.1 1812.6 1072.5 1813.3 1072.9 1814 1073.8 1814.6 1074.6 1815.3 1074.7 1816 1074.5 1816.7 1074 1817.4 1074.2 1818 1074.3 1818.7 1074.5 1819.4 1074.9 1820.1 1074.8 1820.8 1074.5 1821.4 1073.9 1822.1 1074.4 1822.8 1075 1823.5 1075 1824.1 1074.5 1824.8 1074.2 1825.5 1074.8 1826.2 1075.3 1826.9 1075.3 1827.5 1075.2 1828.2 1075.1 1828.9 1074.9 1829.6 1075.2 1830.3 1075.1 1830.9 1075 1831.6 1074.5 1832.3 1074.2 1833 1074.5 1833.7 1074.8 1834.3 1074.8 1835 1075 1835.7 1075.2 1836.4 1075.6 1837.1 1075.1 1837.7 1074.5 1838.4 1074.4 1839.1 1074.4 1839.8 1074.3 1840.4 1074.3 1841.1 1074.5 1841.8 1074.9 1842.5 1074.7 1843.2 1075.1 1843.8 1075.2 1844.5 1075.6 1845.2 1075.1 1845.9 1075.3 1846.6 1075 1847.2 1075.5 1847.9 1075.4 1848.6 1075.3 1849.3 1074.8 1850 1075 1850.6 1075.3 1851.3 1075.4 1852 1075.1 1852.7 1074.9 1853.3 1074.8 1854 1074.7 1854.7 1074.5 1855.4 1074.6 1856.1 1074.7 1856.7 1074.7 1857.4 1074.9 1858.1 1074.8 1858.8 1075.2 1859.5 1075.2 1860.1 1075.4 1860.8 1075.4 1861.5 1075.4 1862.2 1075.1 1862.9 1075.1 1863.5 1074.8 1864.2 1074.7 1864.9 1074.8 1865.6 1074.9 1866.3 1075.1 1866.9 1074.7 1867.6 1075 1868.3 1074.8 1869 1075.1 1869.6 1074.8 1870.3 1075.1 1871 1075 1871.7 1074.8 1872.4 1074.2 1873 1074.2 1873.7 1074.2 1874.4 1074.7 1875.1 1075 1875.8 1074.8 1876.4 1074.4 1877.1 1074.2 1877.8 1074.9 1878.5 1075.2 1879.2 1075.2 1879.8 1075.1 1880.5 1075.1 1881.2 1075.4 1881.9 1075.4 1882.6 1075.1 1883.2 1074.6 1883.9 1074.6 1884.6 1074.6 1885.3 1074.7 1885.9 1074.5 1886.6 1074.6 1887.3 1074.7 1888 1074.8 1888.7 1074.7 1889.3 1074.4 1890 1074.5 1890.7 1075.1 1891.4 1075.3 1892.1 1075.6 1892.7 1075.3 1893.4 1074.8 1894.1 1074.6 1894.8 1074.3 1895.5 1074.5 1896.1 1074.2 1896.8 1074.7 1897.5 1074.7 1898.2 1074.8 1898.8 1074.6 1899.5 1075.1 1900.2 1074.9 1900.9 1074.6 1901.6 1074.4 1902.2 1074.7 1902.9 1074.9 1903.6 1074.9 1904.3 1074.8 1905 1075 1905.6 1074.7 1906.3 1074.7 1907 1074.5 1907.7 1074.6 1908.4 1074.6 1909 1074.2 1909.7 1074.5 1910.4 1074.5 1911.1 1074.9 1911.8 1075.1 1912.4 1075.2 1913.1 1075 1913.8 1074.8 1914.5 1074.8 1915.1 1074.7 1915.8 1074.8 1916.5 1074.9 1917.2 1075.3 1917.9 1074.8 1918.5 1074.9 1919.2 1075.2 1919.9 1075.6 1920.6 1075.1 1921.3 1074.7 1921.9 1074.6 1922.6 1074.9 1923.3 1074.8 1924 1075 1924.7 1074.8 1925.3 1074.9 1926 1074.7 1926.7 1074.8 1927.4 1074.9 1928 1075 1928.7 1075.1 1929.4 1074.7 1930.1 1074.7 1930.8 1074.6 1931.4 1075 1932.1 1074.9 1932.8 1075.2 1933.5 1074.6 1934.2 1074.8 1934.8 1074.7 1935.5 1075.1 1936.2 1075 1936.9 1074.5 1937.6 1074.6 1938.2 1074.5 1938.9 1074.9 1939.6 1074.6 1940.3 1074.9 1941 1075.2 1941.6 1075.6 1942.3 1075.8 1943 1075.1 1943.7 1074.8 1944.3 1074.6 1945 1074.9 1945.7 1075.1 1946.4 1074.8 1947.1 1074.8 1947.7 1074.6 1948.4 1074.8 1949.1 1075.1 1949.8 1074.8 1950.5 1074.9 1951.1 1074.6 1951.8 1074.4 1952.5 1074.1 1953.2 1073.9 1953.9 1074.5 1954.5 1075 1955.2 1075.3 1955.9 1075.2 1956.6 1074.6 1957.2 1074.5 1957.9 1074.3 1958.6 1075 1959.3 1075.3 1960 1075.8 1960.6 1075.7 1961.3 1075.6 1962 1074.9 1962.7 1074.8 1963.4 1074.4 1964 1074.8 1964.7 1074.5 1965.4 1074.7 1966.1 1074.4 1966.8 1074.5 1967.4 1074.7 1968.1 1074.7 1968.8 1074.9 1969.5 1074.6 1970.2 1075 1970.8 1074.8 1971.5 1075.2 1972.2 1075.4 1972.9 1075 1973.5 1074.6 1974.2 1074.1 1974.9 1074.8 1975.6 1074.9 1976.3 1075.1 1976.9 1074.7 1977.6 1074.9 1978.3 1074.6 1979 1074.9 1979.7 1074.2 1980.3 1074 1981 1074.2 1981.7 1074.9 1982.4 1075.1 1983.1 1075.1 1983.7 1075.3 1984.4 1075.7 1985.1 1075.2 1985.8 1075.1 1986.4 1075 1987.1 1074.7 1987.8 1074.7 1988.5 1074.6 1989.2 1075.2 1989.8 1075.3 1990.5 1075.2 1991.2 1074.9 1991.9 1074.6 1992.6 1074.9 1993.2 1074.9 1993.9 1074.9 1994.6 1074.9 1995.3 1075 1996 1075.3 1996.6 1075.2 1997.3 1074.9 1998 1074.3 1998.7 1074.5 1999.4 1074.6 2000 1074.9 2000.7 1074.6 2001.4 1074.4 2002.1 1074.4 2002.7 1073.9 2003.4 1074.1 2004.1 1074 2004.8 1075 2005.5 1075.1 2006.1 1075.3 2006.8 1074.9 2007.5 1075 2008.2 1074.9 2008.9 1074.8 2009.5 1074.6 2010.2 1075.2 2010.9 1075.3 2011.6 1075 2012.3 1074.6 2012.9 1075.1 2013.6 1075.3 2014.3 1075.9 2015 1075.3 2015.6 1075.7 2016.3 1074.9 2017 1074.9 2017.7 1074.4 2018.4 1074.3 2019 1074.8" stroke="#2ac4c4" stroke-width="4" stroke-linejoin="round" fill="none" opacity="0.95"/>
<path d="M1174.9 1074.8 1175.6 1074.8 1176.3 1075 1177 1075.1 1177.7 1075.4 1178.3 1075.1 1179 1075.3 1179.7 1075.4 1180.4 1075.4 1181.1 1075.3 1181.7 1074.9 1182.4 1074.6 1183.1 1074.5 1183.8 1074.7 1184.5 1074.8 1185.1 1074.9 1185.8 1074.9 1186.5 1074.8 1187.2 1074.4 1187.9 1074.5 1188.5 1074.7 1189.2 1074.9 1189.9 1074.8 1190.6 1074.8 1191.2 1075 1191.9 1074.5 1192.6 1074.2 1193.3 1074.1 1194 1074.7 1194.6 1074.8 1195.3 1074.9 1196 1074.3 1196.7 1074.4 1197.4 1074.5 1198 1074.3 1198.7 1073.9 1199.4 1073.9 1200.1 1074.4 1200.8 1074.8 1201.4 1074.9 1202.1 1075.1 1202.8 1074.8 1203.5 1074.5 1204.1 1074.6 1204.8 1074.8 1205.5 1074.8 1206.2 1074.8 1206.9 1074.9 1207.5 1074.7 1208.2 1074.4 1208.9 1074.1 1209.6 1074.5 1210.3 1074.3 1210.9 1074.8 1211.6 1074.3 1212.3 1074.7 1213 1074.2 1213.7 1074.4 1214.3 1074.6 1215 1075.1 1215.7 1075.5 1216.4 1075.3 1217.1 1075 1217.7 1074.8 1218.4 1075 1219.1 1074.9 1219.8 1075 1220.4 1075 1221.1 1075.3 1221.8 1075.2 1222.5 1075.2 1223.2 1074.9 1223.8 1074.7 1224.5 1074.3 1225.2 1074.4 1225.9 1074.4 1226.6 1074.9 1227.2 1074.7 1227.9 1075.3 1228.6 1075.2 1229.3 1075.7 1230 1075.2 1230.6 1074.7 1231.3 1074.4 1232 1074.5 1232.7 1074.5 1233.3 1074.7 1234 1074.3 1234.7 1074.7 1235.4 1074.6 1236.1 1074.4 1236.7 1074.5 1237.4 1074.3 1238.1 1074.5 1238.8 1074.6 1239.5 1075.5 1240.1 1075.7 1240.8 1075.7 1241.5 1075 1242.2 1074.7 1242.9 1074.7 1243.5 1075 1244.2 1075.2 1244.9 1075.3 1245.6 1075 1246.3 1075.4 1246.9 1074.9 1247.6 1075.1 1248.3 1074.7 1249 1075.1 1249.6 1074.7 1250.3 1074.4 1251 1074.3 1251.7 1074.5 1252.4 1074.5 1253 1074.3 1253.7 1074.4 1254.4 1074.9 1255.1 1075 1255.8 1074.7 1256.4 1074.4 1257.1 1075 1257.8 1075.2 1258.5 1075.4 1259.2 1075.1 1259.8 1075.5 1260.5 1075.7 1261.2 1075.3 1261.9 1074.9 1262.6 1074.6 1263.2 1075 1263.9 1074.9 1264.6 1075.1 1265.3 1075.2 1265.9 1075.8 1266.6 1076.2 1267.3 1076.5 1268 1076.4 1268.7 1076.6 1269.3 1077.3 1270 1077.9 1270.7 1078 1271.4 1077.1 1272.1 1076.8 1272.7 1076.4 1273.4 1076.7 1274.1 1076.2 1274.8 1076 1275.5 1075.6 1276.1 1076.1 1276.8 1076 1277.5 1075.9 1278.2 1075.2 1278.8 1074.9 1279.5 1074.9 1280.2 1074.8 1280.9 1074.8 1281.6 1074.9 1282.2 1075.2 1282.9 1075.2 1283.6 1075.3 1284.3 1075.2 1285 1074.9 1285.6 1074.3 1286.3 1074.1 1287 1074.3 1287.7 1074.7 1288.4 1075.1 1289 1075 1289.7 1074.7 1290.4 1074.7 1291.1 1075 1291.8 1075.1 1292.4 1075 1293.1 1075 1293.8 1075.2 1294.5 1075.1 1295.1 1074.4 1295.8 1074.6 1296.5 1074.8 1297.2 1075.2 1297.9 1074.8 1298.5 1074.5 1299.2 1074.4 1299.9 1074.5 1300.6 1075 1301.3 1074.7 1301.9 1075 1302.6 1074.8 1303.3 1075.3 1304 1074.9 1304.7 1075 1305.3 1075.1 1306 1075.4 1306.7 1075.2 1307.4 1075.1 1308 1075.5 1308.7 1075.9 1309.4 1076.1 1310.1 1076.4 1310.8 1076.9 1311.4 1077.6 1312.1 1077.5 1312.8 1077.3 1313.5 1076.8 1314.2 1077.1 1314.8 1076.9 1315.5 1076.7 1316.2 1076 1316.9 1075.6 1317.6 1075.5 1318.2 1075.2 1318.9 1075.2 1319.6 1074.5 1320.3 1073.9 1321 1073.1 1321.6 1073.3 1322.3 1073.4 1323 1073.8 1323.7 1073.9 1324.3 1073.6 1325 1073.1 1325.7 1072.6 1326.4 1072.6 1327.1 1072.1 1327.7 1071.9 1328.4 1071.2 1329.1 1071.1 1329.8 1070.9 1330.5 1070.7 1331.1 1070.6 1331.8 1070.6 1332.5 1070.9 1333.2 1071.3 1333.9 1071.4 1334.5 1071.8 1335.2 1072.1 1335.9 1072.6 1336.6 1072.9 1337.2 1073.6 1337.9 1074 1338.6 1074.4 1339.3 1074.3 1340 1074.2 1340.6 1074.1 1341.3 1074.9 1342 1074.9 1342.7 1075.2 1343.4 1075 1344 1074.8 1344.7 1074.6 1345.4 1074.4 1346.1 1074.7 1346.8 1075 1347.4 1075.6 1348.1 1077 1348.8 1078.7 1349.5 1080.5 1350.2 1082.1 1350.8 1083.4 1351.5 1084.9 1352.2 1085.6 1352.9 1085.5 1353.5 1084.4 1354.2 1082.7 1354.9 1080.9 1355.6 1078.8 1356.3 1077.1 1356.9 1075.9 1357.6 1075.3 1358.3 1074.9 1359 1074.8 1359.7 1074.4 1360.3 1074.1 1361 1074.2 1361.7 1073.7 1362.4 1073.8 1363.1 1073.2 1363.7 1073.4 1364.4 1072.9 1365.1 1072.6 1365.8 1072.1 1366.4 1071.8 1367.1 1071.8 1367.8 1071.7 1368.5 1072.1 1369.2 1072.4 1369.8 1072.2 1370.5 1071.8 1371.2 1071.8 1371.9 1072.8 1372.6 1073.3 1373.2 1073.6 1373.9 1073.9 1374.6 1074.2 1375.3 1074.7 1376 1074.7 1376.6 1074.8 1377.3 1074.3 1378 1074.3 1378.7 1074 1379.4 1074.6 1380 1075.2 1380.7 1075.6 1381.4 1075.1 1382.1 1074.7 1382.7 1074.7 1383.4 1075.3 1384.1 1075.9 1384.8 1076.6 1385.5 1076.8 1386.1 1077.8 1386.8 1078.6 1387.5 1080 1388.2 1081 1388.9 1081.7 1389.5 1081.7 1390.2 1081 1390.9 1080.4 1391.6 1079.9 1392.3 1079.4 1392.9 1078.3 1393.6 1077.1 1394.3 1076.4 1395 1075.8 1395.6 1075.8 1396.3 1075.3 1397 1075.3 1397.7 1074.9 1398.4 1074.9 1399 1074.7 1399.7 1074.6 1400.4 1074.5 1401.1 1074.5 1401.8 1074.7 1402.4 1074.7 1403.1 1074.8 1403.8 1074.7 1404.5 1074.6 1405.2 1075 1405.8 1075.1 1406.5 1075 1407.2 1074.6 1407.9 1074.7 1408.6 1074.8 1409.2 1074.8 1409.9 1074.7 1410.6 1074.7 1411.3 1074.8 1411.9 1075 1412.6 1074.6 1413.3 1074.3 1414 1073.7 1414.7 1074.2 1415.3 1074.6 1416 1075.4 1416.7 1075.3 1417.4 1075.3 1418.1 1075 1418.7 1075 1419.4 1074.4 1420.1 1074.3 1420.8 1074.2 1421.5 1074.7 1422.1 1075.2 1422.8 1075.2 1423.5 1075.1 1424.2 1074.8 1424.9 1074.8 1425.5 1074.3 1426.2 1074.1 1426.9 1074 1427.6 1074.3 1428.2 1074.4 1428.9 1074.7 1429.6 1074.7 1430.3 1074.8 1431 1074.7 1431.6 1074.9 1432.3 1074.4 1433 1074.6 1433.7 1074.5 1434.4 1074.7 1435 1074.4 1435.7 1074.4 1436.4 1074.5 1437.1 1074.9 1437.8 1075 1438.4 1075.1 1439.1 1074.9 1439.8 1075 1440.5 1075.1 1441.1 1074.9 1441.8 1074.7 1442.5 1074.7 1443.2 1075 1443.9 1075 1444.5 1074.8 1445.2 1074.8 1445.9 1074.5 1446.6 1074.3 1447.3 1074.5 1447.9 1074.6 1448.6 1074.9 1449.3 1074.4 1450 1074.6 1450.7 1074.4 1451.3 1075.2 1452 1075 1452.7 1075 1453.4 1074.6 1454.1 1075 1454.7 1074.8 1455.4 1074.6 1456.1 1074.6 1456.8 1074.8 1457.4 1074.9 1458.1 1074.6 1458.8 1074.6 1459.5 1074.4 1460.2 1074.4 1460.8 1074.3 1461.5 1074.9 1462.2 1074.9 1462.9 1075 1463.6 1074.7 1464.2 1074.8 1464.9 1075.2 1465.6 1075 1466.3 1075.1 1467 1074.8 1467.6 1074.9 1468.3 1074.8 1469 1074.8 1469.7 1075.1 1470.3 1075 1471 1074.9 1471.7 1074.5 1472.4 1074.7 1473.1 1074.9 1473.7 1075.2 1474.4 1074.8 1475.1 1074.8 1475.8 1074.5 1476.5 1074.7 1477.1 1074.7 1477.8 1074.4 1478.5 1074.5 1479.2 1074.5 1479.9 1074.6 1480.5 1074.5 1481.2 1074.8 1481.9 1075 1482.6 1075.1 1483.3 1074.7 1483.9 1074.5 1484.6 1074 1485.3 1073.6 1486 1073.5 1486.6 1073.1 1487.3 1072.1 1488 1071.1 1488.7 1069.9 1489.4 1069.2 1490 1068.7 1490.7 1068.7 1491.4 1069.1 1492.1 1070.1 1492.8 1070.9 1493.4 1072.4 1494.1 1072.6 1494.8 1073.6 1495.5 1073.9 1496.2 1074.4 1496.8 1074.1 1497.5 1074.2 1498.2 1074.3 1498.9 1074.6 1499.5 1074.6 1500.2 1074.8 1500.9 1074.8 1501.6 1074.9 1502.3 1074.5 1502.9 1074.7 1503.6 1074.8 1504.3 1075.5 1505 1075.6 1505.7 1075.5 1506.3 1075.3 1507 1075 1507.7 1075.1 1508.4 1074.7 1509.1 1074.8 1509.7 1074.8 1510.4 1074.9 1511.1 1075.3 1511.8 1074.8 1512.5 1074.8 1513.1 1074.4 1513.8 1074.7 1514.5 1074.3 1515.2 1074.5 1515.8 1074.6 1516.5 1074.8 1517.2 1074.4 1517.9 1074.2 1518.6 1074.6 1519.2 1074.9 1519.9 1075 1520.6 1074.8 1521.3 1074.8 1522 1074.9 1522.6 1075 1523.3 1075 1524 1075.2 1524.7 1074.8 1525.4 1074.7 1526 1074.5 1526.7 1074.8 1527.4 1074.7 1528.1 1074.7 1528.7 1074.6 1529.4 1074.8 1530.1 1074.8 1530.8 1074.6 1531.5 1074.6 1532.1 1074.9 1532.8 1075 1533.5 1075 1534.2 1074.6 1534.9 1074.6 1535.5 1074.8 1536.2 1075.1 1536.9 1075.2 1537.6 1074.9 1538.3 1074.5 1538.9 1074.5 1539.6 1074.6 1540.3 1075.2 1541 1075.5 1541.7 1075.5 1542.3 1075.5 1543 1074.8 1543.7 1075 1544.4 1075 1545 1075.5 1545.7 1075.4 1546.4 1075.3 1547.1 1075.3 1547.8 1075 1548.4 1075.1 1549.1 1075 1549.8 1075 1550.5 1074.6 1551.2 1074.5 1551.8 1074.7 1552.5 1075 1553.2 1075.1 1553.9 1074.9 1554.6 1074.8 1555.2 1074.9 1555.9 1075 1556.6 1074.9 1557.3 1074.5 1558 1074.7 1558.6 1075.1 1559.3 1075.1 1560 1075.1 1560.7 1074.9 1561.3 1075 1562 1074.8 1562.7 1074.4 1563.4 1074.4 1564.1 1074.5 1564.7 1074.8 1565.4 1075 1566.1 1075.1 1566.8 1075 1567.5 1074.8 1568.1 1074.9 1568.8 1075.1 1569.5 1075.2 1570.2 1075.2 1570.9 1075.1 1571.5 1075.3 1572.2 1075.3 1572.9 1074.7 1573.6 1074.4 1574.2 1074.2 1574.9 1074.6 1575.6 1074.7 1576.3 1074.9 1577 1075 1577.6 1075 1578.3 1074.5 1579 1074.6 1579.7 1075.2 1580.4 1074.9 1581 1074.8 1581.7 1074.4 1582.4 1074.4 1583.1 1074.4 1583.8 1074.1 1584.4 1074.4 1585.1 1074.7 1585.8 1075.1 1586.5 1075.4 1587.2 1075.2 1587.8 1075.2 1588.5 1075.2 1589.2 1074.8 1589.9 1074.7 1590.5 1074.7 1591.2 1074.8 1591.9 1074.8 1592.6 1074.8 1593.3 1075.3 1593.9 1075.2 1594.6 1074.8 1595.3 1074.7 1596 1074.8 1596.7 1074.9 1597.3 1074.9 1598 1074.9 1598.7 1075.1 1599.4 1075.5 1600.1 1075.7 1600.7 1075.8 1601.4 1075.4 1602.1 1075.8 1602.8 1075.8 1603.4 1075.5 1604.1 1075 1604.8 1074.8 1605.5 1074.8 1606.2 1074.8 1606.8 1074.8 1607.5 1074.9 1608.2 1074.8 1608.9 1074.9 1609.6 1074.6 1610.2 1074.8 1610.9 1074.7 1611.6 1075 1612.3 1074.4 1613 1074.7 1613.6 1074.4 1614.3 1074.6 1615 1074.4 1615.7 1074.7 1616.4 1074.8 1617 1074.2 1617.7 1074.2 1618.4 1074.3 1619.1 1074.9 1619.7 1074.9 1620.4 1074.9 1621.1 1074.9 1621.8 1074.8 1622.5 1074.6 1623.1 1074.9 1623.8 1074.9 1624.5 1075.3 1625.2 1074.9 1625.9 1075.4 1626.5 1075 1627.2 1075 1627.9 1074.6 1628.6 1074.4 1629.3 1073.9 1629.9 1072.8 1630.6 1071.7 1631.3 1070.1 1632 1068.8 1632.6 1067.1 1633.3 1065.5 1634 1064.6 1634.7 1064.6 1635.4 1065.4 1636 1067.1 1636.7 1068.9 1637.4 1070.9 1638.1 1071.9 1638.8 1072.9 1639.4 1073.7 1640.1 1074.1 1640.8 1074.5 1641.5 1074.5 1642.2 1074.8 1642.8 1074.7 1643.5 1074.5 1644.2 1074.7 1644.9 1074.4 1645.6 1074.4 1646.2 1074.6 1646.9 1074.7 1647.6 1074.5 1648.3 1074.5 1648.9 1074.5 1649.6 1074.2 1650.3 1074 1651 1074.3 1651.7 1075.1 1652.3 1075.4 1653 1075.2 1653.7 1075.3 1654.4 1074.7 1655.1 1074.8 1655.7 1075 1656.4 1075.3 1657.1 1075.3 1657.8 1074.6 1658.5 1074.4 1659.1 1074.1 1659.8 1074.7 1660.5 1074.6 1661.2 1074.9 1661.8 1074.6 1662.5 1075.1 1663.2 1074.8 1663.9 1075 1664.6 1075.1 1665.2 1075.4 1665.9 1075.2 1666.6 1074.8 1667.3 1075 1668 1075.3 1668.6 1074.8 1669.3 1074.7 1670 1074.1 1670.7 1074.8 1671.4 1074.8 1672 1075.1 1672.7 1074.9 1673.4 1075 1674.1 1074.8 1674.8 1075 1675.4 1074.9 1676.1 1074.8 1676.8 1074.7 1677.5 1075.1 1678.1 1075.7 1678.8 1075.5 1679.5 1075 1680.2 1074.9 1680.9 1075.2 1681.5 1075.5 1682.2 1075.7 1682.9 1075.2 1683.6 1075.2 1684.3 1075.1 1684.9 1074.9 1685.6 1074.4 1686.3 1074.1 1687 1074.4 1687.7 1074.8 1688.3 1074.9 1689 1074.9 1689.7 1074.8 1690.4 1074.8 1691 1074.9 1691.7 1075.1 1692.4 1075 1693.1 1075 1693.8 1074.8 1694.4 1075 1695.1 1074.8 1695.8 1075.2 1696.5 1075.1 1697.2 1075.2 1697.8 1074.7 1698.5 1074.7 1699.2 1074.6 1699.9 1074.8 1700.6 1074.7 1701.2 1074.5 1701.9 1074.5 1702.6 1074.6 1703.3 1075 1704 1075.2 1704.6 1075.1 1705.3 1074.6 1706 1074.3 1706.7 1074 1707.3 1074.2 1708 1074.4 1708.7 1074.9 1709.4 1075 1710.1 1074.7 1710.7 1074.6 1711.4 1074.3 1712.1 1074.6 1712.8 1074.5 1713.5 1075.2 1714.1 1074.9 1714.8 1075.2 1715.5 1074.7 1716.2 1075.1 1716.9 1074.7 1717.5 1075 1718.2 1074.7 1718.9 1074.7 1719.6 1074.6 1720.3 1074.7 1720.9 1075 1721.6 1075.3 1722.3 1075.4 1723 1074.8 1723.6 1074.4 1724.3 1073.8 1725 1074.3 1725.7 1074.5 1726.4 1074.6 1727 1074.5 1727.7 1074.4 1728.4 1074.6 1729.1 1075.1 1729.8 1075.2 1730.4 1075.3 1731.1 1075.4 1731.8 1075.2 1732.5 1075.1 1733.2 1074.5 1733.8 1074.7 1734.5 1074.9 1735.2 1075.4 1735.9 1075.3 1736.5 1075 1737.2 1074.5 1737.9 1074.3 1738.6 1074.4 1739.3 1074.9 1739.9 1074.7 1740.6 1074.2 1741.3 1074.2 1742 1074.4 1742.7 1074.9 1743.3 1074.3 1744 1074.8 1744.7 1074.9 1745.4 1075.2 1746.1 1075.2 1746.7 1075 1747.4 1075.1 1748.1 1075.3 1748.8 1075.5 1749.5 1075.3 1750.1 1074.8 1750.8 1074.5 1751.5 1074.6 1752.2 1074.8 1752.8 1074.7 1753.5 1074.9 1754.2 1074.9 1754.9 1075 1755.6 1074.9 1756.2 1075 1756.9 1074.7 1757.6 1075 1758.3 1075 1759 1075.3 1759.6 1075.1 1760.3 1075.3 1761 1075.3 1761.7 1075.3 1762.4 1075 1763 1074.5 1763.7 1074.5 1764.4 1074.5 1765.1 1074.8 1765.7 1075.2 1766.4 1074.9 1767.1 1075 1767.8 1074.7 1768.5 1075.3 1769.1 1075.5 1769.8 1075 1770.5 1074.6 1771.2 1074.5 1771.9 1074.7 1772.5 1075.3 1773.2 1075.2 1773.9 1075.3 1774.6 1075 1775.3 1074.9 1775.9 1074.9 1776.6 1074.7 1777.3 1074.7 1778 1074.6 1778.7 1074.8 1779.3 1074.5 1780 1074.3 1780.7 1074.4 1781.4 1074.7 1782 1074.8 1782.7 1074.7 1783.4 1074.4 1784.1 1075 1784.8 1074.7 1785.4 1075.3 1786.1 1074.7 1786.8 1075.1 1787.5 1074.7 1788.2 1074.8 1788.8 1074.9 1789.5 1075.1 1790.2 1075.1 1790.9 1074.8 1791.6 1075 1792.2 1075.4 1792.9 1075.6 1793.6 1075.1 1794.3 1074.9 1794.9 1074.9 1795.6 1075.2 1796.3 1074.9 1797 1074.9 1797.7 1074.5 1798.3 1074.9 1799 1075.2 1799.7 1075.3 1800.4 1075 1801.1 1074.8 1801.7 1074.5 1802.4 1073.9 1803.1 1073.5 1803.8 1073.3 1804.5 1073 1805.1 1072.6 1805.8 1072.1 1806.5 1071.4 1807.2 1070.9 1807.9 1070.6 1808.5 1071.3 1809.2 1071.3 1809.9 1071.5 1810.6 1071.5 1811.2 1071.9 1811.9 1072.1 1812.6 1072.5 1813.3 1072.9 1814 1073.8 1814.6 1074.6 1815.3 1074.7 1816 1074.5 1816.7 1074 1817.4 1074.2 1818 1074.3 1818.7 1074.5 1819.4 1074.9 1820.1 1074.8 1820.8 1074.5 1821.4 1073.9 1822.1 1074.4 1822.8 1075 1823.5 1075 1824.1 1074.5 1824.8 1074.2 1825.5 1074.8 1826.2 1075.3 1826.9 1075.3 1827.5 1075.2 1828.2 1075.1 1828.9 1074.9 1829.6 1075.2 1830.3 1075.1 1830.9 1075 1831.6 1074.5 1832.3 1074.2 1833 1074.5 1833.7 1074.8 1834.3 1074.8 1835 1075 1835.7 1075.2 1836.4 1075.6 1837.1 1075.1 1837.7 1074.5 1838.4 1074.4 1839.1 1074.4 1839.8 1074.3 1840.4 1074.3 1841.1 1074.5 1841.8 1074.9 1842.5 1074.7 1843.2 1075.1 1843.8 1075.2 1844.5 1075.6 1845.2 1075.1 1845.9 1075.3 1846.6 1075 1847.2 1075.5 1847.9 1075.4 1848.6 1075.3 1849.3 1074.8 1850 1075 1850.6 1075.3 1851.3 1075.4 1852 1075.1 1852.7 1074.9 1853.3 1074.8 1854 1074.7 1854.7 1074.5 1855.4 1074.6 1856.1 1074.7 1856.7 1074.7 1857.4 1074.9 1858.1 1074.8 1858.8 1075.2 1859.5 1075.2 1860.1 1075.4 1860.8 1075.4 1861.5 1075.4 1862.2 1075.1 1862.9 1075.1 1863.5 1074.8 1864.2 1074.7 1864.9 1074.8 1865.6 1074.9 1866.3 1075.1 1866.9 1074.7 1867.6 1075 1868.3 1074.8 1869 1075.1 1869.6 1074.8 1870.3 1075.1 1871 1075 1871.7 1074.8 1872.4 1074.2 1873 1074.2 1873.7 1074.2 1874.4 1074.7 1875.1 1075 1875.8 1074.8 1876.4 1074.4 1877.1 1074.2 1877.8 1074.9 1878.5 1075.2 1879.2 1075.2 1879.8 1075.1 1880.5 1075.1 1881.2 1075.4 1881.9 1075.4 1882.6 1075.1 1883.2 1074.6 1883.9 1074.6 1884.6 1074.6 1885.3 1074.7 1885.9 1074.5 1886.6 1074.6 1887.3 1074.7 1888 1074.8 1888.7 1074.7 1889.3 1074.4 1890 1074.5 1890.7 1075.1 1891.4 1075.3 1892.1 1075.6 1892.7 1075.3 1893.4 1074.8 1894.1 1074.6 1894.8 1074.3 1895.5 1074.5 1896.1 1074.2 1896.8 1074.7 1897.5 1074.7 1898.2 1074.8 1898.8 1074.6 1899.5 1075.1 1900.2 1074.9 1900.9 1074.6 1901.6 1074.4 1902.2 1074.7 1902.9 1074.9 1903.6 1074.9 1904.3 1074.8 1905 1075 1905.6 1074.7 1906.3 1074.7 1907 1074.5 1907.7 1074.6 1908.4 1074.6 1909 1074.2 1909.7 1074.5 1910.4 1074.5 1911.1 1074.9 1911.8 1075.1 1912.4 1075.2 1913.1 1075 1913.8 1074.8 1914.5 1074.8 1915.1 1074.7 1915.8 1074.8 1916.5 1074.9 1917.2 1075.3 1917.9 1074.8 1918.5 1074.9 1919.2 1075.2 1919.9 1075.6 1920.6 1075.1 1921.3 1074.7 1921.9 1074.6 1922.6 1074.9 1923.3 1074.8 1924 1075 1924.7 1074.8 1925.3 1074.9 1926 1074.7 1926.7 1074.8 1927.4 1074.9 1928 1075 1928.7 1075.1 1929.4 1074.7 1930.1 1074.7 1930.8 1074.6 1931.4 1075 1932.1 1074.9 1932.8 1075.2 1933.5 1074.6 1934.2 1074.8 1934.8 1074.7 1935.5 1075.1 1936.2 1075 1936.9 1074.5 1937.6 1074.6 1938.2 1074.5 1938.9 1074.9 1939.6 1074.6 1940.3 1074.9 1941 1075.2 1941.6 1075.6 1942.3 1075.8 1943 1075.1 1943.7 1074.8 1944.3 1074.6 1945 1074.9 1945.7 1075.1 1946.4 1074.8 1947.1 1074.8 1947.7 1074.6 1948.4 1074.8 1949.1 1075.1 1949.8 1074.8 1950.5 1074.9 1951.1 1074.6 1951.8 1074.4 1952.5 1074.1 1953.2 1073.9 1953.9 1074.5 1954.5 1075 1955.2 1075.3 1955.9 1075.2 1956.6 1074.6 1957.2 1074.5 1957.9 1074.3 1958.6 1075 1959.3 1075.3 1960 1075.8 1960.6 1075.7 1961.3 1075.6 1962 1074.9 1962.7 1074.8 1963.4 1074.4 1964 1074.8 1964.7 1074.5 1965.4 1074.7 1966.1 1074.4 1966.8 1074.5 1967.4 1074.7 1968.1 1074.7 1968.8 1074.9 1969.5 1074.6 1970.2 1075 1970.8 1074.8 1971.5 1075.2 1972.2 1075.4 1972.9 1075 1973.5 1074.6 1974.2 1074.1 1974.9 1074.8 1975.6 1074.9 1976.3 1075.1 1976.9 1074.7 1977.6 1074.9 1978.3 1074.6 1979 1074.9 1979.7 1074.2 1980.3 1074 1981 1074.2 1981.7 1074.9 1982.4 1075.1 1983.1 1075.1 1983.7 1075.3 1984.4 1075.7 1985.1 1075.2 1985.8 1075.1 1986.4 1075 1987.1 1074.7 1987.8 1074.7 1988.5 1074.6 1989.2 1075.2 1989.8 1075.3 1990.5 1075.2 1991.2 1074.9 1991.9 1074.6 1992.6 1074.9 1993.2 1074.9 1993.9 1074.9 1994.6 1074.9 1995.3 1075 1996 1075.3 1996.6 1075.2 1997.3 1074.9 1998 1074.3 1998.7 1074.5 1999.4 1074.6 2000 1074.9 2000.7 1074.6 2001.4 1074.4 2002.1 1074.4 2002.7 1073.9 2003.4 1074.1 2004.1 1074 2004.8 1075 2005.5 1075.1 2006.1 1075.3 2006.8 1074.9 2007.5 1075 2008.2 1074.9 2008.9 1074.8 2009.5 1074.6 2010.2 1075.2 2010.9 1075.3 2011.6 1075 2012.3 1074.6 2012.9 1075.1 2013.6 1075.3 2014.3 1075.9 2015 1075.3 2015.6 1075.7 2016.3 1074.9 2017 1074.9 2017.7 1074.4 2018.4 1074.3 2019 1074.8" stroke="#1f7f78" stroke-width="1.5" stroke-linejoin="round" fill="none" opacity="0.6"/>
<path d="M1222.1 1100.5V1108.5M1269.4 1100.5V1108.5M1312.5 1100.5V1108.5M1352.3 1100.5V1108.5M1389.6 1100.5V1108.5M1424.8 1100.5V1108.5M1458.2 1100.5V1108.5M1490.2 1100.5V1108.5M1521 1100.5V1108.5M1550.7 1100.5V1108.5M1607.3 1100.5V1108.5M1634.4 1100.5V1108.5M1660.9 1100.5V1108.5M1686.7 1100.5V1108.5M1712 1100.5V1108.5M1736.8 1100.5V1108.5M1761.1 1100.5V1108.5M1785 1100.5V1108.5M1808.6 1100.5V1108.5M1831.7 1100.5V1108.5M1854.6 1100.5V1108.5M1877.1 1100.5V1108.5M1899.4 1100.5V1108.5M1921.4 1100.5V1108.5M1943.2 1100.5V1108.5M1986.1 1100.5V1108.5M2007.3 1100.5V1108.5" stroke="#4b3fd6" stroke-width="5" stroke-linecap="round" fill="none"/>
<rect x="1878" y="655" width="168.4" height="125" rx="5" fill="#fff" stroke="#e4e4e4" stroke-width="2.2"/>
<ellipse cx="1911" cy="671" rx="6.2" ry="5" fill="#ec0010"/>
<path d="M1887 700.8H1934.5" stroke="#3a3a3a" stroke-width="4.4" stroke-linecap="round"/>
<path d="M1887 730.5H1934.5" stroke="#6cc8c8" stroke-width="4.4" stroke-linecap="round"/>
<g class="lg"><text transform="translate(1951.2 679.2) scale(0.969 1)" font-size="20.6">obs</text><text transform="translate(1951.2 708.9) scale(1.000 1)" font-size="20.8">calc</text><text transform="translate(1951.2 737.8) scale(0.974 1)" font-size="19.7">diff</text></g></g>
<g filter="url(#bl2)"><g class="ti">
<text transform="translate(1400.9 718.9) scale(0.907 1)" font-size="42.7">G</text>
<text transform="translate(1432.6 718.6) scale(0.967 1)" font-size="36.0">d</text>
<text transform="translate(1455.6 721.4) scale(0.840 1)" font-size="26.7">2</text>
<text transform="translate(1468.2 718.5) scale(0.975 1)" font-size="40.9">O</text>
<text transform="translate(1497.4 721.1) scale(1.066 1)" font-size="26.3">3</text>
<rect x="1521.2" y="707.7" width="11.4" height="3.6" fill="#111"/>
<text transform="translate(1541.7 717.1) scale(1.081 1)" font-size="36.6">Sphere</text>
<text transform="translate(1679.2 718.3) scale(0.902 1)" font-size="42.3">NP</text>
<text transform="translate(1735.4 720.7) scale(1.136 1)" font-size="39.2">s</text>
</g></g>
<g filter="url(#bl3)"><text class="lt" transform="translate(1163.3 709.4) scale(1.146 1)" font-size="34.8">(d)</text></g>
<text class="yl" transform="translate(1095.3 1030.2) rotate(-90) scale(0.9717 1)" font-size="45.0">Intensity (a.u.)</text>
<text class="xl" x="1568.1" y="1212.2" font-size="45.0" font-weight="bold">2</text><text class="xl" transform="translate(1591.7 1212.2) scale(1.1 1)" font-size="45.0" font-style="italic">θ</text>
</svg>
</body></html>
